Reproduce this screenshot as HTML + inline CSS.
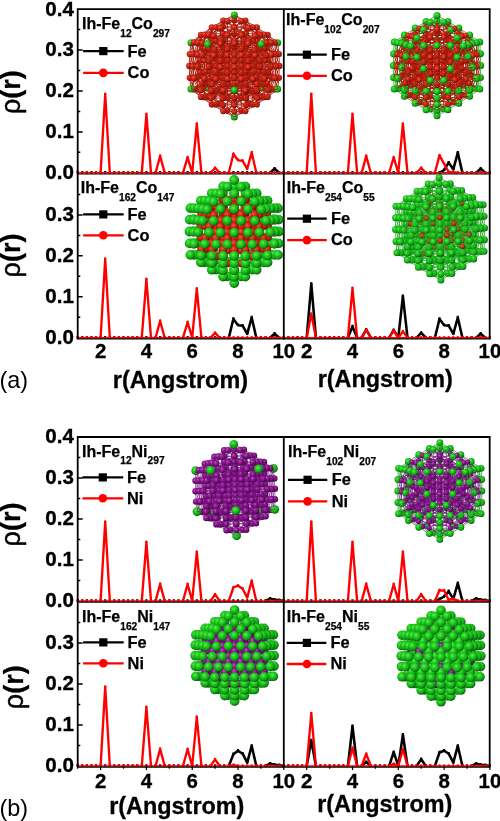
<!DOCTYPE html>
<html lang="en"><head><meta charset="utf-8"><title>Radial density of Ih Fe-Co and Fe-Ni nanoparticles</title>
<style>html,body{margin:0;padding:0;background:#fff}svg{display:block}</style></head>
<body>
<svg width="500" height="821" viewBox="0 0 500 821">
<rect width="500" height="821" fill="#fff"/>
<defs>
<radialGradient id="gG" cx="40%" cy="36%" r="64%"><stop offset="0" stop-color="#5cee54"/><stop offset=".4" stop-color="#20cb20"/><stop offset=".78" stop-color="#109a12"/><stop offset="1" stop-color="#06560a"/></radialGradient>
<radialGradient id="gR" cx="40%" cy="36%" r="64%"><stop offset="0" stop-color="#f4583a"/><stop offset=".4" stop-color="#d62c18"/><stop offset=".78" stop-color="#a5170c"/><stop offset="1" stop-color="#5c0a05"/></radialGradient>
<radialGradient id="gP" cx="40%" cy="36%" r="64%"><stop offset="0" stop-color="#c655c6"/><stop offset=".4" stop-color="#8f1a93"/><stop offset=".78" stop-color="#680c6e"/><stop offset="1" stop-color="#36033a"/></radialGradient>
</defs>
<g>
<path d="M76.6 171.1h2.2v2.6h-2.2zM81.2 171.1h2.2v2.6h-2.2zM85.8 171.1h2.2v2.6h-2.2zM90.3 171.1h2.2v2.6h-2.2zM94.9 171.1h2.2v2.6h-2.2zM99.5 171.1h2.2v2.6h-2.2zM104.1 171.1h2.2v2.6h-2.2zM108.7 171.1h2.2v2.6h-2.2zM113.2 171.1h2.2v2.6h-2.2zM117.8 171.1h2.2v2.6h-2.2zM122.4 171.1h2.2v2.6h-2.2zM127 171.1h2.2v2.6h-2.2zM131.6 171.1h2.2v2.6h-2.2zM136.1 171.1h2.2v2.6h-2.2zM140.7 171.1h2.2v2.6h-2.2zM145.3 171.1h2.2v2.6h-2.2zM149.9 171.1h2.2v2.6h-2.2zM154.5 171.1h2.2v2.6h-2.2zM159 171.1h2.2v2.6h-2.2zM163.6 171.1h2.2v2.6h-2.2zM168.2 171.1h2.2v2.6h-2.2zM172.8 171.1h2.2v2.6h-2.2zM177.4 171.1h2.2v2.6h-2.2zM181.9 171.1h2.2v2.6h-2.2zM186.5 171.1h2.2v2.6h-2.2zM191.1 171.1h2.2v2.6h-2.2zM195.7 171.1h2.2v2.6h-2.2zM200.3 171.1h2.2v2.6h-2.2zM204.8 171.1h2.2v2.6h-2.2zM209.4 171.1h2.2v2.6h-2.2zM214 171.1h2.2v2.6h-2.2zM218.6 171.1h2.2v2.6h-2.2zM223.2 171.1h2.2v2.6h-2.2zM227.7 171.1h2.2v2.6h-2.2zM232.3 171.1h2.2v2.6h-2.2zM236.9 171.1h2.2v2.6h-2.2zM241.5 171.1h2.2v2.6h-2.2zM246.1 171.1h2.2v2.6h-2.2zM250.6 171.1h2.2v2.6h-2.2zM255.2 171.1h2.2v2.6h-2.2zM259.8 171.1h2.2v2.6h-2.2zM264.4 171.1h2.2v2.6h-2.2zM269 171.1h2.2v2.6h-2.2zM273.5 167.1h2.2v2.6h-2.2zM278.1 171.1h2.2v2.6h-2.2zM282.7 171.1h2.2v2.6h-2.2z" fill="#000"/><path d="M270.1 172.8L274.6 168.8L279.2 172.8" fill="none" stroke="#000" stroke-width="2.55" stroke-linejoin="round"/>
<path d="M78.5 172.8H282.8" stroke="#f00" stroke-width="1.5"/><path d="M76.5 172.3a1.25 1.25 0 1 0 2.5 0a1.25 1.25 0 1 0 -2.5 0zM81 172.3a1.25 1.25 0 1 0 2.5 0a1.25 1.25 0 1 0 -2.5 0zM85.6 172.3a1.25 1.25 0 1 0 2.5 0a1.25 1.25 0 1 0 -2.5 0zM90.2 172.3a1.25 1.25 0 1 0 2.5 0a1.25 1.25 0 1 0 -2.5 0zM94.8 172.3a1.25 1.25 0 1 0 2.5 0a1.25 1.25 0 1 0 -2.5 0zM99.3 172.3a1.25 1.25 0 1 0 2.5 0a1.25 1.25 0 1 0 -2.5 0zM103.9 93.7a1.25 1.25 0 1 0 2.5 0a1.25 1.25 0 1 0 -2.5 0zM108.5 172.3a1.25 1.25 0 1 0 2.5 0a1.25 1.25 0 1 0 -2.5 0zM113.1 172.3a1.25 1.25 0 1 0 2.5 0a1.25 1.25 0 1 0 -2.5 0zM117.7 172.3a1.25 1.25 0 1 0 2.5 0a1.25 1.25 0 1 0 -2.5 0zM122.2 172.3a1.25 1.25 0 1 0 2.5 0a1.25 1.25 0 1 0 -2.5 0zM126.8 172.3a1.25 1.25 0 1 0 2.5 0a1.25 1.25 0 1 0 -2.5 0zM131.4 172.3a1.25 1.25 0 1 0 2.5 0a1.25 1.25 0 1 0 -2.5 0zM136 172.3a1.25 1.25 0 1 0 2.5 0a1.25 1.25 0 1 0 -2.5 0zM140.6 172.3a1.25 1.25 0 1 0 2.5 0a1.25 1.25 0 1 0 -2.5 0zM145.1 113.8a1.25 1.25 0 1 0 2.5 0a1.25 1.25 0 1 0 -2.5 0zM149.7 172.3a1.25 1.25 0 1 0 2.5 0a1.25 1.25 0 1 0 -2.5 0zM154.3 172.3a1.25 1.25 0 1 0 2.5 0a1.25 1.25 0 1 0 -2.5 0zM158.9 155.6a1.25 1.25 0 1 0 2.5 0a1.25 1.25 0 1 0 -2.5 0zM163.5 172.3a1.25 1.25 0 1 0 2.5 0a1.25 1.25 0 1 0 -2.5 0zM168.1 172.3a1.25 1.25 0 1 0 2.5 0a1.25 1.25 0 1 0 -2.5 0zM172.6 172.3a1.25 1.25 0 1 0 2.5 0a1.25 1.25 0 1 0 -2.5 0zM177.2 172.3a1.25 1.25 0 1 0 2.5 0a1.25 1.25 0 1 0 -2.5 0zM181.8 172.3a1.25 1.25 0 1 0 2.5 0a1.25 1.25 0 1 0 -2.5 0zM186.4 156.9a1.25 1.25 0 1 0 2.5 0a1.25 1.25 0 1 0 -2.5 0zM190.9 172.3a1.25 1.25 0 1 0 2.5 0a1.25 1.25 0 1 0 -2.5 0zM195.5 123.4a1.25 1.25 0 1 0 2.5 0a1.25 1.25 0 1 0 -2.5 0zM200.1 172.3a1.25 1.25 0 1 0 2.5 0a1.25 1.25 0 1 0 -2.5 0zM204.7 172.3a1.25 1.25 0 1 0 2.5 0a1.25 1.25 0 1 0 -2.5 0zM209.3 172.3a1.25 1.25 0 1 0 2.5 0a1.25 1.25 0 1 0 -2.5 0zM213.8 167.5a1.25 1.25 0 1 0 2.5 0a1.25 1.25 0 1 0 -2.5 0zM218.4 172.3a1.25 1.25 0 1 0 2.5 0a1.25 1.25 0 1 0 -2.5 0zM223 172.3a1.25 1.25 0 1 0 2.5 0a1.25 1.25 0 1 0 -2.5 0zM227.6 172.3a1.25 1.25 0 1 0 2.5 0a1.25 1.25 0 1 0 -2.5 0zM232.2 153.5a1.25 1.25 0 1 0 2.5 0a1.25 1.25 0 1 0 -2.5 0zM236.8 159.8a1.25 1.25 0 1 0 2.5 0a1.25 1.25 0 1 0 -2.5 0zM241.3 160.3a1.25 1.25 0 1 0 2.5 0a1.25 1.25 0 1 0 -2.5 0zM245.9 168.4a1.25 1.25 0 1 0 2.5 0a1.25 1.25 0 1 0 -2.5 0zM250.5 152.1a1.25 1.25 0 1 0 2.5 0a1.25 1.25 0 1 0 -2.5 0zM255.1 172.3a1.25 1.25 0 1 0 2.5 0a1.25 1.25 0 1 0 -2.5 0zM259.6 172.3a1.25 1.25 0 1 0 2.5 0a1.25 1.25 0 1 0 -2.5 0zM264.2 172.3a1.25 1.25 0 1 0 2.5 0a1.25 1.25 0 1 0 -2.5 0zM268.8 172.3a1.25 1.25 0 1 0 2.5 0a1.25 1.25 0 1 0 -2.5 0zM273.4 172.3a1.25 1.25 0 1 0 2.5 0a1.25 1.25 0 1 0 -2.5 0zM278 172.3a1.25 1.25 0 1 0 2.5 0a1.25 1.25 0 1 0 -2.5 0zM282.6 172.3a1.25 1.25 0 1 0 2.5 0a1.25 1.25 0 1 0 -2.5 0z" fill="#f00"/><path d="M100.6 172.8L105.2 94.2L109.8 172.8M141.8 172.8L146.4 114.3L151 172.8M155.6 172.8L160.1 156.1L164.7 172.8M183 172.8L187.6 157.4L192.2 172.8L196.8 123.9L201.4 172.8M210.5 172.8L215.1 168L219.7 172.8M228.8 172.8L233.4 154L238 160.3L242.6 160.8L247.2 168.9L251.7 152.6L256.3 172.8" fill="none" stroke="#f00" stroke-width="2.35" stroke-linejoin="round"/>
</g>
<g>
<path d="M282.7 171.1h2.2v2.6h-2.2zM287.3 171.1h2.2v2.6h-2.2zM291.9 171.1h2.2v2.6h-2.2zM296.4 171.1h2.2v2.6h-2.2zM301 171.1h2.2v2.6h-2.2zM305.6 171.1h2.2v2.6h-2.2zM310.2 171.1h2.2v2.6h-2.2zM314.8 171.1h2.2v2.6h-2.2zM319.3 171.1h2.2v2.6h-2.2zM323.9 171.1h2.2v2.6h-2.2zM328.5 171.1h2.2v2.6h-2.2zM333.1 171.1h2.2v2.6h-2.2zM337.7 171.1h2.2v2.6h-2.2zM342.2 171.1h2.2v2.6h-2.2zM346.8 171.1h2.2v2.6h-2.2zM351.4 171.1h2.2v2.6h-2.2zM356 171.1h2.2v2.6h-2.2zM360.6 171.1h2.2v2.6h-2.2zM365.1 171.1h2.2v2.6h-2.2zM369.7 171.1h2.2v2.6h-2.2zM374.3 171.1h2.2v2.6h-2.2zM378.9 171.1h2.2v2.6h-2.2zM383.5 171.1h2.2v2.6h-2.2zM388 171.1h2.2v2.6h-2.2zM392.6 171.1h2.2v2.6h-2.2zM397.2 171.1h2.2v2.6h-2.2zM401.8 171.1h2.2v2.6h-2.2zM406.4 171.1h2.2v2.6h-2.2zM410.9 171.1h2.2v2.6h-2.2zM415.5 171.1h2.2v2.6h-2.2zM420.1 171.1h2.2v2.6h-2.2zM424.7 171.1h2.2v2.6h-2.2zM429.3 171.1h2.2v2.6h-2.2zM433.8 171.1h2.2v2.6h-2.2zM438.4 171.1h2.2v2.6h-2.2zM443 168.5h2.2v2.6h-2.2zM447.6 160.9h2.2v2.6h-2.2zM452.2 167.6h2.2v2.6h-2.2zM456.7 150.9h2.2v2.6h-2.2zM461.3 171.1h2.2v2.6h-2.2zM465.9 171.1h2.2v2.6h-2.2zM470.5 171.1h2.2v2.6h-2.2zM475.1 171.1h2.2v2.6h-2.2zM479.6 167.1h2.2v2.6h-2.2zM484.2 171.1h2.2v2.6h-2.2zM488.8 171.1h2.2v2.6h-2.2z" fill="#000"/><path d="M439.5 172.8L444.1 170.2L448.7 162.6L453.3 169.3L457.8 152.6L462.4 172.8M476.2 172.8L480.7 168.8L485.3 172.8" fill="none" stroke="#000" stroke-width="2.55" stroke-linejoin="round"/>
<path d="M284.6 172.8H488.9" stroke="#f00" stroke-width="1.5"/><path d="M282.6 172.3a1.25 1.25 0 1 0 2.5 0a1.25 1.25 0 1 0 -2.5 0zM287.1 172.3a1.25 1.25 0 1 0 2.5 0a1.25 1.25 0 1 0 -2.5 0zM291.7 172.3a1.25 1.25 0 1 0 2.5 0a1.25 1.25 0 1 0 -2.5 0zM296.3 172.3a1.25 1.25 0 1 0 2.5 0a1.25 1.25 0 1 0 -2.5 0zM300.9 172.3a1.25 1.25 0 1 0 2.5 0a1.25 1.25 0 1 0 -2.5 0zM305.4 172.3a1.25 1.25 0 1 0 2.5 0a1.25 1.25 0 1 0 -2.5 0zM310 93.7a1.25 1.25 0 1 0 2.5 0a1.25 1.25 0 1 0 -2.5 0zM314.6 172.3a1.25 1.25 0 1 0 2.5 0a1.25 1.25 0 1 0 -2.5 0zM319.2 172.3a1.25 1.25 0 1 0 2.5 0a1.25 1.25 0 1 0 -2.5 0zM323.8 172.3a1.25 1.25 0 1 0 2.5 0a1.25 1.25 0 1 0 -2.5 0zM328.4 172.3a1.25 1.25 0 1 0 2.5 0a1.25 1.25 0 1 0 -2.5 0zM332.9 172.3a1.25 1.25 0 1 0 2.5 0a1.25 1.25 0 1 0 -2.5 0zM337.5 172.3a1.25 1.25 0 1 0 2.5 0a1.25 1.25 0 1 0 -2.5 0zM342.1 172.3a1.25 1.25 0 1 0 2.5 0a1.25 1.25 0 1 0 -2.5 0zM346.7 172.3a1.25 1.25 0 1 0 2.5 0a1.25 1.25 0 1 0 -2.5 0zM351.2 113.8a1.25 1.25 0 1 0 2.5 0a1.25 1.25 0 1 0 -2.5 0zM355.8 172.3a1.25 1.25 0 1 0 2.5 0a1.25 1.25 0 1 0 -2.5 0zM360.4 172.3a1.25 1.25 0 1 0 2.5 0a1.25 1.25 0 1 0 -2.5 0zM365 155.6a1.25 1.25 0 1 0 2.5 0a1.25 1.25 0 1 0 -2.5 0zM369.6 172.3a1.25 1.25 0 1 0 2.5 0a1.25 1.25 0 1 0 -2.5 0zM374.1 172.3a1.25 1.25 0 1 0 2.5 0a1.25 1.25 0 1 0 -2.5 0zM378.7 172.3a1.25 1.25 0 1 0 2.5 0a1.25 1.25 0 1 0 -2.5 0zM383.3 172.3a1.25 1.25 0 1 0 2.5 0a1.25 1.25 0 1 0 -2.5 0zM387.9 172.3a1.25 1.25 0 1 0 2.5 0a1.25 1.25 0 1 0 -2.5 0zM392.5 156.9a1.25 1.25 0 1 0 2.5 0a1.25 1.25 0 1 0 -2.5 0zM397.1 172.3a1.25 1.25 0 1 0 2.5 0a1.25 1.25 0 1 0 -2.5 0zM401.6 123.4a1.25 1.25 0 1 0 2.5 0a1.25 1.25 0 1 0 -2.5 0zM406.2 172.3a1.25 1.25 0 1 0 2.5 0a1.25 1.25 0 1 0 -2.5 0zM410.8 172.3a1.25 1.25 0 1 0 2.5 0a1.25 1.25 0 1 0 -2.5 0zM415.4 172.3a1.25 1.25 0 1 0 2.5 0a1.25 1.25 0 1 0 -2.5 0zM419.9 167.5a1.25 1.25 0 1 0 2.5 0a1.25 1.25 0 1 0 -2.5 0zM424.5 172.3a1.25 1.25 0 1 0 2.5 0a1.25 1.25 0 1 0 -2.5 0zM429.1 172.3a1.25 1.25 0 1 0 2.5 0a1.25 1.25 0 1 0 -2.5 0zM433.7 172.3a1.25 1.25 0 1 0 2.5 0a1.25 1.25 0 1 0 -2.5 0zM438.3 154.9a1.25 1.25 0 1 0 2.5 0a1.25 1.25 0 1 0 -2.5 0zM442.9 163.4a1.25 1.25 0 1 0 2.5 0a1.25 1.25 0 1 0 -2.5 0zM447.4 171.5a1.25 1.25 0 1 0 2.5 0a1.25 1.25 0 1 0 -2.5 0zM452 171.7a1.25 1.25 0 1 0 2.5 0a1.25 1.25 0 1 0 -2.5 0zM456.6 172.3a1.25 1.25 0 1 0 2.5 0a1.25 1.25 0 1 0 -2.5 0zM461.2 172.3a1.25 1.25 0 1 0 2.5 0a1.25 1.25 0 1 0 -2.5 0zM465.8 172.3a1.25 1.25 0 1 0 2.5 0a1.25 1.25 0 1 0 -2.5 0zM470.3 172.3a1.25 1.25 0 1 0 2.5 0a1.25 1.25 0 1 0 -2.5 0zM474.9 172.3a1.25 1.25 0 1 0 2.5 0a1.25 1.25 0 1 0 -2.5 0zM479.5 172.3a1.25 1.25 0 1 0 2.5 0a1.25 1.25 0 1 0 -2.5 0zM484.1 172.3a1.25 1.25 0 1 0 2.5 0a1.25 1.25 0 1 0 -2.5 0zM488.6 172.3a1.25 1.25 0 1 0 2.5 0a1.25 1.25 0 1 0 -2.5 0z" fill="#f00"/><path d="M306.7 172.8L311.3 94.2L315.9 172.8M347.9 172.8L352.5 114.3L357.1 172.8M361.7 172.8L366.2 156.1L370.8 172.8M389.1 172.8L393.7 157.4L398.3 172.8L402.9 123.9L407.5 172.8M416.6 172.8L421.2 168L425.8 172.8M434.9 172.8L439.5 155.4L444.1 163.9L448.7 172L453.3 172.2L457.8 172.8" fill="none" stroke="#f00" stroke-width="2.35" stroke-linejoin="round"/>
</g>
<g>
<path d="M76.6 336h2.2v2.6h-2.2zM81.2 336h2.2v2.6h-2.2zM85.8 336h2.2v2.6h-2.2zM90.3 336h2.2v2.6h-2.2zM94.9 336h2.2v2.6h-2.2zM99.5 336h2.2v2.6h-2.2zM104.1 336h2.2v2.6h-2.2zM108.7 336h2.2v2.6h-2.2zM113.2 336h2.2v2.6h-2.2zM117.8 336h2.2v2.6h-2.2zM122.4 336h2.2v2.6h-2.2zM127 336h2.2v2.6h-2.2zM131.6 336h2.2v2.6h-2.2zM136.1 336h2.2v2.6h-2.2zM140.7 336h2.2v2.6h-2.2zM145.3 336h2.2v2.6h-2.2zM149.9 336h2.2v2.6h-2.2zM154.5 336h2.2v2.6h-2.2zM159 336h2.2v2.6h-2.2zM163.6 336h2.2v2.6h-2.2zM168.2 336h2.2v2.6h-2.2zM172.8 336h2.2v2.6h-2.2zM177.4 336h2.2v2.6h-2.2zM181.9 336h2.2v2.6h-2.2zM186.5 336h2.2v2.6h-2.2zM191.1 336h2.2v2.6h-2.2zM195.7 336h2.2v2.6h-2.2zM200.3 336h2.2v2.6h-2.2zM204.8 336h2.2v2.6h-2.2zM209.4 336h2.2v2.6h-2.2zM214 336h2.2v2.6h-2.2zM218.6 336h2.2v2.6h-2.2zM223.2 336h2.2v2.6h-2.2zM227.7 336h2.2v2.6h-2.2zM232.3 317.2h2.2v2.6h-2.2zM236.9 323.5h2.2v2.6h-2.2zM241.5 324h2.2v2.6h-2.2zM246.1 332.1h2.2v2.6h-2.2zM250.6 315.8h2.2v2.6h-2.2zM255.2 336h2.2v2.6h-2.2zM259.8 336h2.2v2.6h-2.2zM264.4 336h2.2v2.6h-2.2zM269 336h2.2v2.6h-2.2zM273.5 332h2.2v2.6h-2.2zM278.1 336h2.2v2.6h-2.2zM282.7 336h2.2v2.6h-2.2z" fill="#000"/><path d="M228.8 337.7L233.4 318.9L238 325.2L242.6 325.7L247.2 333.8L251.7 317.5L256.3 337.7M270.1 337.7L274.6 333.7L279.2 337.7" fill="none" stroke="#000" stroke-width="2.55" stroke-linejoin="round"/>
<path d="M78.5 337.7H282.8" stroke="#f00" stroke-width="1.5"/><path d="M76.5 337.2a1.25 1.25 0 1 0 2.5 0a1.25 1.25 0 1 0 -2.5 0zM81 337.2a1.25 1.25 0 1 0 2.5 0a1.25 1.25 0 1 0 -2.5 0zM85.6 337.2a1.25 1.25 0 1 0 2.5 0a1.25 1.25 0 1 0 -2.5 0zM90.2 337.2a1.25 1.25 0 1 0 2.5 0a1.25 1.25 0 1 0 -2.5 0zM94.8 337.2a1.25 1.25 0 1 0 2.5 0a1.25 1.25 0 1 0 -2.5 0zM99.3 337.2a1.25 1.25 0 1 0 2.5 0a1.25 1.25 0 1 0 -2.5 0zM103.9 258.6a1.25 1.25 0 1 0 2.5 0a1.25 1.25 0 1 0 -2.5 0zM108.5 337.2a1.25 1.25 0 1 0 2.5 0a1.25 1.25 0 1 0 -2.5 0zM113.1 337.2a1.25 1.25 0 1 0 2.5 0a1.25 1.25 0 1 0 -2.5 0zM117.7 337.2a1.25 1.25 0 1 0 2.5 0a1.25 1.25 0 1 0 -2.5 0zM122.2 337.2a1.25 1.25 0 1 0 2.5 0a1.25 1.25 0 1 0 -2.5 0zM126.8 337.2a1.25 1.25 0 1 0 2.5 0a1.25 1.25 0 1 0 -2.5 0zM131.4 337.2a1.25 1.25 0 1 0 2.5 0a1.25 1.25 0 1 0 -2.5 0zM136 337.2a1.25 1.25 0 1 0 2.5 0a1.25 1.25 0 1 0 -2.5 0zM140.6 337.2a1.25 1.25 0 1 0 2.5 0a1.25 1.25 0 1 0 -2.5 0zM145.1 278.7a1.25 1.25 0 1 0 2.5 0a1.25 1.25 0 1 0 -2.5 0zM149.7 337.2a1.25 1.25 0 1 0 2.5 0a1.25 1.25 0 1 0 -2.5 0zM154.3 337.2a1.25 1.25 0 1 0 2.5 0a1.25 1.25 0 1 0 -2.5 0zM158.9 320.5a1.25 1.25 0 1 0 2.5 0a1.25 1.25 0 1 0 -2.5 0zM163.5 337.2a1.25 1.25 0 1 0 2.5 0a1.25 1.25 0 1 0 -2.5 0zM168.1 337.2a1.25 1.25 0 1 0 2.5 0a1.25 1.25 0 1 0 -2.5 0zM172.6 337.2a1.25 1.25 0 1 0 2.5 0a1.25 1.25 0 1 0 -2.5 0zM177.2 337.2a1.25 1.25 0 1 0 2.5 0a1.25 1.25 0 1 0 -2.5 0zM181.8 337.2a1.25 1.25 0 1 0 2.5 0a1.25 1.25 0 1 0 -2.5 0zM186.4 321.8a1.25 1.25 0 1 0 2.5 0a1.25 1.25 0 1 0 -2.5 0zM190.9 337.2a1.25 1.25 0 1 0 2.5 0a1.25 1.25 0 1 0 -2.5 0zM195.5 288.3a1.25 1.25 0 1 0 2.5 0a1.25 1.25 0 1 0 -2.5 0zM200.1 337.2a1.25 1.25 0 1 0 2.5 0a1.25 1.25 0 1 0 -2.5 0zM204.7 337.2a1.25 1.25 0 1 0 2.5 0a1.25 1.25 0 1 0 -2.5 0zM209.3 337.2a1.25 1.25 0 1 0 2.5 0a1.25 1.25 0 1 0 -2.5 0zM213.8 332.4a1.25 1.25 0 1 0 2.5 0a1.25 1.25 0 1 0 -2.5 0zM218.4 337.2a1.25 1.25 0 1 0 2.5 0a1.25 1.25 0 1 0 -2.5 0zM223 337.2a1.25 1.25 0 1 0 2.5 0a1.25 1.25 0 1 0 -2.5 0zM227.6 337.2a1.25 1.25 0 1 0 2.5 0a1.25 1.25 0 1 0 -2.5 0zM232.2 337.2a1.25 1.25 0 1 0 2.5 0a1.25 1.25 0 1 0 -2.5 0zM236.8 337.2a1.25 1.25 0 1 0 2.5 0a1.25 1.25 0 1 0 -2.5 0zM241.3 337.2a1.25 1.25 0 1 0 2.5 0a1.25 1.25 0 1 0 -2.5 0zM245.9 337.2a1.25 1.25 0 1 0 2.5 0a1.25 1.25 0 1 0 -2.5 0zM250.5 337.2a1.25 1.25 0 1 0 2.5 0a1.25 1.25 0 1 0 -2.5 0zM255.1 337.2a1.25 1.25 0 1 0 2.5 0a1.25 1.25 0 1 0 -2.5 0zM259.6 337.2a1.25 1.25 0 1 0 2.5 0a1.25 1.25 0 1 0 -2.5 0zM264.2 337.2a1.25 1.25 0 1 0 2.5 0a1.25 1.25 0 1 0 -2.5 0zM268.8 337.2a1.25 1.25 0 1 0 2.5 0a1.25 1.25 0 1 0 -2.5 0zM273.4 337.2a1.25 1.25 0 1 0 2.5 0a1.25 1.25 0 1 0 -2.5 0zM278 337.2a1.25 1.25 0 1 0 2.5 0a1.25 1.25 0 1 0 -2.5 0zM282.6 337.2a1.25 1.25 0 1 0 2.5 0a1.25 1.25 0 1 0 -2.5 0z" fill="#f00"/><path d="M100.6 337.7L105.2 259.1L109.8 337.7M141.8 337.7L146.4 279.2L151 337.7M155.6 337.7L160.1 321L164.7 337.7M183 337.7L187.6 322.3L192.2 337.7L196.8 288.8L201.4 337.7M210.5 337.7L215.1 332.9L219.7 337.7" fill="none" stroke="#f00" stroke-width="2.35" stroke-linejoin="round"/>
</g>
<g>
<path d="M282.7 336h2.2v2.6h-2.2zM287.3 336h2.2v2.6h-2.2zM291.9 336h2.2v2.6h-2.2zM296.4 336h2.2v2.6h-2.2zM301 336h2.2v2.6h-2.2zM305.6 336h2.2v2.6h-2.2zM310.2 282.2h2.2v2.6h-2.2zM314.8 336h2.2v2.6h-2.2zM319.3 336h2.2v2.6h-2.2zM323.9 336h2.2v2.6h-2.2zM328.5 336h2.2v2.6h-2.2zM333.1 336h2.2v2.6h-2.2zM337.7 336h2.2v2.6h-2.2zM342.2 336h2.2v2.6h-2.2zM346.8 336h2.2v2.6h-2.2zM351.4 324.8h2.2v2.6h-2.2zM356 336h2.2v2.6h-2.2zM360.6 336h2.2v2.6h-2.2zM365.1 328h2.2v2.6h-2.2zM369.7 336h2.2v2.6h-2.2zM374.3 336h2.2v2.6h-2.2zM378.9 336h2.2v2.6h-2.2zM383.5 336h2.2v2.6h-2.2zM388 336h2.2v2.6h-2.2zM392.6 328.5h2.2v2.6h-2.2zM397.2 336h2.2v2.6h-2.2zM401.8 294.4h2.2v2.6h-2.2zM406.4 336h2.2v2.6h-2.2zM410.9 336h2.2v2.6h-2.2zM415.5 336h2.2v2.6h-2.2zM420.1 331.2h2.2v2.6h-2.2zM424.7 336h2.2v2.6h-2.2zM429.3 336h2.2v2.6h-2.2zM433.8 336h2.2v2.6h-2.2zM438.4 317.2h2.2v2.6h-2.2zM443 323.5h2.2v2.6h-2.2zM447.6 324h2.2v2.6h-2.2zM452.2 332.1h2.2v2.6h-2.2zM456.7 315.8h2.2v2.6h-2.2zM461.3 336h2.2v2.6h-2.2zM465.9 336h2.2v2.6h-2.2zM470.5 336h2.2v2.6h-2.2zM475.1 336h2.2v2.6h-2.2zM479.6 332h2.2v2.6h-2.2zM484.2 336h2.2v2.6h-2.2zM488.8 336h2.2v2.6h-2.2z" fill="#000"/><path d="M306.7 337.7L311.3 283.9L315.9 337.7M347.9 337.7L352.5 326.5L357.1 337.7M361.7 337.7L366.2 329.7L370.8 337.7M389.1 337.7L393.7 330.2L398.3 337.7L402.9 296.1L407.5 337.7M416.6 337.7L421.2 332.9L425.8 337.7M434.9 337.7L439.5 318.9L444.1 325.2L448.7 325.7L453.3 333.8L457.8 317.5L462.4 337.7M476.2 337.7L480.7 333.7L485.3 337.7" fill="none" stroke="#000" stroke-width="2.55" stroke-linejoin="round"/>
<path d="M284.6 337.7H488.9" stroke="#f00" stroke-width="1.5"/><path d="M282.6 337.2a1.25 1.25 0 1 0 2.5 0a1.25 1.25 0 1 0 -2.5 0zM287.1 337.2a1.25 1.25 0 1 0 2.5 0a1.25 1.25 0 1 0 -2.5 0zM291.7 337.2a1.25 1.25 0 1 0 2.5 0a1.25 1.25 0 1 0 -2.5 0zM296.3 337.2a1.25 1.25 0 1 0 2.5 0a1.25 1.25 0 1 0 -2.5 0zM300.9 337.2a1.25 1.25 0 1 0 2.5 0a1.25 1.25 0 1 0 -2.5 0zM305.4 337.2a1.25 1.25 0 1 0 2.5 0a1.25 1.25 0 1 0 -2.5 0zM310 313.4a1.25 1.25 0 1 0 2.5 0a1.25 1.25 0 1 0 -2.5 0zM314.6 337.2a1.25 1.25 0 1 0 2.5 0a1.25 1.25 0 1 0 -2.5 0zM319.2 337.2a1.25 1.25 0 1 0 2.5 0a1.25 1.25 0 1 0 -2.5 0zM323.8 337.2a1.25 1.25 0 1 0 2.5 0a1.25 1.25 0 1 0 -2.5 0zM328.4 337.2a1.25 1.25 0 1 0 2.5 0a1.25 1.25 0 1 0 -2.5 0zM332.9 337.2a1.25 1.25 0 1 0 2.5 0a1.25 1.25 0 1 0 -2.5 0zM337.5 337.2a1.25 1.25 0 1 0 2.5 0a1.25 1.25 0 1 0 -2.5 0zM342.1 337.2a1.25 1.25 0 1 0 2.5 0a1.25 1.25 0 1 0 -2.5 0zM346.7 337.2a1.25 1.25 0 1 0 2.5 0a1.25 1.25 0 1 0 -2.5 0zM351.2 287.8a1.25 1.25 0 1 0 2.5 0a1.25 1.25 0 1 0 -2.5 0zM355.8 337.2a1.25 1.25 0 1 0 2.5 0a1.25 1.25 0 1 0 -2.5 0zM360.4 337.2a1.25 1.25 0 1 0 2.5 0a1.25 1.25 0 1 0 -2.5 0zM365 329.5a1.25 1.25 0 1 0 2.5 0a1.25 1.25 0 1 0 -2.5 0zM369.6 337.2a1.25 1.25 0 1 0 2.5 0a1.25 1.25 0 1 0 -2.5 0zM374.1 337.2a1.25 1.25 0 1 0 2.5 0a1.25 1.25 0 1 0 -2.5 0zM378.7 337.2a1.25 1.25 0 1 0 2.5 0a1.25 1.25 0 1 0 -2.5 0zM383.3 337.2a1.25 1.25 0 1 0 2.5 0a1.25 1.25 0 1 0 -2.5 0zM387.9 337.2a1.25 1.25 0 1 0 2.5 0a1.25 1.25 0 1 0 -2.5 0zM392.5 330.3a1.25 1.25 0 1 0 2.5 0a1.25 1.25 0 1 0 -2.5 0zM397.1 337.2a1.25 1.25 0 1 0 2.5 0a1.25 1.25 0 1 0 -2.5 0zM401.6 330.9a1.25 1.25 0 1 0 2.5 0a1.25 1.25 0 1 0 -2.5 0zM406.2 337.2a1.25 1.25 0 1 0 2.5 0a1.25 1.25 0 1 0 -2.5 0zM410.8 337.2a1.25 1.25 0 1 0 2.5 0a1.25 1.25 0 1 0 -2.5 0zM415.4 337.2a1.25 1.25 0 1 0 2.5 0a1.25 1.25 0 1 0 -2.5 0zM419.9 337.2a1.25 1.25 0 1 0 2.5 0a1.25 1.25 0 1 0 -2.5 0zM424.5 337.2a1.25 1.25 0 1 0 2.5 0a1.25 1.25 0 1 0 -2.5 0zM429.1 337.2a1.25 1.25 0 1 0 2.5 0a1.25 1.25 0 1 0 -2.5 0zM433.7 337.2a1.25 1.25 0 1 0 2.5 0a1.25 1.25 0 1 0 -2.5 0zM438.3 337.2a1.25 1.25 0 1 0 2.5 0a1.25 1.25 0 1 0 -2.5 0zM442.9 337.2a1.25 1.25 0 1 0 2.5 0a1.25 1.25 0 1 0 -2.5 0zM447.4 337.2a1.25 1.25 0 1 0 2.5 0a1.25 1.25 0 1 0 -2.5 0zM452 337.2a1.25 1.25 0 1 0 2.5 0a1.25 1.25 0 1 0 -2.5 0zM456.6 337.2a1.25 1.25 0 1 0 2.5 0a1.25 1.25 0 1 0 -2.5 0zM461.2 337.2a1.25 1.25 0 1 0 2.5 0a1.25 1.25 0 1 0 -2.5 0zM465.8 337.2a1.25 1.25 0 1 0 2.5 0a1.25 1.25 0 1 0 -2.5 0zM470.3 337.2a1.25 1.25 0 1 0 2.5 0a1.25 1.25 0 1 0 -2.5 0zM474.9 337.2a1.25 1.25 0 1 0 2.5 0a1.25 1.25 0 1 0 -2.5 0zM479.5 337.2a1.25 1.25 0 1 0 2.5 0a1.25 1.25 0 1 0 -2.5 0zM484.1 337.2a1.25 1.25 0 1 0 2.5 0a1.25 1.25 0 1 0 -2.5 0zM488.6 337.2a1.25 1.25 0 1 0 2.5 0a1.25 1.25 0 1 0 -2.5 0z" fill="#f00"/><path d="M306.7 337.7L311.3 313.9L315.9 337.7M347.9 337.7L352.5 288.3L357.1 337.7M361.7 337.7L366.2 330L370.8 337.7M389.1 337.7L393.7 330.8L398.3 337.7L402.9 331.4L407.5 337.7" fill="none" stroke="#f00" stroke-width="2.35" stroke-linejoin="round"/>
</g>
<g stroke="#000" stroke-width="1.8" fill="none">
<path d="M77.7 339.4V9.1H489.7V339.4"/>
<path d="M77.7 338.9H489.7" stroke-width="1.2"/>
<path d="M283.8 9.1V339.4"/>
</g>
<path d="M77.7 174H489.7" stroke="#000" stroke-width="1.2"/>
<path d="M77.7 152.3h2.6M77.7 131.9h5M77.7 111.4h2.6M77.7 91h5M77.7 70.5h2.6M77.7 50h5M77.7 29.6h2.6M77.7 317.2h2.6M77.7 296.8h5M77.7 276.3h2.6M77.7 255.8h5M77.7 235.4h2.6M77.7 214.9h5M77.7 194.5h2.6" stroke="#000" stroke-width="1.5"/>
<g font-family="Liberation Sans, Arial, Helvetica, sans-serif" font-weight="bold" font-size="20.6" text-anchor="end" fill="#000" stroke="#000" stroke-width=".35">
<text x="73.9" y="15.5">0.4</text>
<text x="73.9" y="56.4">0.3</text>
<text x="73.9" y="97.4">0.2</text>
<text x="73.9" y="138.3">0.1</text>
<text x="73.9" y="179.2">0.0</text>
<text x="73.9" y="221.3">0.3</text>
<text x="73.9" y="262.2">0.2</text>
<text x="73.9" y="303.2">0.1</text>
<text x="73.9" y="344.1">0.0</text>
</g>
<g font-family="Liberation Sans, Arial, Helvetica, sans-serif" font-weight="bold" font-size="20.4" text-anchor="middle" fill="#000" stroke="#000" stroke-width=".35">
<text x="100.6" y="358.3">2</text>
<text x="146.4" y="358.3">4</text>
<text x="192.2" y="358.3">6</text>
<text x="238" y="358.3">8</text>
<text x="283.8" y="358.3">10</text>
<text x="306.7" y="358.3">2</text>
<text x="352.5" y="358.3">4</text>
<text x="398.3" y="358.3">6</text>
<text x="444.1" y="358.3">8</text>
<text x="489.9" y="358.3">10</text>
</g>
<g font-family="Liberation Sans, Arial, Helvetica, sans-serif" font-weight="bold" font-size="23.4" text-anchor="middle" fill="#000" stroke="#000" stroke-width=".3">
<text x="180.4" y="388.3">r(Angstrom)</text>
<text x="385.2" y="387.4">r(Angstrom)</text>
<text transform="translate(20 92.2) rotate(-90)" font-size="27"><tspan font-weight="normal" font-size="27" stroke-width=".5">ρ</tspan>(r)</text>
<text transform="translate(20 255.5) rotate(-90)" font-size="27"><tspan font-weight="normal" font-size="27" stroke-width=".5">ρ</tspan>(r)</text>
</g>
<text x="-0.6" y="388.3" font-family="Liberation Sans, Arial, Helvetica, sans-serif" font-size="23.4" fill="#000">(a)</text>
<g font-family="Liberation Sans, Arial, Helvetica, sans-serif" font-weight="bold" fill="#000" stroke="#000" stroke-width=".25">
<text x="82" y="29" font-size="16.0">Ih-Fe<tspan font-size="10.2" dy="7.9">12</tspan><tspan dy="-7.9">Co</tspan><tspan font-size="10.2" dy="7.9">297</tspan></text>
<path d="M83.1 51.1H123.7" stroke="#000" stroke-width="2.3"/>
<rect x="99.2" y="47" width="8.2" height="8.2" stroke="none"/>
<path d="M83.1 72.9H123.7" stroke="#f00" stroke-width="2.3"/>
<circle cx="103.3" cy="72.9" r="4.3" fill="#f00" stroke="none"/>
<text x="127.6" y="56.6" font-size="16.4">Fe</text>
<text x="127.6" y="78.2" font-size="16.4">Co</text>
</g>
<g><path d="M241.2 52.9L234.3 41.8M227.4 52.9L234.3 41.8M234.3 64.7L241.2 52.9M234.3 64.7L227.4 52.9M227.2 76.7L234.3 64.7M241.4 76.7L234.3 64.7M255 76.5L248.2 64.7M234.3 88.5L227.2 76.7M234.3 88.5L241.4 76.7M220.5 88.3L213.6 76.5M220.5 88.3L234.3 88.5M220.5 88.3L227.2 76.7M248.1 88.3L255 76.5M248.1 88.3L234.3 88.5M223.2 41.4L234.3 41.8M245.4 41.4L234.3 41.8M261.1 87.7L248.1 88.3M207.5 87.7L220.5 88.3M215.8 52.9L223.2 41.4M252.8 52.9L245.4 41.4" stroke="#a81b0c" stroke-width=".9" fill="none"/><circle cx="234.3" cy="41.8" r="3.5" fill="url(#gG)"/><circle cx="241.2" cy="52.9" r="3.1" fill="url(#gR)"/><circle cx="227.4" cy="52.9" r="3.1" fill="url(#gR)"/><circle cx="234.3" cy="64.7" r="3.1" fill="url(#gR)"/><circle cx="220.4" cy="64.7" r="3.1" fill="url(#gR)"/><circle cx="248.2" cy="64.7" r="3.1" fill="url(#gR)"/><circle cx="227.2" cy="76.7" r="3.1" fill="url(#gR)"/><circle cx="241.4" cy="76.7" r="3.1" fill="url(#gR)"/><circle cx="213.6" cy="76.5" r="3.1" fill="url(#gR)"/><circle cx="255" cy="76.5" r="3.1" fill="url(#gR)"/><circle cx="234.3" cy="88.5" r="3.1" fill="url(#gR)"/><circle cx="220.5" cy="88.3" r="3.1" fill="url(#gR)"/><circle cx="248.1" cy="88.3" r="3.1" fill="url(#gR)"/><circle cx="223.2" cy="41.4" r="3.1" fill="url(#gR)"/><circle cx="245.4" cy="41.4" r="3.1" fill="url(#gR)"/><circle cx="261.1" cy="87.7" r="3.5" fill="url(#gG)"/><circle cx="207.5" cy="87.7" r="3.5" fill="url(#gG)"/><circle cx="215.8" cy="52.9" r="3.1" fill="url(#gR)"/><circle cx="252.8" cy="52.9" r="3.1" fill="url(#gR)"/><path d="M208.8 64.9L213.6 76.5M208.8 64.9L215.8 52.9M259.8 64.9L255 76.5M259.8 64.9L252.8 52.9M234.3 34.3L223.2 41.4M234.3 34.3L245.4 41.4M234.3 47.8L223.2 41.4M234.3 47.8L245.4 41.4M234.3 47.8L241.2 52.9M234.3 47.8L227.4 52.9M241.2 59.1L234.3 47.8M241.2 59.1L234.3 64.7M227.4 59.1L234.3 47.8M227.4 59.1L234.3 64.7M266.1 76.7L255 76.5M202.5 76.7L213.6 76.5M234.3 71L241.2 59.1M234.3 71L227.4 59.1M234.3 71L227.2 76.7M234.3 71L241.4 76.7M220.4 70.9L227.4 59.1M248.2 70.9L241.2 59.1M211.8 41.3L215.8 52.9M227.2 96.5L234.3 88.5M227.2 96.5L220.5 88.3M241.4 96.5L248.1 88.3M241.4 96.5L234.3 88.5M213.6 95.8L227.2 96.5M255 95.8L241.4 96.5M227.4 82.8L234.3 71M227.4 82.8L234.3 88.5M227.4 82.8L227.2 96.5M241.2 82.8L234.3 71M241.2 82.8L234.3 88.5M241.2 82.8L241.4 96.5M264.2 53.1L252.8 52.9M204.4 53.1L215.8 52.9M214.2 82.2L220.4 70.9M214.2 82.2L227.4 82.8M214.2 82.2L202.5 76.7M214.2 82.2L213.6 95.8M214.2 82.2L220.5 88.3M254.4 82.2L248.2 70.9M254.4 82.2L241.2 82.8M254.4 82.2L266.1 76.7M254.4 82.2L255 95.8M254.4 82.2L248.1 88.3" stroke="#a81b0c" stroke-width=".9" fill="none"/><circle cx="208.8" cy="64.9" r="3.1" fill="url(#gR)"/><circle cx="259.8" cy="64.9" r="3.1" fill="url(#gR)"/><circle cx="234.3" cy="34.3" r="3.1" fill="url(#gR)"/><circle cx="234.3" cy="47.8" r="3.1" fill="url(#gR)"/><circle cx="241.2" cy="59.1" r="3.1" fill="url(#gR)"/><circle cx="227.4" cy="59.1" r="3.1" fill="url(#gR)"/><circle cx="266.1" cy="76.7" r="3.1" fill="url(#gR)"/><circle cx="202.5" cy="76.7" r="3.1" fill="url(#gR)"/><circle cx="234.3" cy="71" r="3.1" fill="url(#gR)"/><circle cx="220.4" cy="70.9" r="3.1" fill="url(#gR)"/><circle cx="248.2" cy="70.9" r="3.1" fill="url(#gR)"/><circle cx="211.8" cy="41.3" r="3.1" fill="url(#gR)"/><circle cx="256.8" cy="41.3" r="3.1" fill="url(#gR)"/><circle cx="227.2" cy="96.5" r="3.1" fill="url(#gR)"/><circle cx="241.4" cy="96.5" r="3.1" fill="url(#gR)"/><circle cx="213.6" cy="95.8" r="3.1" fill="url(#gR)"/><circle cx="255" cy="95.8" r="3.1" fill="url(#gR)"/><circle cx="227.4" cy="82.8" r="3.1" fill="url(#gR)"/><circle cx="241.2" cy="82.8" r="3.1" fill="url(#gR)"/><circle cx="264.2" cy="53.1" r="3.1" fill="url(#gR)"/><circle cx="204.4" cy="53.1" r="3.1" fill="url(#gR)"/><circle cx="214.2" cy="82.2" r="3.1" fill="url(#gR)"/><circle cx="254.4" cy="82.2" r="3.1" fill="url(#gR)"/><path d="M222.9 33.7L211.8 41.3M222.9 33.7L234.3 34.3M245.7 33.7L256.8 41.3M245.7 33.7L234.3 34.3M223.1 47.5L234.3 47.8M223.1 47.5L211.8 41.3M223.1 47.5L215.8 52.9M245.5 47.5L234.3 47.8M245.5 47.5L256.8 41.3M245.5 47.5L252.8 52.9M270.8 65.2L259.8 64.9M197.8 65.2L208.8 64.9M202.5 88.6L214.2 82.2M202.5 88.6L213.6 95.8M266.1 88.6L254.4 82.2M266.1 88.6L255 95.8M215.8 59.2L223.1 47.5M215.8 59.2L208.8 64.9M215.8 59.2L204.4 53.1M252.8 59.2L245.5 47.5M252.8 59.2L259.8 64.9M252.8 59.2L264.2 53.1M209.2 71.2L214.2 82.2M209.2 71.2L220.4 70.9M209.2 71.2L215.8 59.2M209.2 71.2L197.8 65.2M259.4 71.2L254.4 82.2M259.4 71.2L248.2 70.9M259.4 71.2L252.8 59.2M259.4 71.2L270.8 65.2M234.3 40.3L223.1 47.5M234.3 40.3L245.5 47.5M234.3 40.3L222.9 33.7M234.3 40.3L245.7 33.7M234.3 26.9L222.9 33.7M234.3 26.9L245.7 33.7M234.3 53.9L223.1 47.5M234.3 53.9L245.5 47.5M234.3 53.9L234.3 40.3M234.3 53.9L241.2 59.1M234.3 53.9L227.4 59.1M241.3 65.3L234.3 53.9M241.3 65.3L248.2 70.9M241.3 65.3L252.8 59.2M241.3 65.3L234.3 71M227.3 65.3L234.3 53.9M227.3 65.3L220.4 70.9M227.3 65.3L215.8 59.2M227.3 65.3L234.3 71M234.3 104.2L227.2 96.5M234.3 104.2L241.4 96.5M248.2 103.7L255 95.8M248.2 103.7L234.3 104.2M220.4 103.7L213.6 95.8M220.4 103.7L234.3 104.2M234.3 90.9L241.2 82.8M234.3 90.9L227.4 82.8M234.3 90.9L227.2 96.5M234.3 90.9L241.4 96.5M194 53.6L200.9 41.8M194 53.6L197.8 65.2M274.6 53.6L267.7 41.8M274.6 53.6L270.8 65.2M220.4 90.3L214.2 82.2M220.4 90.3L234.3 90.9M220.4 90.3L220.4 103.7M248.2 90.3L254.4 82.2M248.2 90.3L234.3 90.9M248.2 90.3L248.2 103.7M197.4 77.3L209.2 71.2M197.4 77.3L197.8 65.2M197.4 77.3L202.5 88.6M271.2 77.3L259.4 71.2M271.2 77.3L270.8 65.2M271.2 77.3L266.1 88.6M234.3 77.2L241.3 65.3M234.3 77.2L227.3 65.3M234.3 77.2L241.2 82.8M234.3 77.2L227.4 82.8M220.9 76.8L234.3 77.2M220.9 76.8L220.4 90.3M247.7 76.8L234.3 77.2M247.7 76.8L248.2 90.3M211.9 47.7L223.1 47.5M211.9 47.7L211.8 41.3M256.7 47.7L245.5 47.5M256.7 47.7L256.8 41.3M211.5 34L200.9 41.8M211.5 34L222.9 33.7M257.1 34L267.7 41.8M257.1 34L245.7 33.7" stroke="#a81b0c" stroke-width=".9" fill="none"/><circle cx="222.9" cy="33.7" r="3.1" fill="url(#gR)"/><circle cx="245.7" cy="33.7" r="3.1" fill="url(#gR)"/><circle cx="223.1" cy="47.5" r="3.1" fill="url(#gR)"/><circle cx="245.5" cy="47.5" r="3.1" fill="url(#gR)"/><circle cx="270.8" cy="65.2" r="3.1" fill="url(#gR)"/><circle cx="197.8" cy="65.2" r="3.1" fill="url(#gR)"/><circle cx="202.5" cy="88.6" r="3.1" fill="url(#gR)"/><circle cx="266.1" cy="88.6" r="3.1" fill="url(#gR)"/><circle cx="215.8" cy="59.2" r="3.1" fill="url(#gR)"/><circle cx="252.8" cy="59.2" r="3.1" fill="url(#gR)"/><circle cx="209.2" cy="71.2" r="3.1" fill="url(#gR)"/><circle cx="259.4" cy="71.2" r="3.1" fill="url(#gR)"/><circle cx="234.3" cy="40.3" r="3.1" fill="url(#gR)"/><circle cx="234.3" cy="26.9" r="3.1" fill="url(#gR)"/><circle cx="200.9" cy="41.8" r="3.1" fill="url(#gR)"/><circle cx="267.7" cy="41.8" r="3.1" fill="url(#gR)"/><circle cx="241.3" cy="65.3" r="3.1" fill="url(#gR)"/><circle cx="227.3" cy="65.3" r="3.1" fill="url(#gR)"/><circle cx="248.2" cy="103.7" r="3.1" fill="url(#gR)"/><circle cx="220.4" cy="103.7" r="3.1" fill="url(#gR)"/><circle cx="194" cy="53.6" r="3.1" fill="url(#gR)"/><circle cx="274.6" cy="53.6" r="3.1" fill="url(#gR)"/><circle cx="220.4" cy="90.3" r="3.1" fill="url(#gR)"/><circle cx="248.2" cy="90.3" r="3.1" fill="url(#gR)"/><circle cx="197.4" cy="77.3" r="3.1" fill="url(#gR)"/><circle cx="271.2" cy="77.3" r="3.1" fill="url(#gR)"/><circle cx="234.3" cy="77.2" r="3.1" fill="url(#gR)"/><circle cx="220.9" cy="76.8" r="3.1" fill="url(#gR)"/><circle cx="247.7" cy="76.8" r="3.1" fill="url(#gR)"/><circle cx="211.9" cy="47.7" r="3.1" fill="url(#gR)"/><circle cx="256.7" cy="47.7" r="3.1" fill="url(#gR)"/><circle cx="211.5" cy="34" r="3.1" fill="url(#gR)"/><circle cx="257.1" cy="34" r="3.1" fill="url(#gR)"/><path d="M205 59.5L211.9 47.7M205 59.5L209.2 71.2M205 59.5L215.8 59.2M263.6 59.5L256.7 47.7M263.6 59.5L259.4 71.2M263.6 59.5L252.8 59.2M208.8 96.9L220.4 90.3M208.8 96.9L220.4 103.7M208.8 96.9L202.5 88.6M259.8 96.9L248.2 90.3M259.8 96.9L248.2 103.7M259.8 96.9L266.1 88.6M209.2 83.1L209.2 71.2M209.2 83.1L220.4 90.3M209.2 83.1L197.4 77.3M209.2 83.1L208.8 96.9M259.4 83.1L247.7 76.8M259.4 83.1L259.4 71.2M259.4 83.1L248.2 90.3M259.4 83.1L271.2 77.3M259.4 83.1L259.8 96.9M223 53.6L234.3 53.9M223 53.6L227.3 65.3M223 53.6L211.9 47.7M245.6 53.6L234.3 53.9M245.6 53.6L256.7 47.7M222.8 39.9L211.9 47.7M222.8 39.9L234.3 40.3M222.8 39.9L211.5 34M245.8 39.9L256.7 47.7M245.8 39.9L234.3 40.3M245.8 39.9L257.1 34M222.9 26.7L234.3 26.9M222.9 26.7L211.5 34M245.7 26.7L234.3 26.9M245.7 26.7L245.7 33.7M245.7 26.7L257.1 34M190.9 42.7L194 53.6M277.7 42.7L274.6 53.6M193 65.5L205 59.5M193 65.5L194 53.6M193 65.5L197.4 77.3M275.6 65.5L263.6 59.5M275.6 65.5L274.6 53.6M275.6 65.5L271.2 77.3M252.5 65.5L247.7 76.8M252.5 65.5L241.3 65.3M216.1 65.5L220.9 76.8M216.1 65.5L227.3 65.3M197.8 89.2L209.2 83.1M197.8 89.2L197.4 77.3M197.8 89.2L208.8 96.9M270.8 89.2L259.4 83.1M270.8 89.2L271.2 77.3M270.8 89.2L259.8 96.9M234.3 46.4L223 53.6M234.3 46.4L245.6 53.6M234.3 46.4L222.8 39.9M234.3 46.4L245.8 39.9M234.3 59.9L223 53.6M234.3 59.9L245.6 53.6M234.3 59.9L241.3 65.3M234.3 59.9L227.3 65.3M234.3 33.3L234.3 40.3M234.3 33.3L222.8 39.9M234.3 33.3L245.8 39.9M234.3 33.3L222.9 26.7M234.3 33.3L245.7 26.7M227.4 110.8L220.4 103.7M227.4 110.8L234.3 104.2M241.2 110.8L248.2 103.7M241.2 110.8L234.3 104.2M234.3 20.4L234.3 33.3M234.3 20.4L234.3 26.9M234.3 20.4L222.9 26.7M234.3 20.4L245.7 26.7M227.4 97.9L220.4 90.3M227.4 97.9L234.3 90.9M227.4 97.9L227.4 110.8M227.4 97.9L220.4 103.7M227.4 97.9L234.3 104.2M241.2 97.9L248.2 90.3M241.2 97.9L234.3 90.9M241.2 97.9L241.2 110.8M241.2 97.9L248.2 103.7M241.2 97.9L234.3 104.2M227.3 84.8L220.9 76.8M227.3 84.8L234.3 77.2M227.3 84.8L227.4 97.9M227.3 84.8L234.3 90.9M241.3 84.8L247.7 76.8M241.3 84.8L234.3 77.2M241.3 84.8L241.2 97.9M241.3 84.8L234.3 90.9M201.8 48.5L205 59.5M201.8 48.5L190.9 42.7M201.8 48.5L194 53.6M266.8 48.5L263.6 59.5M266.8 48.5L277.7 42.7M266.8 48.5L274.6 53.6M267.7 34.9L266.8 48.5M267.7 34.9L277.7 42.7M267.7 34.9L267.7 41.8M200.9 34.9L201.8 48.5M200.9 34.9L190.9 42.7M200.9 34.9L200.9 41.8M204.3 71.6L205 59.5M204.3 71.6L209.2 83.1M204.3 71.6L197.4 77.3M264.3 71.6L263.6 59.5M264.3 71.6L259.4 83.1M264.3 71.6L271.2 77.3M241 71.3L234.3 77.2M227.6 71.3L234.3 77.2" stroke="#a81b0c" stroke-width=".9" fill="none"/><circle cx="205" cy="59.5" r="3.1" fill="url(#gR)"/><circle cx="263.6" cy="59.5" r="3.1" fill="url(#gR)"/><circle cx="208.8" cy="96.9" r="3.1" fill="url(#gR)"/><circle cx="259.8" cy="96.9" r="3.1" fill="url(#gR)"/><circle cx="209.2" cy="83.1" r="3.1" fill="url(#gR)"/><circle cx="259.4" cy="83.1" r="3.1" fill="url(#gR)"/><circle cx="223" cy="53.6" r="3.1" fill="url(#gR)"/><circle cx="245.6" cy="53.6" r="3.1" fill="url(#gR)"/><circle cx="222.8" cy="39.9" r="3.1" fill="url(#gR)"/><circle cx="245.8" cy="39.9" r="3.1" fill="url(#gR)"/><circle cx="222.9" cy="26.7" r="3.1" fill="url(#gR)"/><circle cx="245.7" cy="26.7" r="3.1" fill="url(#gR)"/><circle cx="190.9" cy="42.7" r="3.5" fill="url(#gG)"/><circle cx="277.7" cy="42.7" r="3.5" fill="url(#gG)"/><circle cx="193" cy="65.5" r="3.1" fill="url(#gR)"/><circle cx="275.6" cy="65.5" r="3.1" fill="url(#gR)"/><circle cx="252.5" cy="65.5" r="3.1" fill="url(#gR)"/><circle cx="216.1" cy="65.5" r="3.1" fill="url(#gR)"/><circle cx="197.8" cy="89.2" r="3.1" fill="url(#gR)"/><circle cx="270.8" cy="89.2" r="3.1" fill="url(#gR)"/><circle cx="234.3" cy="46.4" r="3.1" fill="url(#gR)"/><circle cx="234.3" cy="59.9" r="3.1" fill="url(#gR)"/><circle cx="234.3" cy="33.3" r="3.1" fill="url(#gR)"/><circle cx="227.4" cy="110.8" r="3.1" fill="url(#gR)"/><circle cx="241.2" cy="110.8" r="3.1" fill="url(#gR)"/><circle cx="234.3" cy="20.4" r="3.1" fill="url(#gR)"/><circle cx="227.4" cy="97.9" r="3.1" fill="url(#gR)"/><circle cx="241.2" cy="97.9" r="3.1" fill="url(#gR)"/><circle cx="227.3" cy="84.8" r="3.1" fill="url(#gR)"/><circle cx="241.3" cy="84.8" r="3.1" fill="url(#gR)"/><circle cx="201.8" cy="48.5" r="3.1" fill="url(#gR)"/><circle cx="266.8" cy="48.5" r="3.1" fill="url(#gR)"/><circle cx="267.7" cy="34.9" r="3.1" fill="url(#gR)"/><circle cx="200.9" cy="34.9" r="3.1" fill="url(#gR)"/><circle cx="204.3" cy="71.6" r="3.1" fill="url(#gR)"/><circle cx="264.3" cy="71.6" r="3.1" fill="url(#gR)"/><circle cx="241" cy="71.3" r="3.1" fill="url(#gR)"/><circle cx="227.6" cy="71.3" r="3.1" fill="url(#gR)"/><path d="M215.8 104.5L227.4 97.9M215.8 104.5L227.4 110.8M215.8 104.5L208.8 96.9M252.8 104.5L241.2 97.9M252.8 104.5L241.2 110.8M252.8 104.5L259.8 96.9M189.7 54L201.8 48.5M189.7 54L190.9 42.7M189.7 54L193 65.5M278.9 54L266.8 48.5M278.9 54L277.7 42.7M278.9 54L275.6 65.5M215.8 91.2L227.3 84.8M215.8 91.2L227.4 97.9M215.8 91.2L215.8 104.5M252.8 91.2L241.3 84.8M252.8 91.2L241.2 97.9M252.8 91.2L252.8 104.5M212.6 54.3L216.1 65.5M212.6 54.3L201.8 48.5M212.6 54.3L205 59.5M256 54.3L252.5 65.5M256 54.3L266.8 48.5M256 54.3L263.6 59.5M211.9 40.7L212.6 54.3M211.9 40.7L211.9 47.7M211.9 40.7L200.9 34.9M256.7 40.7L256 54.3M256.7 40.7L256.7 47.7M256.7 40.7L267.7 34.9M193 77.7L204.3 71.6M193 77.7L197.8 89.2M193 77.7L193 65.5M275.6 77.7L264.3 71.6M275.6 77.7L270.8 89.2M275.6 77.7L275.6 65.5M216.1 77.6L227.6 71.3M216.1 77.6L227.3 84.8M216.1 77.6L209.2 83.1M216.1 77.6L204.3 71.6M216.1 77.6L215.8 91.2M252.5 77.6L241 71.3M252.5 77.6L241.3 84.8M252.5 77.6L259.4 83.1M252.5 77.6L264.3 71.6M252.5 77.6L252.8 91.2M211.8 27.4L211.9 40.7M211.8 27.4L200.9 34.9M211.8 27.4L211.5 34M256.8 27.4L256.7 40.7M256.8 27.4L267.7 34.9M256.8 27.4L257.1 34M200.7 59.9L212.6 54.3M200.7 59.9L201.8 48.5M200.7 59.9L204.3 71.6M200.7 59.9L189.7 54M200.7 59.9L193 65.5M267.9 59.9L256 54.3M267.9 59.9L266.8 48.5M267.9 59.9L264.3 71.6M267.9 59.9L278.9 54M267.9 59.9L275.6 65.5M223.5 60.1L212.6 54.3M245.1 60.1L256 54.3M204.4 97.2L215.8 91.2M204.4 97.2L215.8 104.5M264.2 97.2L252.8 91.2M264.2 97.2L270.8 89.2M264.2 97.2L252.8 104.5M223 46.6L223.5 60.1M223 46.6L212.6 54.3M223 46.6L223 53.6M223 46.6L234.3 46.4M245.6 46.6L245.1 60.1M245.6 46.6L256 54.3M245.6 46.6L245.6 53.6M245.6 46.6L234.3 46.4M205 83.5L216.1 77.6M205 83.5L215.8 91.2M205 83.5L193 77.7M205 83.5L204.4 97.2M263.6 83.5L252.5 77.6M263.6 83.5L252.8 91.2M263.6 83.5L275.6 77.7M263.6 83.5L264.2 97.2M223.1 33.6L223 46.6M223.1 33.6L211.9 40.7M223.1 33.6L234.3 33.3M223.1 33.6L222.8 39.9M223.1 33.6L211.8 27.4M223.1 33.6L222.9 26.7M245.5 33.6L245.6 46.6M245.5 33.6L256.7 40.7M245.5 33.6L234.3 33.3M245.5 33.6L245.8 39.9M245.5 33.6L256.8 27.4M245.5 33.6L245.7 26.7M245.4 20.7L245.5 33.6M245.4 20.7L256.8 27.4M245.4 20.7L234.3 20.4M223.2 20.7L223.1 33.6M223.2 20.7L211.8 27.4M223.2 20.7L234.3 20.4M234.3 116.9L241.2 110.8M234.3 116.9L227.4 110.8M234.3 104.1L241.2 97.9M234.3 104.1L227.4 97.9M234.3 104.1L234.3 116.9M234.3 104.1L241.2 110.8M234.3 104.1L227.4 110.8M194 42.4L201.8 48.5M194 42.4L189.7 54M194 42.4L200.9 34.9M274.6 42.4L266.8 48.5M274.6 42.4L278.9 54M274.6 42.4L267.7 34.9M234.3 91.4L241.3 84.8M234.3 91.4L227.3 84.8M234.3 91.4L241.2 97.9M234.3 91.4L227.4 97.9M234.3 78.6L241.3 84.8M234.3 78.6L227.3 84.8M189.2 65.9L200.7 59.9M189.2 65.9L189.7 54M189.2 65.9L193 77.7M211.8 65.9L223.5 60.1M211.8 65.9L212.6 54.3M211.8 65.9L216.1 77.6M211.8 65.9L200.7 59.9M256.8 65.9L245.1 60.1M256.8 65.9L256 54.3M256.8 65.9L252.5 77.6M256.8 65.9L267.9 59.9M279.4 65.9L267.9 59.9M279.4 65.9L278.9 54M279.4 65.9L275.6 77.7" stroke="#a81b0c" stroke-width=".9" fill="none"/><circle cx="215.8" cy="104.5" r="3.1" fill="url(#gR)"/><circle cx="252.8" cy="104.5" r="3.1" fill="url(#gR)"/><circle cx="189.7" cy="54" r="3.1" fill="url(#gR)"/><circle cx="278.9" cy="54" r="3.1" fill="url(#gR)"/><circle cx="215.8" cy="91.2" r="3.1" fill="url(#gR)"/><circle cx="252.8" cy="91.2" r="3.1" fill="url(#gR)"/><circle cx="212.6" cy="54.3" r="3.1" fill="url(#gR)"/><circle cx="256" cy="54.3" r="3.1" fill="url(#gR)"/><circle cx="211.9" cy="40.7" r="3.1" fill="url(#gR)"/><circle cx="256.7" cy="40.7" r="3.1" fill="url(#gR)"/><circle cx="193" cy="77.7" r="3.1" fill="url(#gR)"/><circle cx="275.6" cy="77.7" r="3.1" fill="url(#gR)"/><circle cx="216.1" cy="77.6" r="3.1" fill="url(#gR)"/><circle cx="252.5" cy="77.6" r="3.1" fill="url(#gR)"/><circle cx="211.8" cy="27.4" r="3.1" fill="url(#gR)"/><circle cx="256.8" cy="27.4" r="3.1" fill="url(#gR)"/><circle cx="200.7" cy="59.9" r="3.1" fill="url(#gR)"/><circle cx="267.9" cy="59.9" r="3.1" fill="url(#gR)"/><circle cx="223.5" cy="60.1" r="3.1" fill="url(#gR)"/><circle cx="245.1" cy="60.1" r="3.1" fill="url(#gR)"/><circle cx="204.4" cy="97.2" r="3.1" fill="url(#gR)"/><circle cx="264.2" cy="97.2" r="3.1" fill="url(#gR)"/><circle cx="223" cy="46.6" r="3.1" fill="url(#gR)"/><circle cx="245.6" cy="46.6" r="3.1" fill="url(#gR)"/><circle cx="205" cy="83.5" r="3.1" fill="url(#gR)"/><circle cx="263.6" cy="83.5" r="3.1" fill="url(#gR)"/><circle cx="223.1" cy="33.6" r="3.1" fill="url(#gR)"/><circle cx="245.5" cy="33.6" r="3.1" fill="url(#gR)"/><circle cx="245.4" cy="20.7" r="3.1" fill="url(#gR)"/><circle cx="223.2" cy="20.7" r="3.1" fill="url(#gR)"/><circle cx="234.3" cy="116.9" r="3.5" fill="url(#gG)"/><circle cx="234.3" cy="104.1" r="3.1" fill="url(#gR)"/><circle cx="194" cy="42.4" r="3.1" fill="url(#gR)"/><circle cx="274.6" cy="42.4" r="3.1" fill="url(#gR)"/><circle cx="234.3" cy="78.6" r="3.1" fill="url(#gR)"/><circle cx="189.2" cy="65.9" r="3.1" fill="url(#gR)"/><circle cx="211.8" cy="65.9" r="3.1" fill="url(#gR)"/><circle cx="234.3" cy="65.9" r="3.1" fill="url(#gR)"/><circle cx="256.8" cy="65.9" r="3.1" fill="url(#gR)"/><circle cx="279.4" cy="65.9" r="3.1" fill="url(#gR)"/><path d="M234.3 53.2L223 46.6M234.3 53.2L245.6 46.6M234.3 53.2L234.3 46.4M234.3 40.4L234.3 53.2M234.3 40.4L223 46.6M234.3 40.4L245.6 46.6M234.3 40.4L223.1 33.6M234.3 40.4L245.5 33.6M234.3 40.4L234.3 33.3M194 89.4L205 83.5M194 89.4L193 77.7M194 89.4L204.4 97.2M274.6 89.4L263.6 83.5M274.6 89.4L275.6 77.7M274.6 89.4L264.2 97.2M234.3 27.7L234.3 40.4M234.3 27.7L223.1 33.6M234.3 27.7L245.5 33.6M234.3 27.7L223.2 20.7M234.3 27.7L245.4 20.7M234.3 27.7L234.3 20.4M234.3 14.9L234.3 27.7M234.3 14.9L223.2 20.7M234.3 14.9L245.4 20.7M245.4 111.1L234.3 104.1M245.4 111.1L234.3 116.9M245.4 111.1L252.8 104.5M223.2 111.1L234.3 104.1M223.2 111.1L234.3 116.9M223.2 111.1L215.8 104.5M223.1 98.2L234.3 91.4M223.1 98.2L234.3 104.1M223.1 98.2L215.8 91.2M223.1 98.2L215.8 104.5M245.5 98.2L234.3 91.4M245.5 98.2L234.3 104.1M245.5 98.2L252.8 91.2M245.5 98.2L252.8 104.5M205 48.3L200.7 59.9M205 48.3L194 42.4M263.6 48.3L267.9 59.9M263.6 48.3L274.6 42.4M223 85.2L234.3 78.6M223 85.2L234.3 91.4M223 85.2L216.1 77.6M223 85.2L215.8 91.2M245.6 85.2L234.3 78.6M245.6 85.2L234.3 91.4M245.6 85.2L252.5 77.6M245.6 85.2L252.8 91.2M204.4 34.6L205 48.3M204.4 34.6L211.9 40.7M204.4 34.6L194 42.4M204.4 34.6L211.8 27.4M264.2 34.6L263.6 48.3M264.2 34.6L256.7 40.7M264.2 34.6L274.6 42.4M264.2 34.6L256.8 27.4M223.5 71.7L216.1 77.6M245.1 71.7L252.5 77.6M200.7 71.9L211.8 65.9M200.7 71.9L200.7 59.9M200.7 71.9L205 83.5M200.7 71.9L189.2 65.9M200.7 71.9L193 77.7M267.9 71.9L256.8 65.9M267.9 71.9L267.9 59.9M267.9 71.9L263.6 83.5M267.9 71.9L279.4 65.9M267.9 71.9L275.6 77.7M211.8 104.4L223.1 98.2M211.8 104.4L223.2 111.1M211.8 104.4L204.4 97.2M256.8 104.4L245.5 98.2M256.8 104.4L245.4 111.1M256.8 104.4L264.2 97.2M216.1 54.2L211.8 65.9M216.1 54.2L223 46.6M216.1 54.2L205 48.3M252.5 54.2L256.8 65.9M252.5 54.2L245.6 46.6M252.5 54.2L263.6 48.3M193 54.1L205 48.3M193 54.1L194 42.4M193 54.1L189.2 65.9M275.6 54.1L263.6 48.3M275.6 54.1L274.6 42.4M275.6 54.1L279.4 65.9M211.9 91.1L223 85.2M211.9 91.1L223.1 98.2M211.9 91.1L205 83.5M211.9 91.1L204.4 97.2M256.7 91.1L245.6 85.2M256.7 91.1L245.5 98.2M256.7 91.1L263.6 83.5M256.7 91.1L264.2 97.2M212.6 77.5L223.5 71.7M212.6 77.5L211.8 65.9M212.6 77.5L223 85.2M212.6 77.5L200.7 71.9M212.6 77.5L205 83.5M256 77.5L245.1 71.7M256 77.5L256.8 65.9M256 77.5L245.6 85.2M256 77.5L267.9 71.9M256 77.5L263.6 83.5M215.8 40.6L216.1 54.2M215.8 40.6L205 48.3M215.8 40.6L223.1 33.6M215.8 40.6L204.4 34.6M252.8 40.6L252.5 54.2M252.8 40.6L263.6 48.3M252.8 40.6L245.5 33.6M252.8 40.6L264.2 34.6M189.7 77.8L200.7 71.9M189.7 77.8L189.2 65.9M189.7 77.8L194 89.4M278.9 77.8L267.9 71.9M278.9 77.8L279.4 65.9M278.9 77.8L274.6 89.4M215.8 27.3L215.8 40.6M215.8 27.3L223.2 20.7M215.8 27.3L204.4 34.6M252.8 27.3L252.8 40.6M252.8 27.3L245.4 20.7M252.8 27.3L264.2 34.6" stroke="#a81b0c" stroke-width=".9" fill="none"/><circle cx="234.3" cy="53.2" r="3.1" fill="url(#gR)"/><circle cx="234.3" cy="40.4" r="3.1" fill="url(#gR)"/><circle cx="194" cy="89.4" r="3.1" fill="url(#gR)"/><circle cx="274.6" cy="89.4" r="3.1" fill="url(#gR)"/><circle cx="234.3" cy="14.9" r="3.5" fill="url(#gG)"/><circle cx="245.4" cy="111.1" r="3.1" fill="url(#gR)"/><circle cx="223.2" cy="111.1" r="3.1" fill="url(#gR)"/><circle cx="223.1" cy="98.2" r="3.1" fill="url(#gR)"/><circle cx="245.5" cy="98.2" r="3.1" fill="url(#gR)"/><circle cx="205" cy="48.3" r="3.1" fill="url(#gR)"/><circle cx="263.6" cy="48.3" r="3.1" fill="url(#gR)"/><circle cx="223" cy="85.2" r="3.1" fill="url(#gR)"/><circle cx="245.6" cy="85.2" r="3.1" fill="url(#gR)"/><circle cx="204.4" cy="34.6" r="3.1" fill="url(#gR)"/><circle cx="264.2" cy="34.6" r="3.1" fill="url(#gR)"/><circle cx="223.5" cy="71.7" r="3.1" fill="url(#gR)"/><circle cx="245.1" cy="71.7" r="3.1" fill="url(#gR)"/><circle cx="200.7" cy="71.9" r="3.1" fill="url(#gR)"/><circle cx="267.9" cy="71.9" r="3.1" fill="url(#gR)"/><circle cx="211.8" cy="104.4" r="3.1" fill="url(#gR)"/><circle cx="256.8" cy="104.4" r="3.1" fill="url(#gR)"/><circle cx="216.1" cy="54.2" r="3.1" fill="url(#gR)"/><circle cx="252.5" cy="54.2" r="3.1" fill="url(#gR)"/><circle cx="193" cy="54.1" r="3.1" fill="url(#gR)"/><circle cx="275.6" cy="54.1" r="3.1" fill="url(#gR)"/><circle cx="211.9" cy="91.1" r="3.1" fill="url(#gR)"/><circle cx="256.7" cy="91.1" r="3.1" fill="url(#gR)"/><circle cx="212.6" cy="77.5" r="3.1" fill="url(#gR)"/><circle cx="256" cy="77.5" r="3.1" fill="url(#gR)"/><circle cx="215.8" cy="40.6" r="3.1" fill="url(#gR)"/><circle cx="252.8" cy="40.6" r="3.1" fill="url(#gR)"/><circle cx="189.7" cy="77.8" r="3.1" fill="url(#gR)"/><circle cx="278.9" cy="77.8" r="3.1" fill="url(#gR)"/><circle cx="215.8" cy="27.3" r="3.1" fill="url(#gR)"/><circle cx="252.8" cy="27.3" r="3.1" fill="url(#gR)"/><path d="M241 60.5L252.5 54.2M227.6 60.5L216.1 54.2M204.3 60.2L216.1 54.2M204.3 60.2L205 48.3M204.3 60.2L200.7 71.9M204.3 60.2L193 54.1M264.3 60.2L252.5 54.2M264.3 60.2L263.6 48.3M264.3 60.2L267.9 71.9M264.3 60.2L275.6 54.1M267.7 96.9L256.7 91.1M267.7 96.9L256.8 104.4M267.7 96.9L274.6 89.4M200.9 96.9L211.9 91.1M200.9 96.9L211.8 104.4M200.9 96.9L194 89.4M201.8 83.3L212.6 77.5M201.8 83.3L200.7 71.9M201.8 83.3L211.9 91.1M201.8 83.3L189.7 77.8M201.8 83.3L194 89.4M266.8 83.3L256 77.5M266.8 83.3L267.9 71.9M266.8 83.3L256.7 91.1M266.8 83.3L278.9 77.8M266.8 83.3L274.6 89.4M227.3 47L234.3 53.2M227.3 47L234.3 40.4M227.3 47L216.1 54.2M227.3 47L215.8 40.6M241.3 47L234.3 53.2M241.3 47L234.3 40.4M241.3 47L252.5 54.2M241.3 47L252.8 40.6M227.4 33.9L234.3 40.4M227.4 33.9L227.3 47M227.4 33.9L234.3 27.7M227.4 33.9L215.8 40.6M227.4 33.9L215.8 27.3M241.2 33.9L234.3 40.4M241.2 33.9L241.3 47M241.2 33.9L234.3 27.7M241.2 33.9L227.4 33.9M241.2 33.9L252.8 40.6M241.2 33.9L252.8 27.3M234.3 111.4L245.4 111.1M234.3 111.4L223.2 111.1M227.4 21L234.3 27.7M227.4 21L227.4 33.9M227.4 21L234.3 14.9M227.4 21L215.8 27.3M241.2 21L234.3 27.7M241.2 21L241.2 33.9M241.2 21L234.3 14.9M241.2 21L227.4 21M241.2 21L252.8 27.3M234.3 98.5L245.5 98.2M234.3 98.5L223.1 98.2M234.3 85.4L245.6 85.2M234.3 85.4L223 85.2M197.8 42.6L193 54.1M197.8 42.6L204.4 34.6M270.8 42.6L275.6 54.1M270.8 42.6L264.2 34.6M216.1 66.3L227.6 60.5M216.1 66.3L216.1 54.2M216.1 66.3L204.3 60.2M252.5 66.3L241 60.5M252.5 66.3L252.5 54.2M252.5 66.3L264.3 60.2M193 66.3L204.3 60.2M193 66.3L189.7 77.8M193 66.3L193 54.1M275.6 66.3L264.3 60.2M275.6 66.3L278.9 77.8M275.6 66.3L275.6 54.1M190.9 89.1L201.8 83.3M190.9 89.1L189.7 77.8M190.9 89.1L200.9 96.9M277.7 89.1L266.8 83.3M277.7 89.1L278.9 77.8M277.7 89.1L267.7 96.9M222.9 105.1L234.3 98.5M222.9 105.1L223.1 98.2M222.9 105.1L234.3 111.4M222.9 105.1L211.8 104.4M245.7 105.1L234.3 98.5M245.7 105.1L245.5 98.2M245.7 105.1L234.3 111.4M245.7 105.1L256.8 104.4M222.8 91.9L234.3 85.4M222.8 91.9L234.3 98.5M222.8 91.9L211.9 91.1M245.8 91.9L234.3 85.4M245.8 91.9L234.3 98.5M245.8 91.9L256.7 91.1M223 78.2L234.3 71.9M223 78.2L234.3 85.4M223 78.2L216.1 66.3M245.6 78.2L234.3 71.9M245.6 78.2L256 77.5M245.6 78.2L234.3 85.4M245.6 78.2L252.5 66.3M209.2 48.7L204.3 60.2M209.2 48.7L215.8 40.6M259.4 48.7L264.3 60.2M259.4 48.7L252.8 40.6M259.4 48.7L270.8 42.6M208.8 34.9L209.2 48.7M208.8 34.9L197.8 42.6M208.8 34.9L215.8 27.3M259.8 34.9L259.4 48.7M259.8 34.9L270.8 42.6M259.8 34.9L252.8 27.3M205 72.3L212.6 77.5M205 72.3L216.1 66.3M205 72.3L201.8 83.3M205 72.3L204.3 60.2M205 72.3L193 66.3M263.6 72.3L256 77.5M263.6 72.3L252.5 66.3M263.6 72.3L266.8 83.3M263.6 72.3L264.3 60.2M263.6 72.3L275.6 66.3" stroke="#a81b0c" stroke-width=".9" fill="none"/><circle cx="241" cy="60.5" r="3.1" fill="url(#gR)"/><circle cx="227.6" cy="60.5" r="3.1" fill="url(#gR)"/><circle cx="204.3" cy="60.2" r="3.1" fill="url(#gR)"/><circle cx="264.3" cy="60.2" r="3.1" fill="url(#gR)"/><circle cx="267.7" cy="96.9" r="3.1" fill="url(#gR)"/><circle cx="200.9" cy="96.9" r="3.1" fill="url(#gR)"/><circle cx="201.8" cy="83.3" r="3.1" fill="url(#gR)"/><circle cx="266.8" cy="83.3" r="3.1" fill="url(#gR)"/><circle cx="227.3" cy="47" r="3.1" fill="url(#gR)"/><circle cx="241.3" cy="47" r="3.1" fill="url(#gR)"/><circle cx="227.4" cy="33.9" r="3.1" fill="url(#gR)"/><circle cx="241.2" cy="33.9" r="3.1" fill="url(#gR)"/><circle cx="234.3" cy="111.4" r="3.1" fill="url(#gR)"/><circle cx="227.4" cy="21" r="3.1" fill="url(#gR)"/><circle cx="241.2" cy="21" r="3.1" fill="url(#gR)"/><circle cx="234.3" cy="98.5" r="3.1" fill="url(#gR)"/><circle cx="234.3" cy="71.9" r="3.1" fill="url(#gR)"/><circle cx="234.3" cy="85.4" r="3.1" fill="url(#gR)"/><circle cx="197.8" cy="42.6" r="3.1" fill="url(#gR)"/><circle cx="270.8" cy="42.6" r="3.1" fill="url(#gR)"/><circle cx="216.1" cy="66.3" r="3.1" fill="url(#gR)"/><circle cx="252.5" cy="66.3" r="3.1" fill="url(#gR)"/><circle cx="193" cy="66.3" r="3.1" fill="url(#gR)"/><circle cx="275.6" cy="66.3" r="3.1" fill="url(#gR)"/><circle cx="190.9" cy="89.1" r="3.5" fill="url(#gG)"/><circle cx="277.7" cy="89.1" r="3.5" fill="url(#gG)"/><circle cx="222.9" cy="105.1" r="3.1" fill="url(#gR)"/><circle cx="245.7" cy="105.1" r="3.1" fill="url(#gR)"/><circle cx="222.8" cy="91.9" r="3.1" fill="url(#gR)"/><circle cx="245.8" cy="91.9" r="3.1" fill="url(#gR)"/><circle cx="223" cy="78.2" r="3.1" fill="url(#gR)"/><circle cx="245.6" cy="78.2" r="3.1" fill="url(#gR)"/><circle cx="209.2" cy="48.7" r="3.1" fill="url(#gR)"/><circle cx="259.4" cy="48.7" r="3.1" fill="url(#gR)"/><circle cx="208.8" cy="34.9" r="3.1" fill="url(#gR)"/><circle cx="259.8" cy="34.9" r="3.1" fill="url(#gR)"/><circle cx="205" cy="72.3" r="3.1" fill="url(#gR)"/><circle cx="263.6" cy="72.3" r="3.1" fill="url(#gR)"/><path d="M211.5 97.8L211.9 91.1M211.5 97.8L222.8 91.9M211.5 97.8L211.8 104.4M211.5 97.8L200.9 96.9M211.5 97.8L222.9 105.1M257.1 97.8L256.7 91.1M257.1 97.8L245.8 91.9M257.1 97.8L256.8 104.4M257.1 97.8L267.7 96.9M257.1 97.8L245.7 105.1M211.9 84.1L212.6 77.5M211.9 84.1L223 78.2M211.9 84.1L201.8 83.3M211.9 84.1L205 72.3M211.9 84.1L222.8 91.9M211.9 84.1L211.5 97.8M256.7 84.1L256 77.5M256.7 84.1L245.6 78.2M256.7 84.1L266.8 83.3M256.7 84.1L263.6 72.3M256.7 84.1L245.8 91.9M256.7 84.1L257.1 97.8M247.7 55L241 60.5M247.7 55L252.5 66.3M247.7 55L241.3 47M247.7 55L259.4 48.7M220.9 55L227.6 60.5M220.9 55L216.1 66.3M220.9 55L227.3 47M220.9 55L209.2 48.7M234.3 54.6L227.6 60.5M234.3 54.6L241 60.5M234.3 54.6L220.9 55M234.3 54.6L227.3 47M234.3 54.6L241.3 47M197.4 54.5L209.2 48.7M197.4 54.5L197.8 42.6M197.4 54.5L193 66.3M271.2 54.5L259.4 48.7M271.2 54.5L270.8 42.6M271.2 54.5L275.6 66.3M220.4 41.5L220.9 55M220.4 41.5L227.3 47M220.4 41.5L209.2 48.7M220.4 41.5L227.4 33.9M220.4 41.5L208.8 34.9M248.2 41.5L247.7 55M248.2 41.5L241.3 47M248.2 41.5L259.4 48.7M248.2 41.5L241.2 33.9M248.2 41.5L259.8 34.9M194 78.2L201.8 83.3M194 78.2L205 72.3M194 78.2L190.9 89.1M194 78.2L193 66.3M274.6 78.2L266.8 83.3M274.6 78.2L263.6 72.3M274.6 78.2L277.7 89.1M274.6 78.2L275.6 66.3M234.3 40.9L234.3 54.6M234.3 40.9L227.3 47M234.3 40.9L241.3 47M234.3 40.9L220.4 41.5M234.3 40.9L227.4 33.9M234.3 40.9L248.2 41.5M234.3 40.9L241.2 33.9M220.4 28.1L220.4 41.5M220.4 28.1L227.4 33.9M220.4 28.1L227.4 21M220.4 28.1L208.8 34.9M248.2 28.1L248.2 41.5M248.2 28.1L241.2 33.9M248.2 28.1L241.2 21M248.2 28.1L259.8 34.9M234.3 27.6L227.4 33.9M234.3 27.6L241.2 33.9M234.3 27.6L234.3 40.9M234.3 27.6L220.4 28.1M234.3 27.6L227.4 21M234.3 27.6L248.2 28.1M234.3 27.6L241.2 21M241.3 66.5L234.3 71.9M241.3 66.5L247.7 55M241.3 66.5L245.6 78.2M241.3 66.5L234.3 54.6M241.3 66.5L252.5 66.3M227.3 66.5L234.3 71.9M227.3 66.5L220.9 55M227.3 66.5L223 78.2M227.3 66.5L234.3 54.6M227.3 66.5L216.1 66.3M200.9 90L201.8 83.3M200.9 90L211.9 84.1M200.9 90L190.9 89.1M200.9 90L194 78.2M200.9 90L200.9 96.9M200.9 90L211.5 97.8M267.7 90L266.8 83.3M267.7 90L256.7 84.1M267.7 90L277.7 89.1M267.7 90L274.6 78.2M267.7 90L267.7 96.9M267.7 90L257.1 97.8M234.3 77.9L227.3 66.5M234.3 77.9L241.3 66.5M234.3 77.9L245.6 78.2M234.3 77.9L223 78.2M234.3 104.9L234.3 111.4M234.3 104.9L245.7 105.1M234.3 104.9L222.9 105.1M234.3 91.5L245.8 91.9M234.3 91.5L222.8 91.9M234.3 91.5L234.3 104.9M209.2 60.6L220.9 55M209.2 60.6L216.1 66.3M209.2 60.6L209.2 48.7M209.2 60.6L197.4 54.5M259.4 60.6L247.7 55M259.4 60.6L252.5 66.3M259.4 60.6L259.4 48.7M259.4 60.6L263.6 72.3M259.4 60.6L271.2 54.5M215.8 72.6L227.3 66.5M215.8 72.6L223 78.2M215.8 72.6L216.1 66.3M215.8 72.6L211.9 84.1M215.8 72.6L209.2 60.6M215.8 72.6L205 72.3M252.8 72.6L241.3 66.5M252.8 72.6L245.6 78.2M252.8 72.6L252.5 66.3M252.8 72.6L256.7 84.1M252.8 72.6L259.4 60.6M252.8 72.6L263.6 72.3M202.5 43.2L197.4 54.5M202.5 43.2L208.8 34.9M266.1 43.2L271.2 54.5M266.1 43.2L259.8 34.9M270.8 66.6L259.4 60.6M270.8 66.6L263.6 72.3M270.8 66.6L274.6 78.2M270.8 66.6L271.2 54.5M197.8 66.6L209.2 60.6M197.8 66.6L205 72.3M197.8 66.6L194 78.2M197.8 66.6L197.4 54.5M223.1 84.3L234.3 77.9M223.1 84.3L234.3 91.5M223.1 84.3L211.9 84.1M223.1 84.3L215.8 72.6M245.5 84.3L234.3 77.9M245.5 84.3L234.3 91.5M245.5 84.3L256.7 84.1M245.5 84.3L252.8 72.6M222.9 98.1L234.3 91.5M222.9 98.1L223.1 84.3M222.9 98.1L234.3 104.9M222.9 98.1L211.5 97.8M222.9 98.1L222.9 105.1M245.7 98.1L234.3 91.5M245.7 98.1L245.5 84.3M245.7 98.1L234.3 104.9M245.7 98.1L257.1 97.8M245.7 98.1L245.7 105.1" stroke="#a81b0c" stroke-width=".9" fill="none"/><circle cx="211.5" cy="97.8" r="3.1" fill="url(#gR)"/><circle cx="257.1" cy="97.8" r="3.1" fill="url(#gR)"/><circle cx="211.9" cy="84.1" r="3.1" fill="url(#gR)"/><circle cx="256.7" cy="84.1" r="3.1" fill="url(#gR)"/><circle cx="247.7" cy="55" r="3.1" fill="url(#gR)"/><circle cx="220.9" cy="55" r="3.1" fill="url(#gR)"/><circle cx="234.3" cy="54.6" r="3.1" fill="url(#gR)"/><circle cx="197.4" cy="54.5" r="3.1" fill="url(#gR)"/><circle cx="271.2" cy="54.5" r="3.1" fill="url(#gR)"/><circle cx="220.4" cy="41.5" r="3.1" fill="url(#gR)"/><circle cx="248.2" cy="41.5" r="3.1" fill="url(#gR)"/><circle cx="194" cy="78.2" r="3.1" fill="url(#gR)"/><circle cx="274.6" cy="78.2" r="3.1" fill="url(#gR)"/><circle cx="234.3" cy="40.9" r="3.1" fill="url(#gR)"/><circle cx="220.4" cy="28.1" r="3.1" fill="url(#gR)"/><circle cx="248.2" cy="28.1" r="3.1" fill="url(#gR)"/><circle cx="234.3" cy="27.6" r="3.1" fill="url(#gR)"/><circle cx="241.3" cy="66.5" r="3.1" fill="url(#gR)"/><circle cx="227.3" cy="66.5" r="3.1" fill="url(#gR)"/><circle cx="200.9" cy="90" r="3.1" fill="url(#gR)"/><circle cx="267.7" cy="90" r="3.1" fill="url(#gR)"/><circle cx="234.3" cy="77.9" r="3.1" fill="url(#gR)"/><circle cx="234.3" cy="104.9" r="3.1" fill="url(#gR)"/><circle cx="234.3" cy="91.5" r="3.1" fill="url(#gR)"/><circle cx="209.2" cy="60.6" r="3.1" fill="url(#gR)"/><circle cx="259.4" cy="60.6" r="3.1" fill="url(#gR)"/><circle cx="215.8" cy="72.6" r="3.1" fill="url(#gR)"/><circle cx="252.8" cy="72.6" r="3.1" fill="url(#gR)"/><circle cx="202.5" cy="43.2" r="3.1" fill="url(#gR)"/><circle cx="266.1" cy="43.2" r="3.1" fill="url(#gR)"/><circle cx="270.8" cy="66.6" r="3.1" fill="url(#gR)"/><circle cx="197.8" cy="66.6" r="3.1" fill="url(#gR)"/><circle cx="223.1" cy="84.3" r="3.1" fill="url(#gR)"/><circle cx="245.5" cy="84.3" r="3.1" fill="url(#gR)"/><circle cx="222.9" cy="98.1" r="3.1" fill="url(#gR)"/><circle cx="245.7" cy="98.1" r="3.1" fill="url(#gR)"/><path d="M214.2 49.6L220.9 55M214.2 49.6L209.2 60.6M214.2 49.6L220.4 41.5M214.2 49.6L202.5 43.2M254.4 49.6L247.7 55M254.4 49.6L259.4 60.6M254.4 49.6L248.2 41.5M254.4 49.6L266.1 43.2M264.2 78.7L256.7 84.1M264.2 78.7L263.6 72.3M264.2 78.7L252.8 72.6M264.2 78.7L267.7 90M264.2 78.7L270.8 66.6M264.2 78.7L274.6 78.2M204.4 78.7L211.9 84.1M204.4 78.7L205 72.3M204.4 78.7L215.8 72.6M204.4 78.7L200.9 90M204.4 78.7L197.8 66.6M204.4 78.7L194 78.2M241.2 49L247.7 55M241.2 49L234.3 54.6M241.2 49L254.4 49.6M241.2 49L248.2 41.5M241.2 49L234.3 40.9M227.4 49L220.9 55M227.4 49L234.3 54.6M227.4 49L214.2 49.6M227.4 49L220.4 41.5M227.4 49L234.3 40.9M213.6 36L214.2 49.6M213.6 36L220.4 41.5M213.6 36L202.5 43.2M213.6 36L220.4 28.1M255 36L254.4 49.6M255 36L248.2 41.5M255 36L266.1 43.2M255 36L248.2 28.1M227.2 35.3L227.4 49M227.2 35.3L220.4 41.5M227.2 35.3L234.3 40.9M227.2 35.3L213.6 36M227.2 35.3L220.4 28.1M227.2 35.3L234.3 27.6M241.4 35.3L241.2 49M241.4 35.3L248.2 41.5M241.4 35.3L234.3 40.9M241.4 35.3L255 36M241.4 35.3L248.2 28.1M241.4 35.3L234.3 27.6M241.4 35.3L227.2 35.3M211.8 90.5L223.1 84.3M211.8 90.5L200.9 90M211.8 90.5L204.4 78.7M211.8 90.5L211.5 97.8M211.8 90.5L222.9 98.1M256.8 90.5L245.5 84.3M256.8 90.5L267.7 90M256.8 90.5L264.2 78.7M256.8 90.5L257.1 97.8M256.8 90.5L245.7 98.1M220.4 60.9L227.3 66.5M220.4 60.9L214.2 49.6M220.4 60.9L227.4 49M220.4 60.9L209.2 60.6M220.4 60.9L215.8 72.6M248.2 60.9L241.3 66.5M248.2 60.9L254.4 49.6M248.2 60.9L241.2 49M248.2 60.9L259.4 60.6M248.2 60.9L252.8 72.6M234.3 60.8L227.3 66.5M234.3 60.8L241.3 66.5M234.3 60.8L220.4 60.9M234.3 60.8L248.2 60.9M234.3 60.8L227.4 49M234.3 60.8L241.2 49M266.1 55.1L254.4 49.6M266.1 55.1L259.4 60.6M266.1 55.1L266.1 43.2M266.1 55.1L270.8 66.6M202.5 55.1L214.2 49.6M202.5 55.1L209.2 60.6M202.5 55.1L202.5 43.2M202.5 55.1L197.8 66.6M227.4 72.7L234.3 77.9M227.4 72.7L220.4 60.9M227.4 72.7L223.1 84.3M227.4 72.7L234.3 60.8M227.4 72.7L215.8 72.6M241.2 72.7L234.3 77.9M241.2 72.7L248.2 60.9M241.2 72.7L245.5 84.3M241.2 72.7L234.3 60.8M241.2 72.7L252.8 72.6M234.3 84L227.4 72.7M234.3 84L241.2 72.7M234.3 84L245.5 84.3M234.3 84L223.1 84.3M234.3 97.5L234.3 104.9M234.3 97.5L245.7 98.1M234.3 97.5L222.9 98.1M208.8 66.9L220.4 60.9M208.8 66.9L215.8 72.6M208.8 66.9L202.5 55.1M208.8 66.9L197.8 66.6M208.8 66.9L204.4 78.7M259.8 66.9L248.2 60.9M259.8 66.9L252.8 72.6M259.8 66.9L266.1 55.1M259.8 66.9L270.8 66.6M259.8 66.9L264.2 78.7" stroke="#a81b0c" stroke-width=".9" fill="none"/><circle cx="214.2" cy="49.6" r="3.1" fill="url(#gR)"/><circle cx="254.4" cy="49.6" r="3.1" fill="url(#gR)"/><circle cx="264.2" cy="78.7" r="3.1" fill="url(#gR)"/><circle cx="204.4" cy="78.7" r="3.1" fill="url(#gR)"/><circle cx="241.2" cy="49" r="3.1" fill="url(#gR)"/><circle cx="227.4" cy="49" r="3.1" fill="url(#gR)"/><circle cx="213.6" cy="36" r="3.1" fill="url(#gR)"/><circle cx="255" cy="36" r="3.1" fill="url(#gR)"/><circle cx="227.2" cy="35.3" r="3.1" fill="url(#gR)"/><circle cx="241.4" cy="35.3" r="3.1" fill="url(#gR)"/><circle cx="211.8" cy="90.5" r="3.1" fill="url(#gR)"/><circle cx="256.8" cy="90.5" r="3.1" fill="url(#gR)"/><circle cx="220.4" cy="60.9" r="3.1" fill="url(#gR)"/><circle cx="248.2" cy="60.9" r="3.1" fill="url(#gR)"/><circle cx="234.3" cy="60.8" r="3.1" fill="url(#gR)"/><circle cx="266.1" cy="55.1" r="3.1" fill="url(#gR)"/><circle cx="202.5" cy="55.1" r="3.1" fill="url(#gR)"/><circle cx="227.4" cy="72.7" r="3.1" fill="url(#gR)"/><circle cx="241.2" cy="72.7" r="3.1" fill="url(#gR)"/><circle cx="234.3" cy="84" r="3.1" fill="url(#gR)"/><circle cx="234.3" cy="97.5" r="3.1" fill="url(#gR)"/><circle cx="208.8" cy="66.9" r="3.1" fill="url(#gR)"/><circle cx="259.8" cy="66.9" r="3.1" fill="url(#gR)"/><path d="M215.8 78.9L227.4 72.7M215.8 78.9L223.1 84.3M215.8 78.9L215.8 72.6M215.8 78.9L211.8 90.5M215.8 78.9L204.4 78.7M215.8 78.9L208.8 66.9M252.8 78.9L241.2 72.7M252.8 78.9L245.5 84.3M252.8 78.9L252.8 72.6M252.8 78.9L256.8 90.5M252.8 78.9L264.2 78.7M252.8 78.9L259.8 66.9M207.5 44.1L214.2 49.6M207.5 44.1L202.5 55.1M207.5 44.1L213.6 36M261.1 44.1L254.4 49.6M261.1 44.1L266.1 55.1M261.1 44.1L255 36M223.2 90.4L234.3 84M223.2 90.4L234.3 97.5M223.2 90.4L211.8 90.5M223.2 90.4L215.8 78.9M223.2 90.4L222.9 98.1M245.4 90.4L234.3 84M245.4 90.4L234.3 97.5M245.4 90.4L256.8 90.5M245.4 90.4L252.8 78.9M245.4 90.4L245.7 98.1M220.5 43.5L214.2 49.6M220.5 43.5L227.4 49M220.5 43.5L207.5 44.1M220.5 43.5L213.6 36M220.5 43.5L227.2 35.3M248.1 43.5L254.4 49.6M248.1 43.5L241.2 49M248.1 43.5L261.1 44.1M248.1 43.5L255 36M248.1 43.5L241.4 35.3M234.3 43.3L227.4 49M234.3 43.3L241.2 49M234.3 43.3L220.5 43.5M234.3 43.3L248.1 43.5M234.3 43.3L241.4 35.3M234.3 43.3L227.2 35.3M255 55.3L248.2 60.9M255 55.3L261.1 44.1M255 55.3L248.1 43.5M255 55.3L266.1 55.1M255 55.3L259.8 66.9M213.6 55.3L220.4 60.9M213.6 55.3L207.5 44.1M213.6 55.3L220.5 43.5M213.6 55.3L202.5 55.1M213.6 55.3L208.8 66.9M241.4 55.1L248.2 60.9M241.4 55.1L234.3 60.8M241.4 55.1L255 55.3M241.4 55.1L234.3 43.3M241.4 55.1L248.1 43.5M227.2 55.1L220.4 60.9M227.2 55.1L234.3 60.8M227.2 55.1L213.6 55.3M227.2 55.1L220.5 43.5M227.2 55.1L234.3 43.3M248.2 67.1L241.2 72.7M248.2 67.1L255 55.3M248.2 67.1L241.4 55.1M248.2 67.1L259.8 66.9M248.2 67.1L252.8 78.9M220.4 67.1L227.4 72.7M220.4 67.1L213.6 55.3M220.4 67.1L227.2 55.1M220.4 67.1L208.8 66.9M220.4 67.1L215.8 78.9M234.3 67.1L227.4 72.7M234.3 67.1L241.2 72.7M234.3 67.1L220.4 67.1M234.3 67.1L248.2 67.1M234.3 67.1L241.4 55.1M234.3 67.1L227.2 55.1M227.4 78.9L234.3 84M227.4 78.9L220.4 67.1M227.4 78.9L223.2 90.4M227.4 78.9L234.3 67.1M227.4 78.9L215.8 78.9M241.2 78.9L234.3 84M241.2 78.9L248.2 67.1M241.2 78.9L245.4 90.4M241.2 78.9L234.3 67.1M241.2 78.9L252.8 78.9M234.3 90L227.4 78.9M234.3 90L241.2 78.9M234.3 90L234.3 97.5M234.3 90L245.4 90.4M234.3 90L223.2 90.4" stroke="#a81b0c" stroke-width=".9" fill="none"/><circle cx="215.8" cy="78.9" r="3.1" fill="url(#gR)"/><circle cx="252.8" cy="78.9" r="3.1" fill="url(#gR)"/><circle cx="207.5" cy="44.1" r="3.5" fill="url(#gG)"/><circle cx="261.1" cy="44.1" r="3.5" fill="url(#gG)"/><circle cx="223.2" cy="90.4" r="3.1" fill="url(#gR)"/><circle cx="245.4" cy="90.4" r="3.1" fill="url(#gR)"/><circle cx="220.5" cy="43.5" r="3.1" fill="url(#gR)"/><circle cx="248.1" cy="43.5" r="3.1" fill="url(#gR)"/><circle cx="234.3" cy="43.3" r="3.1" fill="url(#gR)"/><circle cx="255" cy="55.3" r="3.1" fill="url(#gR)"/><circle cx="213.6" cy="55.3" r="3.1" fill="url(#gR)"/><circle cx="241.4" cy="55.1" r="3.1" fill="url(#gR)"/><circle cx="227.2" cy="55.1" r="3.1" fill="url(#gR)"/><circle cx="248.2" cy="67.1" r="3.1" fill="url(#gR)"/><circle cx="220.4" cy="67.1" r="3.1" fill="url(#gR)"/><circle cx="234.3" cy="67.1" r="3.1" fill="url(#gR)"/><circle cx="227.4" cy="78.9" r="3.1" fill="url(#gR)"/><circle cx="241.2" cy="78.9" r="3.1" fill="url(#gR)"/><circle cx="234.3" cy="90" r="3.5" fill="url(#gG)"/></g>
<g font-family="Liberation Sans, Arial, Helvetica, sans-serif" font-weight="bold" fill="#000" stroke="#000" stroke-width=".25">
<text x="286.1" y="25.4" font-size="16.0">Ih-Fe<tspan font-size="10.2" dy="7.9">102</tspan><tspan dy="-7.9">Co</tspan><tspan font-size="10.2" dy="7.9">207</tspan></text>
<path d="M287.2 54.7H326.8" stroke="#000" stroke-width="2.3"/>
<rect x="302.8" y="50.6" width="8.2" height="8.2" stroke="none"/>
<path d="M287.2 75.8H326.8" stroke="#f00" stroke-width="2.3"/>
<circle cx="306.9" cy="75.8" r="4.3" fill="#f00" stroke="none"/>
<text x="331" y="59.7" font-size="16.4">Fe</text>
<text x="331" y="81.3" font-size="16.4">Co</text>
</g>
<g><path d="M437 62.5L443.7 50.9M437 62.5L430.3 50.9M423.5 62.5L437 62.5M450.5 62.5L437 62.5M430.2 74.2L437 62.5M443.8 74.2L437 62.5M437 85.7L430.2 74.2M437 85.7L443.8 74.2M419.2 51.4L430.3 50.9M419.2 51.4L423.5 62.5M454.8 51.4L443.7 50.9M454.8 51.4L450.5 62.5" stroke="#a81b0c" stroke-width=".9" fill="none"/><path d="M443.7 50.9L430.3 50.9M423.5 62.5L430.3 50.9M450.5 62.5L443.7 50.9M423.6 85.6L416.9 74M423.6 85.6L437 85.7M450.4 85.6L457.1 74M450.4 85.6L437 85.7M463.4 85.3L450.4 85.6M410.6 85.3L423.6 85.6M426.1 40L437 39.8M447.9 40L437 39.8" stroke="#1fa822" stroke-width=".8" fill="none"/><circle cx="437" cy="39.8" r="3.5" fill="url(#gG)"/><circle cx="430.3" cy="50.9" r="3.5" fill="url(#gG)"/><circle cx="443.7" cy="50.9" r="3.5" fill="url(#gG)"/><circle cx="437" cy="62.5" r="2.9" fill="url(#gR)"/><circle cx="423.5" cy="62.5" r="3.5" fill="url(#gG)"/><circle cx="450.5" cy="62.5" r="3.5" fill="url(#gG)"/><circle cx="430.2" cy="74.2" r="2.9" fill="url(#gR)"/><circle cx="443.8" cy="74.2" r="2.9" fill="url(#gR)"/><circle cx="416.9" cy="74" r="3.5" fill="url(#gG)"/><circle cx="457.1" cy="74" r="3.5" fill="url(#gG)"/><circle cx="437" cy="85.7" r="3.5" fill="url(#gG)"/><circle cx="423.6" cy="85.6" r="3.5" fill="url(#gG)"/><circle cx="450.4" cy="85.6" r="3.5" fill="url(#gG)"/><circle cx="463.4" cy="85.3" r="3.5" fill="url(#gG)"/><circle cx="410.6" cy="85.3" r="3.5" fill="url(#gG)"/><circle cx="426.1" cy="40" r="3.5" fill="url(#gG)"/><circle cx="447.9" cy="40" r="3.5" fill="url(#gG)"/><circle cx="419.2" cy="51.4" r="2.9" fill="url(#gR)"/><circle cx="454.8" cy="51.4" r="2.9" fill="url(#gR)"/><path d="M412.4 63.1L423.5 62.5M412.4 63.1L416.9 74M461.6 63.1L450.5 62.5M461.6 63.1L457.1 74M437 46.2L426.1 40M437 46.2L447.9 40M437 46.2L443.7 50.9M437 46.2L430.3 50.9M443.7 57.5L437 46.2M443.7 57.5L437 62.5M430.3 57.5L437 46.2M430.3 57.5L437 62.5M437 69.1L443.7 57.5M437 69.1L430.3 57.5M437 69.1L430.2 74.2M437 69.1L443.8 74.2M423.5 69.1L430.3 57.5M450.5 69.1L443.7 57.5M450.5 69.1L437 69.1M443.8 93.7L437 85.7M430.2 93.7L437 85.7M416.9 93.3L430.2 93.7M457.1 93.3L443.8 93.7M443.7 80.6L450.5 69.1M443.7 80.6L437 69.1M443.7 80.6L437 85.7M443.7 80.6L443.8 93.7M430.3 80.6L423.5 69.1M430.3 80.6L437 69.1M430.3 80.6L437 85.7M430.3 80.6L430.2 93.7M456.8 80.4L443.7 80.6M456.8 80.4L468 74.6M456.8 80.4L457.1 93.3M456.8 80.4L450.4 85.6M417.2 80.4L430.3 80.6M417.2 80.4L406 74.6M417.2 80.4L416.9 93.3M417.2 80.4L423.6 85.6M415.2 40.4L419.2 51.4M408.2 52L412.4 63.1M465.8 52L461.6 63.1" stroke="#a81b0c" stroke-width=".9" fill="none"/><path d="M468 74.6L457.1 74M406 74.6L416.9 74M437 33.2L426.1 40M437 33.2L447.9 40M415.2 40.4L426.1 40M458.8 40.4L447.9 40" stroke="#1fa822" stroke-width=".8" fill="none"/><circle cx="412.4" cy="63.1" r="2.9" fill="url(#gR)"/><circle cx="461.6" cy="63.1" r="2.9" fill="url(#gR)"/><circle cx="468" cy="74.6" r="3.5" fill="url(#gG)"/><circle cx="406" cy="74.6" r="3.5" fill="url(#gG)"/><circle cx="437" cy="33.2" r="3.5" fill="url(#gG)"/><circle cx="443.7" cy="57.5" r="2.9" fill="url(#gR)"/><circle cx="430.3" cy="57.5" r="2.9" fill="url(#gR)"/><circle cx="437" cy="69.1" r="2.9" fill="url(#gR)"/><circle cx="443.8" cy="93.7" r="2.9" fill="url(#gR)"/><circle cx="430.2" cy="93.7" r="2.9" fill="url(#gR)"/><circle cx="416.9" cy="93.3" r="3.5" fill="url(#gG)"/><circle cx="457.1" cy="93.3" r="3.5" fill="url(#gG)"/><circle cx="456.8" cy="80.4" r="2.9" fill="url(#gR)"/><circle cx="417.2" cy="80.4" r="2.9" fill="url(#gR)"/><circle cx="415.2" cy="40.4" r="3.5" fill="url(#gG)"/><circle cx="458.8" cy="40.4" r="3.5" fill="url(#gG)"/><circle cx="408.2" cy="52" r="2.9" fill="url(#gR)"/><circle cx="465.8" cy="52" r="2.9" fill="url(#gR)"/><path d="M401.7 63.7L412.4 63.1M472.3 63.7L461.6 63.1M426.1 46.5L430.3 57.5M426.1 46.5L419.2 51.4M447.9 46.5L443.7 57.5M447.9 46.5L454.8 51.4M448 33.4L458.8 40.4M426 33.4L415.2 40.4M419.2 58L426.1 46.5M419.2 58L423.5 69.1M419.2 58L412.4 63.1M419.2 58L408.2 52M454.8 58L447.9 46.5M454.8 58L450.5 69.1M454.8 58L461.6 63.1M454.8 58L465.8 52M412.6 69.7L417.2 80.4M412.6 69.7L423.5 69.1M412.6 69.7L419.2 58M412.6 69.7L401.7 63.7M461.4 69.7L456.8 80.4M461.4 69.7L450.5 69.1M461.4 69.7L454.8 58M461.4 69.7L472.3 63.7M437 52.7L437 46.2M437 52.7L426.1 46.5M437 52.7L447.9 46.5M437 52.7L443.7 57.5M437 52.7L430.3 57.5M437 101.5L430.2 93.7M450.5 101.3L437 101.5M423.5 101.3L437 101.5M437 39.7L426.1 46.5M437 39.7L447.9 46.5M437 39.7L426 33.4M437 39.7L448 33.4M430.2 64L437 52.7M430.2 64L423.5 69.1M430.2 64L437 69.1M443.8 64L437 52.7M443.8 64L450.5 69.1M443.8 64L437 69.1M437 88.7L443.7 80.6M437 88.7L430.3 80.6M437 88.7L430.2 93.7M437 88.7L443.8 93.7M423.5 88.4L417.2 80.4M423.5 88.4L437 88.7M423.5 88.4L423.5 101.3M450.5 88.4L456.8 80.4M450.5 88.4L437 88.7M450.5 88.4L450.5 101.3M437 26.8L426 33.4M437 26.8L448 33.4M401.4 75.7L406 86.5M472.6 75.7L468 86.5M437 75.7L443.8 64M437 75.7L430.2 64M437 75.7L443.7 80.6M437 75.7L430.3 80.6M423.8 75.4L437 75.7M423.8 75.4L412.6 69.7M423.8 75.4L423.5 88.4M450.2 75.4L443.8 64M450.2 75.4L437 75.7M450.2 75.4L461.4 69.7M450.2 75.4L450.5 88.4M397.7 52.7L408.2 52M476.3 52.7L465.8 52M461.6 94.7L450.5 101.3M461.6 94.7L468 86.5M412.4 94.7L423.5 101.3M412.4 94.7L406 86.5" stroke="#a81b0c" stroke-width=".9" fill="none"/><path d="M468 86.5L457.1 93.3M406 86.5L416.9 93.3M450.5 101.3L457.1 93.3M423.5 101.3L416.9 93.3M404.4 41.2L415.2 40.4M469.6 41.2L458.8 40.4M397.7 52.7L404.4 41.2M397.7 52.7L401.7 63.7M476.3 52.7L469.6 41.2M476.3 52.7L472.3 63.7" stroke="#1fa822" stroke-width=".8" fill="none"/><circle cx="468" cy="86.5" r="3.5" fill="url(#gG)"/><circle cx="406" cy="86.5" r="3.5" fill="url(#gG)"/><circle cx="401.7" cy="63.7" r="3.5" fill="url(#gG)"/><circle cx="472.3" cy="63.7" r="3.5" fill="url(#gG)"/><circle cx="426.1" cy="46.5" r="2.9" fill="url(#gR)"/><circle cx="447.9" cy="46.5" r="2.9" fill="url(#gR)"/><circle cx="448" cy="33.4" r="2.9" fill="url(#gR)"/><circle cx="426" cy="33.4" r="2.9" fill="url(#gR)"/><circle cx="419.2" cy="58" r="2.9" fill="url(#gR)"/><circle cx="454.8" cy="58" r="2.9" fill="url(#gR)"/><circle cx="412.6" cy="69.7" r="2.9" fill="url(#gR)"/><circle cx="461.4" cy="69.7" r="2.9" fill="url(#gR)"/><circle cx="437" cy="52.7" r="2.9" fill="url(#gR)"/><circle cx="437" cy="101.5" r="2.9" fill="url(#gR)"/><circle cx="450.5" cy="101.3" r="3.5" fill="url(#gG)"/><circle cx="423.5" cy="101.3" r="3.5" fill="url(#gG)"/><circle cx="437" cy="39.7" r="2.9" fill="url(#gR)"/><circle cx="430.2" cy="64" r="2.9" fill="url(#gR)"/><circle cx="443.8" cy="64" r="2.9" fill="url(#gR)"/><circle cx="437" cy="88.7" r="2.9" fill="url(#gR)"/><circle cx="423.5" cy="88.4" r="2.9" fill="url(#gR)"/><circle cx="450.5" cy="88.4" r="2.9" fill="url(#gR)"/><circle cx="404.4" cy="41.2" r="3.5" fill="url(#gG)"/><circle cx="469.6" cy="41.2" r="3.5" fill="url(#gG)"/><circle cx="437" cy="26.8" r="3.5" fill="url(#gG)"/><circle cx="401.4" cy="75.7" r="2.9" fill="url(#gR)"/><circle cx="472.6" cy="75.7" r="2.9" fill="url(#gR)"/><circle cx="437" cy="75.7" r="2.9" fill="url(#gR)"/><circle cx="423.8" cy="75.4" r="2.9" fill="url(#gR)"/><circle cx="450.2" cy="75.4" r="2.9" fill="url(#gR)"/><circle cx="397.7" cy="52.7" r="3.5" fill="url(#gG)"/><circle cx="476.3" cy="52.7" r="3.5" fill="url(#gG)"/><circle cx="461.6" cy="94.7" r="2.9" fill="url(#gR)"/><circle cx="412.4" cy="94.7" r="2.9" fill="url(#gR)"/><path d="M415.2 47.1L426.1 46.5M458.8 47.1L447.9 46.5M415 34L404.4 41.2M415 34L426 33.4M459 34L469.6 41.2M459 34L448 33.4M412.6 81.6L412.6 69.7M412.6 81.6L423.5 88.4M412.6 81.6L401.4 75.7M412.6 81.6L412.4 94.7M461.4 81.6L461.4 69.7M461.4 81.6L450.5 88.4M461.4 81.6L472.6 75.7M461.4 81.6L461.6 94.7M408.5 58.7L415.2 47.1M408.5 58.7L412.6 69.7M408.5 58.7L419.2 58M465.5 58.7L458.8 47.1M465.5 58.7L461.4 69.7M465.5 58.7L454.8 58M426.1 53L437 52.7M426.1 53L415.2 47.1M447.9 53L437 52.7M447.9 53L443.8 64M447.9 53L458.8 47.1M426 40L415.2 47.1M426 40L437 39.7M426 40L415 34M448 40L458.8 47.1M448 40L437 39.7M448 40L459 34M401.7 87.6L401.4 75.7M401.7 87.6L412.4 94.7M472.3 87.6L472.6 75.7M472.3 87.6L461.6 94.7M397.2 64.6L408.5 58.7M397.2 64.6L397.7 52.7M397.2 64.6L401.4 75.7M476.8 64.6L465.5 58.7M476.8 64.6L476.3 52.7M476.8 64.6L472.6 75.7M419.3 64.6L423.8 75.4M419.3 64.6L426.1 53M419.3 64.6L430.2 64M419.3 64.6L419.2 58M454.7 64.6L450.2 75.4M454.7 64.6L447.9 53M454.7 64.6L443.8 64M454.7 64.6L454.8 58M443.7 108.8L437 101.5M430.3 108.8L437 101.5M448 27.1L437 26.8M448 27.1L459 34M426 27.1L437 26.8M426 27.1L415 34M430.3 96.1L437 88.7M430.3 96.1L430.3 108.8M430.3 96.1L437 101.5M443.7 96.1L437 88.7M443.7 96.1L443.7 108.8M443.7 96.1L437 101.5M437 59.1L426.1 53M437 59.1L447.9 53M437 59.1L443.8 64M437 59.1L430.2 64M430.2 83.4L430.3 96.1M430.2 83.4L437 88.7M443.8 83.4L443.7 96.1M443.8 83.4L437 88.7M437 46.2L437 59.1M437 46.2L437 52.7M437 46.2L426.1 53M437 46.2L447.9 53M437 46.2L426 40M437 46.2L448 40M408.1 70.7L408.5 58.7M408.1 70.7L412.6 81.6M465.9 70.7L465.5 58.7M465.9 70.7L461.4 81.6M430.4 70.5L419.3 64.6M430.4 70.5L437 75.7M443.6 70.5L454.7 64.6M443.6 70.5L437 75.7M404.9 48L408.5 58.7M404.9 48L397.7 52.7M469.1 48L465.5 58.7M469.1 48L476.3 52.7M437 33.5L437 46.2M437 33.5L437 39.7M437 33.5L426 40M437 33.5L448 40M437 33.5L426 27.1M437 33.5L448 27.1" stroke="#a81b0c" stroke-width=".9" fill="none"/><path d="M394.2 42.1L397.7 52.7M479.8 42.1L476.3 52.7" stroke="#1fa822" stroke-width=".8" fill="none"/><circle cx="415.2" cy="47.1" r="2.9" fill="url(#gR)"/><circle cx="458.8" cy="47.1" r="2.9" fill="url(#gR)"/><circle cx="415" cy="34" r="2.9" fill="url(#gR)"/><circle cx="459" cy="34" r="2.9" fill="url(#gR)"/><circle cx="412.6" cy="81.6" r="2.9" fill="url(#gR)"/><circle cx="461.4" cy="81.6" r="2.9" fill="url(#gR)"/><circle cx="408.5" cy="58.7" r="2.9" fill="url(#gR)"/><circle cx="465.5" cy="58.7" r="2.9" fill="url(#gR)"/><circle cx="426.1" cy="53" r="2.9" fill="url(#gR)"/><circle cx="447.9" cy="53" r="2.9" fill="url(#gR)"/><circle cx="426" cy="40" r="2.9" fill="url(#gR)"/><circle cx="448" cy="40" r="2.9" fill="url(#gR)"/><circle cx="401.7" cy="87.6" r="3.5" fill="url(#gG)"/><circle cx="472.3" cy="87.6" r="3.5" fill="url(#gG)"/><circle cx="397.2" cy="64.6" r="2.9" fill="url(#gR)"/><circle cx="476.8" cy="64.6" r="2.9" fill="url(#gR)"/><circle cx="419.3" cy="64.6" r="2.9" fill="url(#gR)"/><circle cx="454.7" cy="64.6" r="2.9" fill="url(#gR)"/><circle cx="443.7" cy="108.8" r="3.5" fill="url(#gG)"/><circle cx="430.3" cy="108.8" r="3.5" fill="url(#gG)"/><circle cx="448" cy="27.1" r="2.9" fill="url(#gR)"/><circle cx="426" cy="27.1" r="2.9" fill="url(#gR)"/><circle cx="394.2" cy="42.1" r="3.5" fill="url(#gG)"/><circle cx="479.8" cy="42.1" r="3.5" fill="url(#gG)"/><circle cx="430.3" cy="96.1" r="2.9" fill="url(#gR)"/><circle cx="443.7" cy="96.1" r="2.9" fill="url(#gR)"/><circle cx="437" cy="59.1" r="2.9" fill="url(#gR)"/><circle cx="430.2" cy="83.4" r="2.9" fill="url(#gR)"/><circle cx="443.8" cy="83.4" r="2.9" fill="url(#gR)"/><circle cx="437" cy="46.2" r="2.9" fill="url(#gR)"/><circle cx="408.1" cy="70.7" r="2.9" fill="url(#gR)"/><circle cx="465.9" cy="70.7" r="2.9" fill="url(#gR)"/><circle cx="430.4" cy="70.5" r="2.9" fill="url(#gR)"/><circle cx="443.6" cy="70.5" r="2.9" fill="url(#gR)"/><circle cx="404.9" cy="48" r="2.9" fill="url(#gR)"/><circle cx="469.1" cy="48" r="2.9" fill="url(#gR)"/><circle cx="437" cy="33.5" r="2.9" fill="url(#gR)"/><path d="M454.8 102.5L443.7 96.1M454.8 102.5L443.7 108.8M454.8 102.5L461.6 94.7M419.2 102.5L430.3 96.1M419.2 102.5L430.3 108.8M404.4 35L404.9 48M469.6 35L469.1 48M437 20.9L437 33.5M437 20.9L448 27.1M454.8 89.7L443.8 83.4M454.8 89.7L443.7 96.1M454.8 89.7L461.4 81.6M454.8 89.7L454.8 102.5M419.2 89.7L430.2 83.4M419.2 89.7L430.3 96.1M419.2 89.7L412.6 81.6M419.2 89.7L419.2 102.5M397.2 76.7L408.1 70.7M397.2 76.7L401.7 87.6M397.2 76.7L397.2 64.6M476.8 76.7L465.9 70.7M476.8 76.7L472.3 87.6M476.8 76.7L476.8 64.6M419.3 76.6L430.4 70.5M419.3 76.6L430.2 83.4M419.3 76.6L408.1 70.7M419.3 76.6L419.2 89.7M454.7 76.6L443.6 70.5M454.7 76.6L443.8 83.4M454.7 76.6L465.9 70.7M454.7 76.6L454.8 89.7M393.6 53.7L404.9 48M393.6 53.7L397.2 64.6M480.4 53.7L469.1 48M480.4 53.7L476.8 64.6M415.6 53.9L419.3 64.6M415.6 53.9L408.5 58.7M458.4 53.9L454.7 64.6M458.4 53.9L465.5 58.7M415.2 40.9L415.6 53.9M415.2 40.9L415.2 47.1M415.2 40.9L426 40M458.8 40.9L458.4 53.9M458.8 40.9L458.8 47.1M408.2 95.6L419.2 89.7M408.2 95.6L419.2 102.5M465.8 95.6L454.8 89.7M465.8 95.6L454.8 102.5M415.2 28L415.2 40.9M458.8 28L458.8 40.9M408.5 82.6L419.3 76.6M408.5 82.6L419.2 89.7M408.5 82.6L397.2 76.7M408.5 82.6L408.2 95.6M465.5 82.6L454.7 76.6M465.5 82.6L454.8 89.7M465.5 82.6L476.8 76.7M465.5 82.6L465.8 95.6M404.3 59.6L415.6 53.9M404.3 59.6L404.9 48M404.3 59.6L408.1 70.7M404.3 59.6L397.2 64.6M469.7 59.6L458.4 53.9M469.7 59.6L469.1 48M469.7 59.6L465.9 70.7M469.7 59.6L476.8 64.6M437 103.2L443.7 96.1M437 103.2L430.3 96.1M437 103.2L443.7 108.8M437 103.2L430.3 108.8M426.1 46.8L426.3 59.7M426.1 46.8L415.6 53.9M426.1 46.8L426.1 53M447.9 46.8L447.7 59.7M447.9 46.8L458.4 53.9M447.9 46.8L447.9 53M437 90.7L443.8 83.4M437 90.7L430.2 83.4M437 90.7L443.7 96.1M437 90.7L430.3 96.1M426.1 34.1L426.1 46.8M426.1 34.1L415.2 40.9M426.1 34.1L437 33.5M447.9 34.1L447.9 46.8M447.9 34.1L458.8 40.9M447.9 34.1L437 33.5M437 78.1L437 90.7M437 78.1L443.8 83.4M437 78.1L430.2 83.4M397.7 88.5L408.5 82.6M397.7 88.5L397.2 76.7M397.7 88.5L408.2 95.6M476.3 88.5L465.5 82.6M476.3 88.5L476.8 76.7M476.3 88.5L465.8 95.6M447.9 21.5L447.9 34.1M426.1 21.5L426.1 34.1M480.7 65.6L469.7 59.6M480.7 65.6L476.8 76.7M458.8 65.6L447.7 59.7M458.8 65.6L454.7 76.6M415.2 65.6L426.3 59.7M415.2 65.6L419.3 76.6M393.3 65.6L404.3 59.6M393.3 65.6L397.2 76.7" stroke="#a81b0c" stroke-width=".9" fill="none"/><path d="M404.4 35L394.2 42.1M469.6 35L479.8 42.1M393.6 53.7L394.2 42.1M480.4 53.7L479.8 42.1M415.2 28L404.4 35M458.8 28L469.6 35M437 115.8L443.7 108.8M437 115.8L430.3 108.8M447.9 21.5L458.8 28M426.1 21.5L415.2 28M480.7 65.6L480.4 53.7M393.3 65.6L393.6 53.7" stroke="#1fa822" stroke-width=".8" fill="none"/><circle cx="454.8" cy="102.5" r="2.9" fill="url(#gR)"/><circle cx="419.2" cy="102.5" r="2.9" fill="url(#gR)"/><circle cx="404.4" cy="35" r="3.5" fill="url(#gG)"/><circle cx="469.6" cy="35" r="3.5" fill="url(#gG)"/><circle cx="437" cy="20.9" r="3.5" fill="url(#gG)"/><circle cx="454.8" cy="89.7" r="2.9" fill="url(#gR)"/><circle cx="419.2" cy="89.7" r="2.9" fill="url(#gR)"/><circle cx="397.2" cy="76.7" r="2.9" fill="url(#gR)"/><circle cx="476.8" cy="76.7" r="2.9" fill="url(#gR)"/><circle cx="419.3" cy="76.6" r="2.9" fill="url(#gR)"/><circle cx="454.7" cy="76.6" r="2.9" fill="url(#gR)"/><circle cx="393.6" cy="53.7" r="3.5" fill="url(#gG)"/><circle cx="480.4" cy="53.7" r="3.5" fill="url(#gG)"/><circle cx="415.6" cy="53.9" r="2.9" fill="url(#gR)"/><circle cx="458.4" cy="53.9" r="2.9" fill="url(#gR)"/><circle cx="415.2" cy="40.9" r="2.9" fill="url(#gR)"/><circle cx="458.8" cy="40.9" r="2.9" fill="url(#gR)"/><circle cx="408.2" cy="95.6" r="2.9" fill="url(#gR)"/><circle cx="465.8" cy="95.6" r="2.9" fill="url(#gR)"/><circle cx="415.2" cy="28" r="3.5" fill="url(#gG)"/><circle cx="458.8" cy="28" r="3.5" fill="url(#gG)"/><circle cx="437" cy="115.8" r="3.5" fill="url(#gG)"/><circle cx="408.5" cy="82.6" r="2.9" fill="url(#gR)"/><circle cx="465.5" cy="82.6" r="2.9" fill="url(#gR)"/><circle cx="404.3" cy="59.6" r="2.9" fill="url(#gR)"/><circle cx="469.7" cy="59.6" r="2.9" fill="url(#gR)"/><circle cx="426.3" cy="59.7" r="2.9" fill="url(#gR)"/><circle cx="447.7" cy="59.7" r="2.9" fill="url(#gR)"/><circle cx="437" cy="103.2" r="2.9" fill="url(#gR)"/><circle cx="426.1" cy="46.8" r="2.9" fill="url(#gR)"/><circle cx="447.9" cy="46.8" r="2.9" fill="url(#gR)"/><circle cx="437" cy="90.7" r="2.9" fill="url(#gR)"/><circle cx="426.1" cy="34.1" r="2.9" fill="url(#gR)"/><circle cx="447.9" cy="34.1" r="2.9" fill="url(#gR)"/><circle cx="437" cy="78.1" r="2.9" fill="url(#gR)"/><circle cx="397.7" cy="88.5" r="3.5" fill="url(#gG)"/><circle cx="476.3" cy="88.5" r="3.5" fill="url(#gG)"/><circle cx="447.9" cy="21.5" r="3.5" fill="url(#gG)"/><circle cx="426.1" cy="21.5" r="3.5" fill="url(#gG)"/><circle cx="480.7" cy="65.6" r="3.5" fill="url(#gG)"/><circle cx="458.8" cy="65.6" r="2.9" fill="url(#gR)"/><circle cx="437" cy="65.6" r="2.9" fill="url(#gR)"/><circle cx="415.2" cy="65.6" r="2.9" fill="url(#gR)"/><circle cx="393.3" cy="65.6" r="3.5" fill="url(#gG)"/><path d="M447.9 109.7L437 103.2M447.9 109.7L454.8 102.5M426.1 109.7L437 103.2M426.1 109.7L419.2 102.5M437 53.1L426.1 46.8M437 53.1L447.9 46.8M437 53.1L437 46.2M426.1 97.1L437 90.7M426.1 97.1L437 103.2M426.1 97.1L419.2 89.7M426.1 97.1L426.1 109.7M426.1 97.1L419.2 102.5M447.9 97.1L437 90.7M447.9 97.1L437 103.2M447.9 97.1L454.8 89.7M447.9 97.1L447.9 109.7M447.9 97.1L454.8 102.5M437 40.5L437 53.1M437 40.5L426.1 46.8M437 40.5L447.9 46.8M437 40.5L426.1 34.1M437 40.5L447.9 34.1M437 40.5L437 33.5M426.1 84.4L437 90.7M426.1 84.4L419.3 76.6M426.1 84.4L419.2 89.7M447.9 84.4L437 78.1M447.9 84.4L437 90.7M447.9 84.4L454.7 76.6M447.9 84.4L454.8 89.7M437 28L437 40.5M437 28L426.1 34.1M437 28L447.9 34.1M437 28L426.1 21.5M437 28L447.9 21.5M437 28L437 20.9M426.3 71.5L426.1 84.4M426.3 71.5L419.3 76.6M447.7 71.5L447.9 84.4M447.7 71.5L454.7 76.6M404.3 71.6L415.2 65.6M404.3 71.6L404.3 59.6M404.3 71.6L408.5 82.6M404.3 71.6L397.2 76.7M469.7 71.6L458.8 65.6M469.7 71.6L469.7 59.6M469.7 71.6L465.5 82.6M469.7 71.6L476.8 76.7M408.5 48.6L404.3 59.6M408.5 48.6L415.2 40.9M465.5 48.6L469.7 59.6M465.5 48.6L458.8 40.9M437 15.4L437 28M415.2 103.2L426.1 97.1M415.2 103.2L408.2 95.6M458.8 103.2L447.9 97.1M458.8 103.2L465.8 95.6M408.2 35.6L408.5 48.6M408.2 35.6L397.7 42.7M408.2 35.6L415.2 28M465.8 35.6L465.5 48.6M465.8 35.6L476.3 42.7M465.8 35.6L458.8 28M415.2 90.3L426.1 84.4M415.2 90.3L426.1 97.1M415.2 90.3L408.5 82.6M415.2 90.3L408.2 95.6M458.8 90.3L447.9 84.4M458.8 90.3L447.9 97.1M458.8 90.3L465.5 82.6M458.8 90.3L465.8 95.6M415.6 77.3L426.3 71.5M415.6 77.3L415.2 65.6M415.6 77.3L426.1 84.4M415.6 77.3L404.3 71.6M415.6 77.3L408.5 82.6M458.4 77.3L447.7 71.5M458.4 77.3L458.8 65.6M458.4 77.3L447.9 84.4M458.4 77.3L469.7 71.6M458.4 77.3L465.5 82.6M393.6 77.5L404.3 71.6M480.4 77.5L469.7 71.6M419.3 54.6L415.2 65.6M419.3 54.6L426.1 46.8M454.7 54.6L458.8 65.6M454.7 54.6L447.9 46.8M397.2 54.5L408.5 48.6M397.2 54.5L397.7 42.7M397.2 54.5L393.3 65.6M476.8 54.5L465.5 48.6M476.8 54.5L476.3 42.7M476.8 54.5L480.7 65.6M454.8 41.5L454.7 54.6M454.8 41.5L465.5 48.6M454.8 41.5L447.9 34.1M419.2 41.5L419.3 54.6M419.2 41.5L408.5 48.6M419.2 41.5L426.1 34.1M404.4 96.2L415.2 90.3M469.6 96.2L458.8 90.3M419.2 28.7L419.2 41.5M419.2 28.7L426.1 21.5M419.2 28.7L408.2 35.6M454.8 28.7L454.8 41.5M454.8 28.7L447.9 21.5M454.8 28.7L465.8 35.6" stroke="#a81b0c" stroke-width=".9" fill="none"/><path d="M447.9 109.7L437 115.8M426.1 109.7L437 115.8M397.7 42.7L393.6 53.7M397.7 42.7L404.4 35M476.3 42.7L480.4 53.7M476.3 42.7L469.6 35M437 15.4L426.1 21.5M437 15.4L447.9 21.5M415.2 103.2L426.1 109.7M458.8 103.2L447.9 109.7M393.6 77.5L393.3 65.6M393.6 77.5L397.7 88.5M480.4 77.5L480.7 65.6M480.4 77.5L476.3 88.5M437 110.3L447.9 109.7M437 110.3L426.1 109.7M404.4 96.2L415.2 103.2M404.4 96.2L397.7 88.5M469.6 96.2L458.8 103.2M469.6 96.2L476.3 88.5" stroke="#1fa822" stroke-width=".8" fill="none"/><circle cx="447.9" cy="109.7" r="3.5" fill="url(#gG)"/><circle cx="426.1" cy="109.7" r="3.5" fill="url(#gG)"/><circle cx="397.7" cy="42.7" r="3.5" fill="url(#gG)"/><circle cx="476.3" cy="42.7" r="3.5" fill="url(#gG)"/><circle cx="437" cy="53.1" r="2.9" fill="url(#gR)"/><circle cx="426.1" cy="97.1" r="2.9" fill="url(#gR)"/><circle cx="447.9" cy="97.1" r="2.9" fill="url(#gR)"/><circle cx="437" cy="40.5" r="2.9" fill="url(#gR)"/><circle cx="426.1" cy="84.4" r="2.9" fill="url(#gR)"/><circle cx="447.9" cy="84.4" r="2.9" fill="url(#gR)"/><circle cx="437" cy="28" r="2.9" fill="url(#gR)"/><circle cx="426.3" cy="71.5" r="2.9" fill="url(#gR)"/><circle cx="447.7" cy="71.5" r="2.9" fill="url(#gR)"/><circle cx="404.3" cy="71.6" r="2.9" fill="url(#gR)"/><circle cx="469.7" cy="71.6" r="2.9" fill="url(#gR)"/><circle cx="408.5" cy="48.6" r="2.9" fill="url(#gR)"/><circle cx="465.5" cy="48.6" r="2.9" fill="url(#gR)"/><circle cx="437" cy="15.4" r="3.5" fill="url(#gG)"/><circle cx="415.2" cy="103.2" r="3.5" fill="url(#gG)"/><circle cx="458.8" cy="103.2" r="3.5" fill="url(#gG)"/><circle cx="408.2" cy="35.6" r="2.9" fill="url(#gR)"/><circle cx="465.8" cy="35.6" r="2.9" fill="url(#gR)"/><circle cx="415.6" cy="77.3" r="2.9" fill="url(#gR)"/><circle cx="458.4" cy="77.3" r="2.9" fill="url(#gR)"/><circle cx="393.6" cy="77.5" r="3.5" fill="url(#gG)"/><circle cx="480.4" cy="77.5" r="3.5" fill="url(#gG)"/><circle cx="419.3" cy="54.6" r="2.9" fill="url(#gR)"/><circle cx="454.7" cy="54.6" r="2.9" fill="url(#gR)"/><circle cx="397.2" cy="54.5" r="2.9" fill="url(#gR)"/><circle cx="476.8" cy="54.5" r="2.9" fill="url(#gR)"/><circle cx="454.8" cy="41.5" r="2.9" fill="url(#gR)"/><circle cx="419.2" cy="41.5" r="2.9" fill="url(#gR)"/><circle cx="437" cy="110.3" r="3.5" fill="url(#gG)"/><circle cx="404.4" cy="96.2" r="3.5" fill="url(#gG)"/><circle cx="469.6" cy="96.2" r="3.5" fill="url(#gG)"/><circle cx="419.2" cy="28.7" r="2.9" fill="url(#gR)"/><circle cx="454.8" cy="28.7" r="2.9" fill="url(#gR)"/><path d="M437 97.7L447.9 97.1M437 97.7L426.1 97.1M404.9 83.2L415.6 77.3M404.9 83.2L404.3 71.6M404.9 83.2L415.2 90.3M404.9 83.2L393.6 77.5M404.9 83.2L397.7 88.5M469.1 83.2L458.4 77.3M469.1 83.2L469.7 71.6M469.1 83.2L458.8 90.3M469.1 83.2L480.4 77.5M469.1 83.2L476.3 88.5M430.4 60.7L419.3 54.6M443.6 60.7L454.7 54.6M408.1 60.5L419.3 54.6M408.1 60.5L408.5 48.6M408.1 60.5L404.3 71.6M465.9 60.5L454.7 54.6M465.9 60.5L465.5 48.6M465.9 60.5L469.7 71.6M437 85L437 78.1M437 85L447.9 84.4M437 85L426.1 84.4M430.2 47.8L437 53.1M430.2 47.8L437 40.5M430.2 47.8L419.3 54.6M443.8 47.8L437 53.1M443.8 47.8L437 40.5M443.8 47.8L454.7 54.6M443.7 35.1L437 40.5M443.7 35.1L443.8 47.8M443.7 35.1L437 28M443.7 35.1L454.8 41.5M443.7 35.1L454.8 28.7M430.3 35.1L437 40.5M430.3 35.1L430.2 47.8M430.3 35.1L437 28M430.3 35.1L419.2 41.5M430.3 35.1L419.2 28.7M394.2 89.1L404.9 83.2M479.8 89.1L469.1 83.2M448 104.1L437 97.7M448 104.1L437 110.3M448 104.1L458.8 103.2M426 104.1L437 97.7M426 104.1L437 110.3M426 104.1L415.2 103.2M443.7 22.4L437 28M443.7 22.4L443.7 35.1M443.7 22.4L454.8 28.7M430.3 22.4L437 28M430.3 22.4L430.3 35.1M430.3 22.4L419.2 28.7M419.3 66.6L430.4 60.7M419.3 66.6L415.6 77.3M419.3 66.6L419.3 54.6M419.3 66.6L408.1 60.5M454.7 66.6L443.6 60.7M454.7 66.6L458.4 77.3M454.7 66.6L454.7 54.6M454.7 66.6L465.9 60.5M397.2 66.6L408.1 60.5M397.2 66.6L393.6 77.5M397.2 66.6L397.2 54.5M476.8 66.6L465.9 60.5M476.8 66.6L480.4 77.5M476.8 66.6L476.8 54.5M401.7 43.6L397.2 54.5M401.7 43.6L408.2 35.6M472.3 43.6L476.8 54.5M472.3 43.6L465.8 35.6M426 91.2L437 85M426 91.2L437 97.7M426 91.2L415.2 90.3M448 91.2L437 85M448 91.2L437 97.7M448 91.2L458.8 90.3M426.1 78.2L437 72.1M426.1 78.2L426.3 71.5M426.1 78.2L415.6 77.3M426.1 78.2L437 85M426.1 78.2L419.3 66.6M426.1 78.2L426.1 84.4M447.9 78.2L437 72.1M447.9 78.2L447.7 71.5M447.9 78.2L458.4 77.3M447.9 78.2L437 85M447.9 78.2L454.7 66.6M447.9 78.2L447.9 84.4M465.5 72.5L458.4 77.3M465.5 72.5L454.7 66.6M465.5 72.5L469.1 83.2M465.5 72.5L465.9 60.5M465.5 72.5L476.8 66.6M408.5 72.5L415.6 77.3M408.5 72.5L419.3 66.6M408.5 72.5L404.9 83.2M408.5 72.5L408.1 60.5M408.5 72.5L397.2 66.6M412.6 49.6L408.1 60.5M412.6 49.6L419.2 41.5M461.4 49.6L465.9 60.5M461.4 49.6L454.8 41.5M415 97.2L426 91.2M415 97.2L404.4 96.2M415 97.2L426 104.1M459 97.2L448 91.2M459 97.2L469.6 96.2M459 97.2L448 104.1M415.2 84.1L415.6 77.3M415.2 84.1L426.1 78.2M415.2 84.1L404.9 83.2M415.2 84.1L408.5 72.5M415.2 84.1L426 91.2M458.8 84.1L458.4 77.3M458.8 84.1L447.9 78.2M458.8 84.1L469.1 83.2M458.8 84.1L465.5 72.5M458.8 84.1L448 91.2" stroke="#a81b0c" stroke-width=".9" fill="none"/><path d="M394.2 89.1L393.6 77.5M394.2 89.1L404.4 96.2M479.8 89.1L480.4 77.5M479.8 89.1L469.6 96.2M443.7 22.4L437 15.4M430.3 22.4L437 15.4M430.3 22.4L443.7 22.4" stroke="#1fa822" stroke-width=".8" fill="none"/><circle cx="404.9" cy="83.2" r="2.9" fill="url(#gR)"/><circle cx="469.1" cy="83.2" r="2.9" fill="url(#gR)"/><circle cx="430.4" cy="60.7" r="2.9" fill="url(#gR)"/><circle cx="443.6" cy="60.7" r="2.9" fill="url(#gR)"/><circle cx="408.1" cy="60.5" r="2.9" fill="url(#gR)"/><circle cx="465.9" cy="60.5" r="2.9" fill="url(#gR)"/><circle cx="437" cy="85" r="2.9" fill="url(#gR)"/><circle cx="430.2" cy="47.8" r="2.9" fill="url(#gR)"/><circle cx="443.8" cy="47.8" r="2.9" fill="url(#gR)"/><circle cx="437" cy="72.1" r="2.9" fill="url(#gR)"/><circle cx="443.7" cy="35.1" r="2.9" fill="url(#gR)"/><circle cx="430.3" cy="35.1" r="2.9" fill="url(#gR)"/><circle cx="394.2" cy="89.1" r="3.5" fill="url(#gG)"/><circle cx="479.8" cy="89.1" r="3.5" fill="url(#gG)"/><circle cx="448" cy="104.1" r="2.9" fill="url(#gR)"/><circle cx="426" cy="104.1" r="2.9" fill="url(#gR)"/><circle cx="443.7" cy="22.4" r="3.5" fill="url(#gG)"/><circle cx="430.3" cy="22.4" r="3.5" fill="url(#gG)"/><circle cx="419.3" cy="66.6" r="2.9" fill="url(#gR)"/><circle cx="454.7" cy="66.6" r="2.9" fill="url(#gR)"/><circle cx="397.2" cy="66.6" r="2.9" fill="url(#gR)"/><circle cx="476.8" cy="66.6" r="2.9" fill="url(#gR)"/><circle cx="401.7" cy="43.6" r="3.5" fill="url(#gG)"/><circle cx="472.3" cy="43.6" r="3.5" fill="url(#gG)"/><circle cx="426.1" cy="78.2" r="2.9" fill="url(#gR)"/><circle cx="447.9" cy="78.2" r="2.9" fill="url(#gR)"/><circle cx="465.5" cy="72.5" r="2.9" fill="url(#gR)"/><circle cx="408.5" cy="72.5" r="2.9" fill="url(#gR)"/><circle cx="412.6" cy="49.6" r="2.9" fill="url(#gR)"/><circle cx="461.4" cy="49.6" r="2.9" fill="url(#gR)"/><circle cx="415" cy="97.2" r="2.9" fill="url(#gR)"/><circle cx="459" cy="97.2" r="2.9" fill="url(#gR)"/><circle cx="415.2" cy="84.1" r="2.9" fill="url(#gR)"/><circle cx="458.8" cy="84.1" r="2.9" fill="url(#gR)"/><path d="M461.6 36.5L461.4 49.6M461.6 36.5L472.3 43.6M461.6 36.5L454.8 28.7M412.4 36.5L412.6 49.6M412.4 36.5L401.7 43.6M412.4 36.5L419.2 28.7M397.7 78.5L404.9 83.2M397.7 78.5L408.5 72.5M397.7 78.5L397.2 66.6M476.3 78.5L469.1 83.2M476.3 78.5L465.5 72.5M476.3 78.5L476.8 66.6M423.8 55.8L430.4 60.7M423.8 55.8L419.3 66.6M423.8 55.8L430.2 47.8M423.8 55.8L412.6 49.6M450.2 55.8L443.6 60.7M450.2 55.8L454.7 66.6M450.2 55.8L443.8 47.8M450.2 55.8L461.4 49.6M437 55.5L430.4 60.7M437 55.5L443.6 60.7M437 55.5L423.8 55.8M437 55.5L450.2 55.8M437 55.5L430.2 47.8M437 55.5L443.8 47.8M401.4 55.5L412.6 49.6M401.4 55.5L401.7 43.6M401.4 55.5L397.2 66.6M472.6 55.5L461.4 49.6M472.6 55.5L472.3 43.6M472.6 55.5L476.8 66.6M437 104.4L448 104.1M437 104.4L426 104.1M404.4 90L415.2 84.1M404.4 90L415 97.2M469.6 90L458.8 84.1M469.6 90L459 97.2M423.5 42.8L423.8 55.8M423.5 42.8L430.2 47.8M423.5 42.8L412.6 49.6M423.5 42.8L430.3 35.1M423.5 42.8L412.4 36.5M450.5 42.8L450.2 55.8M450.5 42.8L443.8 47.8M450.5 42.8L461.4 49.6M450.5 42.8L443.7 35.1M450.5 42.8L461.6 36.5M437 42.5L437 55.5M437 42.5L430.2 47.8M437 42.5L443.8 47.8M437 42.5L423.5 42.8M437 42.5L430.3 35.1M437 42.5L450.5 42.8M437 42.5L443.7 35.1M443.8 67.2L437 72.1M443.8 67.2L443.6 60.7M443.8 67.2L450.2 55.8M443.8 67.2L447.9 78.2M443.8 67.2L437 55.5M443.8 67.2L454.7 66.6M430.2 67.2L437 72.1M430.2 67.2L430.4 60.7M430.2 67.2L423.8 55.8M430.2 67.2L426.1 78.2M430.2 67.2L437 55.5M430.2 67.2L419.3 66.6M437 91.5L448 91.2M437 91.5L426 91.2M423.5 29.9L423.5 42.8M423.5 29.9L430.3 35.1M423.5 29.9L412.4 36.5M450.5 29.9L450.5 42.8M450.5 29.9L443.7 35.1M450.5 29.9L461.6 36.5M437 29.7L430.3 35.1M437 29.7L443.7 35.1M437 29.7L437 42.5M437 29.7L423.5 29.9M437 29.7L430.3 22.4M437 29.7L450.5 29.9M437 29.7L443.7 22.4M437 78.5L437 72.1M437 78.5L430.2 67.2M437 78.5L443.8 67.2M437 78.5L437 85M437 78.5L447.9 78.2M437 78.5L426.1 78.2M412.6 61.5L423.8 55.8M412.6 61.5L419.3 66.6M412.6 61.5L412.6 49.6M412.6 61.5L408.5 72.5M412.6 61.5L401.4 55.5M461.4 61.5L450.2 55.8M461.4 61.5L454.7 66.6M461.4 61.5L461.4 49.6M461.4 61.5L465.5 72.5M461.4 61.5L472.6 55.5M419.2 73.2L426.1 78.2M419.2 73.2L419.3 66.6M419.2 73.2L415.2 84.1M419.2 73.2L412.6 61.5M419.2 73.2L408.5 72.5M454.8 73.2L447.9 78.2M454.8 73.2L454.7 66.6M454.8 73.2L458.8 84.1M454.8 73.2L461.4 61.5M454.8 73.2L465.5 72.5M448 97.8L437 91.5M448 97.8L437 104.4M448 97.8L459 97.2M448 97.8L448 104.1M426 97.8L437 91.5M426 97.8L437 104.4M426 97.8L415 97.2M426 97.8L426 104.1M426.1 84.7L426.1 78.2M426.1 84.7L437 91.5M426.1 84.7L415.2 84.1M426.1 84.7L419.2 73.2M447.9 84.7L437 78.5M447.9 84.7L447.9 78.2M447.9 84.7L437 91.5M447.9 84.7L458.8 84.1M447.9 84.7L454.8 73.2M401.7 67.5L412.6 61.5M401.7 67.5L408.5 72.5M401.7 67.5L401.4 55.5M472.3 67.5L461.4 61.5M472.3 67.5L465.5 72.5M472.3 67.5L472.6 55.5M406 44.7L401.4 55.5M406 44.7L412.4 36.5M468 44.7L472.6 55.5M468 44.7L461.6 36.5" stroke="#a81b0c" stroke-width=".9" fill="none"/><path d="M397.7 78.5L394.2 89.1M476.3 78.5L479.8 89.1M404.4 90L394.2 89.1M404.4 90L397.7 78.5M469.6 90L479.8 89.1M469.6 90L476.3 78.5M423.5 29.9L430.3 22.4M450.5 29.9L443.7 22.4M401.7 67.5L397.7 78.5M472.3 67.5L476.3 78.5" stroke="#1fa822" stroke-width=".8" fill="none"/><circle cx="461.6" cy="36.5" r="2.9" fill="url(#gR)"/><circle cx="412.4" cy="36.5" r="2.9" fill="url(#gR)"/><circle cx="397.7" cy="78.5" r="3.5" fill="url(#gG)"/><circle cx="476.3" cy="78.5" r="3.5" fill="url(#gG)"/><circle cx="423.8" cy="55.8" r="2.9" fill="url(#gR)"/><circle cx="450.2" cy="55.8" r="2.9" fill="url(#gR)"/><circle cx="437" cy="55.5" r="2.9" fill="url(#gR)"/><circle cx="401.4" cy="55.5" r="2.9" fill="url(#gR)"/><circle cx="472.6" cy="55.5" r="2.9" fill="url(#gR)"/><circle cx="437" cy="104.4" r="3.5" fill="url(#gG)"/><circle cx="404.4" cy="90" r="3.5" fill="url(#gG)"/><circle cx="469.6" cy="90" r="3.5" fill="url(#gG)"/><circle cx="423.5" cy="42.8" r="2.9" fill="url(#gR)"/><circle cx="450.5" cy="42.8" r="2.9" fill="url(#gR)"/><circle cx="437" cy="42.5" r="2.9" fill="url(#gR)"/><circle cx="443.8" cy="67.2" r="2.9" fill="url(#gR)"/><circle cx="430.2" cy="67.2" r="2.9" fill="url(#gR)"/><circle cx="423.5" cy="29.9" r="3.5" fill="url(#gG)"/><circle cx="450.5" cy="29.9" r="3.5" fill="url(#gG)"/><circle cx="437" cy="29.7" r="2.9" fill="url(#gR)"/><circle cx="437" cy="78.5" r="2.9" fill="url(#gR)"/><circle cx="412.6" cy="61.5" r="2.9" fill="url(#gR)"/><circle cx="461.4" cy="61.5" r="2.9" fill="url(#gR)"/><circle cx="419.2" cy="73.2" r="2.9" fill="url(#gR)"/><circle cx="454.8" cy="73.2" r="2.9" fill="url(#gR)"/><circle cx="448" cy="97.8" r="2.9" fill="url(#gR)"/><circle cx="426" cy="97.8" r="2.9" fill="url(#gR)"/><circle cx="426.1" cy="84.7" r="2.9" fill="url(#gR)"/><circle cx="447.9" cy="84.7" r="2.9" fill="url(#gR)"/><circle cx="401.7" cy="67.5" r="3.5" fill="url(#gG)"/><circle cx="472.3" cy="67.5" r="3.5" fill="url(#gG)"/><circle cx="406" cy="44.7" r="3.5" fill="url(#gG)"/><circle cx="468" cy="44.7" r="3.5" fill="url(#gG)"/><path d="M408.2 79.2L415.2 84.1M408.2 79.2L408.5 72.5M408.2 79.2L419.2 73.2M408.2 79.2L404.4 90M408.2 79.2L401.7 67.5M408.2 79.2L397.7 78.5M465.8 79.2L458.8 84.1M465.8 79.2L465.5 72.5M465.8 79.2L454.8 73.2M465.8 79.2L469.6 90M465.8 79.2L472.3 67.5M465.8 79.2L476.3 78.5M458.8 90.8L447.9 84.7M458.8 90.8L465.8 79.2M458.8 90.8L448 97.8M415.2 90.8L426.1 84.7M415.2 90.8L408.2 79.2M415.2 90.8L426 97.8M456.8 50.8L450.2 55.8M456.8 50.8L450.5 42.8M456.8 50.8L468 44.7M417.2 50.8L423.8 55.8M417.2 50.8L423.5 42.8M417.2 50.8L406 44.7M443.7 50.6L450.2 55.8M443.7 50.6L437 55.5M443.7 50.6L456.8 50.8M443.7 50.6L450.5 42.8M443.7 50.6L437 42.5M430.3 50.6L423.8 55.8M430.3 50.6L437 55.5M430.3 50.6L417.2 50.8M430.3 50.6L423.5 42.8M430.3 50.6L437 42.5M416.9 37.9L417.2 50.8M416.9 37.9L423.5 42.8M457.1 37.9L456.8 50.8M457.1 37.9L450.5 42.8M430.2 37.5L430.3 50.6M430.2 37.5L423.5 42.8M430.2 37.5L437 42.5M430.2 37.5L416.9 37.9M430.2 37.5L423.5 29.9M430.2 37.5L437 29.7M443.8 37.5L443.7 50.6M443.8 37.5L450.5 42.8M443.8 37.5L437 42.5M443.8 37.5L457.1 37.9M443.8 37.5L450.5 29.9M443.8 37.5L437 29.7M450.5 62.1L450.2 55.8M450.5 62.1L443.8 67.2M450.5 62.1L456.8 50.8M450.5 62.1L443.7 50.6M450.5 62.1L461.4 61.5M423.5 62.1L423.8 55.8M423.5 62.1L430.2 67.2M423.5 62.1L417.2 50.8M423.5 62.1L430.3 50.6M423.5 62.1L412.6 61.5M437 62.1L430.2 67.2M437 62.1L443.8 67.2M437 62.1L437 55.5M437 62.1L423.5 62.1M437 62.1L450.5 62.1M437 62.1L430.3 50.6M437 62.1L443.7 50.6M443.7 73.7L437 78.5M443.7 73.7L443.8 67.2M443.7 73.7L450.5 62.1M443.7 73.7L447.9 84.7M443.7 73.7L437 62.1M443.7 73.7L454.8 73.2M430.3 73.7L437 78.5M430.3 73.7L430.2 67.2M430.3 73.7L423.5 62.1M430.3 73.7L437 62.1M430.3 73.7L419.2 73.2M437 98L448 97.8M437 98L426 97.8M406 56.6L417.2 50.8M406 56.6L412.6 61.5M468 56.6L456.8 50.8M468 56.6L461.4 61.5M437 85L437 78.5M437 85L430.3 73.7M437 85L443.7 73.7M437 85L447.9 84.7M437 85L426.1 84.7M412.4 68.1L423.5 62.1M412.4 68.1L412.6 61.5M412.4 68.1L419.2 73.2M412.4 68.1L406 56.6M412.4 68.1L401.7 67.5M412.4 68.1L408.2 79.2M461.6 68.1L450.5 62.1M461.6 68.1L461.4 61.5M461.6 68.1L454.8 73.2M461.6 68.1L468 56.6M461.6 68.1L472.3 67.5M461.6 68.1L465.8 79.2" stroke="#a81b0c" stroke-width=".9" fill="none"/><path d="M458.8 90.8L469.6 90M415.2 90.8L404.4 90M416.9 37.9L406 44.7M416.9 37.9L423.5 29.9M457.1 37.9L468 44.7M457.1 37.9L450.5 29.9M406 56.6L406 44.7M406 56.6L401.7 67.5M468 56.6L468 44.7M468 56.6L472.3 67.5" stroke="#1fa822" stroke-width=".8" fill="none"/><circle cx="408.2" cy="79.2" r="2.9" fill="url(#gR)"/><circle cx="465.8" cy="79.2" r="2.9" fill="url(#gR)"/><circle cx="458.8" cy="90.8" r="3.5" fill="url(#gG)"/><circle cx="415.2" cy="90.8" r="3.5" fill="url(#gG)"/><circle cx="456.8" cy="50.8" r="2.9" fill="url(#gR)"/><circle cx="417.2" cy="50.8" r="2.9" fill="url(#gR)"/><circle cx="443.7" cy="50.6" r="2.9" fill="url(#gR)"/><circle cx="430.3" cy="50.6" r="2.9" fill="url(#gR)"/><circle cx="416.9" cy="37.9" r="3.5" fill="url(#gG)"/><circle cx="457.1" cy="37.9" r="3.5" fill="url(#gG)"/><circle cx="430.2" cy="37.5" r="2.9" fill="url(#gR)"/><circle cx="443.8" cy="37.5" r="2.9" fill="url(#gR)"/><circle cx="450.5" cy="62.1" r="2.9" fill="url(#gR)"/><circle cx="423.5" cy="62.1" r="2.9" fill="url(#gR)"/><circle cx="437" cy="62.1" r="2.9" fill="url(#gR)"/><circle cx="443.7" cy="73.7" r="2.9" fill="url(#gR)"/><circle cx="430.3" cy="73.7" r="2.9" fill="url(#gR)"/><circle cx="437" cy="98" r="3.5" fill="url(#gG)"/><circle cx="406" cy="56.6" r="3.5" fill="url(#gG)"/><circle cx="468" cy="56.6" r="3.5" fill="url(#gG)"/><circle cx="437" cy="85" r="2.9" fill="url(#gR)"/><circle cx="412.4" cy="68.1" r="2.9" fill="url(#gR)"/><circle cx="461.6" cy="68.1" r="2.9" fill="url(#gR)"/><path d="M419.2 79.8L430.3 73.7M419.2 79.8L426.1 84.7M419.2 79.8L419.2 73.2M419.2 79.8L415.2 90.8M419.2 79.8L408.2 79.2M419.2 79.8L412.4 68.1M454.8 79.8L443.7 73.7M454.8 79.8L447.9 84.7M454.8 79.8L454.8 73.2M454.8 79.8L458.8 90.8M454.8 79.8L465.8 79.2M454.8 79.8L461.6 68.1M426.1 91.2L437 85M426.1 91.2L419.2 79.8M447.9 91.2L437 85M447.9 91.2L454.8 79.8M410.6 45.9L417.2 50.8M463.4 45.9L456.8 50.8M423.6 45.6L417.2 50.8M423.6 45.6L430.3 50.6M423.6 45.6L430.2 37.5M450.4 45.6L456.8 50.8M450.4 45.6L443.7 50.6M450.4 45.6L443.8 37.5M437 45.5L430.3 50.6M437 45.5L443.7 50.6M437 45.5L443.8 37.5M437 45.5L430.2 37.5M457.1 57.2L450.5 62.1M457.1 57.2L461.6 68.1M416.9 57.2L423.5 62.1M416.9 57.2L412.4 68.1M443.8 57L450.5 62.1M443.8 57L443.7 50.6M443.8 57L437 62.1M443.8 57L457.1 57.2M443.8 57L437 45.5M443.8 57L450.4 45.6M430.2 57L423.5 62.1M430.2 57L430.3 50.6M430.2 57L437 62.1M430.2 57L416.9 57.2M430.2 57L423.6 45.6M430.2 57L437 45.5M450.5 68.7L443.7 73.7M450.5 68.7L443.8 57M450.5 68.7L461.6 68.1M450.5 68.7L454.8 79.8M423.5 68.7L430.3 73.7M423.5 68.7L430.2 57M423.5 68.7L412.4 68.1M423.5 68.7L419.2 79.8M437 68.7L430.3 73.7M437 68.7L443.7 73.7M437 68.7L437 62.1M437 68.7L423.5 68.7M437 68.7L450.5 68.7M437 68.7L443.8 57M437 68.7L430.2 57M430.3 80.3L437 85M430.3 80.3L437 68.7M430.3 80.3L419.2 79.8M443.7 80.3L437 85M443.7 80.3L437 68.7M443.7 80.3L454.8 79.8" stroke="#a81b0c" stroke-width=".9" fill="none"/><path d="M426.1 91.2L437 98M426.1 91.2L415.2 90.8M447.9 91.2L437 98M447.9 91.2L458.8 90.8M410.6 45.9L406 56.6M410.6 45.9L416.9 37.9M463.4 45.9L468 56.6M463.4 45.9L457.1 37.9M423.6 45.6L410.6 45.9M423.6 45.6L416.9 37.9M450.4 45.6L463.4 45.9M450.4 45.6L457.1 37.9M437 45.5L423.6 45.6M437 45.5L450.4 45.6M457.1 57.2L463.4 45.9M457.1 57.2L450.4 45.6M457.1 57.2L468 56.6M416.9 57.2L410.6 45.9M416.9 57.2L423.6 45.6M416.9 57.2L406 56.6M450.5 68.7L457.1 57.2M423.5 68.7L416.9 57.2M430.3 80.3L423.5 68.7M430.3 80.3L426.1 91.2M443.7 80.3L430.3 80.3M443.7 80.3L450.5 68.7M443.7 80.3L447.9 91.2M437 91.4L430.3 80.3M437 91.4L443.7 80.3M437 91.4L447.9 91.2M437 91.4L426.1 91.2" stroke="#1fa822" stroke-width=".8" fill="none"/><circle cx="419.2" cy="79.8" r="2.9" fill="url(#gR)"/><circle cx="454.8" cy="79.8" r="2.9" fill="url(#gR)"/><circle cx="426.1" cy="91.2" r="3.5" fill="url(#gG)"/><circle cx="447.9" cy="91.2" r="3.5" fill="url(#gG)"/><circle cx="410.6" cy="45.9" r="3.5" fill="url(#gG)"/><circle cx="463.4" cy="45.9" r="3.5" fill="url(#gG)"/><circle cx="423.6" cy="45.6" r="3.5" fill="url(#gG)"/><circle cx="450.4" cy="45.6" r="3.5" fill="url(#gG)"/><circle cx="437" cy="45.5" r="3.5" fill="url(#gG)"/><circle cx="457.1" cy="57.2" r="3.5" fill="url(#gG)"/><circle cx="416.9" cy="57.2" r="3.5" fill="url(#gG)"/><circle cx="443.8" cy="57" r="2.9" fill="url(#gR)"/><circle cx="430.2" cy="57" r="2.9" fill="url(#gR)"/><circle cx="450.5" cy="68.7" r="3.5" fill="url(#gG)"/><circle cx="423.5" cy="68.7" r="3.5" fill="url(#gG)"/><circle cx="437" cy="68.7" r="2.9" fill="url(#gR)"/><circle cx="430.3" cy="80.3" r="3.5" fill="url(#gG)"/><circle cx="443.7" cy="80.3" r="3.5" fill="url(#gG)"/><circle cx="437" cy="91.4" r="3.5" fill="url(#gG)"/></g>
<g font-family="Liberation Sans, Arial, Helvetica, sans-serif" font-weight="bold" fill="#000" stroke="#000" stroke-width=".25">
<text x="80.8" y="192.8" font-size="16.0">Ih-Fe<tspan font-size="10.2" dy="7.9">162</tspan><tspan dy="-7.9">Co</tspan><tspan font-size="10.2" dy="7.9">147</tspan></text>
<path d="M83.1 214.4H123.7" stroke="#000" stroke-width="2.3"/>
<rect x="99.2" y="210.3" width="8.2" height="8.2" stroke="none"/>
<path d="M83.1 235.3H123.7" stroke="#f00" stroke-width="2.3"/>
<circle cx="103.3" cy="235.3" r="4.3" fill="#f00" stroke="none"/>
<text x="127.6" y="219.7" font-size="16.4">Fe</text>
<text x="127.6" y="240.8" font-size="16.4">Co</text>
</g>
<g><circle cx="234.2" cy="207.2" r="4.9" fill="url(#gG)"/><circle cx="234.2" cy="253.9" r="4.9" fill="url(#gG)"/><circle cx="220.5" cy="253.8" r="4.9" fill="url(#gG)"/><circle cx="247.9" cy="253.8" r="4.9" fill="url(#gG)"/><circle cx="223.1" cy="207" r="4.9" fill="url(#gG)"/><circle cx="245.3" cy="207" r="4.9" fill="url(#gG)"/><circle cx="261.3" cy="253.5" r="4.9" fill="url(#gG)"/><circle cx="207.1" cy="253.5" r="4.9" fill="url(#gG)"/><circle cx="216" cy="218.6" r="4.9" fill="url(#gG)"/><circle cx="252.4" cy="218.6" r="4.9" fill="url(#gG)"/><circle cx="209" cy="230.5" r="4.9" fill="url(#gG)"/><circle cx="259.4" cy="230.5" r="4.9" fill="url(#gG)"/><circle cx="234.2" cy="213.3" r="4.1" fill="url(#gR)"/><circle cx="241.2" cy="261.7" r="4.9" fill="url(#gG)"/><circle cx="227.2" cy="261.7" r="4.9" fill="url(#gG)"/><circle cx="213.6" cy="261.3" r="4.9" fill="url(#gG)"/><circle cx="254.8" cy="261.3" r="4.9" fill="url(#gG)"/><circle cx="213.9" cy="248" r="4.1" fill="url(#gR)"/><circle cx="254.5" cy="248" r="4.1" fill="url(#gR)"/><circle cx="204.7" cy="218.9" r="4.9" fill="url(#gG)"/><circle cx="263.7" cy="218.9" r="4.9" fill="url(#gG)"/><circle cx="223" cy="213.2" r="4.1" fill="url(#gR)"/><circle cx="245.4" cy="213.2" r="4.1" fill="url(#gR)"/><circle cx="222.9" cy="199.7" r="4.9" fill="url(#gG)"/><circle cx="245.5" cy="199.7" r="4.9" fill="url(#gG)"/><circle cx="198" cy="230.8" r="4.9" fill="url(#gG)"/><circle cx="270.4" cy="230.8" r="4.9" fill="url(#gG)"/><circle cx="202.5" cy="254.2" r="4.9" fill="url(#gG)"/><circle cx="265.9" cy="254.2" r="4.9" fill="url(#gG)"/><circle cx="215.9" cy="224.9" r="4.1" fill="url(#gR)"/><circle cx="252.5" cy="224.9" r="4.1" fill="url(#gR)"/><circle cx="209.3" cy="236.7" r="4.1" fill="url(#gR)"/><circle cx="259.1" cy="236.7" r="4.1" fill="url(#gR)"/><circle cx="234.2" cy="192.8" r="4.9" fill="url(#gG)"/><circle cx="241.1" cy="230.9" r="4.1" fill="url(#gR)"/><circle cx="227.3" cy="230.9" r="4.1" fill="url(#gR)"/><circle cx="234.2" cy="269.3" r="4.9" fill="url(#gG)"/><circle cx="248" cy="269" r="4.9" fill="url(#gG)"/><circle cx="220.4" cy="269" r="4.9" fill="url(#gG)"/><circle cx="194" cy="219.2" r="4.9" fill="url(#gG)"/><circle cx="274.4" cy="219.2" r="4.9" fill="url(#gG)"/><circle cx="220.4" cy="255.8" r="4.1" fill="url(#gR)"/><circle cx="248" cy="255.8" r="4.1" fill="url(#gR)"/><circle cx="197.8" cy="242.8" r="4.9" fill="url(#gG)"/><circle cx="270.6" cy="242.8" r="4.9" fill="url(#gG)"/><circle cx="234.2" cy="242.7" r="4.1" fill="url(#gR)"/><circle cx="220.7" cy="242.5" r="4.1" fill="url(#gR)"/><circle cx="247.7" cy="242.5" r="4.1" fill="url(#gR)"/><circle cx="211.9" cy="213.4" r="4.1" fill="url(#gR)"/><circle cx="256.5" cy="213.4" r="4.1" fill="url(#gR)"/><circle cx="205" cy="225.2" r="4.1" fill="url(#gR)"/><circle cx="263.4" cy="225.2" r="4.1" fill="url(#gR)"/><circle cx="209" cy="262.1" r="4.9" fill="url(#gG)"/><circle cx="259.4" cy="262.1" r="4.9" fill="url(#gG)"/><circle cx="209.3" cy="248.6" r="4.1" fill="url(#gR)"/><circle cx="259.1" cy="248.6" r="4.1" fill="url(#gR)"/><circle cx="245.4" cy="219.3" r="4.1" fill="url(#gR)"/><circle cx="223" cy="219.3" r="4.1" fill="url(#gR)"/><circle cx="245.5" cy="205.9" r="4.1" fill="url(#gR)"/><circle cx="222.9" cy="205.9" r="4.1" fill="url(#gR)"/><circle cx="245.5" cy="192.8" r="4.9" fill="url(#gG)"/><circle cx="222.9" cy="192.8" r="4.9" fill="url(#gG)"/><circle cx="190.4" cy="208.1" r="4.9" fill="url(#gG)"/><circle cx="278" cy="208.1" r="4.9" fill="url(#gG)"/><circle cx="193.5" cy="231.1" r="4.9" fill="url(#gG)"/><circle cx="274.9" cy="231.1" r="4.9" fill="url(#gG)"/><circle cx="216.1" cy="231.1" r="4.1" fill="url(#gR)"/><circle cx="252.3" cy="231.1" r="4.1" fill="url(#gR)"/><circle cx="198" cy="254.7" r="4.9" fill="url(#gG)"/><circle cx="270.4" cy="254.7" r="4.9" fill="url(#gG)"/><circle cx="234.2" cy="212.2" r="4.1" fill="url(#gR)"/><circle cx="234.2" cy="199.1" r="4.1" fill="url(#gR)"/><circle cx="241.1" cy="276.3" r="4.9" fill="url(#gG)"/><circle cx="227.3" cy="276.3" r="4.9" fill="url(#gG)"/><circle cx="234.2" cy="186.2" r="4.9" fill="url(#gG)"/><circle cx="227.3" cy="263.3" r="4.1" fill="url(#gR)"/><circle cx="241.1" cy="263.3" r="4.1" fill="url(#gR)"/><circle cx="201.3" cy="213.9" r="4.1" fill="url(#gR)"/><circle cx="267.1" cy="213.9" r="4.1" fill="url(#gR)"/><circle cx="227.3" cy="250.3" r="4.1" fill="url(#gR)"/><circle cx="241.1" cy="250.3" r="4.1" fill="url(#gR)"/><circle cx="200.9" cy="200.6" r="4.9" fill="url(#gG)"/><circle cx="267.5" cy="200.6" r="4.9" fill="url(#gG)"/><circle cx="204.6" cy="237.2" r="4.1" fill="url(#gR)"/><circle cx="263.8" cy="237.2" r="4.1" fill="url(#gR)"/><circle cx="216" cy="269.6" r="4.9" fill="url(#gG)"/><circle cx="252.4" cy="269.6" r="4.9" fill="url(#gG)"/><circle cx="189.7" cy="219.6" r="4.9" fill="url(#gG)"/><circle cx="278.7" cy="219.6" r="4.9" fill="url(#gG)"/><circle cx="212.3" cy="219.8" r="4.1" fill="url(#gR)"/><circle cx="256.1" cy="219.8" r="4.1" fill="url(#gR)"/><circle cx="215.9" cy="256.5" r="4.1" fill="url(#gR)"/><circle cx="252.5" cy="256.5" r="4.1" fill="url(#gR)"/><circle cx="211.9" cy="206.5" r="4.1" fill="url(#gR)"/><circle cx="256.5" cy="206.5" r="4.1" fill="url(#gR)"/><circle cx="193.5" cy="243.2" r="4.9" fill="url(#gG)"/><circle cx="274.9" cy="243.2" r="4.9" fill="url(#gG)"/><circle cx="211.8" cy="193.3" r="4.9" fill="url(#gG)"/><circle cx="256.6" cy="193.3" r="4.9" fill="url(#gG)"/><circle cx="200.7" cy="225.5" r="4.1" fill="url(#gR)"/><circle cx="267.7" cy="225.5" r="4.1" fill="url(#gR)"/><circle cx="223.2" cy="225.6" r="4.1" fill="url(#gR)"/><circle cx="245.2" cy="225.6" r="4.1" fill="url(#gR)"/><circle cx="204.7" cy="262.4" r="4.9" fill="url(#gG)"/><circle cx="263.7" cy="262.4" r="4.9" fill="url(#gG)"/><circle cx="223" cy="212.4" r="4.1" fill="url(#gR)"/><circle cx="245.4" cy="212.4" r="4.1" fill="url(#gR)"/><circle cx="205" cy="249" r="4.1" fill="url(#gR)"/><circle cx="263.4" cy="249" r="4.1" fill="url(#gR)"/><circle cx="223" cy="199.3" r="4.1" fill="url(#gR)"/><circle cx="245.4" cy="199.3" r="4.1" fill="url(#gR)"/><circle cx="223.1" cy="186.4" r="4.9" fill="url(#gG)"/><circle cx="245.3" cy="186.4" r="4.9" fill="url(#gG)"/><circle cx="234.2" cy="283" r="4.9" fill="url(#gG)"/><circle cx="194" cy="208.1" r="4.9" fill="url(#gG)"/><circle cx="274.4" cy="208.1" r="4.9" fill="url(#gG)"/><circle cx="189.5" cy="231.5" r="4.9" fill="url(#gG)"/><circle cx="211.8" cy="231.5" r="4.1" fill="url(#gR)"/><circle cx="256.6" cy="231.5" r="4.1" fill="url(#gR)"/><circle cx="278.9" cy="231.5" r="4.9" fill="url(#gG)"/><circle cx="234.2" cy="218.6" r="4.1" fill="url(#gR)"/><circle cx="194" cy="254.9" r="4.9" fill="url(#gG)"/><circle cx="274.4" cy="254.9" r="4.9" fill="url(#gG)"/><circle cx="234.2" cy="205.8" r="4.1" fill="url(#gR)"/><circle cx="234.2" cy="180" r="4.9" fill="url(#gG)"/><circle cx="223.1" cy="276.6" r="4.9" fill="url(#gG)"/><circle cx="245.3" cy="276.6" r="4.9" fill="url(#gG)"/><circle cx="205" cy="214" r="4.1" fill="url(#gR)"/><circle cx="263.4" cy="214" r="4.1" fill="url(#gR)"/><circle cx="223" cy="250.6" r="4.1" fill="url(#gR)"/><circle cx="245.4" cy="250.6" r="4.1" fill="url(#gR)"/><circle cx="204.7" cy="200.6" r="4.9" fill="url(#gG)"/><circle cx="263.7" cy="200.6" r="4.9" fill="url(#gG)"/><circle cx="223.2" cy="237.4" r="4.1" fill="url(#gR)"/><circle cx="245.2" cy="237.4" r="4.1" fill="url(#gR)"/><circle cx="200.7" cy="237.5" r="4.1" fill="url(#gR)"/><circle cx="267.7" cy="237.5" r="4.1" fill="url(#gR)"/><circle cx="211.8" cy="269.7" r="4.9" fill="url(#gG)"/><circle cx="256.6" cy="269.7" r="4.9" fill="url(#gG)"/><circle cx="216.1" cy="219.9" r="4.1" fill="url(#gR)"/><circle cx="252.3" cy="219.9" r="4.1" fill="url(#gR)"/><circle cx="193.5" cy="219.8" r="4.9" fill="url(#gG)"/><circle cx="274.9" cy="219.8" r="4.9" fill="url(#gG)"/><circle cx="252.5" cy="206.5" r="4.1" fill="url(#gR)"/><circle cx="215.9" cy="206.5" r="4.1" fill="url(#gR)"/><circle cx="212.3" cy="243.2" r="4.1" fill="url(#gR)"/><circle cx="256.1" cy="243.2" r="4.1" fill="url(#gR)"/><circle cx="189.7" cy="243.4" r="4.9" fill="url(#gG)"/><circle cx="278.7" cy="243.4" r="4.9" fill="url(#gG)"/><circle cx="216" cy="193.4" r="4.9" fill="url(#gG)"/><circle cx="252.4" cy="193.4" r="4.9" fill="url(#gG)"/><circle cx="241" cy="226" r="4.1" fill="url(#gR)"/><circle cx="227.4" cy="226" r="4.1" fill="url(#gR)"/><circle cx="204.6" cy="225.8" r="4.1" fill="url(#gR)"/><circle cx="263.8" cy="225.8" r="4.1" fill="url(#gR)"/><circle cx="200.9" cy="262.4" r="4.9" fill="url(#gG)"/><circle cx="267.5" cy="262.4" r="4.9" fill="url(#gG)"/><circle cx="227.3" cy="212.7" r="4.1" fill="url(#gR)"/><circle cx="241.1" cy="212.7" r="4.1" fill="url(#gR)"/><circle cx="201.3" cy="249.1" r="4.1" fill="url(#gR)"/><circle cx="267.1" cy="249.1" r="4.1" fill="url(#gR)"/><circle cx="227.3" cy="199.7" r="4.1" fill="url(#gR)"/><circle cx="241.1" cy="199.7" r="4.1" fill="url(#gR)"/><circle cx="234.2" cy="276.8" r="4.9" fill="url(#gG)"/><circle cx="241.1" cy="186.7" r="4.9" fill="url(#gG)"/><circle cx="227.3" cy="186.7" r="4.9" fill="url(#gG)"/><circle cx="234.2" cy="250.8" r="4.1" fill="url(#gR)"/><circle cx="234.2" cy="237.6" r="4.1" fill="url(#gR)"/><circle cx="198" cy="208.3" r="4.9" fill="url(#gG)"/><circle cx="270.4" cy="208.3" r="4.9" fill="url(#gG)"/><circle cx="216.1" cy="231.9" r="4.1" fill="url(#gR)"/><circle cx="252.3" cy="231.9" r="4.1" fill="url(#gR)"/><circle cx="193.5" cy="231.9" r="4.9" fill="url(#gG)"/><circle cx="274.9" cy="231.9" r="4.9" fill="url(#gG)"/><circle cx="190.4" cy="254.9" r="4.9" fill="url(#gG)"/><circle cx="278" cy="254.9" r="4.9" fill="url(#gG)"/><circle cx="245.5" cy="270.2" r="4.9" fill="url(#gG)"/><circle cx="222.9" cy="270.2" r="4.9" fill="url(#gG)"/><circle cx="245.4" cy="243.7" r="4.1" fill="url(#gR)"/><circle cx="223" cy="243.7" r="4.1" fill="url(#gR)"/><circle cx="209.3" cy="214.4" r="4.1" fill="url(#gR)"/><circle cx="259.1" cy="214.4" r="4.1" fill="url(#gR)"/><circle cx="209" cy="200.9" r="4.9" fill="url(#gG)"/><circle cx="259.4" cy="200.9" r="4.9" fill="url(#gG)"/><circle cx="205" cy="237.8" r="4.1" fill="url(#gR)"/><circle cx="263.4" cy="237.8" r="4.1" fill="url(#gR)"/><circle cx="211.7" cy="263" r="4.9" fill="url(#gG)"/><circle cx="256.7" cy="263" r="4.9" fill="url(#gG)"/><circle cx="211.9" cy="249.6" r="4.1" fill="url(#gR)"/><circle cx="256.5" cy="249.6" r="4.1" fill="url(#gR)"/><circle cx="247.7" cy="220.5" r="4.1" fill="url(#gR)"/><circle cx="220.7" cy="220.5" r="4.1" fill="url(#gR)"/><circle cx="234.2" cy="220.3" r="4.1" fill="url(#gR)"/><circle cx="197.8" cy="220.2" r="4.9" fill="url(#gG)"/><circle cx="270.6" cy="220.2" r="4.9" fill="url(#gG)"/><circle cx="220.4" cy="207.2" r="4.1" fill="url(#gR)"/><circle cx="248" cy="207.2" r="4.1" fill="url(#gR)"/><circle cx="234.2" cy="206.9" r="4.1" fill="url(#gR)"/><circle cx="194" cy="243.8" r="4.9" fill="url(#gG)"/><circle cx="274.4" cy="243.8" r="4.9" fill="url(#gG)"/><circle cx="220.4" cy="194" r="4.9" fill="url(#gG)"/><circle cx="248" cy="194" r="4.9" fill="url(#gG)"/><circle cx="234.2" cy="193.7" r="4.9" fill="url(#gG)"/><circle cx="241.1" cy="232.1" r="4.1" fill="url(#gR)"/><circle cx="227.3" cy="232.1" r="4.1" fill="url(#gR)"/><circle cx="200.9" cy="255.5" r="4.9" fill="url(#gG)"/><circle cx="267.5" cy="255.5" r="4.9" fill="url(#gG)"/><circle cx="234.2" cy="270.2" r="4.9" fill="url(#gG)"/><circle cx="234.2" cy="243.7" r="4.1" fill="url(#gR)"/><circle cx="209.3" cy="226.3" r="4.1" fill="url(#gR)"/><circle cx="259.1" cy="226.3" r="4.1" fill="url(#gR)"/><circle cx="252.5" cy="238.1" r="4.1" fill="url(#gR)"/><circle cx="215.9" cy="238.1" r="4.1" fill="url(#gR)"/><circle cx="202.5" cy="208.8" r="4.9" fill="url(#gG)"/><circle cx="265.9" cy="208.8" r="4.9" fill="url(#gG)"/><circle cx="198" cy="232.2" r="4.9" fill="url(#gG)"/><circle cx="270.4" cy="232.2" r="4.9" fill="url(#gG)"/><circle cx="222.9" cy="263.3" r="4.9" fill="url(#gG)"/><circle cx="245.5" cy="263.3" r="4.9" fill="url(#gG)"/><circle cx="245.4" cy="249.8" r="4.1" fill="url(#gR)"/><circle cx="223" cy="249.8" r="4.1" fill="url(#gR)"/><circle cx="204.7" cy="244.1" r="4.9" fill="url(#gG)"/><circle cx="263.7" cy="244.1" r="4.9" fill="url(#gG)"/><circle cx="213.9" cy="215" r="4.1" fill="url(#gR)"/><circle cx="254.5" cy="215" r="4.1" fill="url(#gR)"/><circle cx="227.3" cy="214.7" r="4.1" fill="url(#gR)"/><circle cx="241.1" cy="214.7" r="4.1" fill="url(#gR)"/><circle cx="213.6" cy="201.7" r="4.9" fill="url(#gG)"/><circle cx="254.8" cy="201.7" r="4.9" fill="url(#gG)"/><circle cx="241.2" cy="201.3" r="4.9" fill="url(#gG)"/><circle cx="227.2" cy="201.3" r="4.9" fill="url(#gG)"/><circle cx="256.6" cy="255.9" r="4.9" fill="url(#gG)"/><circle cx="211.8" cy="255.9" r="4.9" fill="url(#gG)"/><circle cx="220.4" cy="226.5" r="4.1" fill="url(#gR)"/><circle cx="248" cy="226.5" r="4.1" fill="url(#gR)"/><circle cx="234.2" cy="226.4" r="4.1" fill="url(#gR)"/><circle cx="265.9" cy="220.7" r="4.9" fill="url(#gG)"/><circle cx="202.5" cy="220.7" r="4.9" fill="url(#gG)"/><circle cx="227.3" cy="238.3" r="4.1" fill="url(#gR)"/><circle cx="241.1" cy="238.3" r="4.1" fill="url(#gR)"/><circle cx="234.2" cy="249.7" r="4.1" fill="url(#gR)"/><circle cx="234.2" cy="263.1" r="4.9" fill="url(#gG)"/><circle cx="209" cy="232.5" r="4.9" fill="url(#gG)"/><circle cx="259.4" cy="232.5" r="4.9" fill="url(#gG)"/><circle cx="216" cy="244.4" r="4.9" fill="url(#gG)"/><circle cx="252.4" cy="244.4" r="4.9" fill="url(#gG)"/><circle cx="207.1" cy="209.5" r="4.9" fill="url(#gG)"/><circle cx="261.3" cy="209.5" r="4.9" fill="url(#gG)"/><circle cx="223.1" cy="256" r="4.9" fill="url(#gG)"/><circle cx="245.3" cy="256" r="4.9" fill="url(#gG)"/><circle cx="220.5" cy="209.2" r="4.9" fill="url(#gG)"/><circle cx="247.9" cy="209.2" r="4.9" fill="url(#gG)"/><circle cx="234.2" cy="209.1" r="4.9" fill="url(#gG)"/><circle cx="254.8" cy="220.9" r="4.9" fill="url(#gG)"/><circle cx="213.6" cy="220.9" r="4.9" fill="url(#gG)"/><circle cx="241.2" cy="220.8" r="4.9" fill="url(#gG)"/><circle cx="227.2" cy="220.8" r="4.9" fill="url(#gG)"/><circle cx="248" cy="232.7" r="4.9" fill="url(#gG)"/><circle cx="220.4" cy="232.7" r="4.9" fill="url(#gG)"/><circle cx="234.2" cy="232.7" r="4.9" fill="url(#gG)"/><circle cx="227.3" cy="244.4" r="4.9" fill="url(#gG)"/><circle cx="241.1" cy="244.4" r="4.9" fill="url(#gG)"/><circle cx="234.2" cy="255.8" r="4.9" fill="url(#gG)"/></g>
<g font-family="Liberation Sans, Arial, Helvetica, sans-serif" font-weight="bold" fill="#000" stroke="#000" stroke-width=".25">
<text x="286.8" y="192.8" font-size="16.0">Ih-Fe<tspan font-size="10.2" dy="7.9">254</tspan><tspan dy="-7.9">Co</tspan><tspan font-size="10.2" dy="7.9">55</tspan></text>
<path d="M287.2 218.7H326.8" stroke="#000" stroke-width="2.3"/>
<rect x="302.8" y="214.6" width="8.2" height="8.2" stroke="none"/>
<path d="M287.2 240.1H326.8" stroke="#f00" stroke-width="2.3"/>
<circle cx="306.9" cy="240.1" r="4.3" fill="#f00" stroke="none"/>
<text x="331" y="224" font-size="16.4">Fe</text>
<text x="331" y="245.1" font-size="16.4">Co</text>
</g>
<g><path d="M433.3 239.6L440 227.6M447.1 239.3L440 227.6M460.7 238.9L453.7 227.4M426.7 251.2L419.7 239.6M426.7 251.2L440.4 251.1M454 250.7L460.7 238.9M454 250.7L440.4 251.1M428.5 204.7L439.6 204.6M450.6 204.3L439.6 204.6M413.5 251.1L426.7 251.2M421.7 216.3L428.5 204.7M457.9 215.7L450.6 204.3" stroke="#1fa822" stroke-width=".8" fill="none"/><circle cx="439.6" cy="204.6" r="3.5" fill="url(#gG)"/><circle cx="446.6" cy="215.8" r="3.5" fill="url(#gG)"/><circle cx="432.9" cy="216.1" r="3.5" fill="url(#gG)"/><circle cx="440" cy="227.6" r="3.5" fill="url(#gG)"/><circle cx="426.2" cy="227.9" r="3.5" fill="url(#gG)"/><circle cx="453.7" cy="227.4" r="3.5" fill="url(#gG)"/><circle cx="433.3" cy="239.6" r="3.5" fill="url(#gG)"/><circle cx="447.1" cy="239.3" r="3.5" fill="url(#gG)"/><circle cx="419.7" cy="239.6" r="3.5" fill="url(#gG)"/><circle cx="460.7" cy="238.9" r="3.5" fill="url(#gG)"/><circle cx="440.4" cy="251.1" r="3.5" fill="url(#gG)"/><circle cx="426.7" cy="251.2" r="3.5" fill="url(#gG)"/><circle cx="454" cy="250.7" r="3.5" fill="url(#gG)"/><circle cx="428.5" cy="204.7" r="3.5" fill="url(#gG)"/><circle cx="450.6" cy="204.3" r="3.5" fill="url(#gG)"/><circle cx="467.3" cy="250.2" r="3.5" fill="url(#gG)"/><circle cx="413.5" cy="251.1" r="3.5" fill="url(#gG)"/><circle cx="421.7" cy="216.3" r="3.5" fill="url(#gG)"/><circle cx="457.9" cy="215.7" r="3.5" fill="url(#gG)"/><path d="M415 228.3L419.7 239.6M415 228.3L421.7 216.3M465 227.4L460.7 238.9M465 227.4L457.9 215.7M439.5 197.4L428.5 204.7M439.5 197.4L450.6 204.3M439.7 210.7L428.5 204.7M439.7 210.7L450.6 204.3M439.7 210.7L446.6 215.8M439.7 210.7L432.9 216.1M446.7 221.9L439.7 210.7M446.7 221.9L440 227.6M433 222.2L440 227.6M471.7 239L460.7 238.9M408.7 240.1L419.7 239.6M440.1 233.8L446.7 221.9M440.1 233.8L433 222.2M440.1 233.8L433.3 239.6M440.1 233.8L447.1 239.3M426.4 234L433 222.2M453.8 233.5L446.7 221.9M453.8 233.5L465 227.4M453.8 233.5L447.1 239.3M447.4 258.7L440.4 251.1M433.6 258.9L440.4 251.1M420 258.8L433.6 258.9M461 258L447.4 258.7M433.4 245.6L440.1 233.8M433.4 245.6L440.4 251.1M433.4 245.6L433.6 258.9M447.1 245.4L440.1 233.8M447.1 245.4L447.4 258.7M420.1 245.5L433.4 245.6M420.1 245.5L408.7 240.1M420.1 245.5L426.7 251.2M460.5 244.8L447.1 245.4M460.5 244.8L471.7 239M460.5 244.8L461 258M460.5 244.8L454 250.7M410.5 216.7L421.7 216.3" stroke="#1fa822" stroke-width=".8" fill="none"/><circle cx="415" cy="228.3" r="3.5" fill="url(#gG)"/><circle cx="465" cy="227.4" r="3.5" fill="url(#gG)"/><circle cx="439.5" cy="197.4" r="3.5" fill="url(#gG)"/><circle cx="439.7" cy="210.7" r="3.5" fill="url(#gG)"/><circle cx="446.7" cy="221.9" r="3.5" fill="url(#gG)"/><circle cx="433" cy="222.2" r="3.5" fill="url(#gG)"/><circle cx="471.7" cy="239" r="3.5" fill="url(#gG)"/><circle cx="408.7" cy="240.1" r="3.5" fill="url(#gG)"/><circle cx="426.4" cy="234" r="3.5" fill="url(#gG)"/><circle cx="453.8" cy="233.5" r="2.9" fill="url(#gR)"/><circle cx="417.3" cy="205" r="3.5" fill="url(#gG)"/><circle cx="461.8" cy="204.2" r="3.5" fill="url(#gG)"/><circle cx="447.4" cy="258.7" r="3.5" fill="url(#gG)"/><circle cx="433.6" cy="258.9" r="3.5" fill="url(#gG)"/><circle cx="420" cy="258.8" r="3.5" fill="url(#gG)"/><circle cx="461" cy="258" r="3.5" fill="url(#gG)"/><circle cx="433.4" cy="245.6" r="3.5" fill="url(#gG)"/><circle cx="447.1" cy="245.4" r="3.5" fill="url(#gG)"/><circle cx="420.1" cy="245.5" r="3.5" fill="url(#gG)"/><circle cx="460.5" cy="244.8" r="3.5" fill="url(#gG)"/><circle cx="410.5" cy="216.7" r="3.5" fill="url(#gG)"/><circle cx="469.1" cy="215.7" r="3.5" fill="url(#gG)"/><path d="M428.6 210.8L421.7 216.3M450.8 210.4L446.7 221.9M450.8 210.4L457.9 215.7M428.3 197.4L417.3 205M450.6 197L461.8 204.2M404 228.7L415 228.3M476 227.4L465 227.4M408.9 251.9L420.1 245.5M408.9 251.9L420 258.8M471.9 250.8L460.5 244.8M471.9 250.8L461 258M421.7 222.5L428.6 210.8M421.7 222.5L415 228.3M421.7 222.5L410.5 216.7M458 221.9L450.8 210.4M458 221.9L453.8 233.5M458 221.9L465 227.4M458 221.9L469.1 215.7M415.3 234.4L420.1 245.5M415.3 234.4L421.7 222.5M415.3 234.4L404 228.7M464.9 233.6L460.5 244.8M464.9 233.6L453.8 233.5M464.9 233.6L458 221.9M464.9 233.6L476 227.4M439.6 203.5L428.6 210.8M439.6 203.5L450.8 210.4M439.6 203.5L428.3 197.4M439.6 203.5L450.6 197M439.8 216.7L428.6 210.8M439.8 216.7L446.7 221.9M439.8 216.7L433 222.2M439.3 190.3L428.3 197.4M439.3 190.3L450.6 197M446.9 228.1L453.8 233.5M446.9 228.1L440.1 233.8M433.1 228.3L439.8 216.7M433.1 228.3L426.4 234M433.1 228.3L440.1 233.8M440.7 266.3L433.6 258.9M440.7 266.3L447.4 258.7M454.4 265.8L461 258M454.4 265.8L440.7 266.3M426.9 266.3L420 258.8M426.9 266.3L440.7 266.3M399.8 217.3L406.4 205.5M399.8 217.3L404 228.7M479.8 215.9L472.7 204.4M479.8 215.9L476 227.4M440.4 253.2L447.1 245.4M440.4 253.2L433.4 245.6M440.4 253.2L433.6 258.9M440.4 253.2L447.4 258.7M426.7 253.2L420.1 245.5M426.7 253.2L440.4 253.2M426.7 253.2L426.9 266.3M454.1 252.7L460.5 244.8M454.1 252.7L440.4 253.2M454.1 252.7L454.4 265.8M404 240.7L415.3 234.4M404 240.7L408.9 251.9M476.4 239.4L464.9 233.6M476.4 239.4L471.9 250.8M440.2 240L446.9 228.1M440.2 240L447.1 245.4M440.2 240L433.4 245.6M426.7 240L415.3 234.4M426.7 240L426.7 253.2M453.6 239.5L446.9 228.1M453.6 239.5L454.1 252.7M453.6 239.5L453.8 233.5M417.5 211.2L428.6 210.8M461.9 210.4L450.8 210.4M417.1 197.8L406.4 205.5M417.1 197.8L428.3 197.4M461.8 197.1L461.9 210.4M461.8 197.1L472.7 204.4M461.8 197.1L450.6 197" stroke="#1fa822" stroke-width=".8" fill="none"/><circle cx="428.6" cy="210.8" r="2.9" fill="url(#gR)"/><circle cx="450.8" cy="210.4" r="3.5" fill="url(#gG)"/><circle cx="428.3" cy="197.4" r="3.5" fill="url(#gG)"/><circle cx="450.6" cy="197" r="3.5" fill="url(#gG)"/><circle cx="404" cy="228.7" r="3.5" fill="url(#gG)"/><circle cx="476" cy="227.4" r="3.5" fill="url(#gG)"/><circle cx="408.9" cy="251.9" r="3.5" fill="url(#gG)"/><circle cx="471.9" cy="250.8" r="3.5" fill="url(#gG)"/><circle cx="421.7" cy="222.5" r="2.9" fill="url(#gR)"/><circle cx="458" cy="221.9" r="2.9" fill="url(#gR)"/><circle cx="415.3" cy="234.4" r="3.5" fill="url(#gG)"/><circle cx="464.9" cy="233.6" r="2.9" fill="url(#gR)"/><circle cx="439.6" cy="203.5" r="3.5" fill="url(#gG)"/><circle cx="439.8" cy="216.7" r="3.5" fill="url(#gG)"/><circle cx="439.3" cy="190.3" r="3.5" fill="url(#gG)"/><circle cx="406.4" cy="205.5" r="3.5" fill="url(#gG)"/><circle cx="472.7" cy="204.4" r="3.5" fill="url(#gG)"/><circle cx="446.9" cy="228.1" r="3.5" fill="url(#gG)"/><circle cx="433.1" cy="228.3" r="2.9" fill="url(#gR)"/><circle cx="440.7" cy="266.3" r="3.5" fill="url(#gG)"/><circle cx="454.4" cy="265.8" r="3.5" fill="url(#gG)"/><circle cx="426.9" cy="266.3" r="3.5" fill="url(#gG)"/><circle cx="399.8" cy="217.3" r="3.5" fill="url(#gG)"/><circle cx="479.8" cy="215.9" r="3.5" fill="url(#gG)"/><circle cx="426.7" cy="253.2" r="3.5" fill="url(#gG)"/><circle cx="454.1" cy="252.7" r="3.5" fill="url(#gG)"/><circle cx="404" cy="240.7" r="3.5" fill="url(#gG)"/><circle cx="476.4" cy="239.4" r="3.5" fill="url(#gG)"/><circle cx="440.2" cy="240" r="2.9" fill="url(#gR)"/><circle cx="426.7" cy="240" r="3.5" fill="url(#gG)"/><circle cx="453.6" cy="239.5" r="2.9" fill="url(#gR)"/><circle cx="417.5" cy="211.2" r="3.5" fill="url(#gG)"/><circle cx="461.9" cy="210.4" r="3.5" fill="url(#gG)"/><circle cx="417.1" cy="197.8" r="3.5" fill="url(#gG)"/><circle cx="461.8" cy="197.1" r="3.5" fill="url(#gG)"/><path d="M410.9 223L417.5 211.2M410.9 223L415.3 234.4M468.9 222L461.9 210.4M468.9 222L464.9 233.6M468.9 222L458 221.9M415.5 259.6L426.7 253.2M415.5 259.6L426.9 266.3M415.5 259.6L408.9 251.9M465.6 258.7L454.1 252.7M465.6 258.7L454.4 265.8M465.6 258.7L471.9 250.8M415.5 246.3L415.3 234.4M415.5 246.3L426.7 253.2M415.5 246.3L404 240.7M415.5 246.3L415.5 259.6M465.1 245.4L464.9 233.6M465.1 245.4L454.1 252.7M465.1 245.4L476.4 239.4M465.1 245.4L465.6 258.7M450.9 216.5L461.9 210.4M428.7 216.9L417.5 211.2M450.8 203.2L461.9 210.4M450.8 203.2L439.6 203.5M450.8 203.2L461.8 197.1M428.3 203.6L417.5 211.2M428.3 203.6L439.6 203.5M428.3 203.6L417.1 197.8M450.5 190.1L439.3 190.3M450.5 190.1L461.8 197.1M428.1 190.5L439.3 190.3M428.1 190.5L417.1 197.8M396 206.3L399.8 217.3M483.1 204.8L479.8 215.9M399.5 229.1L399.8 217.3M399.5 229.1L404 240.7M480.5 227.7L479.8 215.9M480.5 227.7L476.4 239.4M422 228.7L426.7 240M422 228.7L433.1 228.3M422 228.7L415.3 234.4M422 228.7L421.7 222.5M458 228.1L458 221.9M404.4 252.5L404 240.7M404.4 252.5L415.5 259.6M476.4 251.2L476.4 239.4M476.4 251.2L465.6 258.7M439.9 222.8L428.7 216.9M439.9 222.8L450.9 216.5M439.9 222.8L446.9 228.1M439.9 222.8L433.1 228.3M439.7 209.6L428.7 216.9M439.7 209.6L450.9 216.5M439.7 209.6L428.3 203.6M439.7 209.6L450.8 203.2M439.4 196.6L428.3 203.6M439.4 196.6L450.8 203.2M439.4 196.6L428.1 190.5M439.4 196.6L450.5 190.1M447.6 273.2L440.7 266.3M433.9 273.4L440.7 266.3M439.2 183.7L428.1 190.5M439.2 183.7L450.5 190.1M433.7 260.5L426.7 253.2M433.7 260.5L440.4 253.2M433.7 260.5L433.9 273.4M433.7 260.5L440.7 266.3M447.4 260.3L454.1 252.7M447.4 260.3L440.4 253.2M447.4 260.3L447.6 273.2M447.4 260.3L440.7 266.3M407 211.9L396 206.3M407 211.9L399.8 217.3M472.4 210.8L483.1 204.8M472.4 210.8L479.8 215.9M433.5 247.6L440.2 240M433.5 247.6L433.7 260.5M433.5 247.6L440.4 253.2M447.2 247.3L453.6 239.5M447.2 247.3L440.2 240M447.2 247.3L447.4 260.3M447.2 247.3L440.4 253.2M406.3 198.7L407 211.9M406.3 198.7L396 206.3M472.6 197.5L472.4 210.8M472.6 197.5L483.1 204.8M410.7 234.9L410.9 223M469.5 233.9L468.9 222M469.5 233.9L465.1 245.4M446.8 234.1L453.6 239.5M446.8 234.1L440.2 240M433.4 234.4L440.2 240" stroke="#1fa822" stroke-width=".8" fill="none"/><circle cx="410.9" cy="223" r="3.5" fill="url(#gG)"/><circle cx="468.9" cy="222" r="3.5" fill="url(#gG)"/><circle cx="415.5" cy="259.6" r="3.5" fill="url(#gG)"/><circle cx="465.6" cy="258.7" r="3.5" fill="url(#gG)"/><circle cx="415.5" cy="246.3" r="3.5" fill="url(#gG)"/><circle cx="465.1" cy="245.4" r="3.5" fill="url(#gG)"/><circle cx="450.9" cy="216.5" r="2.9" fill="url(#gR)"/><circle cx="428.7" cy="216.9" r="3.5" fill="url(#gG)"/><circle cx="450.8" cy="203.2" r="3.5" fill="url(#gG)"/><circle cx="428.3" cy="203.6" r="2.9" fill="url(#gR)"/><circle cx="450.5" cy="190.1" r="3.5" fill="url(#gG)"/><circle cx="428.1" cy="190.5" r="3.5" fill="url(#gG)"/><circle cx="396" cy="206.3" r="3.5" fill="url(#gG)"/><circle cx="483.1" cy="204.8" r="3.5" fill="url(#gG)"/><circle cx="399.5" cy="229.1" r="3.5" fill="url(#gG)"/><circle cx="480.5" cy="227.7" r="3.5" fill="url(#gG)"/><circle cx="422" cy="228.7" r="2.9" fill="url(#gR)"/><circle cx="458" cy="228.1" r="2.9" fill="url(#gR)"/><circle cx="404.4" cy="252.5" r="3.5" fill="url(#gG)"/><circle cx="476.4" cy="251.2" r="3.5" fill="url(#gG)"/><circle cx="439.9" cy="222.8" r="3.5" fill="url(#gG)"/><circle cx="439.7" cy="209.6" r="2.9" fill="url(#gR)"/><circle cx="439.4" cy="196.6" r="3.5" fill="url(#gG)"/><circle cx="447.6" cy="273.2" r="3.5" fill="url(#gG)"/><circle cx="433.9" cy="273.4" r="3.5" fill="url(#gG)"/><circle cx="439.2" cy="183.7" r="3.5" fill="url(#gG)"/><circle cx="433.7" cy="260.5" r="3.5" fill="url(#gG)"/><circle cx="447.4" cy="260.3" r="3.5" fill="url(#gG)"/><circle cx="407" cy="211.9" r="3.5" fill="url(#gG)"/><circle cx="472.4" cy="210.8" r="3.5" fill="url(#gG)"/><circle cx="433.5" cy="247.6" r="2.9" fill="url(#gR)"/><circle cx="447.2" cy="247.3" r="2.9" fill="url(#gR)"/><circle cx="406.3" cy="198.7" r="3.5" fill="url(#gG)"/><circle cx="472.6" cy="197.5" r="3.5" fill="url(#gG)"/><circle cx="410.7" cy="234.9" r="3.5" fill="url(#gG)"/><circle cx="469.5" cy="233.9" r="3.5" fill="url(#gG)"/><circle cx="446.8" cy="234.1" r="2.9" fill="url(#gR)"/><circle cx="433.4" cy="234.4" r="3.5" fill="url(#gG)"/><path d="M422.5 267L433.7 260.5M422.5 267L433.9 273.4M458.8 266.4L447.4 260.3M458.8 266.4L447.6 273.2M395.6 217.8L407 211.9M395.6 217.8L396 206.3M395.6 217.8L399.5 229.1M484 216.2L472.4 210.8M484 216.2L483.1 204.8M484 216.2L480.5 227.7M418 217.5L422 228.7M418 217.5L407 211.9M418 217.5L410.9 223M461.6 216.8L458 228.1M461.6 216.8L472.4 210.8M461.6 216.8L468.9 222M422.3 253.9L433.5 247.6M422.3 253.9L433.7 260.5M422.3 253.9L422.5 267M458.6 253.3L447.2 247.3M458.6 253.3L447.4 260.3M458.6 253.3L458.8 266.4M417.4 204.3L418 217.5M417.4 204.3L406.3 198.7M461.7 203.5L461.6 216.8M461.7 203.5L472.6 197.5M399.7 241.1L410.7 234.9M399.7 241.1L404.4 252.5M399.7 241.1L399.5 229.1M480.7 239.7L469.5 233.9M480.7 239.7L476.4 251.2M480.7 239.7L480.5 227.7M422.2 240.6L433.4 234.4M422.2 240.6L433.5 247.6M422.2 240.6L410.7 234.9M422.2 240.6L422.3 253.9M458.2 240L446.8 234.1M458.2 240L447.2 247.3M458.2 240L465.1 245.4M458.2 240L469.5 233.9M458.2 240L458.6 253.3M417.1 191.2L417.4 204.3M417.1 191.2L406.3 198.7M461.6 190.4L461.7 203.5M461.6 190.4L472.6 197.5M406.6 223.5L418 217.5M406.6 223.5L410.7 234.9M406.6 223.5L395.6 217.8M406.6 223.5L399.5 229.1M473.1 222.3L461.6 216.8M473.1 222.3L469.5 233.9M473.1 222.3L484 216.2M473.1 222.3L480.5 227.7M429 223.2L418 217.5M450.8 222.8L461.6 216.8M450.8 222.8L458 228.1M411.2 260.1L422.3 253.9M411.2 260.1L422.5 267M469.8 259L458.6 253.3M469.8 259L458.8 266.4M428.6 210L429 223.2M428.6 210L418 217.5M428.6 210L439.7 209.6M450.8 209.6L450.8 222.8M450.8 209.6L461.6 216.8M450.8 209.6L450.9 216.5M450.8 209.6L439.7 209.6M411.3 246.7L422.2 240.6M411.3 246.7L422.3 253.9M411.3 246.7L399.7 241.1M411.3 246.7L411.2 260.1M469.3 245.7L458.2 240M469.3 245.7L458.6 253.3M469.3 245.7L480.7 239.7M469.3 245.7L469.8 259M428.4 197L428.6 210M428.4 197L417.4 204.3M428.4 197L417.1 191.2M450.5 196.6L450.8 209.6M450.5 196.6L461.7 203.5M450.5 196.6L461.6 190.4M428.2 184.1L428.4 197M428.2 184.1L417.1 191.2M450.3 183.8L450.5 196.6M450.3 183.8L461.6 190.4M440.9 280L447.6 273.2M440.9 280L433.9 273.4M440.7 267.2L447.4 260.3M440.7 267.2L433.7 260.5M440.7 267.2L447.6 273.2M440.7 267.2L433.9 273.4M440.4 254.4L447.2 247.3M440.4 254.4L433.5 247.6M440.4 254.4L447.4 260.3M440.4 254.4L433.7 260.5M399.6 206.2L395.6 217.8M399.6 206.2L406.3 198.7M479.6 204.8L484 216.2M479.6 204.8L472.6 197.5M440.2 241.6L447.2 247.3M440.2 241.6L433.5 247.6M395.5 229.6L406.6 223.5M395.5 229.6L395.6 217.8M395.5 229.6L399.7 241.1M417.8 229.2L429 223.2M417.8 229.2L418 217.5M417.8 229.2L422.2 240.6M417.8 229.2L406.6 223.5M462.2 228.4L450.8 222.8M462.2 228.4L458.2 240M462.2 228.4L473.1 222.3M484.5 228L473.1 222.3M484.5 228L484 216.2M484.5 228L480.7 239.7" stroke="#1fa822" stroke-width=".8" fill="none"/><circle cx="422.5" cy="267" r="3.5" fill="url(#gG)"/><circle cx="458.8" cy="266.4" r="3.5" fill="url(#gG)"/><circle cx="395.6" cy="217.8" r="3.5" fill="url(#gG)"/><circle cx="484" cy="216.2" r="3.5" fill="url(#gG)"/><circle cx="418" cy="217.5" r="2.9" fill="url(#gR)"/><circle cx="461.6" cy="216.8" r="3.5" fill="url(#gG)"/><circle cx="422.3" cy="253.9" r="2.9" fill="url(#gR)"/><circle cx="458.6" cy="253.3" r="3.5" fill="url(#gG)"/><circle cx="417.4" cy="204.3" r="3.5" fill="url(#gG)"/><circle cx="461.7" cy="203.5" r="2.9" fill="url(#gR)"/><circle cx="399.7" cy="241.1" r="3.5" fill="url(#gG)"/><circle cx="480.7" cy="239.7" r="3.5" fill="url(#gG)"/><circle cx="422.2" cy="240.6" r="2.9" fill="url(#gR)"/><circle cx="458.2" cy="240" r="2.9" fill="url(#gR)"/><circle cx="417.1" cy="191.2" r="3.5" fill="url(#gG)"/><circle cx="461.6" cy="190.4" r="3.5" fill="url(#gG)"/><circle cx="406.6" cy="223.5" r="3.5" fill="url(#gG)"/><circle cx="473.1" cy="222.3" r="3.5" fill="url(#gG)"/><circle cx="429" cy="223.2" r="3.5" fill="url(#gG)"/><circle cx="450.8" cy="222.8" r="3.5" fill="url(#gG)"/><circle cx="411.2" cy="260.1" r="3.5" fill="url(#gG)"/><circle cx="469.8" cy="259" r="3.5" fill="url(#gG)"/><circle cx="428.6" cy="210" r="2.9" fill="url(#gR)"/><circle cx="450.8" cy="209.6" r="2.9" fill="url(#gR)"/><circle cx="411.3" cy="246.7" r="3.5" fill="url(#gG)"/><circle cx="469.3" cy="245.7" r="3.5" fill="url(#gG)"/><circle cx="428.4" cy="197" r="3.5" fill="url(#gG)"/><circle cx="450.5" cy="196.6" r="3.5" fill="url(#gG)"/><circle cx="428.2" cy="184.1" r="3.5" fill="url(#gG)"/><circle cx="450.3" cy="183.8" r="3.5" fill="url(#gG)"/><circle cx="440.9" cy="280" r="3.5" fill="url(#gG)"/><circle cx="399.6" cy="206.2" r="3.5" fill="url(#gG)"/><circle cx="479.6" cy="204.8" r="3.5" fill="url(#gG)"/><circle cx="440.2" cy="241.6" r="2.9" fill="url(#gR)"/><circle cx="395.5" cy="229.6" r="3.5" fill="url(#gG)"/><circle cx="417.8" cy="229.2" r="2.9" fill="url(#gR)"/><circle cx="440" cy="228.8" r="2.9" fill="url(#gR)"/><circle cx="462.2" cy="228.4" r="3.5" fill="url(#gG)"/><circle cx="484.5" cy="228" r="3.5" fill="url(#gG)"/><path d="M439.8 216L428.6 210M439.8 216L450.8 209.6M400.4 252.8L411.3 246.7M400.4 252.8L399.7 241.1M400.4 252.8L411.2 260.1M480.4 251.4L469.3 245.7M480.4 251.4L480.7 239.7M480.4 251.4L469.8 259M439.6 203.2L439.8 216M439.6 203.2L428.6 210M439.6 203.2L450.8 209.6M439.6 203.2L428.4 197M439.6 203.2L450.5 196.6M439.3 190.4L439.6 203.2M439.3 190.4L428.4 197M439.3 190.4L450.5 196.6M439.3 190.4L428.2 184.1M439.3 190.4L450.3 183.8M439.1 177.6L439.3 190.4M439.1 177.6L428.2 184.1M439.1 177.6L450.3 183.8M429.7 273.8L440.7 267.2M429.7 273.8L440.9 280M429.7 273.8L422.5 267M451.8 273.5L440.7 267.2M451.8 273.5L440.9 280M451.8 273.5L458.8 266.4M429.5 261L440.4 254.4M429.5 261L440.7 267.2M429.5 261L422.3 253.9M429.5 261L422.5 267M451.6 260.6L440.4 254.4M451.6 260.6L440.7 267.2M451.6 260.6L458.6 253.3M451.6 260.6L458.8 266.4M468.7 210.9L479.6 204.8M429.2 248L440.2 241.6M429.2 248L440.4 254.4M429.2 248L422.2 240.6M429.2 248L422.3 253.9M451.4 247.6L440.2 241.6M451.4 247.6L440.4 254.4M451.4 247.6L458.2 240M451.4 247.6L458.6 253.3M410.2 198.6L410.7 211.9M410.2 198.6L399.6 206.2M410.2 198.6L417.1 191.2M468.8 197.5L468.7 210.9M468.8 197.5L479.6 204.8M468.8 197.5L461.6 190.4M429.2 234.8L422.2 240.6M451 234.4L458.2 240M406.9 235.3L406.6 223.5M406.9 235.3L411.3 246.7M406.9 235.3L399.7 241.1M473.4 234.1L473.1 222.3M473.4 234.1L469.3 245.7M473.4 234.1L484.5 228M473.4 234.1L480.7 239.7M418.4 267.2L429.5 261M418.4 267.2L429.7 273.8M418.4 267.2L411.2 260.1M462.9 266.4L451.6 260.6M462.9 266.4L451.8 273.5M462.9 266.4L469.8 259M421.8 217.6L417.8 229.2M421.8 217.6L428.6 210M457.8 217L462.2 228.4M457.8 217L450.8 209.6M399.3 217.9L410.7 211.9M399.3 217.9L399.6 206.2M399.3 217.9L395.5 229.6M480.3 216.5L468.7 210.9M480.3 216.5L479.6 204.8M480.3 216.5L484.5 228M418.3 254.1L429.2 248M418.3 254.1L429.5 261M418.3 254.1L411.3 246.7M418.3 254.1L411.2 260.1M462.6 253.3L451.4 247.6M462.6 253.3L451.6 260.6M462.6 253.3L469.3 245.7M462.6 253.3L469.8 259M457.7 203.7L457.8 217M457.7 203.7L468.7 210.9M457.7 203.7L450.5 196.6M421.4 204.3L421.8 217.6M421.4 204.3L410.7 211.9M421.4 204.3L428.4 197M418.4 240.8L429.2 234.8M418.4 240.8L417.8 229.2M418.4 240.8L429.2 248M418.4 240.8L406.9 235.3M418.4 240.8L411.3 246.7M462 240.1L451 234.4M462 240.1L462.2 228.4M462 240.1L451.4 247.6M462 240.1L473.4 234.1M462 240.1L469.3 245.7M396 241.4L406.9 235.3M396 241.4L395.5 229.6M396 241.4L400.4 252.8M484.4 239.8L473.4 234.1M484.4 239.8L484.5 228M484.4 239.8L480.4 251.4M421.2 191.2L421.4 204.3M421.2 191.2L428.2 184.1M421.2 191.2L410.2 198.6M457.5 190.6L457.7 203.7M457.5 190.6L450.3 183.8M457.5 190.6L468.8 197.5" stroke="#1fa822" stroke-width=".8" fill="none"/><circle cx="439.8" cy="216" r="3.5" fill="url(#gG)"/><circle cx="400.4" cy="252.8" r="3.5" fill="url(#gG)"/><circle cx="480.4" cy="251.4" r="3.5" fill="url(#gG)"/><circle cx="439.6" cy="203.2" r="3.5" fill="url(#gG)"/><circle cx="439.3" cy="190.4" r="3.5" fill="url(#gG)"/><circle cx="439.1" cy="177.6" r="3.5" fill="url(#gG)"/><circle cx="429.7" cy="273.8" r="3.5" fill="url(#gG)"/><circle cx="451.8" cy="273.5" r="3.5" fill="url(#gG)"/><circle cx="429.5" cy="261" r="3.5" fill="url(#gG)"/><circle cx="410.7" cy="211.9" r="3.5" fill="url(#gG)"/><circle cx="468.7" cy="210.9" r="3.5" fill="url(#gG)"/><circle cx="410.2" cy="198.6" r="3.5" fill="url(#gG)"/><circle cx="468.8" cy="197.5" r="3.5" fill="url(#gG)"/><circle cx="429.2" cy="234.8" r="3.5" fill="url(#gG)"/><circle cx="451" cy="234.4" r="2.9" fill="url(#gR)"/><circle cx="406.9" cy="235.3" r="3.5" fill="url(#gG)"/><circle cx="473.4" cy="234.1" r="3.5" fill="url(#gG)"/><circle cx="418.4" cy="267.2" r="3.5" fill="url(#gG)"/><circle cx="462.9" cy="266.4" r="3.5" fill="url(#gG)"/><circle cx="421.8" cy="217.6" r="2.9" fill="url(#gR)"/><circle cx="457.8" cy="217" r="2.9" fill="url(#gR)"/><circle cx="399.3" cy="217.9" r="3.5" fill="url(#gG)"/><circle cx="480.3" cy="216.5" r="3.5" fill="url(#gG)"/><circle cx="418.3" cy="254.1" r="3.5" fill="url(#gG)"/><circle cx="462.6" cy="253.3" r="3.5" fill="url(#gG)"/><circle cx="457.7" cy="203.7" r="3.5" fill="url(#gG)"/><circle cx="421.4" cy="204.3" r="3.5" fill="url(#gG)"/><circle cx="418.4" cy="240.8" r="3.5" fill="url(#gG)"/><circle cx="462" cy="240.1" r="2.9" fill="url(#gR)"/><circle cx="396" cy="241.4" r="3.5" fill="url(#gG)"/><circle cx="484.4" cy="239.8" r="3.5" fill="url(#gG)"/><circle cx="421.2" cy="191.2" r="3.5" fill="url(#gG)"/><circle cx="457.5" cy="190.6" r="3.5" fill="url(#gG)"/><path d="M446.6 223.2L457.8 217M433.2 223.5L421.8 217.6M410.5 223.7L410.7 211.9M410.5 223.7L406.9 235.3M410.5 223.7L399.3 217.9M469.3 222.7L457.8 217M469.3 222.7L468.7 210.9M469.3 222.7L473.4 234.1M469.3 222.7L480.3 216.5M407.4 260.1L418.3 254.1M407.4 260.1L418.4 267.2M407.4 260.1L400.4 252.8M473.7 258.9L462.6 253.3M473.7 258.9L462.9 266.4M473.7 258.9L480.4 251.4M432.8 210.3L439.8 216M432.8 210.3L439.6 203.2M432.8 210.3L421.8 217.6M432.8 210.3L421.4 204.3M446.5 210L439.8 216M446.5 210L439.6 203.2M446.5 210L457.8 217M446.5 210L457.7 203.7M407.6 246.8L418.4 240.8M407.6 246.8L406.9 235.3M407.6 246.8L418.3 254.1M407.6 246.8L396 241.4M407.6 246.8L400.4 252.8M473 245.7L462 240.1M473 245.7L473.4 234.1M473 245.7L462.6 253.3M473 245.7L484.4 239.8M473 245.7L480.4 251.4M432.6 197.3L439.6 203.2M432.6 197.3L432.8 210.3M432.6 197.3L439.3 190.4M432.6 197.3L421.4 204.3M432.6 197.3L421.2 191.2M446.3 197.1L439.6 203.2M446.3 197.1L446.5 210M446.3 197.1L439.3 190.4M446.3 197.1L432.6 197.3M446.3 197.1L457.7 203.7M446.3 197.1L457.5 190.6M440.8 273.9L451.8 273.5M440.8 273.9L429.7 273.8M446.1 184.2L439.3 190.4M446.1 184.2L446.3 197.1M446.1 184.2L439.1 177.6M446.1 184.2L457.5 190.6M432.4 184.4L439.3 190.4M432.4 184.4L432.6 197.3M432.4 184.4L439.1 177.6M432.4 184.4L446.1 184.2M432.4 184.4L421.2 191.2M440.6 261L451.6 260.6M440.6 261L429.5 261M440.3 248L451.4 247.6M440.3 248L429.2 248M403.6 206.4L399.3 217.9M403.6 206.4L410.2 198.6M475.6 205.1L480.3 216.5M475.6 205.1L468.8 197.5M422 229.5L433.2 223.5M422 229.5L418.4 240.8M422 229.5L421.8 217.6M422 229.5L410.5 223.7M458 228.9L446.6 223.2M458 228.9L457.8 217M458 228.9L469.3 222.7M399.5 229.9L410.5 223.7M399.5 229.9L396 241.4M399.5 229.9L399.3 217.9M480.5 228.5L469.3 222.7M480.5 228.5L484.4 239.8M480.5 228.5L480.3 216.5M396.9 252.8L407.6 246.8M396.9 252.8L396 241.4M396.9 252.8L407.4 260.1M484 251.3L473 245.7M484 251.3L484.4 239.8M484 251.3L473.7 258.9M451.9 267.1L440.6 261M451.9 267.1L440.8 273.9M451.9 267.1L462.9 266.4M429.5 267.5L440.6 261M429.5 267.5L440.8 273.9M429.5 267.5L418.4 267.2M451.7 254L440.3 248M451.7 254L440.6 261M451.7 254L462.6 253.3M429.2 254.4L440.3 248M429.2 254.4L440.6 261M429.2 254.4L418.3 254.1M451.3 240.7L440.1 234.8M451.3 240.7L451 234.4M451.3 240.7L462 240.1M451.3 240.7L440.3 248M451.3 240.7L458 228.9M429.1 241.1L440.1 234.8M429.1 241.1L418.4 240.8M429.1 241.1L440.3 248M429.1 241.1L422 229.5M414.9 212.2L410.5 223.7M414.9 212.2L421.4 204.3M464.5 211.3L469.3 222.7M464.5 211.3L457.7 203.7M414.4 198.9L414.9 212.2M414.4 198.9L403.6 206.4M414.4 198.9L421.2 191.2M464.5 198L464.5 211.3M464.5 198L475.6 205.1M464.5 198L457.5 190.6M411.1 235.6L418.4 240.8M411.1 235.6L422 229.5M411.1 235.6L410.5 223.7M411.1 235.6L399.5 229.9M469.1 234.6L462 240.1M469.1 234.6L458 228.9M469.1 234.6L469.3 222.7M469.1 234.6L480.5 228.5" stroke="#1fa822" stroke-width=".8" fill="none"/><circle cx="446.6" cy="223.2" r="3.5" fill="url(#gG)"/><circle cx="433.2" cy="223.5" r="2.9" fill="url(#gR)"/><circle cx="410.5" cy="223.7" r="2.9" fill="url(#gR)"/><circle cx="469.3" cy="222.7" r="3.5" fill="url(#gG)"/><circle cx="407.4" cy="260.1" r="3.5" fill="url(#gG)"/><circle cx="473.7" cy="258.9" r="3.5" fill="url(#gG)"/><circle cx="432.8" cy="210.3" r="2.9" fill="url(#gR)"/><circle cx="446.5" cy="210" r="2.9" fill="url(#gR)"/><circle cx="407.6" cy="246.8" r="3.5" fill="url(#gG)"/><circle cx="473" cy="245.7" r="3.5" fill="url(#gG)"/><circle cx="432.6" cy="197.3" r="2.9" fill="url(#gR)"/><circle cx="446.3" cy="197.1" r="3.5" fill="url(#gG)"/><circle cx="440.8" cy="273.9" r="3.5" fill="url(#gG)"/><circle cx="446.1" cy="184.2" r="3.5" fill="url(#gG)"/><circle cx="432.4" cy="184.4" r="3.5" fill="url(#gG)"/><circle cx="440.6" cy="261" r="3.5" fill="url(#gG)"/><circle cx="440.3" cy="248" r="3.5" fill="url(#gG)"/><circle cx="440.1" cy="234.8" r="3.5" fill="url(#gG)"/><circle cx="403.6" cy="206.4" r="3.5" fill="url(#gG)"/><circle cx="475.6" cy="205.1" r="3.5" fill="url(#gG)"/><circle cx="422" cy="229.5" r="3.5" fill="url(#gG)"/><circle cx="458" cy="228.9" r="2.9" fill="url(#gR)"/><circle cx="399.5" cy="229.9" r="3.5" fill="url(#gG)"/><circle cx="480.5" cy="228.5" r="3.5" fill="url(#gG)"/><circle cx="396.9" cy="252.8" r="3.5" fill="url(#gG)"/><circle cx="484" cy="251.3" r="3.5" fill="url(#gG)"/><circle cx="451.9" cy="267.1" r="3.5" fill="url(#gG)"/><circle cx="429.5" cy="267.5" r="3.5" fill="url(#gG)"/><circle cx="451.7" cy="254" r="3.5" fill="url(#gG)"/><circle cx="429.2" cy="254.4" r="2.9" fill="url(#gR)"/><circle cx="451.3" cy="240.7" r="2.9" fill="url(#gR)"/><circle cx="429.1" cy="241.1" r="2.9" fill="url(#gR)"/><circle cx="414.9" cy="212.2" r="3.5" fill="url(#gG)"/><circle cx="464.5" cy="211.3" r="3.5" fill="url(#gG)"/><circle cx="414.4" cy="198.9" r="3.5" fill="url(#gG)"/><circle cx="464.5" cy="198" r="3.5" fill="url(#gG)"/><circle cx="411.1" cy="235.6" r="3.5" fill="url(#gG)"/><circle cx="469.1" cy="234.6" r="2.9" fill="url(#gR)"/><path d="M418.2 260.5L429.2 254.4M418.2 260.5L407.4 260.1M418.2 260.5L429.5 267.5M462.9 259.8L451.7 254M462.9 259.8L473.7 258.9M462.9 259.8L451.9 267.1M418.1 247.2L429.1 241.1M418.1 247.2L407.6 246.8M418.1 247.2L411.1 235.6M418.1 247.2L429.2 254.4M462.5 246.4L462 240.1M462.5 246.4L451.3 240.7M462.5 246.4L473 245.7M462.5 246.4L469.1 234.6M462.5 246.4L451.7 254M453.3 217.6L446.6 223.2M453.3 217.6L458 228.9M453.3 217.6L446.5 210M453.3 217.6L464.5 211.3M426.4 218.1L433.2 223.5M426.4 218.1L422 229.5M426.4 218.1L432.8 210.3M426.4 218.1L414.9 212.2M439.8 217.6L433.2 223.5M439.8 217.6L446.6 223.2M439.8 217.6L432.8 210.3M439.8 217.6L446.5 210M403.6 218.2L414.9 212.2M403.6 218.2L403.6 206.4M403.6 218.2L399.5 229.9M476 216.9L464.5 211.3M476 216.9L475.6 205.1M476 216.9L480.5 228.5M425.9 204.9L426.4 218.1M425.9 204.9L432.8 210.3M425.9 204.9L414.9 212.2M425.9 204.9L432.6 197.3M425.9 204.9L414.4 198.9M453.3 204.4L453.3 217.6M453.3 204.4L446.5 210M453.3 204.4L464.5 211.3M453.3 204.4L446.3 197.1M453.3 204.4L464.5 198M439.6 204.4L439.8 217.6M439.6 204.4L432.8 210.3M439.6 204.4L446.5 210M439.6 204.4L425.9 204.9M439.6 204.4L432.6 197.3M439.6 204.4L453.3 204.4M439.6 204.4L446.3 197.1M400.2 241.7L407.6 246.8M400.2 241.7L411.1 235.6M400.2 241.7L396.9 252.8M400.2 241.7L399.5 229.9M480.2 240.3L473 245.7M480.2 240.3L469.1 234.6M480.2 240.3L484 251.3M480.2 240.3L480.5 228.5M425.6 191.8L425.9 204.9M425.6 191.8L432.6 197.3M425.6 191.8L432.4 184.4M425.6 191.8L414.4 198.9M453.1 191.3L453.3 204.4M453.1 191.3L446.3 197.1M453.1 191.3L446.1 184.2M453.1 191.3L464.5 198M439.3 191.3L432.6 197.3M439.3 191.3L446.3 197.1M439.3 191.3L439.6 204.4M439.3 191.3L425.6 191.8M439.3 191.3L432.4 184.4M439.3 191.3L453.1 191.3M439.3 191.3L446.1 184.2M446.9 229.3L440.1 234.8M446.9 229.3L453.3 217.6M446.9 229.3L451.3 240.7M446.9 229.3L439.8 217.6M433.1 229.5L440.1 234.8M433.1 229.5L426.4 218.1M433.1 229.5L429.1 241.1M433.1 229.5L439.8 217.6M407.3 253.2L418.1 247.2M407.3 253.2L396.9 252.8M407.3 253.2L400.2 241.7M407.3 253.2L418.2 260.5M473.6 252.1L462.5 246.4M473.6 252.1L484 251.3M473.6 252.1L480.2 240.3M473.6 252.1L462.9 259.8M440.7 267.3L451.9 267.1M440.7 267.3L429.5 267.5M440.2 240.9L433.1 229.5M440.2 240.9L446.9 229.3M440.2 240.9L429.1 241.1M440.4 254.1L451.7 254M440.4 254.1L429.2 254.4M415.1 224L426.4 218.1M415.1 224L422 229.5M415.1 224L414.9 212.2M415.1 224L403.6 218.2M464.7 223.2L453.3 217.6M464.7 223.2L458 228.9M464.7 223.2L464.5 211.3M464.7 223.2L476 216.9M458.3 235.1L446.9 229.3M458.3 235.1L451.3 240.7M458.3 235.1L462.5 246.4M458.3 235.1L464.7 223.2M458.3 235.1L469.1 234.6M422 235.7L433.1 229.5M422 235.7L429.1 241.1M422 235.7L415.1 224M422 235.7L411.1 235.6M408.1 206.8L403.6 218.2M408.1 206.8L414.4 198.9M471.1 205.7L476 216.9M471.1 205.7L464.5 198M404 230.2L415.1 224M404 230.2L411.1 235.6M404 230.2L400.2 241.7M404 230.2L403.6 218.2M476 228.9L464.7 223.2M476 228.9L469.1 234.6M476 228.9L480.2 240.3M476 228.9L476 216.9M429.4 260.6L440.4 254.1M429.4 260.6L440.7 267.3M429.4 260.6L418.2 260.5M451.7 260.2L440.4 254.1M451.7 260.2L440.7 267.3M451.7 260.2L462.9 259.8M451.4 246.8L440.2 240.9M451.4 246.8L440.4 254.1M451.4 246.8L462.5 246.4M451.4 246.8L458.3 235.1M429.2 247.2L440.2 240.9M429.2 247.2L440.4 254.1M429.2 247.2L418.1 247.2M429.2 247.2L422 235.7" stroke="#1fa822" stroke-width=".8" fill="none"/><circle cx="418.2" cy="260.5" r="3.5" fill="url(#gG)"/><circle cx="462.9" cy="259.8" r="3.5" fill="url(#gG)"/><circle cx="418.1" cy="247.2" r="3.5" fill="url(#gG)"/><circle cx="462.5" cy="246.4" r="2.9" fill="url(#gR)"/><circle cx="453.3" cy="217.6" r="3.5" fill="url(#gG)"/><circle cx="426.4" cy="218.1" r="2.9" fill="url(#gR)"/><circle cx="439.8" cy="217.6" r="2.9" fill="url(#gR)"/><circle cx="403.6" cy="218.2" r="3.5" fill="url(#gG)"/><circle cx="476" cy="216.9" r="3.5" fill="url(#gG)"/><circle cx="425.9" cy="204.9" r="3.5" fill="url(#gG)"/><circle cx="453.3" cy="204.4" r="3.5" fill="url(#gG)"/><circle cx="439.6" cy="204.4" r="2.9" fill="url(#gR)"/><circle cx="400.2" cy="241.7" r="3.5" fill="url(#gG)"/><circle cx="480.2" cy="240.3" r="3.5" fill="url(#gG)"/><circle cx="425.6" cy="191.8" r="3.5" fill="url(#gG)"/><circle cx="453.1" cy="191.3" r="3.5" fill="url(#gG)"/><circle cx="439.3" cy="191.3" r="3.5" fill="url(#gG)"/><circle cx="446.9" cy="229.3" r="2.9" fill="url(#gR)"/><circle cx="433.1" cy="229.5" r="3.5" fill="url(#gG)"/><circle cx="407.3" cy="253.2" r="3.5" fill="url(#gG)"/><circle cx="473.6" cy="252.1" r="3.5" fill="url(#gG)"/><circle cx="440.7" cy="267.3" r="3.5" fill="url(#gG)"/><circle cx="440.2" cy="240.9" r="2.9" fill="url(#gR)"/><circle cx="440.4" cy="254.1" r="3.5" fill="url(#gG)"/><circle cx="415.1" cy="224" r="3.5" fill="url(#gG)"/><circle cx="464.7" cy="223.2" r="3.5" fill="url(#gG)"/><circle cx="458.3" cy="235.1" r="3.5" fill="url(#gG)"/><circle cx="422" cy="235.7" r="2.9" fill="url(#gR)"/><circle cx="408.1" cy="206.8" r="3.5" fill="url(#gG)"/><circle cx="471.1" cy="205.7" r="3.5" fill="url(#gG)"/><circle cx="404" cy="230.2" r="3.5" fill="url(#gG)"/><circle cx="476" cy="228.9" r="3.5" fill="url(#gG)"/><circle cx="429.4" cy="260.6" r="3.5" fill="url(#gG)"/><circle cx="451.7" cy="260.2" r="3.5" fill="url(#gG)"/><circle cx="451.4" cy="246.8" r="3.5" fill="url(#gG)"/><circle cx="429.2" cy="247.2" r="3.5" fill="url(#gG)"/><path d="M410.9 241.9L418.1 247.2M410.9 241.9L422 235.7M410.9 241.9L407.3 253.2M410.9 241.9L404 230.2M410.9 241.9L400.2 241.7M469.5 240.9L462.5 246.4M469.5 240.9L458.3 235.1M469.5 240.9L473.6 252.1M469.5 240.9L476 228.9M469.5 240.9L480.2 240.3M419.5 212.8L426.4 218.1M419.5 212.8L415.1 224M419.5 212.8L425.9 204.9M419.5 212.8L408.1 206.8M459.9 212.1L453.3 217.6M459.9 212.1L464.7 223.2M459.9 212.1L453.3 204.4M459.9 212.1L471.1 205.7M432.9 212.2L426.4 218.1M432.9 212.2L439.8 217.6M432.9 212.2L419.5 212.8M432.9 212.2L425.9 204.9M432.9 212.2L439.6 204.4M446.6 212L453.3 217.6M446.6 212L439.8 217.6M446.6 212L459.9 212.1M446.6 212L432.9 212.2M446.6 212L453.3 204.4M446.6 212L439.6 204.4M419 199.6L419.5 212.8M419 199.6L425.9 204.9M419 199.6L408.1 206.8M419 199.6L425.6 191.8M460 198.8L459.9 212.1M460 198.8L453.3 204.4M460 198.8L471.1 205.7M460 198.8L453.1 191.3M446.4 198.7L446.6 212M446.4 198.7L453.3 204.4M446.4 198.7L439.6 204.4M446.4 198.7L460 198.8M446.4 198.7L453.1 191.3M446.4 198.7L439.3 191.3M432.6 198.9L432.9 212.2M432.6 198.9L425.9 204.9M432.6 198.9L439.6 204.4M432.6 198.9L419 199.6M432.6 198.9L425.6 191.8M432.6 198.9L439.3 191.3M462.7 252.6L451.4 246.8M462.7 252.6L473.6 252.1M462.7 252.6L469.5 240.9M462.7 252.6L462.9 259.8M462.7 252.6L451.7 260.2M418.2 253.4L429.2 247.2M418.2 253.4L407.3 253.2M418.2 253.4L410.9 241.9M418.2 253.4L418.2 260.5M418.2 253.4L429.4 260.6M426.2 224.1L433.1 229.5M426.2 224.1L419.5 212.8M426.2 224.1L432.9 212.2M426.2 224.1L415.1 224M453.6 223.6L446.9 229.3M453.6 223.6L459.9 212.1M453.6 223.6L446.6 212M453.6 223.6L464.7 223.2M453.6 223.6L458.3 235.1M439.9 223.8L433.1 229.5M439.9 223.8L446.9 229.3M439.9 223.8L426.2 224.1M439.9 223.8L453.6 223.6M439.9 223.8L432.9 212.2M439.9 223.8L446.6 212M471.3 217.5L459.9 212.1M471.3 217.5L464.7 223.2M471.3 217.5L471.1 205.7M471.3 217.5L476 228.9M408.3 218.6L419.5 212.8M408.3 218.6L415.1 224M408.3 218.6L408.1 206.8M408.3 218.6L404 230.2M433.3 235.7L440.2 240.9M433.3 235.7L426.2 224.1M433.3 235.7L429.2 247.2M433.3 235.7L439.9 223.8M433.3 235.7L422 235.7M447 235.4L440.2 240.9M447 235.4L446.9 229.3M447 235.4L453.6 223.6M447 235.4L451.4 246.8M447 235.4L439.9 223.8M447 235.4L458.3 235.1M440.3 246.9L433.3 235.7M440.3 246.9L447 235.4M440.3 246.9L451.4 246.8M440.3 246.9L429.2 247.2M440.5 260.2L440.7 267.3M440.5 260.2L451.7 260.2M440.5 260.2L429.4 260.6M415 230.2L426.2 224.1M415 230.2L422 235.7M415 230.2L408.3 218.6M415 230.2L404 230.2M415 230.2L410.9 241.9M465 229.3L453.6 223.6M465 229.3L458.3 235.1M465 229.3L471.3 217.5M465 229.3L476 228.9M465 229.3L469.5 240.9" stroke="#1fa822" stroke-width=".8" fill="none"/><circle cx="410.9" cy="241.9" r="3.5" fill="url(#gG)"/><circle cx="469.5" cy="240.9" r="3.5" fill="url(#gG)"/><circle cx="419.5" cy="212.8" r="3.5" fill="url(#gG)"/><circle cx="459.9" cy="212.1" r="3.5" fill="url(#gG)"/><circle cx="432.9" cy="212.2" r="3.5" fill="url(#gG)"/><circle cx="446.6" cy="212" r="3.5" fill="url(#gG)"/><circle cx="419" cy="199.6" r="3.5" fill="url(#gG)"/><circle cx="460" cy="198.8" r="3.5" fill="url(#gG)"/><circle cx="446.4" cy="198.7" r="3.5" fill="url(#gG)"/><circle cx="432.6" cy="198.9" r="3.5" fill="url(#gG)"/><circle cx="462.7" cy="252.6" r="3.5" fill="url(#gG)"/><circle cx="418.2" cy="253.4" r="3.5" fill="url(#gG)"/><circle cx="426.2" cy="224.1" r="3.5" fill="url(#gG)"/><circle cx="453.6" cy="223.6" r="2.9" fill="url(#gR)"/><circle cx="439.9" cy="223.8" r="3.5" fill="url(#gG)"/><circle cx="471.3" cy="217.5" r="3.5" fill="url(#gG)"/><circle cx="408.3" cy="218.6" r="3.5" fill="url(#gG)"/><circle cx="433.3" cy="235.7" r="3.5" fill="url(#gG)"/><circle cx="447" cy="235.4" r="2.9" fill="url(#gR)"/><circle cx="440.3" cy="246.9" r="3.5" fill="url(#gG)"/><circle cx="440.5" cy="260.2" r="3.5" fill="url(#gG)"/><circle cx="415" cy="230.2" r="3.5" fill="url(#gG)"/><circle cx="465" cy="229.3" r="3.5" fill="url(#gG)"/><path d="M422.1 241.9L433.3 235.7M422.1 241.9L429.2 247.2M422.1 241.9L418.2 253.4M422.1 241.9L410.9 241.9M422.1 241.9L415 230.2M458.3 241.3L447 235.4M458.3 241.3L451.4 246.8M458.3 241.3L462.7 252.6M458.3 241.3L469.5 240.9M458.3 241.3L465 229.3M412.7 207.4L419.5 212.8M412.7 207.4L408.3 218.6M412.7 207.4L419 199.6M466.5 206.5L459.9 212.1M466.5 206.5L471.3 217.5M466.5 206.5L460 198.8M429.4 253.3L440.3 246.9M429.4 253.3L440.5 260.2M429.4 253.3L418.2 253.4M429.4 253.3L422.1 241.9M429.4 253.3L429.4 260.6M451.5 252.9L440.3 246.9M451.5 252.9L440.5 260.2M451.5 252.9L462.7 252.6M451.5 252.9L458.3 241.3M451.5 252.9L451.7 260.2M426 206.9L419.5 212.8M426 206.9L432.9 212.2M426 206.9L412.7 207.4M426 206.9L419 199.6M426 206.9L432.6 198.9M453.3 206.4L459.9 212.1M453.3 206.4L446.6 212M453.3 206.4L466.5 206.5M453.3 206.4L460 198.8M453.3 206.4L446.4 198.7M439.6 206.5L432.9 212.2M439.6 206.5L446.6 212M439.6 206.5L426 206.9M439.6 206.5L453.3 206.4M439.6 206.5L446.4 198.7M439.6 206.5L432.6 198.9M460.3 218L453.6 223.6M460.3 218L466.5 206.5M460.3 218L453.3 206.4M460.3 218L471.3 217.5M460.3 218L465 229.3M419.3 218.7L426.2 224.1M419.3 218.7L412.7 207.4M419.3 218.7L426 206.9M419.3 218.7L408.3 218.6M419.3 218.7L415 230.2M446.7 218L453.6 223.6M446.7 218L439.9 223.8M446.7 218L460.3 218M446.7 218L439.6 206.5M446.7 218L453.3 206.4M432.9 218.3L426.2 224.1M432.9 218.3L439.9 223.8M432.9 218.3L419.3 218.7M432.9 218.3L426 206.9M432.9 218.3L439.6 206.5M453.8 229.7L447 235.4M453.8 229.7L460.3 218M453.8 229.7L446.7 218M453.8 229.7L465 229.3M453.8 229.7L458.3 241.3M426.3 230.2L433.3 235.7M426.3 230.2L419.3 218.7M426.3 230.2L432.9 218.3M426.3 230.2L415 230.2M426.3 230.2L422.1 241.9M440 230L433.3 235.7M440 230L447 235.4M440 230L426.3 230.2M440 230L453.8 229.7M440 230L446.7 218M440 230L432.9 218.3M433.4 241.8L440.3 246.9M433.4 241.8L426.3 230.2M433.4 241.8L429.4 253.3M433.4 241.8L440 230M433.4 241.8L422.1 241.9M447.1 241.5L440.3 246.9M447.1 241.5L453.8 229.7M447.1 241.5L451.5 252.9M447.1 241.5L440 230M447.1 241.5L458.3 241.3M440.4 253L433.4 241.8M440.4 253L447.1 241.5M440.4 253L440.5 260.2M440.4 253L451.5 252.9M440.4 253L429.4 253.3" stroke="#1fa822" stroke-width=".8" fill="none"/><circle cx="422.1" cy="241.9" r="3.5" fill="url(#gG)"/><circle cx="458.3" cy="241.3" r="3.5" fill="url(#gG)"/><circle cx="412.7" cy="207.4" r="3.5" fill="url(#gG)"/><circle cx="466.5" cy="206.5" r="3.5" fill="url(#gG)"/><circle cx="429.4" cy="253.3" r="3.5" fill="url(#gG)"/><circle cx="451.5" cy="252.9" r="3.5" fill="url(#gG)"/><circle cx="426" cy="206.9" r="3.5" fill="url(#gG)"/><circle cx="453.3" cy="206.4" r="3.5" fill="url(#gG)"/><circle cx="439.6" cy="206.5" r="3.5" fill="url(#gG)"/><circle cx="460.3" cy="218" r="3.5" fill="url(#gG)"/><circle cx="419.3" cy="218.7" r="3.5" fill="url(#gG)"/><circle cx="446.7" cy="218" r="3.5" fill="url(#gG)"/><circle cx="432.9" cy="218.3" r="3.5" fill="url(#gG)"/><circle cx="453.8" cy="229.7" r="3.5" fill="url(#gG)"/><circle cx="426.3" cy="230.2" r="3.5" fill="url(#gG)"/><circle cx="440" cy="230" r="3.5" fill="url(#gG)"/><circle cx="433.4" cy="241.8" r="3.5" fill="url(#gG)"/><circle cx="447.1" cy="241.5" r="3.5" fill="url(#gG)"/><circle cx="440.4" cy="253" r="3.5" fill="url(#gG)"/></g>
<g>
<path d="M76.6 599.2h2.2v2.6h-2.2zM81.2 599.2h2.2v2.6h-2.2zM85.8 599.2h2.2v2.6h-2.2zM90.3 599.2h2.2v2.6h-2.2zM94.9 599.2h2.2v2.6h-2.2zM99.5 599.2h2.2v2.6h-2.2zM104.1 599.2h2.2v2.6h-2.2zM108.7 599.2h2.2v2.6h-2.2zM113.2 599.2h2.2v2.6h-2.2zM117.8 599.2h2.2v2.6h-2.2zM122.4 599.2h2.2v2.6h-2.2zM127 599.2h2.2v2.6h-2.2zM131.6 599.2h2.2v2.6h-2.2zM136.1 599.2h2.2v2.6h-2.2zM140.7 599.2h2.2v2.6h-2.2zM145.3 599.2h2.2v2.6h-2.2zM149.9 599.2h2.2v2.6h-2.2zM154.5 599.2h2.2v2.6h-2.2zM159 599.2h2.2v2.6h-2.2zM163.6 599.2h2.2v2.6h-2.2zM168.2 599.2h2.2v2.6h-2.2zM172.8 599.2h2.2v2.6h-2.2zM177.4 599.2h2.2v2.6h-2.2zM181.9 599.2h2.2v2.6h-2.2zM186.5 599.2h2.2v2.6h-2.2zM191.1 599.2h2.2v2.6h-2.2zM195.7 599.2h2.2v2.6h-2.2zM200.3 599.2h2.2v2.6h-2.2zM204.8 599.2h2.2v2.6h-2.2zM209.4 599.2h2.2v2.6h-2.2zM214 599.2h2.2v2.6h-2.2zM218.6 599.2h2.2v2.6h-2.2zM223.2 599.2h2.2v2.6h-2.2zM227.7 599.2h2.2v2.6h-2.2zM232.3 599.2h2.2v2.6h-2.2zM236.9 599.2h2.2v2.6h-2.2zM241.5 599.2h2.2v2.6h-2.2zM246.1 599.2h2.2v2.6h-2.2zM250.6 599.2h2.2v2.6h-2.2zM255.2 599.2h2.2v2.6h-2.2zM259.8 599.2h2.2v2.6h-2.2zM264.4 599.2h2.2v2.6h-2.2zM269 597h2.2v2.6h-2.2zM273.5 598h2.2v2.6h-2.2zM278.1 598.6h2.2v2.6h-2.2zM282.7 599.2h2.2v2.6h-2.2z" fill="#000"/><path d="M265.5 600.9L270.1 598.7L274.6 599.7L279.2 600.3L283.8 600.9" fill="none" stroke="#000" stroke-width="2.55" stroke-linejoin="round"/>
<path d="M78.5 600.9H282.8" stroke="#f00" stroke-width="1.5"/><path d="M76.5 600.4a1.25 1.25 0 1 0 2.5 0a1.25 1.25 0 1 0 -2.5 0zM81 600.4a1.25 1.25 0 1 0 2.5 0a1.25 1.25 0 1 0 -2.5 0zM85.6 600.4a1.25 1.25 0 1 0 2.5 0a1.25 1.25 0 1 0 -2.5 0zM90.2 600.4a1.25 1.25 0 1 0 2.5 0a1.25 1.25 0 1 0 -2.5 0zM94.8 600.4a1.25 1.25 0 1 0 2.5 0a1.25 1.25 0 1 0 -2.5 0zM99.3 600.4a1.25 1.25 0 1 0 2.5 0a1.25 1.25 0 1 0 -2.5 0zM103.9 521.4a1.25 1.25 0 1 0 2.5 0a1.25 1.25 0 1 0 -2.5 0zM108.5 600.4a1.25 1.25 0 1 0 2.5 0a1.25 1.25 0 1 0 -2.5 0zM113.1 600.4a1.25 1.25 0 1 0 2.5 0a1.25 1.25 0 1 0 -2.5 0zM117.7 600.4a1.25 1.25 0 1 0 2.5 0a1.25 1.25 0 1 0 -2.5 0zM122.2 600.4a1.25 1.25 0 1 0 2.5 0a1.25 1.25 0 1 0 -2.5 0zM126.8 600.4a1.25 1.25 0 1 0 2.5 0a1.25 1.25 0 1 0 -2.5 0zM131.4 600.4a1.25 1.25 0 1 0 2.5 0a1.25 1.25 0 1 0 -2.5 0zM136 600.4a1.25 1.25 0 1 0 2.5 0a1.25 1.25 0 1 0 -2.5 0zM140.6 600.4a1.25 1.25 0 1 0 2.5 0a1.25 1.25 0 1 0 -2.5 0zM145.1 541.8a1.25 1.25 0 1 0 2.5 0a1.25 1.25 0 1 0 -2.5 0zM149.7 600.4a1.25 1.25 0 1 0 2.5 0a1.25 1.25 0 1 0 -2.5 0zM154.3 600.4a1.25 1.25 0 1 0 2.5 0a1.25 1.25 0 1 0 -2.5 0zM158.9 583.6a1.25 1.25 0 1 0 2.5 0a1.25 1.25 0 1 0 -2.5 0zM163.5 600.4a1.25 1.25 0 1 0 2.5 0a1.25 1.25 0 1 0 -2.5 0zM168.1 600.4a1.25 1.25 0 1 0 2.5 0a1.25 1.25 0 1 0 -2.5 0zM172.6 600.4a1.25 1.25 0 1 0 2.5 0a1.25 1.25 0 1 0 -2.5 0zM177.2 600.4a1.25 1.25 0 1 0 2.5 0a1.25 1.25 0 1 0 -2.5 0zM181.8 600.4a1.25 1.25 0 1 0 2.5 0a1.25 1.25 0 1 0 -2.5 0zM186.4 583.8a1.25 1.25 0 1 0 2.5 0a1.25 1.25 0 1 0 -2.5 0zM190.9 600.4a1.25 1.25 0 1 0 2.5 0a1.25 1.25 0 1 0 -2.5 0zM195.5 551.6a1.25 1.25 0 1 0 2.5 0a1.25 1.25 0 1 0 -2.5 0zM200.1 600.4a1.25 1.25 0 1 0 2.5 0a1.25 1.25 0 1 0 -2.5 0zM204.7 600.4a1.25 1.25 0 1 0 2.5 0a1.25 1.25 0 1 0 -2.5 0zM209.3 600.4a1.25 1.25 0 1 0 2.5 0a1.25 1.25 0 1 0 -2.5 0zM213.8 594a1.25 1.25 0 1 0 2.5 0a1.25 1.25 0 1 0 -2.5 0zM218.4 600.4a1.25 1.25 0 1 0 2.5 0a1.25 1.25 0 1 0 -2.5 0zM223 600.4a1.25 1.25 0 1 0 2.5 0a1.25 1.25 0 1 0 -2.5 0zM227.6 600.4a1.25 1.25 0 1 0 2.5 0a1.25 1.25 0 1 0 -2.5 0zM232.2 587a1.25 1.25 0 1 0 2.5 0a1.25 1.25 0 1 0 -2.5 0zM236.8 585.2a1.25 1.25 0 1 0 2.5 0a1.25 1.25 0 1 0 -2.5 0zM241.3 588.2a1.25 1.25 0 1 0 2.5 0a1.25 1.25 0 1 0 -2.5 0zM245.9 597.1a1.25 1.25 0 1 0 2.5 0a1.25 1.25 0 1 0 -2.5 0zM250.5 580.4a1.25 1.25 0 1 0 2.5 0a1.25 1.25 0 1 0 -2.5 0zM255.1 600.4a1.25 1.25 0 1 0 2.5 0a1.25 1.25 0 1 0 -2.5 0zM259.6 600.4a1.25 1.25 0 1 0 2.5 0a1.25 1.25 0 1 0 -2.5 0zM264.2 600.4a1.25 1.25 0 1 0 2.5 0a1.25 1.25 0 1 0 -2.5 0zM268.8 600.4a1.25 1.25 0 1 0 2.5 0a1.25 1.25 0 1 0 -2.5 0zM273.4 600.4a1.25 1.25 0 1 0 2.5 0a1.25 1.25 0 1 0 -2.5 0zM278 600.4a1.25 1.25 0 1 0 2.5 0a1.25 1.25 0 1 0 -2.5 0zM282.6 600.4a1.25 1.25 0 1 0 2.5 0a1.25 1.25 0 1 0 -2.5 0z" fill="#f00"/><path d="M100.6 600.9L105.2 521.9L109.8 600.9M141.8 600.9L146.4 542.3L151 600.9M155.6 600.9L160.1 584.1L164.7 600.9M183 600.9L187.6 584.3L192.2 600.9L196.8 552.1L201.4 600.9M210.5 600.9L215.1 594.5L219.7 600.9M228.8 600.9L233.4 587.5L238 585.7L242.6 588.7L247.2 597.6L251.7 580.9L256.3 600.9" fill="none" stroke="#f00" stroke-width="2.35" stroke-linejoin="round"/>
</g>
<g>
<path d="M282.7 599.2h2.2v2.6h-2.2zM287.3 599.2h2.2v2.6h-2.2zM291.9 599.2h2.2v2.6h-2.2zM296.4 599.2h2.2v2.6h-2.2zM301 599.2h2.2v2.6h-2.2zM305.6 599.2h2.2v2.6h-2.2zM310.2 599.2h2.2v2.6h-2.2zM314.8 599.2h2.2v2.6h-2.2zM319.3 599.2h2.2v2.6h-2.2zM323.9 599.2h2.2v2.6h-2.2zM328.5 599.2h2.2v2.6h-2.2zM333.1 599.2h2.2v2.6h-2.2zM337.7 599.2h2.2v2.6h-2.2zM342.2 599.2h2.2v2.6h-2.2zM346.8 599.2h2.2v2.6h-2.2zM351.4 599.2h2.2v2.6h-2.2zM356 599.2h2.2v2.6h-2.2zM360.6 599.2h2.2v2.6h-2.2zM365.1 599.2h2.2v2.6h-2.2zM369.7 599.2h2.2v2.6h-2.2zM374.3 599.2h2.2v2.6h-2.2zM378.9 599.2h2.2v2.6h-2.2zM383.5 599.2h2.2v2.6h-2.2zM388 599.2h2.2v2.6h-2.2zM392.6 599.2h2.2v2.6h-2.2zM397.2 599.2h2.2v2.6h-2.2zM401.8 599.2h2.2v2.6h-2.2zM406.4 599.2h2.2v2.6h-2.2zM410.9 599.2h2.2v2.6h-2.2zM415.5 599.2h2.2v2.6h-2.2zM420.1 599.2h2.2v2.6h-2.2zM424.7 599.2h2.2v2.6h-2.2zM429.3 599.2h2.2v2.6h-2.2zM433.8 599.2h2.2v2.6h-2.2zM438.4 597.5h2.2v2.6h-2.2zM443 594.8h2.2v2.6h-2.2zM447.6 589.6h2.2v2.6h-2.2zM452.2 597.2h2.2v2.6h-2.2zM456.7 581.6h2.2v2.6h-2.2zM461.3 599.2h2.2v2.6h-2.2zM465.9 599.2h2.2v2.6h-2.2zM470.5 599.2h2.2v2.6h-2.2zM475.1 597h2.2v2.6h-2.2zM479.6 598h2.2v2.6h-2.2zM484.2 598.6h2.2v2.6h-2.2zM488.8 599.2h2.2v2.6h-2.2z" fill="#000"/><path d="M434.9 600.9L439.5 599.2L444.1 596.5L448.7 591.3L453.3 598.9L457.8 583.3L462.4 600.9M471.6 600.9L476.2 598.7L480.7 599.7L485.3 600.3L489.9 600.9" fill="none" stroke="#000" stroke-width="2.55" stroke-linejoin="round"/>
<path d="M284.6 600.9H488.9" stroke="#f00" stroke-width="1.5"/><path d="M282.6 600.4a1.25 1.25 0 1 0 2.5 0a1.25 1.25 0 1 0 -2.5 0zM287.1 600.4a1.25 1.25 0 1 0 2.5 0a1.25 1.25 0 1 0 -2.5 0zM291.7 600.4a1.25 1.25 0 1 0 2.5 0a1.25 1.25 0 1 0 -2.5 0zM296.3 600.4a1.25 1.25 0 1 0 2.5 0a1.25 1.25 0 1 0 -2.5 0zM300.9 600.4a1.25 1.25 0 1 0 2.5 0a1.25 1.25 0 1 0 -2.5 0zM305.4 600.4a1.25 1.25 0 1 0 2.5 0a1.25 1.25 0 1 0 -2.5 0zM310 521.4a1.25 1.25 0 1 0 2.5 0a1.25 1.25 0 1 0 -2.5 0zM314.6 600.4a1.25 1.25 0 1 0 2.5 0a1.25 1.25 0 1 0 -2.5 0zM319.2 600.4a1.25 1.25 0 1 0 2.5 0a1.25 1.25 0 1 0 -2.5 0zM323.8 600.4a1.25 1.25 0 1 0 2.5 0a1.25 1.25 0 1 0 -2.5 0zM328.4 600.4a1.25 1.25 0 1 0 2.5 0a1.25 1.25 0 1 0 -2.5 0zM332.9 600.4a1.25 1.25 0 1 0 2.5 0a1.25 1.25 0 1 0 -2.5 0zM337.5 600.4a1.25 1.25 0 1 0 2.5 0a1.25 1.25 0 1 0 -2.5 0zM342.1 600.4a1.25 1.25 0 1 0 2.5 0a1.25 1.25 0 1 0 -2.5 0zM346.7 600.4a1.25 1.25 0 1 0 2.5 0a1.25 1.25 0 1 0 -2.5 0zM351.2 541.8a1.25 1.25 0 1 0 2.5 0a1.25 1.25 0 1 0 -2.5 0zM355.8 600.4a1.25 1.25 0 1 0 2.5 0a1.25 1.25 0 1 0 -2.5 0zM360.4 600.4a1.25 1.25 0 1 0 2.5 0a1.25 1.25 0 1 0 -2.5 0zM365 583.6a1.25 1.25 0 1 0 2.5 0a1.25 1.25 0 1 0 -2.5 0zM369.6 600.4a1.25 1.25 0 1 0 2.5 0a1.25 1.25 0 1 0 -2.5 0zM374.1 600.4a1.25 1.25 0 1 0 2.5 0a1.25 1.25 0 1 0 -2.5 0zM378.7 600.4a1.25 1.25 0 1 0 2.5 0a1.25 1.25 0 1 0 -2.5 0zM383.3 600.4a1.25 1.25 0 1 0 2.5 0a1.25 1.25 0 1 0 -2.5 0zM387.9 600.4a1.25 1.25 0 1 0 2.5 0a1.25 1.25 0 1 0 -2.5 0zM392.5 583.8a1.25 1.25 0 1 0 2.5 0a1.25 1.25 0 1 0 -2.5 0zM397.1 600.4a1.25 1.25 0 1 0 2.5 0a1.25 1.25 0 1 0 -2.5 0zM401.6 551.6a1.25 1.25 0 1 0 2.5 0a1.25 1.25 0 1 0 -2.5 0zM406.2 600.4a1.25 1.25 0 1 0 2.5 0a1.25 1.25 0 1 0 -2.5 0zM410.8 600.4a1.25 1.25 0 1 0 2.5 0a1.25 1.25 0 1 0 -2.5 0zM415.4 600.4a1.25 1.25 0 1 0 2.5 0a1.25 1.25 0 1 0 -2.5 0zM419.9 594a1.25 1.25 0 1 0 2.5 0a1.25 1.25 0 1 0 -2.5 0zM424.5 600.4a1.25 1.25 0 1 0 2.5 0a1.25 1.25 0 1 0 -2.5 0zM429.1 600.4a1.25 1.25 0 1 0 2.5 0a1.25 1.25 0 1 0 -2.5 0zM433.7 600.4a1.25 1.25 0 1 0 2.5 0a1.25 1.25 0 1 0 -2.5 0zM438.3 589.8a1.25 1.25 0 1 0 2.5 0a1.25 1.25 0 1 0 -2.5 0zM442.9 590.1a1.25 1.25 0 1 0 2.5 0a1.25 1.25 0 1 0 -2.5 0zM447.4 599.4a1.25 1.25 0 1 0 2.5 0a1.25 1.25 0 1 0 -2.5 0zM452 598.2a1.25 1.25 0 1 0 2.5 0a1.25 1.25 0 1 0 -2.5 0zM456.6 600.4a1.25 1.25 0 1 0 2.5 0a1.25 1.25 0 1 0 -2.5 0zM461.2 600.4a1.25 1.25 0 1 0 2.5 0a1.25 1.25 0 1 0 -2.5 0zM465.8 600.4a1.25 1.25 0 1 0 2.5 0a1.25 1.25 0 1 0 -2.5 0zM470.3 600.4a1.25 1.25 0 1 0 2.5 0a1.25 1.25 0 1 0 -2.5 0zM474.9 600.4a1.25 1.25 0 1 0 2.5 0a1.25 1.25 0 1 0 -2.5 0zM479.5 600.4a1.25 1.25 0 1 0 2.5 0a1.25 1.25 0 1 0 -2.5 0zM484.1 600.4a1.25 1.25 0 1 0 2.5 0a1.25 1.25 0 1 0 -2.5 0zM488.6 600.4a1.25 1.25 0 1 0 2.5 0a1.25 1.25 0 1 0 -2.5 0z" fill="#f00"/><path d="M306.7 600.9L311.3 521.9L315.9 600.9M347.9 600.9L352.5 542.3L357.1 600.9M361.7 600.9L366.2 584.1L370.8 600.9M389.1 600.9L393.7 584.3L398.3 600.9L402.9 552.1L407.5 600.9M416.6 600.9L421.2 594.5L425.8 600.9M434.9 600.9L439.5 590.3L444.1 590.6L448.7 599.9L453.3 598.7L457.8 600.9" fill="none" stroke="#f00" stroke-width="2.35" stroke-linejoin="round"/>
</g>
<g>
<path d="M76.6 764.2h2.2v2.6h-2.2zM81.2 764.2h2.2v2.6h-2.2zM85.8 764.2h2.2v2.6h-2.2zM90.3 764.2h2.2v2.6h-2.2zM94.9 764.2h2.2v2.6h-2.2zM99.5 764.2h2.2v2.6h-2.2zM104.1 764.2h2.2v2.6h-2.2zM108.7 764.2h2.2v2.6h-2.2zM113.2 764.2h2.2v2.6h-2.2zM117.8 764.2h2.2v2.6h-2.2zM122.4 764.2h2.2v2.6h-2.2zM127 764.2h2.2v2.6h-2.2zM131.6 764.2h2.2v2.6h-2.2zM136.1 764.2h2.2v2.6h-2.2zM140.7 764.2h2.2v2.6h-2.2zM145.3 764.2h2.2v2.6h-2.2zM149.9 764.2h2.2v2.6h-2.2zM154.5 764.2h2.2v2.6h-2.2zM159 764.2h2.2v2.6h-2.2zM163.6 764.2h2.2v2.6h-2.2zM168.2 764.2h2.2v2.6h-2.2zM172.8 764.2h2.2v2.6h-2.2zM177.4 764.2h2.2v2.6h-2.2zM181.9 764.2h2.2v2.6h-2.2zM186.5 764.2h2.2v2.6h-2.2zM191.1 764.2h2.2v2.6h-2.2zM195.7 764.2h2.2v2.6h-2.2zM200.3 764.2h2.2v2.6h-2.2zM204.8 764.2h2.2v2.6h-2.2zM209.4 764.2h2.2v2.6h-2.2zM214 764.2h2.2v2.6h-2.2zM218.6 764.2h2.2v2.6h-2.2zM223.2 764.2h2.2v2.6h-2.2zM227.7 764.2h2.2v2.6h-2.2zM232.3 752.6h2.2v2.6h-2.2zM236.9 749h2.2v2.6h-2.2zM241.5 752h2.2v2.6h-2.2zM246.1 760.9h2.2v2.6h-2.2zM250.6 744.2h2.2v2.6h-2.2zM255.2 764.2h2.2v2.6h-2.2zM259.8 764.2h2.2v2.6h-2.2zM264.4 764.2h2.2v2.6h-2.2zM269 762h2.2v2.6h-2.2zM273.5 763h2.2v2.6h-2.2zM278.1 763.6h2.2v2.6h-2.2zM282.7 764.2h2.2v2.6h-2.2z" fill="#000"/><path d="M228.8 765.9L233.4 754.3L238 750.7L242.6 753.7L247.2 762.6L251.7 745.9L256.3 765.9M265.5 765.9L270.1 763.7L274.6 764.7L279.2 765.3L283.8 765.9" fill="none" stroke="#000" stroke-width="2.55" stroke-linejoin="round"/>
<path d="M78.5 765.9H282.8" stroke="#f00" stroke-width="1.5"/><path d="M76.5 765.4a1.25 1.25 0 1 0 2.5 0a1.25 1.25 0 1 0 -2.5 0zM81 765.4a1.25 1.25 0 1 0 2.5 0a1.25 1.25 0 1 0 -2.5 0zM85.6 765.4a1.25 1.25 0 1 0 2.5 0a1.25 1.25 0 1 0 -2.5 0zM90.2 765.4a1.25 1.25 0 1 0 2.5 0a1.25 1.25 0 1 0 -2.5 0zM94.8 765.4a1.25 1.25 0 1 0 2.5 0a1.25 1.25 0 1 0 -2.5 0zM99.3 765.4a1.25 1.25 0 1 0 2.5 0a1.25 1.25 0 1 0 -2.5 0zM103.9 686.4a1.25 1.25 0 1 0 2.5 0a1.25 1.25 0 1 0 -2.5 0zM108.5 765.4a1.25 1.25 0 1 0 2.5 0a1.25 1.25 0 1 0 -2.5 0zM113.1 765.4a1.25 1.25 0 1 0 2.5 0a1.25 1.25 0 1 0 -2.5 0zM117.7 765.4a1.25 1.25 0 1 0 2.5 0a1.25 1.25 0 1 0 -2.5 0zM122.2 765.4a1.25 1.25 0 1 0 2.5 0a1.25 1.25 0 1 0 -2.5 0zM126.8 765.4a1.25 1.25 0 1 0 2.5 0a1.25 1.25 0 1 0 -2.5 0zM131.4 765.4a1.25 1.25 0 1 0 2.5 0a1.25 1.25 0 1 0 -2.5 0zM136 765.4a1.25 1.25 0 1 0 2.5 0a1.25 1.25 0 1 0 -2.5 0zM140.6 765.4a1.25 1.25 0 1 0 2.5 0a1.25 1.25 0 1 0 -2.5 0zM145.1 706.8a1.25 1.25 0 1 0 2.5 0a1.25 1.25 0 1 0 -2.5 0zM149.7 765.4a1.25 1.25 0 1 0 2.5 0a1.25 1.25 0 1 0 -2.5 0zM154.3 765.4a1.25 1.25 0 1 0 2.5 0a1.25 1.25 0 1 0 -2.5 0zM158.9 748.6a1.25 1.25 0 1 0 2.5 0a1.25 1.25 0 1 0 -2.5 0zM163.5 765.4a1.25 1.25 0 1 0 2.5 0a1.25 1.25 0 1 0 -2.5 0zM168.1 765.4a1.25 1.25 0 1 0 2.5 0a1.25 1.25 0 1 0 -2.5 0zM172.6 765.4a1.25 1.25 0 1 0 2.5 0a1.25 1.25 0 1 0 -2.5 0zM177.2 765.4a1.25 1.25 0 1 0 2.5 0a1.25 1.25 0 1 0 -2.5 0zM181.8 765.4a1.25 1.25 0 1 0 2.5 0a1.25 1.25 0 1 0 -2.5 0zM186.4 748.8a1.25 1.25 0 1 0 2.5 0a1.25 1.25 0 1 0 -2.5 0zM190.9 765.4a1.25 1.25 0 1 0 2.5 0a1.25 1.25 0 1 0 -2.5 0zM195.5 716.6a1.25 1.25 0 1 0 2.5 0a1.25 1.25 0 1 0 -2.5 0zM200.1 765.4a1.25 1.25 0 1 0 2.5 0a1.25 1.25 0 1 0 -2.5 0zM204.7 765.4a1.25 1.25 0 1 0 2.5 0a1.25 1.25 0 1 0 -2.5 0zM209.3 765.4a1.25 1.25 0 1 0 2.5 0a1.25 1.25 0 1 0 -2.5 0zM213.8 759a1.25 1.25 0 1 0 2.5 0a1.25 1.25 0 1 0 -2.5 0zM218.4 765.4a1.25 1.25 0 1 0 2.5 0a1.25 1.25 0 1 0 -2.5 0zM223 765.4a1.25 1.25 0 1 0 2.5 0a1.25 1.25 0 1 0 -2.5 0zM227.6 765.4a1.25 1.25 0 1 0 2.5 0a1.25 1.25 0 1 0 -2.5 0zM232.2 764.6a1.25 1.25 0 1 0 2.5 0a1.25 1.25 0 1 0 -2.5 0zM236.8 765.4a1.25 1.25 0 1 0 2.5 0a1.25 1.25 0 1 0 -2.5 0zM241.3 765.4a1.25 1.25 0 1 0 2.5 0a1.25 1.25 0 1 0 -2.5 0zM245.9 765.4a1.25 1.25 0 1 0 2.5 0a1.25 1.25 0 1 0 -2.5 0zM250.5 765.4a1.25 1.25 0 1 0 2.5 0a1.25 1.25 0 1 0 -2.5 0zM255.1 765.4a1.25 1.25 0 1 0 2.5 0a1.25 1.25 0 1 0 -2.5 0zM259.6 765.4a1.25 1.25 0 1 0 2.5 0a1.25 1.25 0 1 0 -2.5 0zM264.2 765.4a1.25 1.25 0 1 0 2.5 0a1.25 1.25 0 1 0 -2.5 0zM268.8 765.4a1.25 1.25 0 1 0 2.5 0a1.25 1.25 0 1 0 -2.5 0zM273.4 765.4a1.25 1.25 0 1 0 2.5 0a1.25 1.25 0 1 0 -2.5 0zM278 765.4a1.25 1.25 0 1 0 2.5 0a1.25 1.25 0 1 0 -2.5 0zM282.6 765.4a1.25 1.25 0 1 0 2.5 0a1.25 1.25 0 1 0 -2.5 0z" fill="#f00"/><path d="M100.6 765.9L105.2 686.9L109.8 765.9M141.8 765.9L146.4 707.3L151 765.9M155.6 765.9L160.1 749.1L164.7 765.9M183 765.9L187.6 749.3L192.2 765.9L196.8 717.1L201.4 765.9M210.5 765.9L215.1 759.5L219.7 765.9M228.8 765.9L233.4 765.1L238 765.9" fill="none" stroke="#f00" stroke-width="2.35" stroke-linejoin="round"/>
</g>
<g>
<path d="M282.7 764.2h2.2v2.6h-2.2zM287.3 764.2h2.2v2.6h-2.2zM291.9 764.2h2.2v2.6h-2.2zM296.4 764.2h2.2v2.6h-2.2zM301 764.2h2.2v2.6h-2.2zM305.6 764.2h2.2v2.6h-2.2zM310.2 738.7h2.2v2.6h-2.2zM314.8 764.2h2.2v2.6h-2.2zM319.3 764.2h2.2v2.6h-2.2zM323.9 764.2h2.2v2.6h-2.2zM328.5 764.2h2.2v2.6h-2.2zM333.1 764.2h2.2v2.6h-2.2zM337.7 764.2h2.2v2.6h-2.2zM342.2 764.2h2.2v2.6h-2.2zM346.8 764.2h2.2v2.6h-2.2zM351.4 724.4h2.2v2.6h-2.2zM356 764.2h2.2v2.6h-2.2zM360.6 764.2h2.2v2.6h-2.2zM365.1 760.4h2.2v2.6h-2.2zM369.7 764.2h2.2v2.6h-2.2zM374.3 764.2h2.2v2.6h-2.2zM378.9 764.2h2.2v2.6h-2.2zM383.5 764.2h2.2v2.6h-2.2zM388 764.2h2.2v2.6h-2.2zM392.6 750.4h2.2v2.6h-2.2zM397.2 764.2h2.2v2.6h-2.2zM401.8 733h2.2v2.6h-2.2zM406.4 764.2h2.2v2.6h-2.2zM410.9 764.2h2.2v2.6h-2.2zM415.5 764.2h2.2v2.6h-2.2zM420.1 757.6h2.2v2.6h-2.2zM424.7 764.2h2.2v2.6h-2.2zM429.3 764.2h2.2v2.6h-2.2zM433.8 764.2h2.2v2.6h-2.2zM438.4 750.8h2.2v2.6h-2.2zM443 749h2.2v2.6h-2.2zM447.6 752h2.2v2.6h-2.2zM452.2 760.9h2.2v2.6h-2.2zM456.7 744.2h2.2v2.6h-2.2zM461.3 764.2h2.2v2.6h-2.2zM465.9 764.2h2.2v2.6h-2.2zM470.5 764.2h2.2v2.6h-2.2zM475.1 762h2.2v2.6h-2.2zM479.6 763h2.2v2.6h-2.2zM484.2 763.6h2.2v2.6h-2.2zM488.8 764.2h2.2v2.6h-2.2z" fill="#000"/><path d="M306.7 765.9L311.3 740.4L315.9 765.9M347.9 765.9L352.5 726.1L357.1 765.9M361.7 765.9L366.2 762.1L370.8 765.9M389.1 765.9L393.7 752.1L398.3 765.9L402.9 734.7L407.5 765.9M416.6 765.9L421.2 759.3L425.8 765.9M434.9 765.9L439.5 752.5L444.1 750.7L448.7 753.7L453.3 762.6L457.8 745.9L462.4 765.9M471.6 765.9L476.2 763.7L480.7 764.7L485.3 765.3L489.9 765.9" fill="none" stroke="#000" stroke-width="2.55" stroke-linejoin="round"/>
<path d="M284.6 765.9H488.9" stroke="#f00" stroke-width="1.5"/><path d="M282.6 765.4a1.25 1.25 0 1 0 2.5 0a1.25 1.25 0 1 0 -2.5 0zM287.1 765.4a1.25 1.25 0 1 0 2.5 0a1.25 1.25 0 1 0 -2.5 0zM291.7 765.4a1.25 1.25 0 1 0 2.5 0a1.25 1.25 0 1 0 -2.5 0zM296.3 765.4a1.25 1.25 0 1 0 2.5 0a1.25 1.25 0 1 0 -2.5 0zM300.9 765.4a1.25 1.25 0 1 0 2.5 0a1.25 1.25 0 1 0 -2.5 0zM305.4 765.4a1.25 1.25 0 1 0 2.5 0a1.25 1.25 0 1 0 -2.5 0zM310 712.9a1.25 1.25 0 1 0 2.5 0a1.25 1.25 0 1 0 -2.5 0zM314.6 765.4a1.25 1.25 0 1 0 2.5 0a1.25 1.25 0 1 0 -2.5 0zM319.2 765.4a1.25 1.25 0 1 0 2.5 0a1.25 1.25 0 1 0 -2.5 0zM323.8 765.4a1.25 1.25 0 1 0 2.5 0a1.25 1.25 0 1 0 -2.5 0zM328.4 765.4a1.25 1.25 0 1 0 2.5 0a1.25 1.25 0 1 0 -2.5 0zM332.9 765.4a1.25 1.25 0 1 0 2.5 0a1.25 1.25 0 1 0 -2.5 0zM337.5 765.4a1.25 1.25 0 1 0 2.5 0a1.25 1.25 0 1 0 -2.5 0zM342.1 765.4a1.25 1.25 0 1 0 2.5 0a1.25 1.25 0 1 0 -2.5 0zM346.7 765.4a1.25 1.25 0 1 0 2.5 0a1.25 1.25 0 1 0 -2.5 0zM351.2 747.6a1.25 1.25 0 1 0 2.5 0a1.25 1.25 0 1 0 -2.5 0zM355.8 765.4a1.25 1.25 0 1 0 2.5 0a1.25 1.25 0 1 0 -2.5 0zM360.4 765.4a1.25 1.25 0 1 0 2.5 0a1.25 1.25 0 1 0 -2.5 0zM365 753.4a1.25 1.25 0 1 0 2.5 0a1.25 1.25 0 1 0 -2.5 0zM369.6 765.4a1.25 1.25 0 1 0 2.5 0a1.25 1.25 0 1 0 -2.5 0zM374.1 765.4a1.25 1.25 0 1 0 2.5 0a1.25 1.25 0 1 0 -2.5 0zM378.7 765.4a1.25 1.25 0 1 0 2.5 0a1.25 1.25 0 1 0 -2.5 0zM383.3 765.4a1.25 1.25 0 1 0 2.5 0a1.25 1.25 0 1 0 -2.5 0zM387.9 765.4a1.25 1.25 0 1 0 2.5 0a1.25 1.25 0 1 0 -2.5 0zM392.5 763.6a1.25 1.25 0 1 0 2.5 0a1.25 1.25 0 1 0 -2.5 0zM397.1 765.4a1.25 1.25 0 1 0 2.5 0a1.25 1.25 0 1 0 -2.5 0zM401.6 748.8a1.25 1.25 0 1 0 2.5 0a1.25 1.25 0 1 0 -2.5 0zM406.2 765.4a1.25 1.25 0 1 0 2.5 0a1.25 1.25 0 1 0 -2.5 0zM410.8 765.4a1.25 1.25 0 1 0 2.5 0a1.25 1.25 0 1 0 -2.5 0zM415.4 765.4a1.25 1.25 0 1 0 2.5 0a1.25 1.25 0 1 0 -2.5 0zM419.9 765.4a1.25 1.25 0 1 0 2.5 0a1.25 1.25 0 1 0 -2.5 0zM424.5 765.4a1.25 1.25 0 1 0 2.5 0a1.25 1.25 0 1 0 -2.5 0zM429.1 765.4a1.25 1.25 0 1 0 2.5 0a1.25 1.25 0 1 0 -2.5 0zM433.7 765.4a1.25 1.25 0 1 0 2.5 0a1.25 1.25 0 1 0 -2.5 0zM438.3 765.4a1.25 1.25 0 1 0 2.5 0a1.25 1.25 0 1 0 -2.5 0zM442.9 765.4a1.25 1.25 0 1 0 2.5 0a1.25 1.25 0 1 0 -2.5 0zM447.4 765.4a1.25 1.25 0 1 0 2.5 0a1.25 1.25 0 1 0 -2.5 0zM452 765.4a1.25 1.25 0 1 0 2.5 0a1.25 1.25 0 1 0 -2.5 0zM456.6 765.4a1.25 1.25 0 1 0 2.5 0a1.25 1.25 0 1 0 -2.5 0zM461.2 765.4a1.25 1.25 0 1 0 2.5 0a1.25 1.25 0 1 0 -2.5 0zM465.8 765.4a1.25 1.25 0 1 0 2.5 0a1.25 1.25 0 1 0 -2.5 0zM470.3 765.4a1.25 1.25 0 1 0 2.5 0a1.25 1.25 0 1 0 -2.5 0zM474.9 765.4a1.25 1.25 0 1 0 2.5 0a1.25 1.25 0 1 0 -2.5 0zM479.5 765.4a1.25 1.25 0 1 0 2.5 0a1.25 1.25 0 1 0 -2.5 0zM484.1 765.4a1.25 1.25 0 1 0 2.5 0a1.25 1.25 0 1 0 -2.5 0zM488.6 765.4a1.25 1.25 0 1 0 2.5 0a1.25 1.25 0 1 0 -2.5 0z" fill="#f00"/><path d="M306.7 765.9L311.3 713.4L315.9 765.9M347.9 765.9L352.5 748.1L357.1 765.9M361.7 765.9L366.2 753.9L370.8 765.9M389.1 765.9L393.7 764.1L398.3 765.9L402.9 749.3L407.5 765.9" fill="none" stroke="#f00" stroke-width="2.35" stroke-linejoin="round"/>
</g>
<g stroke="#000" stroke-width="1.8" fill="none">
<path d="M77.7 767.6V437H489.7V767.6"/>
<path d="M77.7 767.1H489.7" stroke-width="1.2"/>
<path d="M283.8 437V767.6"/>
</g>
<path d="M77.7 602.1H489.7" stroke="#000" stroke-width="1.2"/>
<path d="M77.7 580.4h2.6M77.7 559.9h5M77.7 539.4h2.6M77.7 519h5M77.7 498.5h2.6M77.7 478h5M77.7 457.5h2.6M77.7 745.4h2.6M77.7 725h5M77.7 704.5h2.6M77.7 684h5M77.7 663.5h2.6M77.7 643h5M77.7 622.6h2.6" stroke="#000" stroke-width="1.5"/>
<path d="M77.7 766.5v2.2M100.6 766.5v3.6M123.5 766.5v2.2M146.4 766.5v3.6M169.3 766.5v2.2M192.2 766.5v3.6M215.1 766.5v2.2M238 766.5v3.6M260.9 766.5v2.2M283.8 766.5v3.6M283.8 766.5v2.2M306.7 766.5v3.6M329.6 766.5v2.2M352.5 766.5v3.6M375.4 766.5v2.2M398.3 766.5v3.6M421.2 766.5v2.2M444.1 766.5v3.6M467 766.5v2.2M489.9 766.5v3.6" stroke="#000" stroke-width="1.2"/>
<g font-family="Liberation Sans, Arial, Helvetica, sans-serif" font-weight="bold" font-size="20.6" text-anchor="end" fill="#000" stroke="#000" stroke-width=".35">
<text x="73.9" y="443.4">0.4</text>
<text x="73.9" y="484.4">0.3</text>
<text x="73.9" y="525.4">0.2</text>
<text x="73.9" y="566.3">0.1</text>
<text x="73.9" y="607.3">0.0</text>
<text x="73.9" y="649.4">0.3</text>
<text x="73.9" y="690.4">0.2</text>
<text x="73.9" y="731.4">0.1</text>
<text x="73.9" y="772.3">0.0</text>
</g>
<g font-family="Liberation Sans, Arial, Helvetica, sans-serif" font-weight="bold" font-size="20.4" text-anchor="middle" fill="#000" stroke="#000" stroke-width=".35">
<text x="100.6" y="788.2">2</text>
<text x="146.4" y="788.2">4</text>
<text x="192.2" y="788.2">6</text>
<text x="238" y="788.2">8</text>
<text x="283.8" y="788.2">10</text>
<text x="306.7" y="788.2">2</text>
<text x="352.5" y="788.2">4</text>
<text x="398.3" y="788.2">6</text>
<text x="444.1" y="788.2">8</text>
<text x="489.9" y="788.2">10</text>
</g>
<g font-family="Liberation Sans, Arial, Helvetica, sans-serif" font-weight="bold" font-size="23.4" text-anchor="middle" fill="#000" stroke="#000" stroke-width=".3">
<text x="176.8" y="814.3">r(Angstrom)</text>
<text x="384.8" y="812.4">r(Angstrom)</text>
<text transform="translate(20 524.5) rotate(-90)" font-size="27"><tspan font-weight="normal" font-size="27" stroke-width=".5">ρ</tspan>(r)</text>
<text transform="translate(22.6 687.3) rotate(-90)" font-size="27"><tspan font-weight="normal" font-size="27" stroke-width=".5">ρ</tspan>(r)</text>
</g>
<text x="-0.6" y="815.8" font-family="Liberation Sans, Arial, Helvetica, sans-serif" font-size="23.4" fill="#000">(b)</text>
<g font-family="Liberation Sans, Arial, Helvetica, sans-serif" font-weight="bold" fill="#000" stroke="#000" stroke-width=".25">
<text x="82" y="456.5" font-size="16.0">Ih-Fe<tspan font-size="10.2" dy="7.9">12</tspan><tspan dy="-7.9">Ni</tspan><tspan font-size="10.2" dy="7.9">297</tspan></text>
<path d="M82.4 477.4H123.2" stroke="#000" stroke-width="2.3"/>
<rect x="98.7" y="473.3" width="8.2" height="8.2" stroke="none"/>
<path d="M82.4 498.3H123.2" stroke="#f00" stroke-width="2.3"/>
<circle cx="102.8" cy="498.3" r="4.3" fill="#f00" stroke="none"/>
<text x="126.9" y="482.7" font-size="16.4">Fe</text>
<text x="126.9" y="503.8" font-size="16.4">Ni</text>
</g>
<g><path d="M224.7 469.4L234.6 469.4M244.4 468.8L234.6 469.4M223.6 511L217.2 500.8M223.6 511L235.8 510.7M248 510.2L253.8 499.7M248 510.2L235.8 510.7M218.7 479.9L224.7 469.4M251 478.9L244.4 468.8" stroke="#74127a" stroke-width=".6" fill="none"/><circle cx="234.6" cy="469.4" r="4.4" fill="url(#gG)"/><circle cx="228.8" cy="479.7" r="3.2" fill="url(#gP)"/><circle cx="241" cy="479.3" r="3.2" fill="url(#gP)"/><circle cx="235.2" cy="489.9" r="3.2" fill="url(#gP)"/><circle cx="222.9" cy="490.2" r="3.2" fill="url(#gP)"/><circle cx="224.7" cy="469.4" r="3.2" fill="url(#gP)"/><circle cx="244.4" cy="468.8" r="3.2" fill="url(#gP)"/><circle cx="223.6" cy="511" r="3.2" fill="url(#gP)"/><circle cx="248" cy="510.2" r="3.2" fill="url(#gP)"/><circle cx="259.8" cy="509.6" r="4.4" fill="url(#gG)"/><circle cx="211.8" cy="511" r="4.4" fill="url(#gG)"/><circle cx="218.7" cy="479.9" r="3.2" fill="url(#gP)"/><path d="M234.4 462.7L224.7 469.4M234.4 462.7L244.4 468.8M234.7 474.6L241 479.3M234.7 474.6L228.8 479.7M228.9 484.9L235.2 489.9M241.2 484.5L235.2 489.9M235.4 495.2L229.3 500.6M235.4 495.2L241.7 500.2M242.2 517.2L235.8 510.7M229.8 517.6L235.8 510.7M229.5 505.7L229.8 517.6M241.8 505.3L242.2 517.2M217.7 517.6L229.8 517.6M254.3 516.5L242.2 517.2M217.6 505.8L229.5 505.7M217.6 505.8L223.6 511M253.7 504.7L241.8 505.3M253.7 504.7L248 510.2" stroke="#74127a" stroke-width=".6" fill="none"/><circle cx="234.4" cy="462.7" r="3.2" fill="url(#gP)"/><circle cx="212.9" cy="490.5" r="3.2" fill="url(#gP)"/><circle cx="234.7" cy="474.6" r="3.2" fill="url(#gP)"/><circle cx="241.2" cy="484.5" r="3.2" fill="url(#gP)"/><circle cx="207.4" cy="501.1" r="3.2" fill="url(#gP)"/><circle cx="263.6" cy="499.4" r="3.2" fill="url(#gP)"/><circle cx="247.6" cy="494.7" r="3.2" fill="url(#gP)"/><circle cx="223.1" cy="495.5" r="3.2" fill="url(#gP)"/><circle cx="214.7" cy="469.6" r="3.2" fill="url(#gP)"/><circle cx="254.4" cy="468.5" r="3.2" fill="url(#gP)"/><circle cx="242.2" cy="517.2" r="3.2" fill="url(#gP)"/><circle cx="229.8" cy="517.6" r="3.2" fill="url(#gP)"/><circle cx="261" cy="478.6" r="3.2" fill="url(#gP)"/><circle cx="208.7" cy="480.2" r="3.2" fill="url(#gP)"/><circle cx="229.5" cy="505.7" r="3.2" fill="url(#gP)"/><circle cx="241.8" cy="505.3" r="3.2" fill="url(#gP)"/><circle cx="217.7" cy="517.6" r="3.2" fill="url(#gP)"/><circle cx="254.3" cy="516.5" r="3.2" fill="url(#gP)"/><circle cx="217.6" cy="505.8" r="3.2" fill="url(#gP)"/><circle cx="253.7" cy="504.7" r="3.2" fill="url(#gP)"/><path d="M224.4 462.7L214.7 469.6M244.4 462.1L254.4 468.5M224.8 474.6L214.7 469.6M224.8 474.6L218.7 479.9M244.6 474L254.4 468.5M203.1 490.9L212.9 490.5M267.3 489L257.5 489.2M218.8 485.1L208.7 480.2M251.2 484.2L261 478.6M207.7 511.5L217.6 505.8M207.7 511.5L217.7 517.6M263.9 509.8L253.7 504.7M263.9 509.8L254.3 516.5M234.2 456.2L224.4 462.7M234.2 456.2L244.4 462.1M234.5 467.9L224.8 474.6M234.5 467.9L244.6 474M234.5 467.9L224.4 462.7M234.5 467.9L244.4 462.1M234.9 479.7L241.2 484.5M234.9 479.7L228.9 484.9M257.5 494.5L267.3 489M213.2 495.8L203.1 490.9M241.3 489.7L251.2 484.2M241.3 489.7L235.4 495.2M229.1 490.1L218.8 485.1M229.1 490.1L235.4 495.2M199.2 480.6L205 470.1M199.2 480.6L203.1 490.9M270.6 478.5L264.2 468.3M270.6 478.5L267.3 489M235.9 512.2L229.8 517.6M235.9 512.2L242.2 517.2M236.2 523.9L229.8 517.6M236.2 523.9L242.2 517.2M203.2 501.4L213.2 495.8M267.8 499.5L257.5 494.5M223.9 524.1L217.7 517.6M223.9 524.1L236.2 523.9M248.5 523.3L254.3 516.5M248.5 523.3L236.2 523.9M235.5 500.4L241.8 505.3M235.5 500.4L229.5 505.7M248.1 511.6L253.7 504.7M248.1 511.6L235.9 512.2M223.6 512.3L217.6 505.8M223.6 512.3L235.9 512.2M254.4 461.8L244.4 462.1M214.4 463L224.4 462.7M215 474.9L224.8 474.6M215 474.9L208.7 480.2M254.5 473.8L244.6 474M254.5 473.8L261 478.6M247.5 499.8L257.5 494.5" stroke="#74127a" stroke-width=".6" fill="none"/><circle cx="224.4" cy="462.7" r="3.2" fill="url(#gP)"/><circle cx="244.4" cy="462.1" r="3.2" fill="url(#gP)"/><circle cx="224.8" cy="474.6" r="3.2" fill="url(#gP)"/><circle cx="244.6" cy="474" r="3.2" fill="url(#gP)"/><circle cx="203.1" cy="490.9" r="3.2" fill="url(#gP)"/><circle cx="267.3" cy="489" r="3.2" fill="url(#gP)"/><circle cx="218.8" cy="485.1" r="3.2" fill="url(#gP)"/><circle cx="251.2" cy="484.2" r="3.2" fill="url(#gP)"/><circle cx="207.7" cy="511.5" r="3.2" fill="url(#gP)"/><circle cx="263.9" cy="509.8" r="3.2" fill="url(#gP)"/><circle cx="234.2" cy="456.2" r="3.2" fill="url(#gP)"/><circle cx="257.5" cy="494.5" r="3.2" fill="url(#gP)"/><circle cx="213.2" cy="495.8" r="3.2" fill="url(#gP)"/><circle cx="264.2" cy="468.3" r="3.2" fill="url(#gP)"/><circle cx="205" cy="470.1" r="3.2" fill="url(#gP)"/><circle cx="229.1" cy="490.1" r="3.2" fill="url(#gP)"/><circle cx="199.2" cy="480.6" r="3.2" fill="url(#gP)"/><circle cx="270.6" cy="478.5" r="3.2" fill="url(#gP)"/><circle cx="203.2" cy="501.4" r="3.2" fill="url(#gP)"/><circle cx="267.8" cy="499.5" r="3.2" fill="url(#gP)"/><circle cx="223.9" cy="524.1" r="3.2" fill="url(#gP)"/><circle cx="248.5" cy="523.3" r="3.2" fill="url(#gP)"/><circle cx="248.1" cy="511.6" r="3.2" fill="url(#gP)"/><circle cx="223.6" cy="512.3" r="3.2" fill="url(#gP)"/><circle cx="254.4" cy="461.8" r="3.2" fill="url(#gP)"/><circle cx="214.4" cy="463" r="3.2" fill="url(#gP)"/><circle cx="215" cy="474.9" r="3.2" fill="url(#gP)"/><circle cx="254.5" cy="473.8" r="3.2" fill="url(#gP)"/><circle cx="247.5" cy="499.8" r="3.2" fill="url(#gP)"/><circle cx="223.5" cy="500.5" r="3.2" fill="url(#gP)"/><path d="M209.1 485.5L215 474.9M260.9 484L254.5 473.8M260.9 484L257.5 494.5M258.4 516.8L248.5 523.3M258.4 516.8L263.9 509.8M213.7 518.1L223.9 524.1M213.7 518.1L207.7 511.5M244.6 467.3L254.5 473.8M244.6 467.3L234.5 467.9M224.5 467.9L215 474.9M224.5 467.9L234.5 467.9M213.5 506.2L223.6 512.3M213.5 506.2L203.2 501.4M257.8 504.9L248.1 511.6M257.8 504.9L267.8 499.5M224.2 456.3L234.2 456.2M224.2 456.3L214.4 463M244.2 455.7L234.2 456.2M244.2 455.7L254.4 461.8M195.7 470.7L199.2 480.6M273.4 468.4L270.6 478.5M199.1 491L199.2 480.6M199.1 491L203.2 501.4M271.3 488.9L270.6 478.5M271.3 488.9L267.8 499.5M251.2 489.5L247.5 499.8M219.1 490.4L223.5 500.5M203.7 511.8L203.2 501.4M203.7 511.8L213.7 518.1M267.9 509.9L267.8 499.5M267.9 509.9L258.4 516.8M234.7 473.1L244.8 479.2M234.7 473.1L224.5 467.9M234.7 473.1L244.6 467.3M234.4 461.5L224.5 467.9M234.4 461.5L244.6 467.3M234.4 461.5L224.2 456.3M234.4 461.5L244.2 455.7M234 450L224.2 456.3M234 450L244.2 455.7M235 484.9L225 479.8M235 484.9L244.8 479.2M235 484.9L241.3 489.7M235 484.9L229.1 490.1M204.8 463.7L195.7 470.7M264 462L273.4 468.4M205.6 475.5L195.7 470.7M205.6 475.5L204.8 463.7M263.9 473.8L273.4 468.4M263.9 473.8L264 462M209.1 496L209.1 485.5M209.1 496L213.5 506.2M261.6 494.5L260.9 484M261.6 494.5L257.8 504.9M242.5 529.7L236.2 523.9M230.3 530.1L236.2 523.9M242.2 518.2L235.9 512.2M242.2 518.2L242.5 529.7M242.2 518.2L236.2 523.9M229.9 518.6L235.9 512.2M229.9 518.6L230.3 530.1M229.9 518.6L236.2 523.9M229.6 507L235.5 500.4M229.6 507L229.9 518.6M241.8 506.7L235.5 500.4M241.8 506.7L242.2 518.2M241.4 494.9L235.5 500.4M229.3 495.3L235.5 500.4" stroke="#74127a" stroke-width=".6" fill="none"/><circle cx="209.1" cy="485.5" r="3.2" fill="url(#gP)"/><circle cx="260.9" cy="484" r="3.2" fill="url(#gP)"/><circle cx="258.4" cy="516.8" r="3.2" fill="url(#gP)"/><circle cx="213.7" cy="518.1" r="3.2" fill="url(#gP)"/><circle cx="244.6" cy="467.3" r="3.2" fill="url(#gP)"/><circle cx="224.5" cy="467.9" r="3.2" fill="url(#gP)"/><circle cx="213.5" cy="506.2" r="3.2" fill="url(#gP)"/><circle cx="257.8" cy="504.9" r="3.2" fill="url(#gP)"/><circle cx="224.2" cy="456.3" r="3.2" fill="url(#gP)"/><circle cx="244.2" cy="455.7" r="3.2" fill="url(#gP)"/><circle cx="244.8" cy="479.2" r="3.2" fill="url(#gP)"/><circle cx="225" cy="479.8" r="3.2" fill="url(#gP)"/><circle cx="195.7" cy="470.7" r="4.4" fill="url(#gG)"/><circle cx="273.4" cy="468.4" r="4.4" fill="url(#gG)"/><circle cx="199.1" cy="491" r="3.2" fill="url(#gP)"/><circle cx="271.3" cy="488.9" r="3.2" fill="url(#gP)"/><circle cx="219.1" cy="490.4" r="3.2" fill="url(#gP)"/><circle cx="203.7" cy="511.8" r="3.2" fill="url(#gP)"/><circle cx="267.9" cy="509.9" r="3.2" fill="url(#gP)"/><circle cx="234.7" cy="473.1" r="3.2" fill="url(#gP)"/><circle cx="234.4" cy="461.5" r="3.2" fill="url(#gP)"/><circle cx="234" cy="450" r="3.2" fill="url(#gP)"/><circle cx="204.8" cy="463.7" r="3.2" fill="url(#gP)"/><circle cx="264" cy="462" r="3.2" fill="url(#gP)"/><circle cx="205.6" cy="475.5" r="3.2" fill="url(#gP)"/><circle cx="263.9" cy="473.8" r="3.2" fill="url(#gP)"/><circle cx="209.1" cy="496" r="3.2" fill="url(#gP)"/><circle cx="242.5" cy="529.7" r="3.2" fill="url(#gP)"/><circle cx="230.3" cy="530.1" r="3.2" fill="url(#gP)"/><circle cx="242.2" cy="518.2" r="3.2" fill="url(#gP)"/><circle cx="229.9" cy="518.6" r="3.2" fill="url(#gP)"/><circle cx="229.6" cy="507" r="3.2" fill="url(#gP)"/><circle cx="241.8" cy="506.7" r="3.2" fill="url(#gP)"/><circle cx="241.4" cy="494.9" r="3.2" fill="url(#gP)"/><circle cx="229.3" cy="495.3" r="3.2" fill="url(#gP)"/><path d="M195.5 480.8L205.6 475.5M195.5 480.8L195.7 470.7M195.5 480.8L199.1 491M274.3 478.4L263.9 473.8M274.3 478.4L273.4 468.4M274.3 478.4L271.3 488.9M214.4 456.8L214.8 468.5M214.4 456.8L204.8 463.7M254 455.6L254.3 467.4M254 455.6L264 462M215.5 480.3L219.1 490.4M215.5 480.3L205.6 475.5M215.5 480.3L214.8 468.5M254.3 479.2L251.2 489.5M254.3 479.2L263.9 473.8M254.3 479.2L254.3 467.4M220 524.5L229.9 518.6M220 524.5L230.3 530.1M252.4 523.5L242.2 518.2M252.4 523.5L242.5 529.7M219.7 512.8L229.6 507M219.7 512.8L229.9 518.6M219.7 512.8L220 524.5M252.1 511.8L241.8 506.7M252.1 511.8L242.2 518.2M252.1 511.8L252.4 523.5M199.4 501.6L209.1 496M199.4 501.6L203.7 511.8M199.4 501.6L199.1 491M271.7 499.4L261.6 494.5M271.7 499.4L267.9 509.9M271.7 499.4L271.3 488.9M219.5 500.9L229.3 495.3M219.5 500.9L229.6 507M219.5 500.9L209.1 496M219.5 500.9L219.7 512.8M251.6 499.9L241.4 494.9M251.6 499.9L241.8 506.7M251.6 499.9L261.6 494.5M251.6 499.9L252.1 511.8M205.4 485.7L215.5 480.3M205.4 485.7L209.1 496M205.4 485.7L195.5 480.8M264.7 483.9L254.3 479.2M264.7 483.9L261.6 494.5M264.7 483.9L274.3 478.4M224.8 473.4L215.5 480.3M244.6 472.8L254.3 479.2M225.3 485.2L224.8 473.4M244.8 484.6L244.6 472.8M224.5 461.8L224.8 473.4M224.5 461.8L214.8 468.5M224.5 461.8L214.4 456.8M244.2 461.2L244.6 472.8M244.2 461.2L254.3 467.4M244.2 461.2L254 455.6M243.9 449.7L244.2 461.2M243.9 449.7L254 455.6M224.2 450.3L224.5 461.8M224.2 450.3L214.4 456.8M209.9 518.3L219.7 512.8M209.9 518.3L220 524.5M262.2 516.7L252.1 511.8M262.2 516.7L252.4 523.5M209.8 506.4L219.7 512.8M209.8 506.4L199.4 501.6M209.8 506.4L209.9 518.3M261.6 504.8L252.1 511.8M261.6 504.8L271.7 499.4M261.6 504.8L262.2 516.7M198.9 470.3L205.6 475.5M198.9 470.3L195.5 480.8M198.9 470.3L204.8 463.7M270.3 468.2L263.9 473.8M270.3 468.2L274.3 478.4M270.3 468.2L264 462M236.6 535.7L242.5 529.7M236.6 535.7L230.3 530.1M236.2 524.3L242.2 518.2M236.2 524.3L229.9 518.6M236.2 524.3L242.5 529.7M236.2 524.3L230.3 530.1M235.9 512.8L242.2 518.2M235.9 512.8L229.9 518.6M235.5 501.4L241.8 506.7M235.5 501.4L229.6 507M195.5 491.2L205.4 485.7M195.5 491.2L195.5 480.8M195.5 491.2L199.4 501.6M255 489.4L251.6 499.9M274.9 488.8L264.7 483.9M274.9 488.8L274.3 478.4M274.9 488.8L271.7 499.4" stroke="#74127a" stroke-width=".6" fill="none"/><circle cx="195.5" cy="480.8" r="3.2" fill="url(#gP)"/><circle cx="274.3" cy="478.4" r="3.2" fill="url(#gP)"/><circle cx="214.8" cy="468.5" r="3.2" fill="url(#gP)"/><circle cx="254.3" cy="467.4" r="3.2" fill="url(#gP)"/><circle cx="214.4" cy="456.8" r="3.2" fill="url(#gP)"/><circle cx="254" cy="455.6" r="3.2" fill="url(#gP)"/><circle cx="215.5" cy="480.3" r="3.2" fill="url(#gP)"/><circle cx="254.3" cy="479.2" r="3.2" fill="url(#gP)"/><circle cx="220" cy="524.5" r="3.2" fill="url(#gP)"/><circle cx="252.4" cy="523.5" r="3.2" fill="url(#gP)"/><circle cx="219.7" cy="512.8" r="3.2" fill="url(#gP)"/><circle cx="252.1" cy="511.8" r="3.2" fill="url(#gP)"/><circle cx="199.4" cy="501.6" r="3.2" fill="url(#gP)"/><circle cx="271.7" cy="499.4" r="3.2" fill="url(#gP)"/><circle cx="219.5" cy="500.9" r="3.2" fill="url(#gP)"/><circle cx="251.6" cy="499.9" r="3.2" fill="url(#gP)"/><circle cx="205.4" cy="485.7" r="3.2" fill="url(#gP)"/><circle cx="264.7" cy="483.9" r="3.2" fill="url(#gP)"/><circle cx="224.8" cy="473.4" r="3.2" fill="url(#gP)"/><circle cx="244.6" cy="472.8" r="3.2" fill="url(#gP)"/><circle cx="225.3" cy="485.2" r="3.2" fill="url(#gP)"/><circle cx="244.8" cy="484.6" r="3.2" fill="url(#gP)"/><circle cx="224.5" cy="461.8" r="3.2" fill="url(#gP)"/><circle cx="244.2" cy="461.2" r="3.2" fill="url(#gP)"/><circle cx="243.9" cy="449.7" r="3.2" fill="url(#gP)"/><circle cx="224.2" cy="450.3" r="3.2" fill="url(#gP)"/><circle cx="209.9" cy="518.3" r="3.2" fill="url(#gP)"/><circle cx="262.2" cy="516.7" r="3.2" fill="url(#gP)"/><circle cx="209.8" cy="506.4" r="3.2" fill="url(#gP)"/><circle cx="261.6" cy="504.8" r="3.2" fill="url(#gP)"/><circle cx="198.9" cy="470.3" r="3.2" fill="url(#gP)"/><circle cx="270.3" cy="468.2" r="3.2" fill="url(#gP)"/><circle cx="236.6" cy="535.7" r="4.4" fill="url(#gG)"/><circle cx="236.2" cy="524.3" r="3.2" fill="url(#gP)"/><circle cx="235.9" cy="512.8" r="3.2" fill="url(#gP)"/><circle cx="235.5" cy="501.4" r="3.2" fill="url(#gP)"/><circle cx="195.5" cy="491.2" r="3.2" fill="url(#gP)"/><circle cx="215.4" cy="490.6" r="3.2" fill="url(#gP)"/><circle cx="255" cy="489.4" r="3.2" fill="url(#gP)"/><circle cx="274.9" cy="488.8" r="3.2" fill="url(#gP)"/><path d="M234.9 478.6L244.6 472.8M234.5 467.2L234.9 478.6M234.5 467.2L224.8 473.4M234.5 467.2L244.6 472.8M234.5 467.2L224.5 461.8M234.5 467.2L244.2 461.2M234.2 455.7L234.5 467.2M234.2 455.7L224.5 461.8M234.2 455.7L244.2 461.2M234.2 455.7L224.2 450.3M234.2 455.7L243.9 449.7M233.8 444.3L234.2 455.7M233.8 444.3L224.2 450.3M233.8 444.3L243.9 449.7M200.1 511.8L209.8 506.4M200.1 511.8L199.4 501.6M200.1 511.8L209.9 518.3M271.5 509.7L271.7 499.4M271.5 509.7L262.2 516.7M208.8 475.2L198.9 470.3M260.6 473.6L270.3 468.2M208.2 463.3L198.9 470.3M208.2 463.3L214.4 456.8M260.5 461.7L270.3 468.2M260.5 461.7L254 455.6M246.2 529.7L236.2 524.3M246.2 529.7L236.6 535.7M246.2 529.7L252.4 523.5M226.5 530.3L236.2 524.3M226.5 530.3L236.6 535.7M226.5 530.3L220 524.5M226.2 518.8L235.9 512.8M226.2 518.8L236.2 524.3M226.2 518.8L219.7 512.8M226.2 518.8L220 524.5M245.9 518.2L235.9 512.8M245.9 518.2L236.2 524.3M245.9 518.2L252.1 511.8M245.9 518.2L252.4 523.5M225.6 495.4L215.4 490.6M225.6 495.4L219.5 500.9M245.1 494.8L255 489.4M245.1 494.8L251.6 499.9M225.8 507.2L235.5 501.4M225.8 507.2L235.9 512.8M225.8 507.2L219.5 500.9M225.8 507.2L219.7 512.8M245.6 506.6L235.5 501.4M245.6 506.6L235.9 512.8M245.6 506.6L251.6 499.9M245.6 506.6L252.1 511.8M205.7 496.1L209.8 506.4M205.7 496.1L195.5 491.2M205.7 496.1L199.4 501.6M265 494.3L261.6 504.8M265 494.3L274.9 488.8M265 494.3L271.7 499.4M218.8 480.1L215.4 490.6M218.8 480.1L224.8 473.4M250.9 479.1L255 489.4M250.9 479.1L244.6 472.8M198.7 480.6L208.8 475.2M198.7 480.6L198.9 470.3M198.7 480.6L195.5 491.2M271 478.4L260.6 473.6M271 478.4L270.3 468.2M271 478.4L274.9 488.8M218.3 468.2L218.8 480.1M218.3 468.2L208.8 475.2M218.3 468.2L224.5 461.8M218.3 468.2L208.2 463.3M250.7 467.2L250.9 479.1M250.7 467.2L260.6 473.6M250.7 467.2L244.2 461.2M250.7 467.2L260.5 461.7M218 456.5L218.3 468.2M218 456.5L224.2 450.3M218 456.5L208.2 463.3M250.4 455.5L250.7 467.2M250.4 455.5L243.9 449.7M250.4 455.5L260.5 461.7M216.1 500.8L225.6 495.4M216.1 500.8L215.4 490.6M216.1 500.8L225.8 507.2M216.1 500.8L205.7 496.1M216.1 500.8L209.8 506.4M254.9 499.7L245.1 494.8M254.9 499.7L255 489.4M254.9 499.7L245.6 506.6M254.9 499.7L265 494.3M254.9 499.7L261.6 504.8M216.4 524.4L226.2 518.8M216.4 524.4L226.5 530.3M216.4 524.4L209.9 518.3M256 523.2L245.9 518.2M256 523.2L246.2 529.7M256 523.2L262.2 516.7M216.1 512.6L225.8 507.2M216.1 512.6L226.2 518.8M216.1 512.6L209.8 506.4M216.1 512.6L209.9 518.3M255.6 511.5L245.6 506.6M255.6 511.5L245.9 518.2M255.6 511.5L261.6 504.8M255.6 511.5L262.2 516.7M196.1 501.6L205.7 496.1M196.1 501.6L195.5 491.2M196.1 501.6L200.1 511.8M274.9 499.2L265 494.3M274.9 499.2L274.9 488.8M274.9 499.2L271.5 509.7" stroke="#74127a" stroke-width=".6" fill="none"/><circle cx="234.9" cy="478.6" r="3.2" fill="url(#gP)"/><circle cx="234.5" cy="467.2" r="3.2" fill="url(#gP)"/><circle cx="234.2" cy="455.7" r="3.2" fill="url(#gP)"/><circle cx="233.8" cy="444.3" r="4.4" fill="url(#gG)"/><circle cx="200.1" cy="511.8" r="3.2" fill="url(#gP)"/><circle cx="271.5" cy="509.7" r="3.2" fill="url(#gP)"/><circle cx="208.8" cy="475.2" r="3.2" fill="url(#gP)"/><circle cx="260.6" cy="473.6" r="3.2" fill="url(#gP)"/><circle cx="208.2" cy="463.3" r="3.2" fill="url(#gP)"/><circle cx="260.5" cy="461.7" r="3.2" fill="url(#gP)"/><circle cx="246.2" cy="529.7" r="3.2" fill="url(#gP)"/><circle cx="226.5" cy="530.3" r="3.2" fill="url(#gP)"/><circle cx="226.2" cy="518.8" r="3.2" fill="url(#gP)"/><circle cx="245.9" cy="518.2" r="3.2" fill="url(#gP)"/><circle cx="225.6" cy="495.4" r="3.2" fill="url(#gP)"/><circle cx="245.1" cy="494.8" r="3.2" fill="url(#gP)"/><circle cx="225.8" cy="507.2" r="3.2" fill="url(#gP)"/><circle cx="245.6" cy="506.6" r="3.2" fill="url(#gP)"/><circle cx="205.7" cy="496.1" r="3.2" fill="url(#gP)"/><circle cx="265" cy="494.3" r="3.2" fill="url(#gP)"/><circle cx="218.8" cy="480.1" r="3.2" fill="url(#gP)"/><circle cx="250.9" cy="479.1" r="3.2" fill="url(#gP)"/><circle cx="198.7" cy="480.6" r="3.2" fill="url(#gP)"/><circle cx="271" cy="478.4" r="3.2" fill="url(#gP)"/><circle cx="218.3" cy="468.2" r="3.2" fill="url(#gP)"/><circle cx="250.7" cy="467.2" r="3.2" fill="url(#gP)"/><circle cx="218" cy="456.5" r="3.2" fill="url(#gP)"/><circle cx="250.4" cy="455.5" r="3.2" fill="url(#gP)"/><circle cx="216.1" cy="500.8" r="3.2" fill="url(#gP)"/><circle cx="254.9" cy="499.7" r="3.2" fill="url(#gP)"/><circle cx="216.4" cy="524.4" r="3.2" fill="url(#gP)"/><circle cx="256" cy="523.2" r="3.2" fill="url(#gP)"/><circle cx="216.1" cy="512.6" r="3.2" fill="url(#gP)"/><circle cx="255.6" cy="511.5" r="3.2" fill="url(#gP)"/><circle cx="196.1" cy="501.6" r="3.2" fill="url(#gP)"/><circle cx="274.9" cy="499.2" r="3.2" fill="url(#gP)"/><path d="M241.1 484.7L250.9 479.1M229 485.1L218.8 480.1M228.6 473.3L234.9 478.6M228.6 473.3L234.5 467.2M228.6 473.3L218.8 480.1M228.6 473.3L218.3 468.2M240.8 473L234.9 478.6M240.8 473L234.5 467.2M240.8 473L228.6 473.3M240.8 473L250.9 479.1M240.8 473L250.7 467.2M228.2 461.8L234.5 467.2M228.2 461.8L228.6 473.3M228.2 461.8L234.2 455.7M228.2 461.8L218.3 468.2M228.2 461.8L218 456.5M240.5 461.4L234.5 467.2M240.5 461.4L240.8 473M240.5 461.4L234.2 455.7M240.5 461.4L250.7 467.2M240.5 461.4L250.4 455.5M240.1 449.9L234.2 455.7M240.1 449.9L240.5 461.4M240.1 449.9L250.4 455.5M227.9 450.3L234.2 455.7M227.9 450.3L228.2 461.8M227.9 450.3L233.8 444.3M227.9 450.3L240.1 449.9M227.9 450.3L218 456.5M208.8 485.5L205.7 496.1M208.8 485.5L198.7 480.6M261.3 484L265 494.3M261.3 484L271 478.4M206.5 506.2L216.1 500.8M206.5 506.2L205.7 496.1M206.5 506.2L216.1 512.6M206.5 506.2L196.1 501.6M206.5 506.2L200.1 511.8M264.8 504.5L254.9 499.7M264.8 504.5L265 494.3M264.8 504.5L255.6 511.5M264.8 504.5L274.9 499.2M264.8 504.5L271.5 509.7M206.4 518L216.1 512.6M206.4 518L216.4 524.4M206.4 518L200.1 511.8M265.6 516.3L255.6 511.5M265.6 516.3L256 523.2M265.6 516.3L271.5 509.7M236.4 530L246.2 529.7M236.4 530L226.5 530.3M236 518.5L245.9 518.2M236 518.5L226.2 518.8M235.7 506.9L245.6 506.6M235.7 506.9L225.8 507.2M202.5 470.1L198.7 480.6M202.5 470.1L208.2 463.3M266.7 468.2L271 478.4M266.7 468.2L260.5 461.7M219.2 490.5L229 485.1M219.2 490.5L218.8 480.1M219.2 490.5L208.8 485.5M251.3 489.6L241.1 484.7M251.3 489.6L250.9 479.1M251.3 489.6L261.3 484M199.1 491.1L208.8 485.5M199.1 491.1L196.1 501.6M199.1 491.1L198.7 480.6M271.3 489L261.3 484M271.3 489L274.9 499.2M271.3 489L271 478.4M197 511.6L206.5 506.2M197 511.6L196.1 501.6M197 511.6L206.4 518M274.7 509.3L264.8 504.5M274.7 509.3L274.9 499.2M274.7 509.3L265.6 516.3M225.6 500.8L235.4 495.1M225.6 500.8L235.7 506.9M225.6 500.8L219.2 490.5M245.4 500.2L235.4 495.1M245.4 500.2L235.7 506.9M245.4 500.2L251.3 489.6M246.2 523.7L236 518.5M246.2 523.7L236.4 530M246.2 523.7L256 523.2M226.2 524.3L236 518.5M226.2 524.3L236.4 530M226.2 524.3L216.4 524.4M212.6 475.1L208.8 485.5M212.6 475.1L218.3 468.2M256.9 473.8L261.3 484M256.9 473.8L250.7 467.2M245.9 512.1L235.7 506.9M245.9 512.1L236 518.5M245.9 512.1L255.6 511.5M225.8 512.7L235.7 506.9M225.8 512.7L236 518.5M225.8 512.7L216.1 512.6M256.7 461.9L266.7 468.2M256.7 461.9L250.4 455.5M212 463.2L202.5 470.1M212 463.2L218 456.5M209.5 496L216.1 500.8M209.5 496L219.2 490.5M209.5 496L208.8 485.5M209.5 496L199.1 491.1M261.3 494.5L254.9 499.7M261.3 494.5L251.3 489.6M261.3 494.5L261.3 484M261.3 494.5L271.3 489" stroke="#74127a" stroke-width=".6" fill="none"/><circle cx="241.1" cy="484.7" r="3.2" fill="url(#gP)"/><circle cx="229" cy="485.1" r="3.2" fill="url(#gP)"/><circle cx="228.6" cy="473.3" r="3.2" fill="url(#gP)"/><circle cx="240.8" cy="473" r="3.2" fill="url(#gP)"/><circle cx="228.2" cy="461.8" r="3.2" fill="url(#gP)"/><circle cx="240.5" cy="461.4" r="3.2" fill="url(#gP)"/><circle cx="240.1" cy="449.9" r="3.2" fill="url(#gP)"/><circle cx="227.9" cy="450.3" r="3.2" fill="url(#gP)"/><circle cx="208.8" cy="485.5" r="3.2" fill="url(#gP)"/><circle cx="261.3" cy="484" r="3.2" fill="url(#gP)"/><circle cx="206.5" cy="506.2" r="3.2" fill="url(#gP)"/><circle cx="264.8" cy="504.5" r="3.2" fill="url(#gP)"/><circle cx="206.4" cy="518" r="3.2" fill="url(#gP)"/><circle cx="265.6" cy="516.3" r="3.2" fill="url(#gP)"/><circle cx="235.4" cy="495.1" r="3.2" fill="url(#gP)"/><circle cx="236.4" cy="530" r="3.2" fill="url(#gP)"/><circle cx="236" cy="518.5" r="3.2" fill="url(#gP)"/><circle cx="235.7" cy="506.9" r="3.2" fill="url(#gP)"/><circle cx="202.5" cy="470.1" r="3.2" fill="url(#gP)"/><circle cx="266.7" cy="468.2" r="3.2" fill="url(#gP)"/><circle cx="219.2" cy="490.5" r="3.2" fill="url(#gP)"/><circle cx="251.3" cy="489.6" r="3.2" fill="url(#gP)"/><circle cx="199.1" cy="491.1" r="3.2" fill="url(#gP)"/><circle cx="271.3" cy="489" r="3.2" fill="url(#gP)"/><circle cx="197" cy="511.6" r="4.4" fill="url(#gG)"/><circle cx="274.7" cy="509.3" r="4.4" fill="url(#gG)"/><circle cx="225.6" cy="500.8" r="3.2" fill="url(#gP)"/><circle cx="245.4" cy="500.2" r="3.2" fill="url(#gP)"/><circle cx="246.2" cy="523.7" r="3.2" fill="url(#gP)"/><circle cx="226.2" cy="524.3" r="3.2" fill="url(#gP)"/><circle cx="212.6" cy="475.1" r="3.2" fill="url(#gP)"/><circle cx="256.9" cy="473.8" r="3.2" fill="url(#gP)"/><circle cx="245.9" cy="512.1" r="3.2" fill="url(#gP)"/><circle cx="225.8" cy="512.7" r="3.2" fill="url(#gP)"/><circle cx="256.7" cy="461.9" r="3.2" fill="url(#gP)"/><circle cx="212" cy="463.2" r="3.2" fill="url(#gP)"/><circle cx="209.5" cy="496" r="3.2" fill="url(#gP)"/><circle cx="261.3" cy="494.5" r="3.2" fill="url(#gP)"/><path d="M222.9 480.2L229 485.1M222.9 480.2L219.2 490.5M222.9 480.2L228.6 473.3M222.9 480.2L212.6 475.1M246.9 479.5L241.1 484.7M246.9 479.5L251.3 489.6M246.9 479.5L240.8 473M246.9 479.5L256.9 473.8M215.9 506.2L225.6 500.8M215.9 506.2L206.5 506.2M215.9 506.2L209.5 496M215.9 506.2L225.8 512.7M255.4 505.1L245.4 500.2M255.4 505.1L264.8 504.5M255.4 505.1L261.3 494.5M255.4 505.1L245.9 512.1M256 517L245.9 512.1M256 517L265.6 516.3M256 517L246.2 523.7M216 518.2L225.8 512.7M216 518.2L206.4 518M216 518.2L226.2 524.3M246.8 467.7L246.9 479.5M246.8 467.7L256.9 473.8M246.8 467.7L240.5 461.4M246.8 467.7L256.7 461.9M222.3 468.4L222.9 480.2M222.3 468.4L212.6 475.1M222.3 468.4L228.2 461.8M222.3 468.4L212 463.2M234.9 479.6L229 485.1M234.9 479.6L241.1 484.7M234.9 479.6L228.6 473.3M234.9 479.6L240.8 473M221.9 456.7L222.3 468.4M221.9 456.7L228.2 461.8M221.9 456.7L227.9 450.3M221.9 456.7L212 463.2M246.5 455.9L246.8 467.7M246.5 455.9L240.5 461.4M246.5 455.9L240.1 449.9M246.5 455.9L256.7 461.9M202.6 480.5L212.6 475.1M202.6 480.5L202.5 470.1M202.6 480.5L199.1 491.1M267.2 478.6L256.9 473.8M267.2 478.6L266.7 468.2M267.2 478.6L271.3 489M234.2 456.1L228.2 461.8M234.2 456.1L240.5 461.4M234.2 456.1L221.9 456.7M234.2 456.1L227.9 450.3M234.2 456.1L246.5 455.9M234.2 456.1L240.1 449.9M234.5 467.8L234.9 479.6M234.5 467.8L228.6 473.3M234.5 467.8L240.8 473M234.5 467.8L222.3 468.4M234.5 467.8L228.2 461.8M234.5 467.8L246.8 467.7M234.5 467.8L240.5 461.4M234.5 467.8L234.2 456.1M199.8 501.5L206.5 506.2M199.8 501.5L209.5 496M199.8 501.5L197 511.6M199.8 501.5L199.1 491.1M271.2 499.4L264.8 504.5M271.2 499.4L261.3 494.5M271.2 499.4L274.7 509.3M271.2 499.4L271.3 489M241.3 489.9L235.4 495.1M241.3 489.9L246.9 479.5M241.3 489.9L245.4 500.2M241.3 489.9L234.9 479.6M229.1 490.3L235.4 495.1M229.1 490.3L222.9 480.2M229.1 490.3L225.6 500.8M229.1 490.3L234.9 479.6M206.2 511.7L215.9 506.2M206.2 511.7L197 511.6M206.2 511.7L199.8 501.5M206.2 511.7L216 518.2M265.4 509.9L255.4 505.1M265.4 509.9L274.7 509.3M265.4 509.9L271.2 499.4M265.4 509.9L256 517M257.2 484.2L246.9 479.5M257.2 484.2L251.3 489.6M257.2 484.2L256.9 473.8M257.2 484.2L267.2 478.6M212.9 485.5L222.9 480.2M212.9 485.5L219.2 490.5M212.9 485.5L212.6 475.1M212.9 485.5L202.6 480.5M235.5 500.3L229.1 490.3M235.5 500.3L241.3 489.9M235.9 512.1L245.9 512.1M235.9 512.1L225.8 512.7M236.2 523.8L246.2 523.7M236.2 523.8L226.2 524.3M206.5 470.2L202.6 480.5M262.7 468.5L267.2 478.6M262.7 468.5L256.7 461.9M219.2 495.8L229.1 490.3M219.2 495.8L225.6 500.8M219.2 495.8L212.9 485.5M219.2 495.8L209.5 496M251.6 494.9L241.3 489.9M251.6 494.9L245.4 500.2M251.6 494.9L255.4 505.1M251.6 494.9L257.2 484.2M251.6 494.9L261.3 494.5M203.1 491L212.9 485.5M203.1 491L209.5 496M203.1 491L199.8 501.5M203.1 491L202.6 480.5M267.3 489.1L257.2 484.2M267.3 489.1L261.3 494.5M267.3 489.1L271.2 499.4M267.3 489.1L267.2 478.6M225.8 506L235.5 500.3M225.8 506L235.9 512.1M225.8 506L215.9 506.2M225.8 506L219.2 495.8M245.6 505.4L235.5 500.3M245.6 505.4L235.9 512.1M245.6 505.4L255.4 505.1M245.6 505.4L251.6 494.9M226 517.9L235.9 512.1M226 517.9L236.2 523.8M226 517.9L216 518.2M246 517.3L235.9 512.1M246 517.3L245.6 505.4M246 517.3L236.2 523.8M246 517.3L256 517" stroke="#74127a" stroke-width=".6" fill="none"/><circle cx="222.9" cy="480.2" r="3.2" fill="url(#gP)"/><circle cx="246.9" cy="479.5" r="3.2" fill="url(#gP)"/><circle cx="215.9" cy="506.2" r="3.2" fill="url(#gP)"/><circle cx="255.4" cy="505.1" r="3.2" fill="url(#gP)"/><circle cx="256" cy="517" r="3.2" fill="url(#gP)"/><circle cx="216" cy="518.2" r="3.2" fill="url(#gP)"/><circle cx="246.8" cy="467.7" r="3.2" fill="url(#gP)"/><circle cx="222.3" cy="468.4" r="3.2" fill="url(#gP)"/><circle cx="234.9" cy="479.6" r="3.2" fill="url(#gP)"/><circle cx="221.9" cy="456.7" r="3.2" fill="url(#gP)"/><circle cx="246.5" cy="455.9" r="3.2" fill="url(#gP)"/><circle cx="202.6" cy="480.5" r="3.2" fill="url(#gP)"/><circle cx="267.2" cy="478.6" r="3.2" fill="url(#gP)"/><circle cx="234.2" cy="456.1" r="3.2" fill="url(#gP)"/><circle cx="234.5" cy="467.8" r="3.2" fill="url(#gP)"/><circle cx="199.8" cy="501.5" r="3.2" fill="url(#gP)"/><circle cx="271.2" cy="499.4" r="3.2" fill="url(#gP)"/><circle cx="241.3" cy="489.9" r="3.2" fill="url(#gP)"/><circle cx="229.1" cy="490.3" r="3.2" fill="url(#gP)"/><circle cx="206.2" cy="511.7" r="3.2" fill="url(#gP)"/><circle cx="265.4" cy="509.9" r="3.2" fill="url(#gP)"/><circle cx="257.2" cy="484.2" r="3.2" fill="url(#gP)"/><circle cx="212.9" cy="485.5" r="3.2" fill="url(#gP)"/><circle cx="235.5" cy="500.3" r="3.2" fill="url(#gP)"/><circle cx="236.2" cy="523.8" r="3.2" fill="url(#gP)"/><circle cx="206.5" cy="470.2" r="3.2" fill="url(#gP)"/><circle cx="262.7" cy="468.5" r="3.2" fill="url(#gP)"/><circle cx="219.2" cy="495.8" r="3.2" fill="url(#gP)"/><circle cx="251.6" cy="494.9" r="3.2" fill="url(#gP)"/><circle cx="203.1" cy="491" r="3.2" fill="url(#gP)"/><circle cx="267.3" cy="489.1" r="3.2" fill="url(#gP)"/><circle cx="225.8" cy="506" r="3.2" fill="url(#gP)"/><circle cx="245.6" cy="505.4" r="3.2" fill="url(#gP)"/><circle cx="226" cy="517.9" r="3.2" fill="url(#gP)"/><circle cx="246" cy="517.3" r="3.2" fill="url(#gP)"/><path d="M216.7 475.3L222.9 480.2M216.7 475.3L212.9 485.5M216.7 475.3L222.3 468.4M216.7 475.3L206.5 470.2M252.8 474.2L246.9 479.5M252.8 474.2L257.2 484.2M252.8 474.2L246.8 467.7M252.8 474.2L262.7 468.5M216.1 463.5L216.7 475.3M216.1 463.5L222.3 468.4M216.1 463.5L206.5 470.2M216.1 463.5L221.9 456.7M252.7 462.4L252.8 474.2M252.7 462.4L246.8 467.7M252.7 462.4L262.7 468.5M252.7 462.4L246.5 455.9M228.6 474.7L222.9 480.2M228.6 474.7L234.9 479.6M228.6 474.7L216.7 475.3M228.6 474.7L222.3 468.4M228.6 474.7L234.5 467.8M240.9 474.3L246.9 479.5M240.9 474.3L234.9 479.6M240.9 474.3L252.8 474.2M240.9 474.3L246.8 467.7M240.9 474.3L234.5 467.8M261.7 499.8L255.4 505.1M261.7 499.8L251.6 494.9M261.7 499.8L265.4 509.9M261.7 499.8L267.3 489.1M261.7 499.8L271.2 499.4M209.4 501.4L215.9 506.2M209.4 501.4L219.2 495.8M209.4 501.4L206.2 511.7M209.4 501.4L203.1 491M209.4 501.4L199.8 501.5M240.6 462.4L240.9 474.3M240.6 462.4L246.8 467.7M240.6 462.4L234.5 467.8M240.6 462.4L252.7 462.4M240.6 462.4L246.5 455.9M240.6 462.4L234.2 456.1M228.2 462.8L228.6 474.7M228.2 462.8L222.3 468.4M228.2 462.8L234.5 467.8M228.2 462.8L216.1 463.5M228.2 462.8L221.9 456.7M228.2 462.8L234.2 456.1M255.7 510.4L245.6 505.4M255.7 510.4L265.4 509.9M255.7 510.4L261.7 499.8M255.7 510.4L256 517M255.7 510.4L246 517.3M216 511.5L225.8 506M216 511.5L206.2 511.7M216 511.5L209.4 501.4M216 511.5L216 518.2M216 511.5L226 517.9M247.3 484.5L241.3 489.9M247.3 484.5L252.8 474.2M247.3 484.5L240.9 474.3M247.3 484.5L257.2 484.2M247.3 484.5L251.6 494.9M222.8 485.3L229.1 490.3M222.8 485.3L216.7 475.3M222.8 485.3L228.6 474.7M222.8 485.3L212.9 485.5M222.8 485.3L219.2 495.8M235 484.8L229.1 490.3M235 484.8L241.3 489.9M235 484.8L222.8 485.3M235 484.8L247.3 484.5M235 484.8L228.6 474.7M235 484.8L240.9 474.3M263 478.9L252.8 474.2M263 478.9L257.2 484.2M263 478.9L262.7 468.5M263 478.9L267.3 489.1M206.8 480.6L216.7 475.3M206.8 480.6L212.9 485.5M206.8 480.6L206.5 470.2M206.8 480.6L203.1 491M241.5 495.1L235.5 500.3M241.5 495.1L247.3 484.5M241.5 495.1L235 484.8M241.5 495.1L251.6 494.9M229.2 495.5L235.5 500.3M229.2 495.5L222.8 485.3M229.2 495.5L225.8 506M229.2 495.5L235 484.8M229.2 495.5L219.2 495.8M235.7 505.4L229.2 495.5M235.7 505.4L241.5 495.1M235.7 505.4L245.6 505.4M235.7 505.4L225.8 506M212.9 490.8L222.8 485.3M212.9 490.8L219.2 495.8M212.9 490.8L206.8 480.6M212.9 490.8L203.1 491M212.9 490.8L209.4 501.4M257.5 489.5L247.3 484.5M257.5 489.5L251.6 494.9M257.5 489.5L263 478.9M257.5 489.5L267.3 489.1M257.5 489.5L261.7 499.8M236 517.3L246 517.3M236 517.3L226 517.9" stroke="#74127a" stroke-width=".6" fill="none"/><circle cx="216.7" cy="475.3" r="3.2" fill="url(#gP)"/><circle cx="252.8" cy="474.2" r="3.2" fill="url(#gP)"/><circle cx="216.1" cy="463.5" r="3.2" fill="url(#gP)"/><circle cx="252.7" cy="462.4" r="3.2" fill="url(#gP)"/><circle cx="228.6" cy="474.7" r="3.2" fill="url(#gP)"/><circle cx="240.9" cy="474.3" r="3.2" fill="url(#gP)"/><circle cx="261.7" cy="499.8" r="3.2" fill="url(#gP)"/><circle cx="209.4" cy="501.4" r="3.2" fill="url(#gP)"/><circle cx="240.6" cy="462.4" r="3.2" fill="url(#gP)"/><circle cx="228.2" cy="462.8" r="3.2" fill="url(#gP)"/><circle cx="255.7" cy="510.4" r="3.2" fill="url(#gP)"/><circle cx="216" cy="511.5" r="3.2" fill="url(#gP)"/><circle cx="247.3" cy="484.5" r="3.2" fill="url(#gP)"/><circle cx="222.8" cy="485.3" r="3.2" fill="url(#gP)"/><circle cx="235" cy="484.8" r="3.2" fill="url(#gP)"/><circle cx="263" cy="478.9" r="3.2" fill="url(#gP)"/><circle cx="206.8" cy="480.6" r="3.2" fill="url(#gP)"/><circle cx="241.5" cy="495.1" r="3.2" fill="url(#gP)"/><circle cx="229.2" cy="495.5" r="3.2" fill="url(#gP)"/><circle cx="235.7" cy="505.4" r="3.2" fill="url(#gP)"/><circle cx="212.9" cy="490.8" r="3.2" fill="url(#gP)"/><circle cx="257.5" cy="489.5" r="3.2" fill="url(#gP)"/><circle cx="236" cy="517.3" r="3.2" fill="url(#gP)"/><path d="M219.4 501.1L229.2 495.5M219.4 501.1L225.8 506M219.4 501.1L216 511.5M219.4 501.1L209.4 501.4M219.4 501.1L212.9 490.8M251.7 500.1L241.5 495.1M251.7 500.1L245.6 505.4M251.7 500.1L255.7 510.4M251.7 500.1L261.7 499.8M251.7 500.1L257.5 489.5M210.6 470.4L206.8 480.6M210.6 470.4L216.1 463.5M258.6 469L263 478.9M258.6 469L252.7 462.4M222.4 469.8L216.7 475.3M222.4 469.8L228.6 474.7M222.4 469.8L210.6 470.4M222.4 469.8L216.1 463.5M222.4 469.8L228.2 462.8M246.8 469L252.8 474.2M246.8 469L240.9 474.3M246.8 469L258.6 469M246.8 469L252.7 462.4M246.8 469L240.6 462.4M234.6 469.3L228.6 474.7M234.6 469.3L240.9 474.3M234.6 469.3L222.4 469.8M234.6 469.3L246.8 469M234.6 469.3L240.6 462.4M234.6 469.3L228.2 462.8M226 511.2L235.7 505.4M226 511.2L236 517.3M226 511.2L216 511.5M226 511.2L219.4 501.1M226 511.2L226 517.9M245.7 510.6L235.7 505.4M245.7 510.6L236 517.3M245.7 510.6L255.7 510.4M245.7 510.6L251.7 500.1M245.7 510.6L246 517.3M253.2 479.2L247.3 484.5M253.2 479.2L258.6 469M253.2 479.2L246.8 469M253.2 479.2L263 478.9M253.2 479.2L257.5 489.5M216.6 480.3L222.8 485.3M216.6 480.3L210.6 470.4M216.6 480.3L222.4 469.8M216.6 480.3L206.8 480.6M216.6 480.3L212.9 490.8M228.7 479.8L222.8 485.3M228.7 479.8L235 484.8M228.7 479.8L216.6 480.3M228.7 479.8L222.4 469.8M228.7 479.8L234.6 469.3M241.1 479.4L247.3 484.5M241.1 479.4L235 484.8M241.1 479.4L253.2 479.2M241.1 479.4L234.6 469.3M241.1 479.4L246.8 469M247.5 489.8L241.5 495.1M247.5 489.8L253.2 479.2M247.5 489.8L241.1 479.4M247.5 489.8L257.5 489.5M247.5 489.8L251.7 500.1M222.9 490.5L229.2 495.5M222.9 490.5L216.6 480.3M222.9 490.5L228.7 479.8M222.9 490.5L212.9 490.8M222.9 490.5L219.4 501.1M235.2 490.1L229.2 495.5M235.2 490.1L241.5 495.1M235.2 490.1L222.9 490.5M235.2 490.1L247.5 489.8M235.2 490.1L241.1 479.4M235.2 490.1L228.7 479.8M229.4 500.7L235.7 505.4M229.4 500.7L222.9 490.5M229.4 500.7L226 511.2M229.4 500.7L235.2 490.1M229.4 500.7L219.4 501.1M241.6 500.3L235.7 505.4M241.6 500.3L229.4 500.7M241.6 500.3L247.5 489.8M241.6 500.3L245.7 510.6M241.6 500.3L235.2 490.1M241.6 500.3L251.7 500.1M235.8 510.6L229.4 500.7M235.8 510.6L241.6 500.3M235.8 510.6L245.7 510.6M235.8 510.6L226 511.2" stroke="#74127a" stroke-width=".6" fill="none"/><circle cx="219.4" cy="501.1" r="3.2" fill="url(#gP)"/><circle cx="251.7" cy="500.1" r="3.2" fill="url(#gP)"/><circle cx="210.6" cy="470.4" r="4.4" fill="url(#gG)"/><circle cx="258.6" cy="469" r="4.4" fill="url(#gG)"/><circle cx="222.4" cy="469.8" r="3.2" fill="url(#gP)"/><circle cx="246.8" cy="469" r="3.2" fill="url(#gP)"/><circle cx="234.6" cy="469.3" r="3.2" fill="url(#gP)"/><circle cx="226" cy="511.2" r="3.2" fill="url(#gP)"/><circle cx="245.7" cy="510.6" r="3.2" fill="url(#gP)"/><circle cx="253.2" cy="479.2" r="3.2" fill="url(#gP)"/><circle cx="216.6" cy="480.3" r="3.2" fill="url(#gP)"/><circle cx="228.7" cy="479.8" r="3.2" fill="url(#gP)"/><circle cx="241.1" cy="479.4" r="3.2" fill="url(#gP)"/><circle cx="247.5" cy="489.8" r="3.2" fill="url(#gP)"/><circle cx="222.9" cy="490.5" r="3.2" fill="url(#gP)"/><circle cx="235.2" cy="490.1" r="3.2" fill="url(#gP)"/><circle cx="229.4" cy="500.7" r="3.2" fill="url(#gP)"/><circle cx="241.6" cy="500.3" r="3.2" fill="url(#gP)"/><circle cx="235.8" cy="510.6" r="4.4" fill="url(#gG)"/></g>
<g font-family="Liberation Sans, Arial, Helvetica, sans-serif" font-weight="bold" fill="#000" stroke="#000" stroke-width=".25">
<text x="288" y="457" font-size="16.0">Ih-Fe<tspan font-size="10.2" dy="7.9">102</tspan><tspan dy="-7.9">Ni</tspan><tspan font-size="10.2" dy="7.9">207</tspan></text>
<path d="M287.9 479.8H327.3" stroke="#000" stroke-width="2.3"/>
<rect x="303.5" y="475.7" width="8.2" height="8.2" stroke="none"/>
<path d="M287.9 501.4H327.3" stroke="#f00" stroke-width="2.3"/>
<circle cx="307.6" cy="501.4" r="4.3" fill="#f00" stroke="none"/>
<text x="331.7" y="485.3" font-size="16.4">Fe</text>
<text x="331.7" y="506.7" font-size="16.4">Ni</text>
</g>
<g><path d="M439.8 487.9L446.3 476.8M439.8 487.9L433.3 476.8M452.8 487.9L439.8 487.9M426.8 487.9L439.8 487.9M446.4 499.2L452.8 487.9M446.4 499.2L439.8 487.9M433.2 499.2L426.8 487.9M433.2 499.2L446.4 499.2M433.2 499.2L439.8 487.9M439.8 510.3L433.2 499.2M439.8 510.3L446.4 499.2M452.7 510.2L446.4 499.2M426.9 510.2L433.2 499.2M422.6 477.2L433.3 476.8M422.6 477.2L426.8 487.9M457 477.2L446.3 476.8M457 477.2L452.8 487.9" stroke="#74127a" stroke-width=".6" fill="none"/><path d="M433.3 476.8L439.8 466M446.3 476.8L439.8 466M446.3 476.8L433.3 476.8M452.8 487.9L446.3 476.8M426.8 487.9L433.3 476.8M420.4 499.1L426.8 487.9M452.7 510.2L459.2 499.1M452.7 510.2L439.8 510.3M426.9 510.2L420.4 499.1M426.9 510.2L439.8 510.3M465.3 509.9L452.7 510.2M414.3 509.9L426.9 510.2M429.3 466.3L439.8 466M429.3 466.3L433.3 476.8M450.3 466.3L439.8 466M450.3 466.3L446.3 476.8" stroke="#1fa822" stroke-width=".8" fill="none"/><circle cx="439.8" cy="466" r="3.4" fill="url(#gG)"/><circle cx="433.3" cy="476.8" r="3.4" fill="url(#gG)"/><circle cx="446.3" cy="476.8" r="3.4" fill="url(#gG)"/><circle cx="452.8" cy="487.9" r="3.4" fill="url(#gG)"/><circle cx="426.8" cy="487.9" r="3.4" fill="url(#gG)"/><circle cx="446.4" cy="499.2" r="2.6" fill="url(#gP)"/><circle cx="433.2" cy="499.2" r="2.6" fill="url(#gP)"/><circle cx="459.2" cy="499.1" r="3.4" fill="url(#gG)"/><circle cx="420.4" cy="499.1" r="3.4" fill="url(#gG)"/><circle cx="439.8" cy="510.3" r="3.4" fill="url(#gG)"/><circle cx="452.7" cy="510.2" r="3.4" fill="url(#gG)"/><circle cx="426.9" cy="510.2" r="3.4" fill="url(#gG)"/><circle cx="465.3" cy="509.9" r="3.4" fill="url(#gG)"/><circle cx="414.3" cy="509.9" r="3.4" fill="url(#gG)"/><circle cx="429.3" cy="466.3" r="3.4" fill="url(#gG)"/><circle cx="450.3" cy="466.3" r="3.4" fill="url(#gG)"/><circle cx="422.6" cy="477.2" r="2.6" fill="url(#gP)"/><circle cx="457" cy="477.2" r="2.6" fill="url(#gP)"/><path d="M416.1 488.5L426.8 487.9M416.1 488.5L420.4 499.1M463.5 488.5L452.8 487.9M463.5 488.5L459.2 499.1M439.8 472.3L429.3 466.3M439.8 472.3L450.3 466.3M439.8 472.3L446.3 476.8M439.8 472.3L433.3 476.8M469.7 499.7L463.5 488.5M409.9 499.7L416.1 488.5M446.3 483.1L439.8 472.3M446.3 483.1L457 477.2M446.3 483.1L439.8 487.9M433.3 483.1L439.8 472.3M433.3 483.1L446.3 483.1M433.3 483.1L422.6 477.2M433.3 483.1L439.8 487.9M439.8 494.3L446.3 483.1M439.8 494.3L433.3 483.1M439.8 494.3L433.2 499.2M439.8 494.3L446.4 499.2M426.8 494.3L433.3 483.1M426.8 494.3L439.8 494.3M452.8 494.3L446.3 483.1M452.8 494.3L439.8 494.3M452.8 494.3L459.2 499.1M446.4 518L439.8 510.3M433.2 518L439.8 510.3M420.4 517.7L433.2 518M459.2 517.7L446.4 518M446.3 505.5L452.8 494.3M446.3 505.5L439.8 494.3M446.3 505.5L439.8 510.3M446.3 505.5L446.4 518M433.3 505.5L426.8 494.3M433.3 505.5L439.8 494.3M433.3 505.5L439.8 510.3M433.3 505.5L433.2 518M420.7 505.2L433.3 505.5M420.7 505.2L409.9 499.7M420.7 505.2L420.4 517.7M420.7 505.2L426.9 510.2M458.9 505.2L452.8 494.3M458.9 505.2L446.3 505.5M458.9 505.2L469.7 499.7M458.9 505.2L459.2 517.7M458.9 505.2L452.7 510.2M418.7 466.7L422.6 477.2M460.9 466.7L457 477.2M412 477.8L416.1 488.5M467.6 477.8L463.5 488.5" stroke="#74127a" stroke-width=".6" fill="none"/><path d="M469.7 499.7L459.2 499.1M409.9 499.7L420.4 499.1M439.8 459.7L429.3 466.3M439.8 459.7L450.3 466.3M418.7 466.7L429.3 466.3M460.9 466.7L450.3 466.3" stroke="#1fa822" stroke-width=".8" fill="none"/><circle cx="416.1" cy="488.5" r="2.6" fill="url(#gP)"/><circle cx="463.5" cy="488.5" r="2.6" fill="url(#gP)"/><circle cx="469.7" cy="499.7" r="3.4" fill="url(#gG)"/><circle cx="409.9" cy="499.7" r="3.4" fill="url(#gG)"/><circle cx="439.8" cy="459.7" r="3.4" fill="url(#gG)"/><circle cx="446.3" cy="483.1" r="2.6" fill="url(#gP)"/><circle cx="433.3" cy="483.1" r="2.6" fill="url(#gP)"/><circle cx="446.4" cy="518" r="2.6" fill="url(#gP)"/><circle cx="433.2" cy="518" r="2.6" fill="url(#gP)"/><circle cx="420.4" cy="517.7" r="3.4" fill="url(#gG)"/><circle cx="459.2" cy="517.7" r="3.4" fill="url(#gG)"/><circle cx="420.7" cy="505.2" r="2.6" fill="url(#gP)"/><circle cx="458.9" cy="505.2" r="2.6" fill="url(#gP)"/><circle cx="418.7" cy="466.7" r="3.4" fill="url(#gG)"/><circle cx="460.9" cy="466.7" r="3.4" fill="url(#gG)"/><circle cx="412" cy="477.8" r="2.6" fill="url(#gP)"/><circle cx="467.6" cy="477.8" r="2.6" fill="url(#gP)"/><path d="M405.7 489.1L416.1 488.5M473.9 489.1L463.5 488.5M429.3 472.5L439.8 472.3M429.3 472.5L433.3 483.1M429.3 472.5L422.6 477.2M450.3 472.5L439.8 472.3M450.3 472.5L446.3 483.1M450.3 472.5L457 477.2M450.4 459.9L460.9 466.7M450.4 459.9L439.8 459.7M429.2 459.9L418.7 466.7M429.2 459.9L439.8 459.7M457 483.6L450.3 472.5M457 483.6L452.8 494.3M457 483.6L467.6 477.8M422.6 483.6L429.3 472.5M422.6 483.6L426.8 494.3M422.6 483.6L416.1 488.5M422.6 483.6L412 477.8M463.3 494.9L458.9 505.2M463.3 494.9L452.8 494.3M463.3 494.9L457 483.6M463.3 494.9L473.9 489.1M416.3 494.9L420.7 505.2M416.3 494.9L426.8 494.3M416.3 494.9L422.6 483.6M416.3 494.9L405.7 489.1M439.8 478.5L439.8 472.3M439.8 478.5L429.3 472.5M439.8 478.5L450.3 472.5M439.8 478.5L446.3 483.1M439.8 478.5L433.3 483.1M439.8 525.6L433.2 518M439.8 525.6L446.4 518M452.8 525.3L439.8 525.6M426.8 525.3L439.8 525.6M439.8 466L429.3 472.5M439.8 466L450.3 472.5M439.8 466L429.2 459.9M439.8 466L450.4 459.9M446.3 489.5L439.8 478.5M446.3 489.5L452.8 494.3M446.3 489.5L439.8 494.3M433.3 489.5L439.8 478.5M433.3 489.5L446.3 489.5M433.3 489.5L426.8 494.3M433.3 489.5L439.8 494.3M439.8 513.2L446.3 505.5M439.8 513.2L433.3 505.5M439.8 513.2L433.2 518M439.8 513.2L446.4 518M426.8 512.9L420.7 505.2M426.8 512.9L439.8 513.2M426.8 512.9L426.8 525.3M452.8 512.9L458.9 505.2M452.8 512.9L439.8 513.2M452.8 512.9L452.8 525.3M439.8 453.6L429.2 459.9M439.8 453.6L450.4 459.9M474.1 500.7L473.9 489.1M474.1 500.7L469.7 511.2M405.5 500.7L405.7 489.1M405.5 500.7L409.9 511.2M439.8 500.7L446.3 489.5M439.8 500.7L433.3 489.5M439.8 500.7L446.3 505.5M439.8 500.7L433.3 505.5M439.8 500.7L439.8 513.2M452.5 500.5L446.3 489.5M452.5 500.5L439.8 500.7M452.5 500.5L463.3 494.9M452.5 500.5L452.8 512.9M427.1 500.5L433.3 489.5M427.1 500.5L439.8 500.7M427.1 500.5L416.3 494.9M427.1 500.5L426.8 512.9M427.1 500.5L426.8 494.3M477.7 478.6L467.6 477.8M401.9 478.6L412 477.8M463.5 519L452.8 525.3M463.5 519L469.7 511.2M416.1 519L426.8 525.3M416.1 519L409.9 511.2" stroke="#74127a" stroke-width=".6" fill="none"/><path d="M469.7 511.2L459.2 517.7M409.9 511.2L420.4 517.7M452.8 525.3L459.2 517.7M426.8 525.3L420.4 517.7M408.4 467.4L418.7 466.7M471.2 467.4L460.9 466.7M477.7 478.6L471.2 467.4M477.7 478.6L473.9 489.1M401.9 478.6L408.4 467.4M401.9 478.6L405.7 489.1" stroke="#1fa822" stroke-width=".8" fill="none"/><circle cx="469.7" cy="511.2" r="3.4" fill="url(#gG)"/><circle cx="409.9" cy="511.2" r="3.4" fill="url(#gG)"/><circle cx="405.7" cy="489.1" r="3.4" fill="url(#gG)"/><circle cx="473.9" cy="489.1" r="3.4" fill="url(#gG)"/><circle cx="429.3" cy="472.5" r="2.6" fill="url(#gP)"/><circle cx="450.3" cy="472.5" r="2.6" fill="url(#gP)"/><circle cx="450.4" cy="459.9" r="2.6" fill="url(#gP)"/><circle cx="429.2" cy="459.9" r="2.6" fill="url(#gP)"/><circle cx="457" cy="483.6" r="2.6" fill="url(#gP)"/><circle cx="422.6" cy="483.6" r="2.6" fill="url(#gP)"/><circle cx="463.3" cy="494.9" r="2.6" fill="url(#gP)"/><circle cx="416.3" cy="494.9" r="2.6" fill="url(#gP)"/><circle cx="439.8" cy="478.5" r="2.6" fill="url(#gP)"/><circle cx="439.8" cy="525.6" r="2.6" fill="url(#gP)"/><circle cx="452.8" cy="525.3" r="3.4" fill="url(#gG)"/><circle cx="426.8" cy="525.3" r="3.4" fill="url(#gG)"/><circle cx="439.8" cy="466" r="2.6" fill="url(#gP)"/><circle cx="446.3" cy="489.5" r="2.6" fill="url(#gP)"/><circle cx="433.3" cy="489.5" r="2.6" fill="url(#gP)"/><circle cx="439.8" cy="513.2" r="2.6" fill="url(#gP)"/><circle cx="426.8" cy="512.9" r="2.6" fill="url(#gP)"/><circle cx="452.8" cy="512.9" r="2.6" fill="url(#gP)"/><circle cx="408.4" cy="467.4" r="3.4" fill="url(#gG)"/><circle cx="471.2" cy="467.4" r="3.4" fill="url(#gG)"/><circle cx="439.8" cy="453.6" r="3.4" fill="url(#gG)"/><circle cx="474.1" cy="500.7" r="2.6" fill="url(#gP)"/><circle cx="405.5" cy="500.7" r="2.6" fill="url(#gP)"/><circle cx="439.8" cy="500.7" r="2.6" fill="url(#gP)"/><circle cx="452.5" cy="500.5" r="2.6" fill="url(#gP)"/><circle cx="427.1" cy="500.5" r="2.6" fill="url(#gP)"/><circle cx="477.7" cy="478.6" r="3.4" fill="url(#gG)"/><circle cx="401.9" cy="478.6" r="3.4" fill="url(#gG)"/><circle cx="463.5" cy="519" r="2.6" fill="url(#gP)"/><circle cx="416.1" cy="519" r="2.6" fill="url(#gP)"/><path d="M460.8 473.1L450.3 472.5M418.8 473.1L429.3 472.5M461 460.5L471.2 467.4M461 460.5L450.4 459.9M418.6 460.5L408.4 467.4M418.6 460.5L429.2 459.9M463.3 506.4L463.3 494.9M463.3 506.4L452.8 512.9M463.3 506.4L474.1 500.7M463.3 506.4L463.5 519M416.3 506.4L416.3 494.9M416.3 506.4L426.8 512.9M416.3 506.4L405.5 500.7M416.3 506.4L416.1 519M412.3 484.3L418.8 473.1M412.3 484.3L416.3 494.9M412.3 484.3L422.6 483.6M467.3 484.3L460.8 473.1M467.3 484.3L463.3 494.9M467.3 484.3L457 483.6M429.3 478.8L439.8 478.5M429.3 478.8L433.3 489.5M429.3 478.8L418.8 473.1M429.3 478.8L429.3 472.5M450.3 478.8L439.8 478.5M450.3 478.8L446.3 489.5M450.3 478.8L460.8 473.1M450.3 478.8L450.3 472.5M429.2 466.3L418.8 473.1M429.2 466.3L439.8 466M429.2 466.3L418.6 460.5M450.4 466.3L460.8 473.1M450.4 466.3L439.8 466M450.4 466.3L461 460.5M473.9 512.2L474.1 500.7M473.9 512.2L463.5 519M405.7 512.2L405.5 500.7M405.7 512.2L416.1 519M478.2 490L467.3 484.3M478.2 490L477.7 478.6M478.2 490L474.1 500.7M401.4 490L412.3 484.3M401.4 490L401.9 478.6M401.4 490L405.5 500.7M422.8 490L427.1 500.5M422.8 490L429.3 478.8M422.8 490L433.3 489.5M422.8 490L412.3 484.3M422.8 490L422.6 483.6M456.8 490L452.5 500.5M456.8 490L450.3 478.8M456.8 490L446.3 489.5M456.8 490L467.3 484.3M456.8 490L457 483.6M446.3 532.6L439.8 525.6M433.3 532.6L439.8 525.6M450.4 453.9L439.8 453.6M450.4 453.9L461 460.5M429.2 453.9L439.8 453.6M429.2 453.9L418.6 460.5M433.3 520.4L439.8 513.2M433.3 520.4L433.3 532.6M433.3 520.4L439.8 525.6M446.3 520.4L439.8 513.2M446.3 520.4L446.3 532.6M446.3 520.4L439.8 525.6M439.8 484.8L429.3 478.8M439.8 484.8L450.3 478.8M439.8 484.8L446.3 489.5M439.8 484.8L433.3 489.5M446.3 508.2L439.8 500.7M446.3 508.2L446.3 520.4M446.3 508.2L439.8 513.2M433.3 508.2L446.3 508.2M433.3 508.2L439.8 500.7M433.3 508.2L433.3 520.4M433.3 508.2L439.8 513.2M439.8 472.3L439.8 484.8M439.8 472.3L439.8 478.5M439.8 472.3L429.3 478.8M439.8 472.3L450.3 478.8M439.8 472.3L429.2 466.3M439.8 472.3L450.4 466.3M467.6 495.9L467.3 484.3M467.6 495.9L463.3 506.4M412 495.9L412.3 484.3M412 495.9L416.3 506.4M446.2 495.7L446.3 508.2M446.2 495.7L439.8 500.7M433.4 495.7L422.8 490M433.4 495.7L433.3 508.2M433.4 495.7L439.8 500.7M470.7 474L467.3 484.3M470.7 474L477.7 478.6M408.9 474L412.3 484.3M408.9 474L401.9 478.6M439.8 460L439.8 472.3M439.8 460L439.8 466M439.8 460L429.2 466.3M439.8 460L450.4 466.3M439.8 460L429.2 453.9M439.8 460L450.4 453.9M457 526.6L446.3 520.4M457 526.6L446.3 532.6M457 526.6L463.5 519M422.6 526.6L433.3 520.4M422.6 526.6L433.3 532.6M422.6 526.6L416.1 519" stroke="#74127a" stroke-width=".6" fill="none"/><path d="M398.5 468.3L401.9 478.6M481.1 468.3L477.7 478.6" stroke="#1fa822" stroke-width=".8" fill="none"/><circle cx="460.8" cy="473.1" r="2.6" fill="url(#gP)"/><circle cx="418.8" cy="473.1" r="2.6" fill="url(#gP)"/><circle cx="461" cy="460.5" r="2.6" fill="url(#gP)"/><circle cx="418.6" cy="460.5" r="2.6" fill="url(#gP)"/><circle cx="463.3" cy="506.4" r="2.6" fill="url(#gP)"/><circle cx="416.3" cy="506.4" r="2.6" fill="url(#gP)"/><circle cx="412.3" cy="484.3" r="2.6" fill="url(#gP)"/><circle cx="467.3" cy="484.3" r="2.6" fill="url(#gP)"/><circle cx="429.3" cy="478.8" r="2.6" fill="url(#gP)"/><circle cx="450.3" cy="478.8" r="2.6" fill="url(#gP)"/><circle cx="429.2" cy="466.3" r="2.6" fill="url(#gP)"/><circle cx="450.4" cy="466.3" r="2.6" fill="url(#gP)"/><circle cx="473.9" cy="512.2" r="3.4" fill="url(#gG)"/><circle cx="405.7" cy="512.2" r="3.4" fill="url(#gG)"/><circle cx="478.2" cy="490" r="2.6" fill="url(#gP)"/><circle cx="401.4" cy="490" r="2.6" fill="url(#gP)"/><circle cx="422.8" cy="490" r="2.6" fill="url(#gP)"/><circle cx="456.8" cy="490" r="2.6" fill="url(#gP)"/><circle cx="446.3" cy="532.6" r="3.4" fill="url(#gG)"/><circle cx="433.3" cy="532.6" r="3.4" fill="url(#gG)"/><circle cx="450.4" cy="453.9" r="2.6" fill="url(#gP)"/><circle cx="429.2" cy="453.9" r="2.6" fill="url(#gP)"/><circle cx="398.5" cy="468.3" r="3.4" fill="url(#gG)"/><circle cx="481.1" cy="468.3" r="3.4" fill="url(#gG)"/><circle cx="433.3" cy="520.4" r="2.6" fill="url(#gP)"/><circle cx="446.3" cy="520.4" r="2.6" fill="url(#gP)"/><circle cx="439.8" cy="484.8" r="2.6" fill="url(#gP)"/><circle cx="446.3" cy="508.2" r="2.6" fill="url(#gP)"/><circle cx="433.3" cy="508.2" r="2.6" fill="url(#gP)"/><circle cx="467.6" cy="495.9" r="2.6" fill="url(#gP)"/><circle cx="412" cy="495.9" r="2.6" fill="url(#gP)"/><circle cx="446.2" cy="495.7" r="2.6" fill="url(#gP)"/><circle cx="433.4" cy="495.7" r="2.6" fill="url(#gP)"/><circle cx="470.7" cy="474" r="2.6" fill="url(#gP)"/><circle cx="408.9" cy="474" r="2.6" fill="url(#gP)"/><circle cx="439.8" cy="460" r="2.6" fill="url(#gP)"/><circle cx="457" cy="526.6" r="2.6" fill="url(#gP)"/><circle cx="422.6" cy="526.6" r="2.6" fill="url(#gP)"/><path d="M471.2 461.5L470.7 474M471.2 461.5L461 460.5M408.4 461.5L408.9 474M408.4 461.5L418.6 460.5M439.8 447.9L439.8 460M439.8 447.9L450.4 453.9M457 514.2L446.3 508.2M457 514.2L446.3 520.4M457 514.2L463.3 506.4M457 514.2L457 526.6M422.6 514.2L433.3 508.2M422.6 514.2L433.3 520.4M422.6 514.2L416.3 506.4M422.6 514.2L422.6 526.6M401.4 501.7L412 495.9M401.4 501.7L405.7 512.2M401.4 501.7L401.4 490M478.2 501.7L467.6 495.9M478.2 501.7L473.9 512.2M478.2 501.7L478.2 490M456.8 501.6L446.2 495.7M456.8 501.6L456.8 490M456.8 501.6L446.3 508.2M456.8 501.6L467.6 495.9M456.8 501.6L457 514.2M422.8 501.6L433.4 495.7M422.8 501.6L422.8 490M422.8 501.6L433.3 508.2M422.8 501.6L412 495.9M422.8 501.6L422.6 514.2M481.7 479.5L470.7 474M481.7 479.5L478.2 490M397.9 479.5L408.9 474M397.9 479.5L401.4 490M419.2 479.7L429.3 478.8M419.2 479.7L422.8 490M419.2 479.7L412.3 484.3M460.4 479.7L450.3 478.8M460.4 479.7L456.8 490M460.4 479.7L467.3 484.3M418.8 467.2L419.2 479.7M418.8 467.2L418.8 473.1M418.8 467.2L429.2 466.3M418.8 467.2L408.4 461.5M460.8 467.2L460.4 479.7M460.8 467.2L460.8 473.1M460.8 467.2L450.4 466.3M460.8 467.2L471.2 461.5M467.6 519.9L457 514.2M467.6 519.9L457 526.6M412 519.9L422.6 514.2M412 519.9L405.7 512.2M412 519.9L422.6 526.6M418.7 454.7L418.8 467.2M460.9 454.7L460.8 467.2M467.3 507.4L456.8 501.6M467.3 507.4L467.6 495.9M467.3 507.4L457 514.2M467.3 507.4L478.2 501.7M467.3 507.4L467.6 519.9M412.3 507.4L422.8 501.6M412.3 507.4L412 495.9M412.3 507.4L422.6 514.2M412.3 507.4L401.4 501.7M412.3 507.4L412 519.9M471.3 485.2L460.4 479.7M471.3 485.2L470.7 474M471.3 485.2L467.6 495.9M471.3 485.2L481.7 479.5M471.3 485.2L478.2 490M408.3 485.2L419.2 479.7M408.3 485.2L408.9 474M408.3 485.2L412 495.9M408.3 485.2L397.9 479.5M408.3 485.2L401.4 490M450.1 485.3L460.4 479.7M439.8 527.3L446.3 520.4M439.8 527.3L433.3 520.4M439.8 527.3L446.3 532.6M439.8 527.3L433.3 532.6M429.3 472.9L429.5 485.3M429.3 472.9L419.2 479.7M429.3 472.9L429.3 478.8M429.3 472.9L439.8 472.3M450.3 472.9L450.1 485.3M450.3 472.9L460.4 479.7M450.3 472.9L450.3 478.8M439.8 515.2L446.3 508.2M439.8 515.2L433.3 508.2M439.8 515.2L446.3 520.4M439.8 515.2L433.3 520.4M429.3 460.6L429.3 472.9M429.3 460.6L418.8 467.2M429.3 460.6L439.8 460M429.3 460.6L429.2 466.3M450.3 460.6L450.3 472.9M450.3 460.6L460.8 467.2M450.3 460.6L439.8 460M450.3 460.6L450.4 466.3M439.8 503.1L439.8 515.2M439.8 503.1L446.3 508.2M439.8 503.1L433.3 508.2M477.7 513L467.3 507.4M477.7 513L478.2 501.7M401.9 513L412.3 507.4M401.9 513L401.4 501.7M401.9 513L412 519.9M450.3 448.4L450.3 460.6M429.3 448.4L429.3 460.6M481.9 491L471.3 485.2M481.9 491L478.2 501.7M460.9 491L450.1 485.3M460.9 491L456.8 501.6M418.7 491L429.5 485.3M418.7 491L419.2 479.7M418.7 491L422.8 501.6M397.7 491L408.3 485.2M397.7 491L401.4 501.7" stroke="#74127a" stroke-width=".6" fill="none"/><path d="M471.2 461.5L481.1 468.3M408.4 461.5L398.5 468.3M481.7 479.5L481.1 468.3M397.9 479.5L398.5 468.3M418.7 454.7L408.4 461.5M460.9 454.7L471.2 461.5M439.8 539.4L446.3 532.6M439.8 539.4L433.3 532.6M450.3 448.4L460.9 454.7M429.3 448.4L418.7 454.7M481.9 491L481.7 479.5M397.7 491L397.9 479.5" stroke="#1fa822" stroke-width=".8" fill="none"/><circle cx="471.2" cy="461.5" r="3.4" fill="url(#gG)"/><circle cx="408.4" cy="461.5" r="3.4" fill="url(#gG)"/><circle cx="439.8" cy="447.9" r="3.4" fill="url(#gG)"/><circle cx="457" cy="514.2" r="2.6" fill="url(#gP)"/><circle cx="422.6" cy="514.2" r="2.6" fill="url(#gP)"/><circle cx="401.4" cy="501.7" r="2.6" fill="url(#gP)"/><circle cx="478.2" cy="501.7" r="2.6" fill="url(#gP)"/><circle cx="456.8" cy="501.6" r="2.6" fill="url(#gP)"/><circle cx="422.8" cy="501.6" r="2.6" fill="url(#gP)"/><circle cx="481.7" cy="479.5" r="3.4" fill="url(#gG)"/><circle cx="397.9" cy="479.5" r="3.4" fill="url(#gG)"/><circle cx="419.2" cy="479.7" r="2.6" fill="url(#gP)"/><circle cx="460.4" cy="479.7" r="2.6" fill="url(#gP)"/><circle cx="418.8" cy="467.2" r="2.6" fill="url(#gP)"/><circle cx="460.8" cy="467.2" r="2.6" fill="url(#gP)"/><circle cx="467.6" cy="519.9" r="2.6" fill="url(#gP)"/><circle cx="412" cy="519.9" r="2.6" fill="url(#gP)"/><circle cx="418.7" cy="454.7" r="3.4" fill="url(#gG)"/><circle cx="460.9" cy="454.7" r="3.4" fill="url(#gG)"/><circle cx="439.8" cy="539.4" r="3.4" fill="url(#gG)"/><circle cx="467.3" cy="507.4" r="2.6" fill="url(#gP)"/><circle cx="412.3" cy="507.4" r="2.6" fill="url(#gP)"/><circle cx="471.3" cy="485.2" r="2.6" fill="url(#gP)"/><circle cx="408.3" cy="485.2" r="2.6" fill="url(#gP)"/><circle cx="429.5" cy="485.3" r="2.6" fill="url(#gP)"/><circle cx="450.1" cy="485.3" r="2.6" fill="url(#gP)"/><circle cx="429.3" cy="472.9" r="2.6" fill="url(#gP)"/><circle cx="450.3" cy="472.9" r="2.6" fill="url(#gP)"/><circle cx="429.3" cy="460.6" r="2.6" fill="url(#gP)"/><circle cx="450.3" cy="460.6" r="2.6" fill="url(#gP)"/><circle cx="439.8" cy="503.1" r="2.6" fill="url(#gP)"/><circle cx="477.7" cy="513" r="3.4" fill="url(#gG)"/><circle cx="401.9" cy="513" r="3.4" fill="url(#gG)"/><circle cx="450.3" cy="448.4" r="3.4" fill="url(#gG)"/><circle cx="429.3" cy="448.4" r="3.4" fill="url(#gG)"/><circle cx="481.9" cy="491" r="3.4" fill="url(#gG)"/><circle cx="460.9" cy="491" r="2.6" fill="url(#gP)"/><circle cx="439.8" cy="491" r="2.6" fill="url(#gP)"/><circle cx="418.7" cy="491" r="2.6" fill="url(#gP)"/><circle cx="397.7" cy="491" r="3.4" fill="url(#gG)"/><path d="M450.3 533.6L439.8 527.3M450.3 533.6L457 526.6M429.3 533.6L439.8 527.3M429.3 533.6L422.6 526.6M439.8 478.9L429.3 472.9M439.8 478.9L450.3 472.9M439.8 478.9L439.8 472.3M429.3 521.4L439.8 515.2M429.3 521.4L439.8 527.3M429.3 521.4L422.6 514.2M429.3 521.4L429.3 533.6M429.3 521.4L422.6 526.6M450.3 521.4L439.8 515.2M450.3 521.4L439.8 527.3M450.3 521.4L457 514.2M450.3 521.4L450.3 533.6M450.3 521.4L457 526.6M439.8 466.8L439.8 478.9M439.8 466.8L429.3 472.9M439.8 466.8L450.3 472.9M439.8 466.8L429.3 460.6M439.8 466.8L450.3 460.6M439.8 466.8L439.8 460M429.3 509.1L439.8 515.2M429.3 509.1L422.8 501.6M429.3 509.1L422.6 514.2M450.3 509.1L439.8 503.1M450.3 509.1L439.8 515.2M450.3 509.1L456.8 501.6M450.3 509.1L457 514.2M439.8 454.7L439.8 466.8M439.8 454.7L429.3 460.6M439.8 454.7L450.3 460.6M439.8 454.7L429.3 448.4M439.8 454.7L450.3 448.4M439.8 454.7L439.8 447.9M450.1 496.7L450.3 509.1M450.1 496.7L456.8 501.6M429.5 496.7L429.3 509.1M429.5 496.7L422.8 501.6M471.3 496.8L460.9 491M471.3 496.8L471.3 485.2M471.3 496.8L467.3 507.4M471.3 496.8L478.2 501.7M408.3 496.8L418.7 491M408.3 496.8L408.3 485.2M408.3 496.8L412.3 507.4M408.3 496.8L401.4 501.7M467.3 474.6L471.3 485.2M467.3 474.6L460.8 467.2M412.3 474.6L408.3 485.2M412.3 474.6L418.8 467.2M439.8 442.6L439.8 454.7M418.7 527.3L429.3 521.4M418.7 527.3L412 519.9M460.9 527.3L450.3 521.4M460.9 527.3L467.6 519.9M467.6 462.1L467.3 474.6M467.6 462.1L477.7 469M467.6 462.1L460.9 454.7M412 462.1L412.3 474.6M412 462.1L401.9 469M412 462.1L418.7 454.7M418.8 514.8L429.3 509.1M418.8 514.8L429.3 521.4M418.8 514.8L412.3 507.4M418.8 514.8L412 519.9M460.8 514.8L450.3 509.1M460.8 514.8L450.3 521.4M460.8 514.8L467.3 507.4M460.8 514.8L467.6 519.9M460.4 502.3L450.1 496.7M460.4 502.3L460.9 491M460.4 502.3L450.3 509.1M460.4 502.3L471.3 496.8M460.4 502.3L460.8 514.8M460.4 502.3L467.3 507.4M419.2 502.3L429.5 496.7M419.2 502.3L418.7 491M419.2 502.3L429.3 509.1M419.2 502.3L408.3 496.8M419.2 502.3L418.8 514.8M419.2 502.3L412.3 507.4M481.7 502.5L471.3 496.8M397.9 502.5L408.3 496.8M456.8 480.4L460.9 491M456.8 480.4L450.3 472.9M456.8 480.4L467.3 474.6M422.8 480.4L418.7 491M422.8 480.4L429.3 472.9M401.4 480.3L412.3 474.6M401.4 480.3L401.9 469M401.4 480.3L397.7 491M478.2 480.3L467.3 474.6M478.2 480.3L477.7 469M478.2 480.3L481.9 491M422.6 467.8L422.8 480.4M422.6 467.8L412.3 474.6M422.6 467.8L429.3 460.6M457 467.8L456.8 480.4M457 467.8L467.3 474.6M457 467.8L450.3 460.6M471.2 520.5L460.8 514.8M408.4 520.5L418.8 514.8" stroke="#74127a" stroke-width=".6" fill="none"/><path d="M450.3 533.6L439.8 539.4M429.3 533.6L439.8 539.4M477.7 469L481.7 479.5M477.7 469L471.2 461.5M401.9 469L397.9 479.5M401.9 469L408.4 461.5M439.8 442.6L429.3 448.4M439.8 442.6L450.3 448.4M418.7 527.3L429.3 533.6M460.9 527.3L450.3 533.6M481.7 502.5L481.9 491M481.7 502.5L477.7 513M397.9 502.5L397.7 491M397.9 502.5L401.9 513M439.8 534.1L450.3 533.6M439.8 534.1L429.3 533.6M471.2 520.5L460.9 527.3M471.2 520.5L477.7 513M408.4 520.5L418.7 527.3M408.4 520.5L401.9 513" stroke="#1fa822" stroke-width=".8" fill="none"/><circle cx="450.3" cy="533.6" r="3.4" fill="url(#gG)"/><circle cx="429.3" cy="533.6" r="3.4" fill="url(#gG)"/><circle cx="477.7" cy="469" r="3.4" fill="url(#gG)"/><circle cx="401.9" cy="469" r="3.4" fill="url(#gG)"/><circle cx="439.8" cy="478.9" r="2.6" fill="url(#gP)"/><circle cx="429.3" cy="521.4" r="2.6" fill="url(#gP)"/><circle cx="450.3" cy="521.4" r="2.6" fill="url(#gP)"/><circle cx="439.8" cy="466.8" r="2.6" fill="url(#gP)"/><circle cx="429.3" cy="509.1" r="2.6" fill="url(#gP)"/><circle cx="450.3" cy="509.1" r="2.6" fill="url(#gP)"/><circle cx="439.8" cy="454.7" r="2.6" fill="url(#gP)"/><circle cx="450.1" cy="496.7" r="2.6" fill="url(#gP)"/><circle cx="429.5" cy="496.7" r="2.6" fill="url(#gP)"/><circle cx="471.3" cy="496.8" r="2.6" fill="url(#gP)"/><circle cx="408.3" cy="496.8" r="2.6" fill="url(#gP)"/><circle cx="467.3" cy="474.6" r="2.6" fill="url(#gP)"/><circle cx="412.3" cy="474.6" r="2.6" fill="url(#gP)"/><circle cx="439.8" cy="442.6" r="3.4" fill="url(#gG)"/><circle cx="418.7" cy="527.3" r="3.4" fill="url(#gG)"/><circle cx="460.9" cy="527.3" r="3.4" fill="url(#gG)"/><circle cx="467.6" cy="462.1" r="2.6" fill="url(#gP)"/><circle cx="412" cy="462.1" r="2.6" fill="url(#gP)"/><circle cx="460.4" cy="502.3" r="2.6" fill="url(#gP)"/><circle cx="419.2" cy="502.3" r="2.6" fill="url(#gP)"/><circle cx="481.7" cy="502.5" r="3.4" fill="url(#gG)"/><circle cx="397.9" cy="502.5" r="3.4" fill="url(#gG)"/><circle cx="456.8" cy="480.4" r="2.6" fill="url(#gP)"/><circle cx="422.8" cy="480.4" r="2.6" fill="url(#gP)"/><circle cx="401.4" cy="480.3" r="2.6" fill="url(#gP)"/><circle cx="478.2" cy="480.3" r="2.6" fill="url(#gP)"/><circle cx="422.6" cy="467.8" r="2.6" fill="url(#gP)"/><circle cx="457" cy="467.8" r="2.6" fill="url(#gP)"/><circle cx="439.8" cy="534.1" r="3.4" fill="url(#gG)"/><circle cx="471.2" cy="520.5" r="3.4" fill="url(#gG)"/><circle cx="408.4" cy="520.5" r="3.4" fill="url(#gG)"/><path d="M422.6 455.4L422.6 467.8M422.6 455.4L429.3 448.4M422.6 455.4L412 462.1M457 455.4L457 467.8M457 455.4L450.3 448.4M457 455.4L467.6 462.1M439.8 522L450.3 521.4M439.8 522L429.3 521.4M470.7 508L460.4 502.3M470.7 508L471.3 496.8M470.7 508L460.8 514.8M470.7 508L481.7 502.5M470.7 508L477.7 513M408.9 508L419.2 502.3M408.9 508L408.3 496.8M408.9 508L418.8 514.8M408.9 508L397.9 502.5M408.9 508L401.9 513M446.2 486.3L456.8 480.4M433.4 486.3L422.8 480.4M412 486.1L422.8 480.4M412 486.1L412.3 474.6M412 486.1L408.3 496.8M467.6 486.1L456.8 480.4M467.6 486.1L467.3 474.6M467.6 486.1L471.3 496.8M439.8 509.7L439.8 503.1M439.8 509.7L439.8 515.2M439.8 509.7L450.3 509.1M439.8 509.7L429.3 509.1M446.3 473.8L446.2 486.3M446.3 473.8L439.8 478.9M446.3 473.8L439.8 466.8M446.3 473.8L456.8 480.4M433.3 473.8L433.4 486.3M433.3 473.8L439.8 478.9M433.3 473.8L439.8 466.8M433.3 473.8L422.8 480.4M433.3 473.8L446.3 473.8M446.3 461.6L439.8 466.8M446.3 461.6L446.3 473.8M446.3 461.6L439.8 454.7M446.3 461.6L457 467.8M446.3 461.6L457 455.4M433.3 461.6L439.8 466.8M433.3 461.6L433.3 473.8M433.3 461.6L439.8 454.7M433.3 461.6L422.6 467.8M433.3 461.6L422.6 455.4M481.1 513.7L470.7 508M398.5 513.7L408.9 508M450.4 528.1L439.8 522M450.4 528.1L450.3 521.4M450.4 528.1L439.8 534.1M450.4 528.1L460.9 527.3M429.2 528.1L439.8 522M429.2 528.1L429.3 521.4M429.2 528.1L439.8 534.1M429.2 528.1L418.7 527.3M446.3 449.4L439.8 454.7M446.3 449.4L446.3 461.6M446.3 449.4L457 455.4M433.3 449.4L439.8 454.7M433.3 449.4L433.3 461.6M433.3 449.4L422.6 455.4M422.8 492L433.4 486.3M422.8 492L419.2 502.3M422.8 492L422.8 480.4M422.8 492L412 486.1M456.8 492L446.2 486.3M456.8 492L460.4 502.3M456.8 492L456.8 480.4M456.8 492L467.6 486.1M478.2 492L467.6 486.1M478.2 492L481.7 502.5M478.2 492L478.2 480.3M401.4 492L412 486.1M401.4 492L397.9 502.5M401.4 492L401.4 480.3M473.9 469.8L478.2 480.3M473.9 469.8L467.6 462.1M405.7 469.8L401.4 480.3M405.7 469.8L412 462.1M450.4 515.7L439.8 509.7M450.4 515.7L439.8 522M450.4 515.7L460.8 514.8M450.4 515.7L450.4 528.1M429.2 515.7L439.8 509.7M429.2 515.7L439.8 522M429.2 515.7L418.8 514.8M429.2 515.7L429.2 528.1M429.3 503.2L439.8 497.2M429.3 503.2L429.5 496.7M429.3 503.2L419.2 502.3M429.3 503.2L439.8 509.7M429.3 503.2L422.8 492M429.3 503.2L429.3 509.1M429.3 503.2L429.2 515.7M450.3 503.2L439.8 497.2M450.3 503.2L450.1 496.7M450.3 503.2L460.4 502.3M450.3 503.2L439.8 509.7M450.3 503.2L456.8 492M450.3 503.2L450.3 509.1M450.3 503.2L450.4 515.7M467.3 497.7L460.4 502.3M467.3 497.7L456.8 492M467.3 497.7L470.7 508M467.3 497.7L467.6 486.1M467.3 497.7L478.2 492M412.3 497.7L419.2 502.3M412.3 497.7L422.8 492M412.3 497.7L408.9 508M412.3 497.7L412 486.1M412.3 497.7L401.4 492M463.3 475.6L467.6 486.1M463.3 475.6L457 467.8M416.3 475.6L412 486.1M416.3 475.6L422.6 467.8M461 521.5L460.8 514.8M461 521.5L450.4 515.7M461 521.5L471.2 520.5M461 521.5L450.4 528.1M418.6 521.5L418.8 514.8M418.6 521.5L429.2 515.7M418.6 521.5L408.4 520.5M418.6 521.5L429.2 528.1M460.8 508.9L460.4 502.3M460.8 508.9L450.3 503.2M460.8 508.9L470.7 508M460.8 508.9L467.3 497.7M460.8 508.9L460.8 514.8M460.8 508.9L450.4 515.7M418.8 508.9L419.2 502.3M418.8 508.9L429.3 503.2M418.8 508.9L408.9 508M418.8 508.9L412.3 497.7M418.8 508.9L418.8 514.8M418.8 508.9L429.2 515.7" stroke="#74127a" stroke-width=".6" fill="none"/><path d="M481.1 513.7L481.7 502.5M481.1 513.7L471.2 520.5M398.5 513.7L397.9 502.5M398.5 513.7L408.4 520.5M446.3 449.4L439.8 442.6M433.3 449.4L439.8 442.6M433.3 449.4L446.3 449.4" stroke="#1fa822" stroke-width=".8" fill="none"/><circle cx="422.6" cy="455.4" r="2.6" fill="url(#gP)"/><circle cx="457" cy="455.4" r="2.6" fill="url(#gP)"/><circle cx="470.7" cy="508" r="2.6" fill="url(#gP)"/><circle cx="408.9" cy="508" r="2.6" fill="url(#gP)"/><circle cx="446.2" cy="486.3" r="2.6" fill="url(#gP)"/><circle cx="433.4" cy="486.3" r="2.6" fill="url(#gP)"/><circle cx="412" cy="486.1" r="2.6" fill="url(#gP)"/><circle cx="467.6" cy="486.1" r="2.6" fill="url(#gP)"/><circle cx="446.3" cy="473.8" r="2.6" fill="url(#gP)"/><circle cx="433.3" cy="473.8" r="2.6" fill="url(#gP)"/><circle cx="439.8" cy="497.2" r="2.6" fill="url(#gP)"/><circle cx="446.3" cy="461.6" r="2.6" fill="url(#gP)"/><circle cx="433.3" cy="461.6" r="2.6" fill="url(#gP)"/><circle cx="481.1" cy="513.7" r="3.4" fill="url(#gG)"/><circle cx="398.5" cy="513.7" r="3.4" fill="url(#gG)"/><circle cx="450.4" cy="528.1" r="2.6" fill="url(#gP)"/><circle cx="429.2" cy="528.1" r="2.6" fill="url(#gP)"/><circle cx="446.3" cy="449.4" r="3.4" fill="url(#gG)"/><circle cx="433.3" cy="449.4" r="3.4" fill="url(#gG)"/><circle cx="422.8" cy="492" r="2.6" fill="url(#gP)"/><circle cx="456.8" cy="492" r="2.6" fill="url(#gP)"/><circle cx="478.2" cy="492" r="2.6" fill="url(#gP)"/><circle cx="401.4" cy="492" r="2.6" fill="url(#gP)"/><circle cx="473.9" cy="469.8" r="3.4" fill="url(#gG)"/><circle cx="405.7" cy="469.8" r="3.4" fill="url(#gG)"/><circle cx="429.3" cy="503.2" r="2.6" fill="url(#gP)"/><circle cx="450.3" cy="503.2" r="2.6" fill="url(#gP)"/><circle cx="467.3" cy="497.7" r="2.6" fill="url(#gP)"/><circle cx="412.3" cy="497.7" r="2.6" fill="url(#gP)"/><circle cx="463.3" cy="475.6" r="2.6" fill="url(#gP)"/><circle cx="416.3" cy="475.6" r="2.6" fill="url(#gP)"/><circle cx="461" cy="521.5" r="2.6" fill="url(#gP)"/><circle cx="418.6" cy="521.5" r="2.6" fill="url(#gP)"/><circle cx="460.8" cy="508.9" r="2.6" fill="url(#gP)"/><circle cx="418.8" cy="508.9" r="2.6" fill="url(#gP)"/><path d="M463.5 463L463.3 475.6M463.5 463L473.9 469.8M463.5 463L457 455.4M416.1 463L416.3 475.6M416.1 463L405.7 469.8M416.1 463L422.6 455.4M401.9 503.4L408.9 508M401.9 503.4L412.3 497.7M401.9 503.4L401.4 492M477.7 503.4L470.7 508M477.7 503.4L467.3 497.7M477.7 503.4L478.2 492M452.5 481.5L446.2 486.3M452.5 481.5L456.8 492M452.5 481.5L446.3 473.8M452.5 481.5L463.3 475.6M427.1 481.5L433.4 486.3M427.1 481.5L422.8 492M427.1 481.5L433.3 473.8M427.1 481.5L416.3 475.6M439.8 481.3L433.4 486.3M439.8 481.3L446.2 486.3M439.8 481.3L427.1 481.5M439.8 481.3L452.5 481.5M439.8 481.3L433.3 473.8M439.8 481.3L446.3 473.8M474.1 481.3L463.3 475.6M474.1 481.3L473.9 469.8M474.1 481.3L478.2 492M405.5 481.3L416.3 475.6M405.5 481.3L405.7 469.8M405.5 481.3L401.4 492M439.8 528.4L450.4 528.1M439.8 528.4L429.2 528.1M408.4 514.6L408.9 508M408.4 514.6L418.8 508.9M408.4 514.6L418.6 521.5M471.2 514.6L470.7 508M471.2 514.6L460.8 508.9M471.2 514.6L461 521.5M426.8 469.1L427.1 481.5M426.8 469.1L433.3 473.8M426.8 469.1L416.3 475.6M426.8 469.1L433.3 461.6M426.8 469.1L416.1 463M452.8 469.1L452.5 481.5M452.8 469.1L446.3 473.8M452.8 469.1L463.3 475.6M452.8 469.1L446.3 461.6M452.8 469.1L463.5 463M439.8 468.8L439.8 481.3M439.8 468.8L433.3 473.8M439.8 468.8L446.3 473.8M439.8 468.8L426.8 469.1M439.8 468.8L433.3 461.6M439.8 468.8L452.8 469.1M439.8 468.8L446.3 461.6M446.3 492.5L439.8 497.2M446.3 492.5L446.2 486.3M446.3 492.5L452.5 481.5M446.3 492.5L450.3 503.2M446.3 492.5L439.8 481.3M446.3 492.5L456.8 492M433.3 492.5L439.8 497.2M433.3 492.5L433.4 486.3M433.3 492.5L427.1 481.5M433.3 492.5L446.3 492.5M433.3 492.5L429.3 503.2M433.3 492.5L439.8 481.3M433.3 492.5L422.8 492M439.8 516L450.4 515.7M439.8 516L429.2 515.7M452.8 456.7L452.8 469.1M452.8 456.7L446.3 461.6M452.8 456.7L463.5 463M426.8 456.7L426.8 469.1M426.8 456.7L433.3 461.6M426.8 456.7L416.1 463M439.8 456.4L433.3 461.6M439.8 456.4L446.3 461.6M439.8 456.4L439.8 468.8M439.8 456.4L426.8 456.7M439.8 456.4L433.3 449.4M439.8 456.4L452.8 456.7M439.8 456.4L446.3 449.4M439.8 503.5L439.8 497.2M439.8 503.5L433.3 492.5M439.8 503.5L446.3 492.5M439.8 503.5L439.8 509.7M439.8 503.5L450.3 503.2M439.8 503.5L429.3 503.2M463.3 487.1L456.8 492M463.3 487.1L463.3 475.6M463.3 487.1L467.3 497.7M463.3 487.1L474.1 481.3M416.3 487.1L427.1 481.5M416.3 487.1L422.8 492M416.3 487.1L416.3 475.6M416.3 487.1L412.3 497.7M416.3 487.1L405.5 481.3M422.6 498.4L433.3 492.5M422.6 498.4L429.3 503.2M422.6 498.4L422.8 492M422.6 498.4L418.8 508.9M422.6 498.4L416.3 487.1M422.6 498.4L412.3 497.7M457 498.4L450.3 503.2M457 498.4L456.8 492M457 498.4L460.8 508.9M457 498.4L463.3 487.1M457 498.4L467.3 497.7M450.4 522.1L439.8 516M450.4 522.1L439.8 528.4M450.4 522.1L461 521.5M450.4 522.1L450.4 528.1M429.2 522.1L439.8 516M429.2 522.1L439.8 528.4M429.2 522.1L418.6 521.5M429.2 522.1L429.2 528.1M429.3 509.5L429.3 503.2M429.3 509.5L439.8 516M429.3 509.5L418.8 508.9M429.3 509.5L422.6 498.4M450.3 509.5L439.8 503.5M450.3 509.5L450.3 503.2M450.3 509.5L439.8 516M450.3 509.5L460.8 508.9M450.3 509.5L457 498.4M405.7 492.9L416.3 487.1M405.7 492.9L412.3 497.7M405.7 492.9L405.5 481.3M473.9 492.9L463.3 487.1M473.9 492.9L467.3 497.7M473.9 492.9L474.1 481.3M409.9 470.8L405.5 481.3M409.9 470.8L416.1 463M469.7 470.8L474.1 481.3M469.7 470.8L463.5 463" stroke="#74127a" stroke-width=".6" fill="none"/><path d="M401.9 503.4L398.5 513.7M477.7 503.4L481.1 513.7M408.4 514.6L398.5 513.7M408.4 514.6L401.9 503.4M471.2 514.6L481.1 513.7M471.2 514.6L477.7 503.4M452.8 456.7L446.3 449.4M426.8 456.7L433.3 449.4M405.7 492.9L401.9 503.4M473.9 492.9L477.7 503.4" stroke="#1fa822" stroke-width=".8" fill="none"/><circle cx="463.5" cy="463" r="2.6" fill="url(#gP)"/><circle cx="416.1" cy="463" r="2.6" fill="url(#gP)"/><circle cx="401.9" cy="503.4" r="3.4" fill="url(#gG)"/><circle cx="477.7" cy="503.4" r="3.4" fill="url(#gG)"/><circle cx="452.5" cy="481.5" r="2.6" fill="url(#gP)"/><circle cx="427.1" cy="481.5" r="2.6" fill="url(#gP)"/><circle cx="439.8" cy="481.3" r="2.6" fill="url(#gP)"/><circle cx="474.1" cy="481.3" r="2.6" fill="url(#gP)"/><circle cx="405.5" cy="481.3" r="2.6" fill="url(#gP)"/><circle cx="439.8" cy="528.4" r="3.4" fill="url(#gG)"/><circle cx="408.4" cy="514.6" r="3.4" fill="url(#gG)"/><circle cx="471.2" cy="514.6" r="3.4" fill="url(#gG)"/><circle cx="426.8" cy="469.1" r="2.6" fill="url(#gP)"/><circle cx="452.8" cy="469.1" r="2.6" fill="url(#gP)"/><circle cx="439.8" cy="468.8" r="2.6" fill="url(#gP)"/><circle cx="446.3" cy="492.5" r="2.6" fill="url(#gP)"/><circle cx="433.3" cy="492.5" r="2.6" fill="url(#gP)"/><circle cx="452.8" cy="456.7" r="3.4" fill="url(#gG)"/><circle cx="426.8" cy="456.7" r="3.4" fill="url(#gG)"/><circle cx="439.8" cy="456.4" r="2.6" fill="url(#gP)"/><circle cx="439.8" cy="503.5" r="2.6" fill="url(#gP)"/><circle cx="463.3" cy="487.1" r="2.6" fill="url(#gP)"/><circle cx="416.3" cy="487.1" r="2.6" fill="url(#gP)"/><circle cx="422.6" cy="498.4" r="2.6" fill="url(#gP)"/><circle cx="457" cy="498.4" r="2.6" fill="url(#gP)"/><circle cx="450.4" cy="522.1" r="2.6" fill="url(#gP)"/><circle cx="429.2" cy="522.1" r="2.6" fill="url(#gP)"/><circle cx="429.3" cy="509.5" r="2.6" fill="url(#gP)"/><circle cx="450.3" cy="509.5" r="2.6" fill="url(#gP)"/><circle cx="405.7" cy="492.9" r="3.4" fill="url(#gG)"/><circle cx="473.9" cy="492.9" r="3.4" fill="url(#gG)"/><circle cx="409.9" cy="470.8" r="3.4" fill="url(#gG)"/><circle cx="469.7" cy="470.8" r="3.4" fill="url(#gG)"/><path d="M412 504.2L418.8 508.9M412 504.2L412.3 497.7M412 504.2L422.6 498.4M412 504.2L408.4 514.6M412 504.2L405.7 492.9M412 504.2L401.9 503.4M467.6 504.2L460.8 508.9M467.6 504.2L467.3 497.7M467.6 504.2L457 498.4M467.6 504.2L471.2 514.6M467.6 504.2L473.9 492.9M467.6 504.2L477.7 503.4M460.9 515.3L450.3 509.5M460.9 515.3L467.6 504.2M460.9 515.3L450.4 522.1M418.7 515.3L429.3 509.5M418.7 515.3L412 504.2M418.7 515.3L429.2 522.1M420.7 476.8L427.1 481.5M420.7 476.8L426.8 469.1M420.7 476.8L409.9 470.8M458.9 476.8L452.5 481.5M458.9 476.8L452.8 469.1M458.9 476.8L469.7 470.8M446.3 476.5L452.5 481.5M446.3 476.5L439.8 481.3M446.3 476.5L458.9 476.8M446.3 476.5L452.8 469.1M446.3 476.5L439.8 468.8M433.3 476.5L427.1 481.5M433.3 476.5L439.8 481.3M433.3 476.5L420.7 476.8M433.3 476.5L426.8 469.1M433.3 476.5L439.8 468.8M420.4 464.3L420.7 476.8M420.4 464.3L426.8 469.1M459.2 464.3L458.9 476.8M459.2 464.3L452.8 469.1M433.2 464L433.3 476.5M433.2 464L426.8 469.1M433.2 464L439.8 468.8M433.2 464L420.4 464.3M433.2 464L426.8 456.7M433.2 464L439.8 456.4M446.4 464L446.3 476.5M446.4 464L452.8 469.1M446.4 464L439.8 468.8M446.4 464L459.2 464.3M446.4 464L452.8 456.7M446.4 464L439.8 456.4M452.8 487.7L452.5 481.5M452.8 487.7L446.3 492.5M452.8 487.7L458.9 476.8M452.8 487.7L446.3 476.5M452.8 487.7L463.3 487.1M452.8 487.7L457 498.4M426.8 487.7L427.1 481.5M426.8 487.7L433.3 492.5M426.8 487.7L420.7 476.8M426.8 487.7L433.3 476.5M426.8 487.7L416.3 487.1M426.8 487.7L422.6 498.4M439.8 487.7L433.3 492.5M439.8 487.7L446.3 492.5M439.8 487.7L439.8 481.3M439.8 487.7L426.8 487.7M439.8 487.7L452.8 487.7M439.8 487.7L433.3 476.5M439.8 487.7L446.3 476.5M446.3 498.9L439.8 503.5M446.3 498.9L446.3 492.5M446.3 498.9L452.8 487.7M446.3 498.9L439.8 487.7M446.3 498.9L457 498.4M433.3 498.9L439.8 503.5M433.3 498.9L433.3 492.5M433.3 498.9L426.8 487.7M433.3 498.9L446.3 498.9M433.3 498.9L439.8 487.7M433.3 498.9L422.6 498.4M439.8 522.3L450.4 522.1M439.8 522.3L429.2 522.1M469.7 482.3L458.9 476.8M469.7 482.3L463.3 487.1M409.9 482.3L420.7 476.8M409.9 482.3L416.3 487.1M439.8 509.7L439.8 503.5M439.8 509.7L433.3 498.9M439.8 509.7L446.3 498.9M439.8 509.7L450.3 509.5M439.8 509.7L429.3 509.5M463.5 493.5L452.8 487.7M463.5 493.5L463.3 487.1M463.5 493.5L457 498.4M463.5 493.5L469.7 482.3M463.5 493.5L473.9 492.9M463.5 493.5L467.6 504.2M416.1 493.5L426.8 487.7M416.1 493.5L416.3 487.1M416.1 493.5L422.6 498.4M416.1 493.5L409.9 482.3M416.1 493.5L405.7 492.9M416.1 493.5L412 504.2" stroke="#74127a" stroke-width=".6" fill="none"/><path d="M460.9 515.3L471.2 514.6M418.7 515.3L408.4 514.6M420.4 464.3L409.9 470.8M420.4 464.3L426.8 456.7M459.2 464.3L469.7 470.8M459.2 464.3L452.8 456.7M469.7 482.3L469.7 470.8M469.7 482.3L473.9 492.9M409.9 482.3L409.9 470.8M409.9 482.3L405.7 492.9" stroke="#1fa822" stroke-width=".8" fill="none"/><circle cx="412" cy="504.2" r="2.6" fill="url(#gP)"/><circle cx="467.6" cy="504.2" r="2.6" fill="url(#gP)"/><circle cx="460.9" cy="515.3" r="3.4" fill="url(#gG)"/><circle cx="418.7" cy="515.3" r="3.4" fill="url(#gG)"/><circle cx="420.7" cy="476.8" r="2.6" fill="url(#gP)"/><circle cx="458.9" cy="476.8" r="2.6" fill="url(#gP)"/><circle cx="446.3" cy="476.5" r="2.6" fill="url(#gP)"/><circle cx="433.3" cy="476.5" r="2.6" fill="url(#gP)"/><circle cx="420.4" cy="464.3" r="3.4" fill="url(#gG)"/><circle cx="459.2" cy="464.3" r="3.4" fill="url(#gG)"/><circle cx="433.2" cy="464" r="2.6" fill="url(#gP)"/><circle cx="446.4" cy="464" r="2.6" fill="url(#gP)"/><circle cx="452.8" cy="487.7" r="2.6" fill="url(#gP)"/><circle cx="426.8" cy="487.7" r="2.6" fill="url(#gP)"/><circle cx="439.8" cy="487.7" r="2.6" fill="url(#gP)"/><circle cx="446.3" cy="498.9" r="2.6" fill="url(#gP)"/><circle cx="433.3" cy="498.9" r="2.6" fill="url(#gP)"/><circle cx="439.8" cy="522.3" r="3.4" fill="url(#gG)"/><circle cx="469.7" cy="482.3" r="3.4" fill="url(#gG)"/><circle cx="409.9" cy="482.3" r="3.4" fill="url(#gG)"/><circle cx="439.8" cy="509.7" r="2.6" fill="url(#gP)"/><circle cx="463.5" cy="493.5" r="2.6" fill="url(#gP)"/><circle cx="416.1" cy="493.5" r="2.6" fill="url(#gP)"/><path d="M422.6 504.8L433.3 498.9M422.6 504.8L429.3 509.5M422.6 504.8L422.6 498.4M422.6 504.8L418.7 515.3M422.6 504.8L412 504.2M422.6 504.8L416.1 493.5M457 504.8L446.3 498.9M457 504.8L450.3 509.5M457 504.8L457 498.4M457 504.8L460.9 515.3M457 504.8L467.6 504.2M457 504.8L463.5 493.5M429.3 515.7L439.8 509.7M429.3 515.7L422.6 504.8M450.3 515.7L439.8 509.7M450.3 515.7L457 504.8M465.3 472.1L458.9 476.8M414.3 472.1L420.7 476.8M426.9 471.8L420.7 476.8M426.9 471.8L433.3 476.5M426.9 471.8L433.2 464M452.7 471.8L458.9 476.8M452.7 471.8L446.3 476.5M452.7 471.8L446.4 464M439.8 471.7L433.3 476.5M439.8 471.7L446.3 476.5M439.8 471.7L446.4 464M439.8 471.7L433.2 464M459.2 482.9L452.8 487.7M459.2 482.9L463.5 493.5M420.4 482.9L426.8 487.7M420.4 482.9L416.1 493.5M446.4 482.8L452.8 487.7M446.4 482.8L446.3 476.5M446.4 482.8L439.8 487.7M446.4 482.8L459.2 482.9M446.4 482.8L439.8 471.7M446.4 482.8L452.7 471.8M433.2 482.8L426.8 487.7M433.2 482.8L433.3 476.5M433.2 482.8L439.8 487.7M433.2 482.8L420.4 482.9M433.2 482.8L426.9 471.8M433.2 482.8L439.8 471.7M433.2 482.8L446.4 482.8M452.8 494.1L446.3 498.9M452.8 494.1L446.4 482.8M452.8 494.1L463.5 493.5M452.8 494.1L457 504.8M426.8 494.1L433.3 498.9M426.8 494.1L433.2 482.8M426.8 494.1L416.1 493.5M426.8 494.1L422.6 504.8M439.8 494.1L433.3 498.9M439.8 494.1L446.3 498.9M439.8 494.1L439.8 487.7M439.8 494.1L426.8 494.1M439.8 494.1L452.8 494.1M439.8 494.1L446.4 482.8M439.8 494.1L433.2 482.8M433.3 505.2L439.8 509.7M433.3 505.2L439.8 494.1M433.3 505.2L422.6 504.8M446.3 505.2L439.8 509.7M446.3 505.2L439.8 494.1M446.3 505.2L457 504.8" stroke="#74127a" stroke-width=".6" fill="none"/><path d="M429.3 515.7L439.8 522.3M429.3 515.7L418.7 515.3M450.3 515.7L439.8 522.3M450.3 515.7L460.9 515.3M465.3 472.1L469.7 482.3M465.3 472.1L459.2 464.3M414.3 472.1L409.9 482.3M414.3 472.1L420.4 464.3M426.9 471.8L414.3 472.1M426.9 471.8L420.4 464.3M452.7 471.8L465.3 472.1M452.7 471.8L459.2 464.3M439.8 471.7L426.9 471.8M439.8 471.7L452.7 471.8M459.2 482.9L465.3 472.1M459.2 482.9L452.7 471.8M459.2 482.9L469.7 482.3M420.4 482.9L414.3 472.1M420.4 482.9L426.9 471.8M420.4 482.9L409.9 482.3M452.8 494.1L459.2 482.9M426.8 494.1L420.4 482.9M433.3 505.2L426.8 494.1M433.3 505.2L429.3 515.7M446.3 505.2L433.3 505.2M446.3 505.2L452.8 494.1M446.3 505.2L450.3 515.7M439.8 516L433.3 505.2M439.8 516L446.3 505.2M439.8 516L450.3 515.7M439.8 516L429.3 515.7" stroke="#1fa822" stroke-width=".8" fill="none"/><circle cx="422.6" cy="504.8" r="2.6" fill="url(#gP)"/><circle cx="457" cy="504.8" r="2.6" fill="url(#gP)"/><circle cx="429.3" cy="515.7" r="3.4" fill="url(#gG)"/><circle cx="450.3" cy="515.7" r="3.4" fill="url(#gG)"/><circle cx="465.3" cy="472.1" r="3.4" fill="url(#gG)"/><circle cx="414.3" cy="472.1" r="3.4" fill="url(#gG)"/><circle cx="426.9" cy="471.8" r="3.4" fill="url(#gG)"/><circle cx="452.7" cy="471.8" r="3.4" fill="url(#gG)"/><circle cx="439.8" cy="471.7" r="3.4" fill="url(#gG)"/><circle cx="459.2" cy="482.9" r="3.4" fill="url(#gG)"/><circle cx="420.4" cy="482.9" r="3.4" fill="url(#gG)"/><circle cx="446.4" cy="482.8" r="2.6" fill="url(#gP)"/><circle cx="433.2" cy="482.8" r="2.6" fill="url(#gP)"/><circle cx="452.8" cy="494.1" r="3.4" fill="url(#gG)"/><circle cx="426.8" cy="494.1" r="3.4" fill="url(#gG)"/><circle cx="439.8" cy="494.1" r="2.6" fill="url(#gP)"/><circle cx="433.3" cy="505.2" r="3.4" fill="url(#gG)"/><circle cx="446.3" cy="505.2" r="3.4" fill="url(#gG)"/><circle cx="439.8" cy="516" r="3.4" fill="url(#gG)"/></g>
<g font-family="Liberation Sans, Arial, Helvetica, sans-serif" font-weight="bold" fill="#000" stroke="#000" stroke-width=".25">
<text x="82" y="622" font-size="16.0">Ih-Fe<tspan font-size="10.2" dy="7.9">162</tspan><tspan dy="-7.9">Ni</tspan><tspan font-size="10.2" dy="7.9">147</tspan></text>
<path d="M83.1 642.4H123.7" stroke="#000" stroke-width="2.3"/>
<rect x="99.2" y="638.3" width="8.2" height="8.2" stroke="none"/>
<path d="M83.1 663.3H123.7" stroke="#f00" stroke-width="2.3"/>
<circle cx="103.3" cy="663.3" r="4.3" fill="#f00" stroke="none"/>
<text x="127.6" y="647.7" font-size="16.4">Fe</text>
<text x="127.6" y="668.8" font-size="16.4">Ni</text>
</g>
<g><circle cx="234.6" cy="634.1" r="4.8" fill="url(#gG)"/><circle cx="222.4" cy="675.3" r="4.8" fill="url(#gG)"/><circle cx="246.8" cy="675.3" r="4.8" fill="url(#gG)"/><circle cx="224.8" cy="634" r="4.8" fill="url(#gG)"/><circle cx="244.4" cy="634" r="4.8" fill="url(#gG)"/><circle cx="218.5" cy="644.2" r="4.8" fill="url(#gG)"/><circle cx="250.7" cy="644.2" r="4.8" fill="url(#gG)"/><circle cx="240.8" cy="682.3" r="4.8" fill="url(#gG)"/><circle cx="228.4" cy="682.3" r="4.8" fill="url(#gG)"/><circle cx="216.4" cy="682" r="4.8" fill="url(#gG)"/><circle cx="252.8" cy="682" r="4.8" fill="url(#gG)"/><circle cx="216.6" cy="670.2" r="4" fill="url(#gP)"/><circle cx="252.6" cy="670.2" r="4" fill="url(#gP)"/><circle cx="208.5" cy="644.4" r="4.8" fill="url(#gG)"/><circle cx="260.7" cy="644.4" r="4.8" fill="url(#gG)"/><circle cx="224.7" cy="639.4" r="4" fill="url(#gP)"/><circle cx="244.5" cy="639.4" r="4" fill="url(#gP)"/><circle cx="224.6" cy="627.5" r="4.8" fill="url(#gG)"/><circle cx="244.6" cy="627.5" r="4.8" fill="url(#gG)"/><circle cx="202.6" cy="654.9" r="4.8" fill="url(#gG)"/><circle cx="266.6" cy="654.9" r="4.8" fill="url(#gG)"/><circle cx="206.5" cy="675.7" r="4.8" fill="url(#gG)"/><circle cx="262.7" cy="675.7" r="4.8" fill="url(#gG)"/><circle cx="218.4" cy="649.7" r="4" fill="url(#gP)"/><circle cx="250.8" cy="649.7" r="4" fill="url(#gP)"/><circle cx="212.5" cy="660.2" r="4" fill="url(#gP)"/><circle cx="256.7" cy="660.2" r="4" fill="url(#gP)"/><circle cx="234.6" cy="621.3" r="4.8" fill="url(#gG)"/><circle cx="234.6" cy="689" r="4.8" fill="url(#gG)"/><circle cx="199" cy="644.8" r="4.8" fill="url(#gG)"/><circle cx="270.2" cy="644.8" r="4.8" fill="url(#gG)"/><circle cx="222.4" cy="677.1" r="4" fill="url(#gP)"/><circle cx="246.8" cy="677.1" r="4" fill="url(#gP)"/><circle cx="202.3" cy="665.6" r="4.8" fill="url(#gG)"/><circle cx="266.9" cy="665.6" r="4.8" fill="url(#gG)"/><circle cx="244.6" cy="633" r="4" fill="url(#gP)"/><circle cx="224.6" cy="633" r="4" fill="url(#gP)"/><circle cx="244.6" cy="621.3" r="4.8" fill="url(#gG)"/><circle cx="224.6" cy="621.3" r="4.8" fill="url(#gG)"/><circle cx="195.8" cy="634.9" r="4.8" fill="url(#gG)"/><circle cx="273.4" cy="634.9" r="4.8" fill="url(#gG)"/><circle cx="198.5" cy="655.3" r="4.8" fill="url(#gG)"/><circle cx="270.7" cy="655.3" r="4.8" fill="url(#gG)"/><circle cx="218.6" cy="655.3" r="4" fill="url(#gP)"/><circle cx="250.6" cy="655.3" r="4" fill="url(#gP)"/><circle cx="202.6" cy="676.1" r="4.8" fill="url(#gG)"/><circle cx="266.6" cy="676.1" r="4.8" fill="url(#gG)"/><circle cx="234.6" cy="638.5" r="4" fill="url(#gP)"/><circle cx="234.6" cy="626.9" r="4" fill="url(#gP)"/><circle cx="240.7" cy="695.2" r="4.8" fill="url(#gG)"/><circle cx="228.5" cy="695.2" r="4.8" fill="url(#gG)"/><circle cx="234.6" cy="615.4" r="4.8" fill="url(#gG)"/><circle cx="228.5" cy="683.8" r="4" fill="url(#gP)"/><circle cx="240.7" cy="683.8" r="4" fill="url(#gP)"/><circle cx="205.5" cy="640" r="4" fill="url(#gP)"/><circle cx="263.7" cy="640" r="4" fill="url(#gP)"/><circle cx="228.5" cy="672.2" r="4" fill="url(#gP)"/><circle cx="240.7" cy="672.2" r="4" fill="url(#gP)"/><circle cx="205.1" cy="628.3" r="4.8" fill="url(#gG)"/><circle cx="264.1" cy="628.3" r="4.8" fill="url(#gG)"/><circle cx="208.4" cy="660.6" r="4" fill="url(#gP)"/><circle cx="260.8" cy="660.6" r="4" fill="url(#gP)"/><circle cx="218.5" cy="689.4" r="4.8" fill="url(#gG)"/><circle cx="250.7" cy="689.4" r="4.8" fill="url(#gG)"/><circle cx="195.2" cy="645.1" r="4.8" fill="url(#gG)"/><circle cx="274" cy="645.1" r="4.8" fill="url(#gG)"/><circle cx="215.2" cy="645.2" r="4" fill="url(#gP)"/><circle cx="254" cy="645.2" r="4" fill="url(#gP)"/><circle cx="218.4" cy="677.7" r="4" fill="url(#gP)"/><circle cx="250.8" cy="677.7" r="4" fill="url(#gP)"/><circle cx="214.9" cy="633.4" r="4" fill="url(#gP)"/><circle cx="254.3" cy="633.4" r="4" fill="url(#gP)"/><circle cx="198.5" cy="665.9" r="4.8" fill="url(#gG)"/><circle cx="270.7" cy="665.9" r="4.8" fill="url(#gG)"/><circle cx="214.8" cy="621.7" r="4.8" fill="url(#gG)"/><circle cx="254.4" cy="621.7" r="4.8" fill="url(#gG)"/><circle cx="205" cy="650.3" r="4" fill="url(#gP)"/><circle cx="264.2" cy="650.3" r="4" fill="url(#gP)"/><circle cx="208.5" cy="683" r="4.8" fill="url(#gG)"/><circle cx="260.7" cy="683" r="4.8" fill="url(#gG)"/><circle cx="224.7" cy="638.7" r="4" fill="url(#gP)"/><circle cx="244.5" cy="638.7" r="4" fill="url(#gP)"/><circle cx="208.8" cy="671.1" r="4" fill="url(#gP)"/><circle cx="260.4" cy="671.1" r="4" fill="url(#gP)"/><circle cx="224.7" cy="627.1" r="4" fill="url(#gP)"/><circle cx="244.5" cy="627.1" r="4" fill="url(#gP)"/><circle cx="224.8" cy="615.6" r="4.8" fill="url(#gG)"/><circle cx="244.4" cy="615.6" r="4.8" fill="url(#gG)"/><circle cx="234.6" cy="701.2" r="4.8" fill="url(#gG)"/><circle cx="199" cy="634.9" r="4.8" fill="url(#gG)"/><circle cx="270.2" cy="634.9" r="4.8" fill="url(#gG)"/><circle cx="195" cy="655.6" r="4.8" fill="url(#gG)"/><circle cx="214.8" cy="655.6" r="4" fill="url(#gP)"/><circle cx="254.4" cy="655.6" r="4" fill="url(#gP)"/><circle cx="274.2" cy="655.6" r="4.8" fill="url(#gG)"/><circle cx="234.6" cy="644.2" r="4" fill="url(#gP)"/><circle cx="199" cy="676.3" r="4.8" fill="url(#gG)"/><circle cx="270.2" cy="676.3" r="4.8" fill="url(#gG)"/><circle cx="234.6" cy="632.8" r="4" fill="url(#gP)"/><circle cx="234.6" cy="610" r="4.8" fill="url(#gG)"/><circle cx="224.8" cy="695.6" r="4.8" fill="url(#gG)"/><circle cx="244.4" cy="695.6" r="4.8" fill="url(#gG)"/><circle cx="208.8" cy="640.1" r="4" fill="url(#gP)"/><circle cx="260.4" cy="640.1" r="4" fill="url(#gP)"/><circle cx="224.7" cy="672.5" r="4" fill="url(#gP)"/><circle cx="244.5" cy="672.5" r="4" fill="url(#gP)"/><circle cx="208.5" cy="628.2" r="4.8" fill="url(#gG)"/><circle cx="260.7" cy="628.2" r="4.8" fill="url(#gG)"/><circle cx="224.9" cy="660.8" r="4" fill="url(#gP)"/><circle cx="244.3" cy="660.8" r="4" fill="url(#gP)"/><circle cx="205" cy="660.9" r="4" fill="url(#gP)"/><circle cx="264.2" cy="660.9" r="4" fill="url(#gP)"/><circle cx="214.8" cy="689.5" r="4.8" fill="url(#gG)"/><circle cx="254.4" cy="689.5" r="4.8" fill="url(#gG)"/><circle cx="218.6" cy="645.3" r="4" fill="url(#gP)"/><circle cx="250.6" cy="645.3" r="4" fill="url(#gP)"/><circle cx="198.5" cy="645.3" r="4.8" fill="url(#gG)"/><circle cx="270.7" cy="645.3" r="4.8" fill="url(#gG)"/><circle cx="250.8" cy="633.5" r="4" fill="url(#gP)"/><circle cx="218.4" cy="633.5" r="4" fill="url(#gP)"/><circle cx="215.2" cy="666" r="4" fill="url(#gP)"/><circle cx="254" cy="666" r="4" fill="url(#gP)"/><circle cx="195.2" cy="666.1" r="4.8" fill="url(#gG)"/><circle cx="274" cy="666.1" r="4.8" fill="url(#gG)"/><circle cx="218.5" cy="621.8" r="4.8" fill="url(#gG)"/><circle cx="250.7" cy="621.8" r="4.8" fill="url(#gG)"/><circle cx="240.6" cy="650.7" r="4" fill="url(#gP)"/><circle cx="228.6" cy="650.7" r="4" fill="url(#gP)"/><circle cx="208.4" cy="650.6" r="4" fill="url(#gP)"/><circle cx="260.8" cy="650.6" r="4" fill="url(#gP)"/><circle cx="205.1" cy="682.9" r="4.8" fill="url(#gG)"/><circle cx="264.1" cy="682.9" r="4.8" fill="url(#gG)"/><circle cx="228.5" cy="639" r="4" fill="url(#gP)"/><circle cx="240.7" cy="639" r="4" fill="url(#gP)"/><circle cx="205.5" cy="671.2" r="4" fill="url(#gP)"/><circle cx="263.7" cy="671.2" r="4" fill="url(#gP)"/><circle cx="228.5" cy="627.4" r="4" fill="url(#gP)"/><circle cx="240.7" cy="627.4" r="4" fill="url(#gP)"/><circle cx="234.6" cy="695.8" r="4.8" fill="url(#gG)"/><circle cx="240.7" cy="616" r="4.8" fill="url(#gG)"/><circle cx="228.5" cy="616" r="4.8" fill="url(#gG)"/><circle cx="234.6" cy="672.7" r="4" fill="url(#gP)"/><circle cx="234.6" cy="661" r="4" fill="url(#gP)"/><circle cx="202.6" cy="635.1" r="4.8" fill="url(#gG)"/><circle cx="266.6" cy="635.1" r="4.8" fill="url(#gG)"/><circle cx="218.6" cy="655.9" r="4" fill="url(#gP)"/><circle cx="250.6" cy="655.9" r="4" fill="url(#gP)"/><circle cx="198.5" cy="655.9" r="4.8" fill="url(#gG)"/><circle cx="270.7" cy="655.9" r="4.8" fill="url(#gG)"/><circle cx="195.8" cy="676.3" r="4.8" fill="url(#gG)"/><circle cx="273.4" cy="676.3" r="4.8" fill="url(#gG)"/><circle cx="244.6" cy="689.9" r="4.8" fill="url(#gG)"/><circle cx="224.6" cy="689.9" r="4.8" fill="url(#gG)"/><circle cx="244.5" cy="666.4" r="4" fill="url(#gP)"/><circle cx="224.7" cy="666.4" r="4" fill="url(#gP)"/><circle cx="212.5" cy="640.4" r="4" fill="url(#gP)"/><circle cx="256.7" cy="640.4" r="4" fill="url(#gP)"/><circle cx="212.3" cy="628.5" r="4.8" fill="url(#gG)"/><circle cx="256.9" cy="628.5" r="4.8" fill="url(#gG)"/><circle cx="208.8" cy="661.2" r="4" fill="url(#gP)"/><circle cx="260.4" cy="661.2" r="4" fill="url(#gP)"/><circle cx="214.7" cy="683.5" r="4.8" fill="url(#gG)"/><circle cx="254.5" cy="683.5" r="4.8" fill="url(#gG)"/><circle cx="214.9" cy="671.6" r="4" fill="url(#gP)"/><circle cx="254.3" cy="671.6" r="4" fill="url(#gP)"/><circle cx="246.6" cy="645.9" r="4" fill="url(#gP)"/><circle cx="222.6" cy="645.9" r="4" fill="url(#gP)"/><circle cx="234.6" cy="645.7" r="4" fill="url(#gP)"/><circle cx="202.3" cy="645.6" r="4.8" fill="url(#gG)"/><circle cx="266.9" cy="645.6" r="4.8" fill="url(#gG)"/><circle cx="222.4" cy="634.1" r="4" fill="url(#gP)"/><circle cx="246.8" cy="634.1" r="4" fill="url(#gP)"/><circle cx="234.6" cy="633.8" r="4" fill="url(#gP)"/><circle cx="199" cy="666.4" r="4.8" fill="url(#gG)"/><circle cx="270.2" cy="666.4" r="4.8" fill="url(#gG)"/><circle cx="222.4" cy="622.4" r="4.8" fill="url(#gG)"/><circle cx="246.8" cy="622.4" r="4.8" fill="url(#gG)"/><circle cx="234.6" cy="622.2" r="4.8" fill="url(#gG)"/><circle cx="240.7" cy="656.1" r="4" fill="url(#gP)"/><circle cx="228.5" cy="656.1" r="4" fill="url(#gP)"/><circle cx="205.1" cy="676.8" r="4.8" fill="url(#gG)"/><circle cx="264.1" cy="676.8" r="4.8" fill="url(#gG)"/><circle cx="234.6" cy="689.9" r="4.8" fill="url(#gG)"/><circle cx="234.6" cy="666.4" r="4" fill="url(#gP)"/><circle cx="212.5" cy="651" r="4" fill="url(#gP)"/><circle cx="256.7" cy="651" r="4" fill="url(#gP)"/><circle cx="250.8" cy="661.5" r="4" fill="url(#gP)"/><circle cx="218.4" cy="661.5" r="4" fill="url(#gP)"/><circle cx="206.5" cy="635.5" r="4.8" fill="url(#gG)"/><circle cx="262.7" cy="635.5" r="4.8" fill="url(#gG)"/><circle cx="202.6" cy="656.3" r="4.8" fill="url(#gG)"/><circle cx="266.6" cy="656.3" r="4.8" fill="url(#gG)"/><circle cx="224.6" cy="683.7" r="4.8" fill="url(#gG)"/><circle cx="244.6" cy="683.7" r="4.8" fill="url(#gG)"/><circle cx="244.5" cy="671.8" r="4" fill="url(#gP)"/><circle cx="224.7" cy="671.8" r="4" fill="url(#gP)"/><circle cx="208.5" cy="666.8" r="4.8" fill="url(#gG)"/><circle cx="260.7" cy="666.8" r="4.8" fill="url(#gG)"/><circle cx="216.6" cy="641" r="4" fill="url(#gP)"/><circle cx="252.6" cy="641" r="4" fill="url(#gP)"/><circle cx="228.5" cy="640.7" r="4" fill="url(#gP)"/><circle cx="240.7" cy="640.7" r="4" fill="url(#gP)"/><circle cx="216.4" cy="629.2" r="4.8" fill="url(#gG)"/><circle cx="252.8" cy="629.2" r="4.8" fill="url(#gG)"/><circle cx="240.8" cy="628.9" r="4.8" fill="url(#gG)"/><circle cx="228.4" cy="628.9" r="4.8" fill="url(#gG)"/><circle cx="254.4" cy="677.2" r="4.8" fill="url(#gG)"/><circle cx="214.8" cy="677.2" r="4.8" fill="url(#gG)"/><circle cx="222.4" cy="651.2" r="4" fill="url(#gP)"/><circle cx="246.8" cy="651.2" r="4" fill="url(#gP)"/><circle cx="234.6" cy="651.1" r="4" fill="url(#gP)"/><circle cx="262.7" cy="646.1" r="4.8" fill="url(#gG)"/><circle cx="206.5" cy="646.1" r="4.8" fill="url(#gG)"/><circle cx="228.5" cy="661.6" r="4" fill="url(#gP)"/><circle cx="240.7" cy="661.6" r="4" fill="url(#gP)"/><circle cx="234.6" cy="671.7" r="4" fill="url(#gP)"/><circle cx="234.6" cy="683.6" r="4.8" fill="url(#gG)"/><circle cx="212.3" cy="656.5" r="4.8" fill="url(#gG)"/><circle cx="256.9" cy="656.5" r="4.8" fill="url(#gG)"/><circle cx="218.5" cy="667" r="4.8" fill="url(#gG)"/><circle cx="250.7" cy="667" r="4.8" fill="url(#gG)"/><circle cx="210.6" cy="636.1" r="4.8" fill="url(#gG)"/><circle cx="258.6" cy="636.1" r="4.8" fill="url(#gG)"/><circle cx="224.8" cy="677.2" r="4.8" fill="url(#gG)"/><circle cx="244.4" cy="677.2" r="4.8" fill="url(#gG)"/><circle cx="222.4" cy="635.9" r="4.8" fill="url(#gG)"/><circle cx="246.8" cy="635.9" r="4.8" fill="url(#gG)"/><circle cx="234.6" cy="635.7" r="4.8" fill="url(#gG)"/><circle cx="252.8" cy="646.3" r="4.8" fill="url(#gG)"/><circle cx="216.4" cy="646.3" r="4.8" fill="url(#gG)"/><circle cx="240.8" cy="646.1" r="4.8" fill="url(#gG)"/><circle cx="228.4" cy="646.1" r="4.8" fill="url(#gG)"/><circle cx="246.8" cy="656.7" r="4.8" fill="url(#gG)"/><circle cx="222.4" cy="656.7" r="4.8" fill="url(#gG)"/><circle cx="234.6" cy="656.7" r="4.8" fill="url(#gG)"/><circle cx="228.5" cy="667.1" r="4.8" fill="url(#gG)"/><circle cx="240.7" cy="667.1" r="4.8" fill="url(#gG)"/><circle cx="234.6" cy="677.1" r="4.8" fill="url(#gG)"/></g>
<g font-family="Liberation Sans, Arial, Helvetica, sans-serif" font-weight="bold" fill="#000" stroke="#000" stroke-width=".25">
<text x="286.8" y="622" font-size="16.0">Ih-Fe<tspan font-size="10.2" dy="7.9">254</tspan><tspan dy="-7.9">Ni</tspan><tspan font-size="10.2" dy="7.9">55</tspan></text>
<path d="M286.7 642.9H326.3" stroke="#000" stroke-width="2.3"/>
<rect x="302.8" y="638.8" width="8.2" height="8.2" stroke="none"/>
<path d="M286.7 664H326.3" stroke="#f00" stroke-width="2.3"/>
<circle cx="306.9" cy="664" r="4.3" fill="#f00" stroke="none"/>
<text x="330.5" y="648.4" font-size="16.4">Fe</text>
<text x="330.5" y="669.3" font-size="16.4">Ni</text>
</g>
<g><circle cx="431.1" cy="634.3" r="4.8" fill="url(#gG)"/><circle cx="450.9" cy="634.3" r="4.8" fill="url(#gG)"/><circle cx="447.2" cy="682.8" r="4.8" fill="url(#gG)"/><circle cx="434.8" cy="682.8" r="4.8" fill="url(#gG)"/><circle cx="422.7" cy="682.5" r="4.8" fill="url(#gG)"/><circle cx="459.3" cy="682.5" r="4.8" fill="url(#gG)"/><circle cx="422.9" cy="670.7" r="4.8" fill="url(#gG)"/><circle cx="459.1" cy="670.7" r="4.8" fill="url(#gG)"/><circle cx="451" cy="627.8" r="4.8" fill="url(#gG)"/><circle cx="408.8" cy="655.3" r="4.8" fill="url(#gG)"/><circle cx="412.8" cy="676.2" r="4.8" fill="url(#gG)"/><circle cx="469.2" cy="676.2" r="4.8" fill="url(#gG)"/><circle cx="424.8" cy="650.1" r="4.8" fill="url(#gG)"/><circle cx="463.2" cy="660.6" r="4.8" fill="url(#gG)"/><circle cx="441" cy="689.6" r="4.8" fill="url(#gG)"/><circle cx="405.2" cy="645.1" r="4.8" fill="url(#gG)"/><circle cx="476.8" cy="645.1" r="4.8" fill="url(#gG)"/><circle cx="441" cy="677.9" r="4.8" fill="url(#gG)"/><circle cx="408.6" cy="666" r="4.8" fill="url(#gG)"/><circle cx="473.4" cy="666" r="4.8" fill="url(#gG)"/><circle cx="451" cy="633.3" r="4.8" fill="url(#gG)"/><circle cx="431" cy="633.3" r="4.8" fill="url(#gG)"/><circle cx="451" cy="621.5" r="4.8" fill="url(#gG)"/><circle cx="431" cy="621.5" r="4.8" fill="url(#gG)"/><circle cx="402" cy="635.2" r="4.8" fill="url(#gG)"/><circle cx="480" cy="635.2" r="4.8" fill="url(#gG)"/><circle cx="404.8" cy="655.7" r="4.8" fill="url(#gG)"/><circle cx="477.2" cy="655.7" r="4.8" fill="url(#gG)"/><circle cx="441" cy="627.2" r="4.8" fill="url(#gG)"/><circle cx="447.1" cy="695.8" r="4.8" fill="url(#gG)"/><circle cx="434.9" cy="695.8" r="4.8" fill="url(#gG)"/><circle cx="441" cy="615.7" r="4.8" fill="url(#gG)"/><circle cx="434.9" cy="684.3" r="4" fill="url(#gP)"/><circle cx="447.1" cy="684.3" r="4.8" fill="url(#gG)"/><circle cx="411.8" cy="640.4" r="4.8" fill="url(#gG)"/><circle cx="470.2" cy="640.4" r="4.8" fill="url(#gG)"/><circle cx="434.9" cy="672.7" r="4.8" fill="url(#gG)"/><circle cx="447.1" cy="672.7" r="4.8" fill="url(#gG)"/><circle cx="411.3" cy="628.5" r="4.8" fill="url(#gG)"/><circle cx="470.7" cy="628.5" r="4.8" fill="url(#gG)"/><circle cx="414.7" cy="661" r="4.8" fill="url(#gG)"/><circle cx="424.8" cy="689.9" r="4.8" fill="url(#gG)"/><circle cx="457.2" cy="689.9" r="4.8" fill="url(#gG)"/><circle cx="401.5" cy="645.4" r="4.8" fill="url(#gG)"/><circle cx="480.5" cy="645.4" r="4.8" fill="url(#gG)"/><circle cx="421.5" cy="645.6" r="4" fill="url(#gP)"/><circle cx="460.5" cy="645.6" r="4" fill="url(#gP)"/><circle cx="424.8" cy="678.2" r="4.8" fill="url(#gG)"/><circle cx="457.2" cy="678.2" r="4.8" fill="url(#gG)"/><circle cx="404.8" cy="666.4" r="4.8" fill="url(#gG)"/><circle cx="477.2" cy="666.4" r="4.8" fill="url(#gG)"/><circle cx="421.1" cy="622" r="4.8" fill="url(#gG)"/><circle cx="460.9" cy="622" r="4.8" fill="url(#gG)"/><circle cx="411.2" cy="650.7" r="4" fill="url(#gP)"/><circle cx="470.8" cy="650.7" r="4.8" fill="url(#gG)"/><circle cx="414.8" cy="683.5" r="4.8" fill="url(#gG)"/><circle cx="467.2" cy="683.5" r="4.8" fill="url(#gG)"/><circle cx="431.1" cy="639" r="4" fill="url(#gP)"/><circle cx="450.9" cy="639" r="4.8" fill="url(#gG)"/><circle cx="415" cy="671.6" r="4.8" fill="url(#gG)"/><circle cx="467" cy="671.6" r="4" fill="url(#gP)"/><circle cx="431.1" cy="627.4" r="4" fill="url(#gP)"/><circle cx="450.9" cy="627.4" r="4" fill="url(#gP)"/><circle cx="431.1" cy="615.9" r="4.8" fill="url(#gG)"/><circle cx="450.9" cy="615.9" r="4.8" fill="url(#gG)"/><circle cx="441" cy="701.8" r="4.8" fill="url(#gG)"/><circle cx="405.2" cy="635.2" r="4.8" fill="url(#gG)"/><circle cx="476.8" cy="635.2" r="4.8" fill="url(#gG)"/><circle cx="401.2" cy="656" r="4.8" fill="url(#gG)"/><circle cx="421.1" cy="656" r="4.8" fill="url(#gG)"/><circle cx="480.8" cy="656" r="4.8" fill="url(#gG)"/><circle cx="441" cy="644.6" r="4.8" fill="url(#gG)"/><circle cx="405.2" cy="676.8" r="4.8" fill="url(#gG)"/><circle cx="476.8" cy="676.8" r="4.8" fill="url(#gG)"/><circle cx="441" cy="633.1" r="4" fill="url(#gP)"/><circle cx="441" cy="621.7" r="4.8" fill="url(#gG)"/><circle cx="441" cy="610.2" r="4.8" fill="url(#gG)"/><circle cx="431.1" cy="696.1" r="4.8" fill="url(#gG)"/><circle cx="450.9" cy="696.1" r="4.8" fill="url(#gG)"/><circle cx="450.9" cy="684.6" r="4.8" fill="url(#gG)"/><circle cx="415" cy="640.4" r="4.8" fill="url(#gG)"/><circle cx="467" cy="640.4" r="4.8" fill="url(#gG)"/><circle cx="431.1" cy="673" r="4.8" fill="url(#gG)"/><circle cx="450.9" cy="673" r="4.8" fill="url(#gG)"/><circle cx="414.8" cy="628.5" r="4.8" fill="url(#gG)"/><circle cx="467.2" cy="628.5" r="4.8" fill="url(#gG)"/><circle cx="431.3" cy="661.2" r="4.8" fill="url(#gG)"/><circle cx="450.7" cy="661.2" r="4" fill="url(#gP)"/><circle cx="411.2" cy="661.3" r="4.8" fill="url(#gG)"/><circle cx="470.8" cy="661.3" r="4" fill="url(#gP)"/><circle cx="421.1" cy="690" r="4.8" fill="url(#gG)"/><circle cx="460.9" cy="690" r="4.8" fill="url(#gG)"/><circle cx="404.8" cy="645.6" r="4.8" fill="url(#gG)"/><circle cx="477.2" cy="645.6" r="4.8" fill="url(#gG)"/><circle cx="421.2" cy="678.3" r="4.8" fill="url(#gG)"/><circle cx="457.2" cy="633.8" r="4.8" fill="url(#gG)"/><circle cx="424.8" cy="633.8" r="4.8" fill="url(#gG)"/><circle cx="421.5" cy="666.4" r="4" fill="url(#gP)"/><circle cx="460.5" cy="666.4" r="4" fill="url(#gP)"/><circle cx="401.5" cy="666.6" r="4.8" fill="url(#gG)"/><circle cx="480.5" cy="666.6" r="4.8" fill="url(#gG)"/><circle cx="424.8" cy="622.1" r="4.8" fill="url(#gG)"/><circle cx="457.2" cy="622.1" r="4.8" fill="url(#gG)"/><circle cx="447" cy="651.1" r="4" fill="url(#gP)"/><circle cx="435" cy="651.1" r="4" fill="url(#gP)"/><circle cx="414.7" cy="651" r="4.8" fill="url(#gG)"/><circle cx="467.3" cy="651" r="4.8" fill="url(#gG)"/><circle cx="411.3" cy="683.5" r="4.8" fill="url(#gG)"/><circle cx="470.7" cy="683.5" r="4.8" fill="url(#gG)"/><circle cx="434.9" cy="639.3" r="4.8" fill="url(#gG)"/><circle cx="447.1" cy="639.3" r="4" fill="url(#gP)"/><circle cx="411.8" cy="671.6" r="4.8" fill="url(#gG)"/><circle cx="470.2" cy="671.6" r="4.8" fill="url(#gG)"/><circle cx="434.9" cy="627.7" r="4.8" fill="url(#gG)"/><circle cx="447.1" cy="627.7" r="4.8" fill="url(#gG)"/><circle cx="441" cy="696.3" r="4.8" fill="url(#gG)"/><circle cx="447.1" cy="616.2" r="4.8" fill="url(#gG)"/><circle cx="434.9" cy="616.2" r="4.8" fill="url(#gG)"/><circle cx="441" cy="684.8" r="4.8" fill="url(#gG)"/><circle cx="441" cy="673.2" r="4.8" fill="url(#gG)"/><circle cx="441" cy="661.4" r="4.8" fill="url(#gG)"/><circle cx="408.8" cy="635.4" r="4.8" fill="url(#gG)"/><circle cx="473.2" cy="635.4" r="4.8" fill="url(#gG)"/><circle cx="424.9" cy="656.3" r="4" fill="url(#gP)"/><circle cx="457.1" cy="656.3" r="4.8" fill="url(#gG)"/><circle cx="404.8" cy="656.3" r="4.8" fill="url(#gG)"/><circle cx="477.2" cy="656.3" r="4.8" fill="url(#gG)"/><circle cx="402" cy="676.8" r="4.8" fill="url(#gG)"/><circle cx="480" cy="676.8" r="4.8" fill="url(#gG)"/><circle cx="451" cy="690.5" r="4.8" fill="url(#gG)"/><circle cx="431" cy="690.5" r="4.8" fill="url(#gG)"/><circle cx="450.9" cy="666.8" r="4.8" fill="url(#gG)"/><circle cx="431.1" cy="666.8" r="4.8" fill="url(#gG)"/><circle cx="418.8" cy="640.7" r="4.8" fill="url(#gG)"/><circle cx="463.2" cy="640.7" r="4.8" fill="url(#gG)"/><circle cx="418.6" cy="628.8" r="4.8" fill="url(#gG)"/><circle cx="463.4" cy="628.8" r="4.8" fill="url(#gG)"/><circle cx="415" cy="661.6" r="4.8" fill="url(#gG)"/><circle cx="467" cy="661.6" r="4.8" fill="url(#gG)"/><circle cx="421" cy="684" r="4.8" fill="url(#gG)"/><circle cx="461" cy="684" r="4.8" fill="url(#gG)"/><circle cx="421.2" cy="672.1" r="4.8" fill="url(#gG)"/><circle cx="460.8" cy="672.1" r="4.8" fill="url(#gG)"/><circle cx="453" cy="646.2" r="4.8" fill="url(#gG)"/><circle cx="429" cy="646.2" r="4.8" fill="url(#gG)"/><circle cx="441" cy="646" r="4" fill="url(#gP)"/><circle cx="408.6" cy="646" r="4.8" fill="url(#gG)"/><circle cx="473.4" cy="646" r="4.8" fill="url(#gG)"/><circle cx="428.7" cy="634.4" r="4.8" fill="url(#gG)"/><circle cx="453.3" cy="634.4" r="4.8" fill="url(#gG)"/><circle cx="441" cy="634.1" r="4.8" fill="url(#gG)"/><circle cx="405.2" cy="666.9" r="4.8" fill="url(#gG)"/><circle cx="476.8" cy="666.9" r="4.8" fill="url(#gG)"/><circle cx="428.7" cy="622.7" r="4.8" fill="url(#gG)"/><circle cx="453.3" cy="622.7" r="4.8" fill="url(#gG)"/><circle cx="441" cy="622.4" r="4.8" fill="url(#gG)"/><circle cx="447.1" cy="656.5" r="4.8" fill="url(#gG)"/><circle cx="434.9" cy="656.5" r="4.8" fill="url(#gG)"/><circle cx="411.3" cy="677.3" r="4.8" fill="url(#gG)"/><circle cx="470.7" cy="677.3" r="4.8" fill="url(#gG)"/><circle cx="441" cy="690.4" r="4.8" fill="url(#gG)"/><circle cx="441" cy="666.8" r="4" fill="url(#gP)"/><circle cx="418.8" cy="651.4" r="4" fill="url(#gP)"/><circle cx="463.2" cy="651.4" r="4.8" fill="url(#gG)"/><circle cx="457.2" cy="661.9" r="4.8" fill="url(#gG)"/><circle cx="424.8" cy="661.9" r="4.8" fill="url(#gG)"/><circle cx="412.8" cy="635.8" r="4.8" fill="url(#gG)"/><circle cx="469.2" cy="635.8" r="4.8" fill="url(#gG)"/><circle cx="408.8" cy="656.7" r="4.8" fill="url(#gG)"/><circle cx="473.2" cy="656.7" r="4.8" fill="url(#gG)"/><circle cx="431" cy="684.2" r="4.8" fill="url(#gG)"/><circle cx="451" cy="684.2" r="4.8" fill="url(#gG)"/><circle cx="450.9" cy="672.3" r="4" fill="url(#gP)"/><circle cx="431.1" cy="672.3" r="4.8" fill="url(#gG)"/><circle cx="414.8" cy="667.2" r="4.8" fill="url(#gG)"/><circle cx="467.2" cy="667.2" r="4.8" fill="url(#gG)"/><circle cx="422.9" cy="641.3" r="4.8" fill="url(#gG)"/><circle cx="459.1" cy="641.3" r="4.8" fill="url(#gG)"/><circle cx="434.9" cy="641.1" r="4.8" fill="url(#gG)"/><circle cx="447.1" cy="641.1" r="4.8" fill="url(#gG)"/><circle cx="422.7" cy="629.5" r="4.8" fill="url(#gG)"/><circle cx="459.3" cy="629.5" r="4.8" fill="url(#gG)"/><circle cx="447.2" cy="629.2" r="4.8" fill="url(#gG)"/><circle cx="434.8" cy="629.2" r="4.8" fill="url(#gG)"/><circle cx="460.9" cy="677.7" r="4.8" fill="url(#gG)"/><circle cx="421.1" cy="677.7" r="4.8" fill="url(#gG)"/><circle cx="428.7" cy="651.6" r="4.8" fill="url(#gG)"/><circle cx="453.3" cy="651.6" r="4.8" fill="url(#gG)"/><circle cx="441" cy="651.5" r="4.8" fill="url(#gG)"/><circle cx="469.2" cy="646.4" r="4.8" fill="url(#gG)"/><circle cx="412.8" cy="646.4" r="4.8" fill="url(#gG)"/><circle cx="434.9" cy="662" r="4.8" fill="url(#gG)"/><circle cx="447.1" cy="662" r="4.8" fill="url(#gG)"/><circle cx="441" cy="672.2" r="4.8" fill="url(#gG)"/><circle cx="441" cy="684.1" r="4.8" fill="url(#gG)"/><circle cx="418.6" cy="656.9" r="4.8" fill="url(#gG)"/><circle cx="463.4" cy="656.9" r="4.8" fill="url(#gG)"/><circle cx="424.8" cy="667.5" r="4.8" fill="url(#gG)"/><circle cx="457.2" cy="667.5" r="4.8" fill="url(#gG)"/><circle cx="416.9" cy="636.5" r="4.8" fill="url(#gG)"/><circle cx="465.1" cy="636.5" r="4.8" fill="url(#gG)"/><circle cx="431.1" cy="677.7" r="4.8" fill="url(#gG)"/><circle cx="450.9" cy="677.7" r="4.8" fill="url(#gG)"/><circle cx="428.8" cy="636.2" r="4.8" fill="url(#gG)"/><circle cx="453.2" cy="636.2" r="4.8" fill="url(#gG)"/><circle cx="441" cy="636" r="4.8" fill="url(#gG)"/><circle cx="459.3" cy="646.6" r="4.8" fill="url(#gG)"/><circle cx="422.7" cy="646.6" r="4.8" fill="url(#gG)"/><circle cx="447.2" cy="646.5" r="4.8" fill="url(#gG)"/><circle cx="434.8" cy="646.5" r="4.8" fill="url(#gG)"/><circle cx="453.3" cy="657.1" r="4.8" fill="url(#gG)"/><circle cx="428.7" cy="657.1" r="4.8" fill="url(#gG)"/><circle cx="441" cy="657.1" r="4.8" fill="url(#gG)"/><circle cx="434.9" cy="667.5" r="4.8" fill="url(#gG)"/><circle cx="447.1" cy="667.5" r="4.8" fill="url(#gG)"/><circle cx="441" cy="677.6" r="4.8" fill="url(#gG)"/></g>
</svg>
</body></html>
